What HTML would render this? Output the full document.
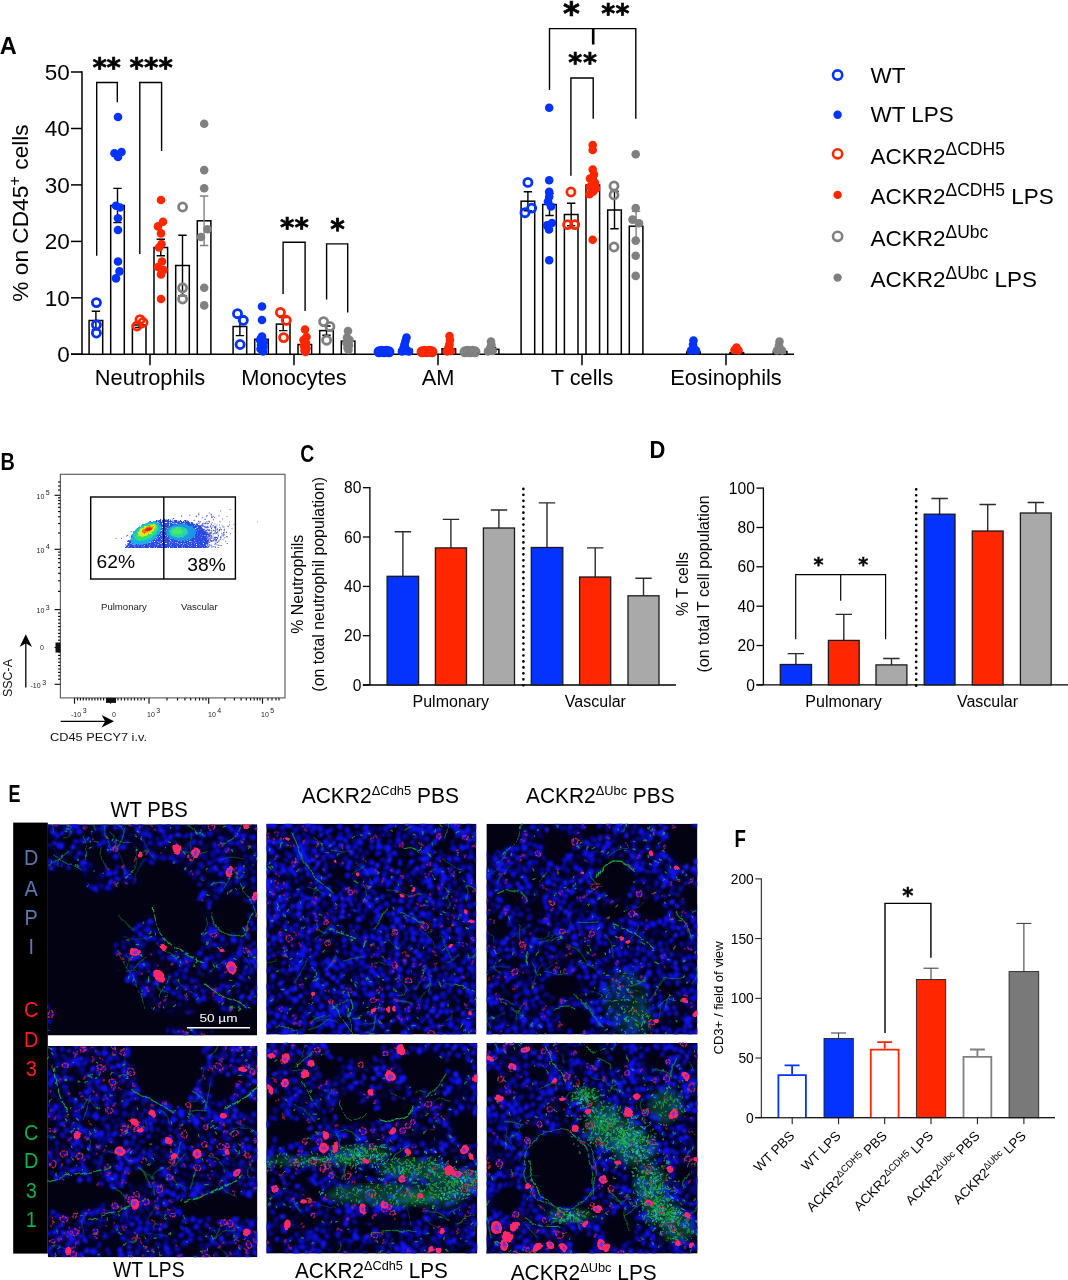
<!DOCTYPE html>
<html><head><meta charset="utf-8"><title>Figure</title>
<style>
html,body{margin:0;padding:0;background:#fff;}
svg{display:block;}
text{font-family:"Liberation Sans",Arial,Helvetica,sans-serif;}
.pl{font-weight:bold;}
.st{font-family:"DejaVu Sans Mono","Liberation Mono",monospace;font-weight:bold;}
</style></head><body>
<svg width="1068" height="1280" viewBox="0 0 1068 1280">
<rect width="1068" height="1280" fill="#fff"/>
<g id="panelA">
<text x="-0.3" y="54.3" class="pl" font-size="23.5">A</text>
<g stroke="#000" stroke-width="1.5" fill="none">
<path d="M82 71.2V354.2"/>
<path d="M71 354.2H794"/>
<path d="M71 354.2H82"/>
<path d="M71 297.8H82"/>
<path d="M71 241.4H82"/>
<path d="M71 184.9H82"/>
<path d="M71 128.5H82"/>
<path d="M71 72H82"/>
<path d="M150 354.2v11"/>
<path d="M294 354.2v11"/>
<path d="M438 354.2v11"/>
<path d="M582 354.2v11"/>
<path d="M726 354.2v11"/>
</g>
<text x="69.8" y="362.1" text-anchor="end" font-size="22.5">0</text>
<text x="69.8" y="305.7" text-anchor="end" font-size="22.5">10</text>
<text x="69.8" y="249.3" text-anchor="end" font-size="22.5">20</text>
<text x="69.8" y="192.8" text-anchor="end" font-size="22.5">30</text>
<text x="69.8" y="136.4" text-anchor="end" font-size="22.5">40</text>
<text x="69.8" y="79.9" text-anchor="end" font-size="22.5">50</text>
<text x="150" y="385.3" text-anchor="middle" font-size="21.8">Neutrophils</text>
<text x="294" y="385.3" text-anchor="middle" font-size="21.8">Monocytes</text>
<text x="438" y="385.3" text-anchor="middle" font-size="21.8">AM</text>
<text x="582" y="385.3" text-anchor="middle" font-size="21.8">T cells</text>
<text x="726" y="385.3" text-anchor="middle" font-size="21.8">Eosinophils</text>
<text transform="translate(27.8 213) rotate(-90)" text-anchor="middle" font-size="22.7">% on CD45<tspan dy="-8" font-size="16.5">+</tspan><tspan dy="8"> cells</tspan></text>
<rect x="89.1" y="320.5" width="13.6" height="33.8" fill="#fff" stroke="#000" stroke-width="1.5"/>
<path d="M95.9 311.2V329.8M91.7 311.2h8.4M91.7 329.8h8.4" stroke="#000" stroke-width="1.4" fill="none"/>
<rect x="110.7" y="205.5" width="13.6" height="148.8" fill="#fff" stroke="#000" stroke-width="1.5"/>
<path d="M117.5 188.4V222.6M113.3 188.4h8.4M113.3 222.6h8.4" stroke="#000" stroke-width="1.4" fill="none"/>
<rect x="132.4" y="325" width="13.6" height="29.2" fill="#fff" stroke="#000" stroke-width="1.5"/>
<path d="M139.2 322.5V327.5M135 322.5h8.4M135 327.5h8.4" stroke="#000" stroke-width="1.4" fill="none"/>
<rect x="154" y="247.5" width="13.6" height="106.8" fill="#fff" stroke="#000" stroke-width="1.5"/>
<path d="M160.8 239.3V255.7M156.6 239.3h8.4M156.6 255.7h8.4" stroke="#000" stroke-width="1.4" fill="none"/>
<rect x="175.7" y="265.5" width="13.6" height="88.8" fill="#fff" stroke="#000" stroke-width="1.5"/>
<path d="M182.5 235.3V295.7M178.3 235.3h8.4M178.3 295.7h8.4" stroke="#000" stroke-width="1.4" fill="none"/>
<rect x="197.3" y="220.8" width="13.6" height="133.5" fill="#fff" stroke="#000" stroke-width="1.5"/>
<path d="M204.1 196V245.5M199.9 196h8.4M199.9 245.5h8.4" stroke="#808080" stroke-width="1.4" fill="none"/>
<rect x="233.1" y="326.5" width="13.6" height="27.8" fill="#fff" stroke="#000" stroke-width="1.5"/>
<path d="M239.9 317.4V335.6M235.7 317.4h8.4M235.7 335.6h8.4" stroke="#000" stroke-width="1.4" fill="none"/>
<rect x="254.7" y="339.3" width="13.6" height="14.9" fill="#fff" stroke="#000" stroke-width="1.5"/>
<path d="M261.5 336.5V342.1M257.3 336.5h8.4M257.3 342.1h8.4" stroke="#000" stroke-width="1.4" fill="none"/>
<rect x="276.4" y="324.1" width="13.6" height="30.1" fill="#fff" stroke="#000" stroke-width="1.5"/>
<path d="M283.2 317.6V330.6M279 317.6h8.4M279 330.6h8.4" stroke="#000" stroke-width="1.4" fill="none"/>
<rect x="298" y="344.5" width="13.6" height="9.8" fill="#fff" stroke="#000" stroke-width="1.5"/>
<path d="M304.8 342.5V346.5M300.6 342.5h8.4M300.6 346.5h8.4" stroke="#000" stroke-width="1.4" fill="none"/>
<rect x="319.7" y="330.6" width="13.6" height="23.6" fill="#fff" stroke="#000" stroke-width="1.5"/>
<path d="M326.5 326V335.2M322.3 326h8.4M322.3 335.2h8.4" stroke="#000" stroke-width="1.4" fill="none"/>
<rect x="341.3" y="341.1" width="13.6" height="13.1" fill="#fff" stroke="#000" stroke-width="1.5"/>
<path d="M348.1 339V343.2M343.9 339h8.4M343.9 343.2h8.4" stroke="#000" stroke-width="1.4" fill="none"/>
<rect x="377.1" y="352.6" width="13.6" height="1.6" fill="#fff" stroke="#000" stroke-width="1.5"/>
<rect x="398.7" y="349.5" width="13.6" height="4.8" fill="#fff" stroke="#000" stroke-width="1.5"/>
<path d="M405.5 348V351M401.3 348h8.4M401.3 351h8.4" stroke="#000" stroke-width="1.4" fill="none"/>
<rect x="420.4" y="352.6" width="13.6" height="1.6" fill="#fff" stroke="#000" stroke-width="1.5"/>
<rect x="442" y="348.8" width="13.6" height="5.4" fill="#fff" stroke="#000" stroke-width="1.5"/>
<path d="M448.8 347V350.6M444.6 347h8.4M444.6 350.6h8.4" stroke="#000" stroke-width="1.4" fill="none"/>
<rect x="463.7" y="352.6" width="13.6" height="1.6" fill="#fff" stroke="#000" stroke-width="1.5"/>
<rect x="485.3" y="349.3" width="13.6" height="4.9" fill="#fff" stroke="#000" stroke-width="1.5"/>
<path d="M492.1 347.6V351M487.9 347.6h8.4M487.9 351h8.4" stroke="#000" stroke-width="1.4" fill="none"/>
<rect x="521.1" y="201.2" width="13.6" height="153" fill="#fff" stroke="#000" stroke-width="1.5"/>
<path d="M527.9 191.7V210.8M523.7 191.7h8.4M523.7 210.8h8.4" stroke="#000" stroke-width="1.4" fill="none"/>
<rect x="542.7" y="204.5" width="13.6" height="149.8" fill="#fff" stroke="#000" stroke-width="1.5"/>
<path d="M549.5 193.5V215.5M545.3 193.5h8.4M545.3 215.5h8.4" stroke="#000" stroke-width="1.4" fill="none"/>
<rect x="564.4" y="214.5" width="13.6" height="139.8" fill="#fff" stroke="#000" stroke-width="1.5"/>
<path d="M571.2 203.2V225.8M567 203.2h8.4M567 225.8h8.4" stroke="#000" stroke-width="1.4" fill="none"/>
<rect x="586" y="185" width="13.6" height="169.2" fill="#fff" stroke="#000" stroke-width="1.5"/>
<path d="M592.8 179V191M588.6 179h8.4M588.6 191h8.4" stroke="#000" stroke-width="1.4" fill="none"/>
<rect x="607.7" y="210" width="13.6" height="144.2" fill="#fff" stroke="#000" stroke-width="1.5"/>
<path d="M614.5 191.3V228.7M610.3 191.3h8.4M610.3 228.7h8.4" stroke="#000" stroke-width="1.4" fill="none"/>
<rect x="629.3" y="226.2" width="13.6" height="128" fill="#fff" stroke="#000" stroke-width="1.5"/>
<path d="M636.1 211.4V241.1M631.9 211.4h8.4M631.9 241.1h8.4" stroke="#808080" stroke-width="1.4" fill="none"/>
<rect x="686.7" y="352" width="13.6" height="2.2" fill="#fff" stroke="#000" stroke-width="1.5"/>
<rect x="730" y="352.6" width="13.6" height="1.6" fill="#fff" stroke="#000" stroke-width="1.5"/>
<rect x="773.3" y="351.5" width="13.6" height="2.8" fill="#fff" stroke="#000" stroke-width="1.5"/>
<circle cx="96.4" cy="302.6" r="4.05" fill="none" stroke="#0433ff" stroke-width="2.8"/>
<circle cx="96.4" cy="324.8" r="4.05" fill="none" stroke="#0433ff" stroke-width="2.8"/>
<circle cx="96.4" cy="333" r="4.05" fill="none" stroke="#0433ff" stroke-width="2.8"/>
<circle cx="118" cy="117" r="4.3" fill="#0433ff"/>
<circle cx="114.5" cy="153.3" r="4.3" fill="#0433ff"/>
<circle cx="121.5" cy="152" r="4.3" fill="#0433ff"/>
<circle cx="118" cy="157" r="4.3" fill="#0433ff"/>
<circle cx="116" cy="205.8" r="4.3" fill="#0433ff"/>
<circle cx="120" cy="207.5" r="4.3" fill="#0433ff"/>
<circle cx="118" cy="218.2" r="4.3" fill="#0433ff"/>
<circle cx="118" cy="230" r="4.3" fill="#0433ff"/>
<circle cx="118" cy="261.5" r="4.3" fill="#0433ff"/>
<circle cx="119.5" cy="271.4" r="4.3" fill="#0433ff"/>
<circle cx="116" cy="278.4" r="4.3" fill="#0433ff"/>
<circle cx="137" cy="326" r="4.05" fill="none" stroke="#ff2600" stroke-width="2.8"/>
<circle cx="140" cy="319.7" r="4.05" fill="none" stroke="#ff2600" stroke-width="2.8"/>
<circle cx="143" cy="322.5" r="4.05" fill="none" stroke="#ff2600" stroke-width="2.8"/>
<circle cx="161" cy="200" r="4.3" fill="#ff2600"/>
<circle cx="163" cy="221.7" r="4.3" fill="#ff2600"/>
<circle cx="158" cy="226.4" r="4.3" fill="#ff2600"/>
<circle cx="161" cy="233.4" r="4.3" fill="#ff2600"/>
<circle cx="161.5" cy="244" r="4.3" fill="#ff2600"/>
<circle cx="159" cy="247.5" r="4.3" fill="#ff2600"/>
<circle cx="162" cy="261.5" r="4.3" fill="#ff2600"/>
<circle cx="158" cy="267" r="4.3" fill="#ff2600"/>
<circle cx="163.5" cy="270" r="4.3" fill="#ff2600"/>
<circle cx="161" cy="274.4" r="4.3" fill="#ff2600"/>
<circle cx="161" cy="299" r="4.3" fill="#ff2600"/>
<circle cx="182.6" cy="207" r="4.05" fill="none" stroke="#808080" stroke-width="2.8"/>
<circle cx="182.6" cy="287.8" r="4.05" fill="none" stroke="#808080" stroke-width="2.8"/>
<circle cx="182.6" cy="299" r="4.05" fill="none" stroke="#808080" stroke-width="2.8"/>
<circle cx="204.2" cy="123.7" r="4.3" fill="#808080"/>
<circle cx="204.2" cy="170.1" r="4.3" fill="#808080"/>
<circle cx="204.2" cy="188.2" r="4.3" fill="#808080"/>
<circle cx="207.5" cy="229.2" r="4.3" fill="#808080"/>
<circle cx="201" cy="237" r="4.3" fill="#808080"/>
<circle cx="204.2" cy="287.8" r="4.3" fill="#808080"/>
<circle cx="204.2" cy="305.4" r="4.3" fill="#808080"/>
<circle cx="237.5" cy="313.7" r="4.05" fill="none" stroke="#0433ff" stroke-width="2.8"/>
<circle cx="243.3" cy="320.3" r="4.05" fill="none" stroke="#0433ff" stroke-width="2.8"/>
<circle cx="240.1" cy="344.5" r="4.05" fill="none" stroke="#0433ff" stroke-width="2.8"/>
<circle cx="262" cy="306.5" r="4.3" fill="#0433ff"/>
<circle cx="262" cy="320" r="4.3" fill="#0433ff"/>
<circle cx="262" cy="336.5" r="4.3" fill="#0433ff"/>
<circle cx="260" cy="340" r="4.3" fill="#0433ff"/>
<circle cx="264" cy="342" r="4.3" fill="#0433ff"/>
<circle cx="261" cy="345" r="4.3" fill="#0433ff"/>
<circle cx="263.5" cy="347" r="4.3" fill="#0433ff"/>
<circle cx="260.5" cy="349" r="4.3" fill="#0433ff"/>
<circle cx="263" cy="351.5" r="4.3" fill="#0433ff"/>
<circle cx="262" cy="338.5" r="4.3" fill="#0433ff"/>
<circle cx="280.4" cy="312.4" r="4.05" fill="none" stroke="#ff2600" stroke-width="2.8"/>
<circle cx="286.3" cy="320.3" r="4.05" fill="none" stroke="#ff2600" stroke-width="2.8"/>
<circle cx="283.6" cy="337.6" r="4.05" fill="none" stroke="#ff2600" stroke-width="2.8"/>
<circle cx="305" cy="329.5" r="4.3" fill="#ff2600"/>
<circle cx="306.5" cy="337" r="4.3" fill="#ff2600"/>
<circle cx="303.5" cy="340" r="4.3" fill="#ff2600"/>
<circle cx="306" cy="343" r="4.3" fill="#ff2600"/>
<circle cx="304" cy="346" r="4.3" fill="#ff2600"/>
<circle cx="306.5" cy="348.5" r="4.3" fill="#ff2600"/>
<circle cx="304.5" cy="350.5" r="4.3" fill="#ff2600"/>
<circle cx="305.5" cy="352" r="4.3" fill="#ff2600"/>
<circle cx="323.6" cy="321.6" r="4.05" fill="none" stroke="#808080" stroke-width="2.8"/>
<circle cx="329.9" cy="326.5" r="4.05" fill="none" stroke="#808080" stroke-width="2.8"/>
<circle cx="326.6" cy="340.2" r="4.05" fill="none" stroke="#808080" stroke-width="2.8"/>
<circle cx="348" cy="331" r="4.3" fill="#808080"/>
<circle cx="347" cy="337.5" r="4.3" fill="#808080"/>
<circle cx="349.5" cy="340" r="4.3" fill="#808080"/>
<circle cx="346.5" cy="343" r="4.3" fill="#808080"/>
<circle cx="349" cy="345.5" r="4.3" fill="#808080"/>
<circle cx="347.5" cy="348" r="4.3" fill="#808080"/>
<circle cx="348.5" cy="350" r="4.3" fill="#808080"/>
<circle cx="379" cy="351.8" r="4.05" fill="none" stroke="#0433ff" stroke-width="2.8"/>
<circle cx="381.5" cy="351.3" r="4.05" fill="none" stroke="#0433ff" stroke-width="2.8"/>
<circle cx="384" cy="351.8" r="4.05" fill="none" stroke="#0433ff" stroke-width="2.8"/>
<circle cx="386.5" cy="351.2" r="4.05" fill="none" stroke="#0433ff" stroke-width="2.8"/>
<circle cx="389" cy="351.8" r="4.05" fill="none" stroke="#0433ff" stroke-width="2.8"/>
<circle cx="406.5" cy="337.5" r="4.3" fill="#0433ff"/>
<circle cx="405.5" cy="341" r="4.3" fill="#0433ff"/>
<circle cx="404.5" cy="344.5" r="4.3" fill="#0433ff"/>
<circle cx="403.5" cy="348" r="4.3" fill="#0433ff"/>
<circle cx="402" cy="351.5" r="4.3" fill="#0433ff"/>
<circle cx="406" cy="351" r="4.3" fill="#0433ff"/>
<circle cx="409" cy="351.5" r="4.3" fill="#0433ff"/>
<circle cx="405" cy="347" r="4.3" fill="#0433ff"/>
<circle cx="422" cy="351.8" r="4.05" fill="none" stroke="#ff2600" stroke-width="2.8"/>
<circle cx="424.5" cy="351.3" r="4.05" fill="none" stroke="#ff2600" stroke-width="2.8"/>
<circle cx="427" cy="351.8" r="4.05" fill="none" stroke="#ff2600" stroke-width="2.8"/>
<circle cx="429.5" cy="351.2" r="4.05" fill="none" stroke="#ff2600" stroke-width="2.8"/>
<circle cx="432" cy="351.8" r="4.05" fill="none" stroke="#ff2600" stroke-width="2.8"/>
<circle cx="449.5" cy="336" r="4.3" fill="#ff2600"/>
<circle cx="450" cy="340" r="4.3" fill="#ff2600"/>
<circle cx="449.5" cy="344" r="4.3" fill="#ff2600"/>
<circle cx="448.5" cy="348" r="4.3" fill="#ff2600"/>
<circle cx="447" cy="351.5" r="4.3" fill="#ff2600"/>
<circle cx="451" cy="351" r="4.3" fill="#ff2600"/>
<circle cx="449" cy="346" r="4.3" fill="#ff2600"/>
<circle cx="465" cy="351.8" r="4.05" fill="none" stroke="#808080" stroke-width="2.8"/>
<circle cx="467.5" cy="351.3" r="4.05" fill="none" stroke="#808080" stroke-width="2.8"/>
<circle cx="470" cy="351.8" r="4.05" fill="none" stroke="#808080" stroke-width="2.8"/>
<circle cx="472.5" cy="351.2" r="4.05" fill="none" stroke="#808080" stroke-width="2.8"/>
<circle cx="475" cy="351.8" r="4.05" fill="none" stroke="#808080" stroke-width="2.8"/>
<circle cx="491" cy="341.5" r="4.3" fill="#808080"/>
<circle cx="491.5" cy="345" r="4.3" fill="#808080"/>
<circle cx="490" cy="348.5" r="4.3" fill="#808080"/>
<circle cx="488" cy="351.5" r="4.3" fill="#808080"/>
<circle cx="492.5" cy="351" r="4.3" fill="#808080"/>
<circle cx="491" cy="347" r="4.3" fill="#808080"/>
<circle cx="527.9" cy="182.4" r="4.05" fill="none" stroke="#0433ff" stroke-width="2.8"/>
<circle cx="531.7" cy="208.1" r="4.05" fill="none" stroke="#0433ff" stroke-width="2.8"/>
<circle cx="525" cy="212.7" r="4.05" fill="none" stroke="#0433ff" stroke-width="2.8"/>
<circle cx="549.2" cy="107.7" r="4.3" fill="#0433ff"/>
<circle cx="549.2" cy="180.3" r="4.3" fill="#0433ff"/>
<circle cx="549.2" cy="191.7" r="4.3" fill="#0433ff"/>
<circle cx="549.2" cy="196.7" r="4.3" fill="#0433ff"/>
<circle cx="548" cy="201.6" r="4.3" fill="#0433ff"/>
<circle cx="551" cy="206.5" r="4.3" fill="#0433ff"/>
<circle cx="547" cy="225.4" r="4.3" fill="#0433ff"/>
<circle cx="552" cy="223" r="4.3" fill="#0433ff"/>
<circle cx="549" cy="229.5" r="4.3" fill="#0433ff"/>
<circle cx="549.2" cy="260.2" r="4.3" fill="#0433ff"/>
<circle cx="570.9" cy="192" r="4.05" fill="none" stroke="#ff2600" stroke-width="2.8"/>
<circle cx="567.6" cy="224.6" r="4.05" fill="none" stroke="#ff2600" stroke-width="2.8"/>
<circle cx="574.7" cy="224.6" r="4.05" fill="none" stroke="#ff2600" stroke-width="2.8"/>
<circle cx="592.7" cy="145" r="4.3" fill="#ff2600"/>
<circle cx="592.7" cy="150" r="4.3" fill="#ff2600"/>
<circle cx="592.7" cy="169.6" r="4.3" fill="#ff2600"/>
<circle cx="594" cy="174.5" r="4.3" fill="#ff2600"/>
<circle cx="590" cy="178.6" r="4.3" fill="#ff2600"/>
<circle cx="595" cy="182.7" r="4.3" fill="#ff2600"/>
<circle cx="590" cy="186.8" r="4.3" fill="#ff2600"/>
<circle cx="596" cy="188.5" r="4.3" fill="#ff2600"/>
<circle cx="589.5" cy="194.2" r="4.3" fill="#ff2600"/>
<circle cx="593" cy="191.7" r="4.3" fill="#ff2600"/>
<circle cx="592.7" cy="239.7" r="4.3" fill="#ff2600"/>
<circle cx="614" cy="186" r="4.05" fill="none" stroke="#808080" stroke-width="2.8"/>
<circle cx="614" cy="195" r="4.05" fill="none" stroke="#808080" stroke-width="2.8"/>
<circle cx="614" cy="247" r="4.05" fill="none" stroke="#808080" stroke-width="2.8"/>
<circle cx="635.7" cy="154.3" r="4.3" fill="#808080"/>
<circle cx="635.7" cy="208.1" r="4.3" fill="#808080"/>
<circle cx="632.5" cy="219.6" r="4.3" fill="#808080"/>
<circle cx="639" cy="223.2" r="4.3" fill="#808080"/>
<circle cx="635.7" cy="240.6" r="4.3" fill="#808080"/>
<circle cx="635.7" cy="255.7" r="4.3" fill="#808080"/>
<circle cx="635.7" cy="275.9" r="4.3" fill="#808080"/>
<circle cx="693.5" cy="340.5" r="4.3" fill="#0433ff"/>
<circle cx="693" cy="344.5" r="4.3" fill="#0433ff"/>
<circle cx="691" cy="350.5" r="4.3" fill="#0433ff"/>
<circle cx="696" cy="350.5" r="4.3" fill="#0433ff"/>
<circle cx="693.5" cy="347.5" r="4.3" fill="#0433ff"/>
<circle cx="734.5" cy="350" r="4.3" fill="#ff2600"/>
<circle cx="738.5" cy="350.5" r="4.3" fill="#ff2600"/>
<circle cx="736.5" cy="347.5" r="4.3" fill="#ff2600"/>
<circle cx="779.5" cy="341.5" r="4.3" fill="#808080"/>
<circle cx="779" cy="345.5" r="4.3" fill="#808080"/>
<circle cx="777" cy="350.5" r="4.3" fill="#808080"/>
<circle cx="782" cy="350.5" r="4.3" fill="#808080"/>
<circle cx="779.5" cy="348" r="4.3" fill="#808080"/>
<g stroke="#000" stroke-width="1.4" fill="none">
<path d="M96.7 255.7V82.5H117.3V102.2"/>
<path d="M139.8 254V82.5H161.6V151"/>
<path d="M283.1 294V242.3H305.1V311"/>
<path d="M326.6 299.5V243.9H347.7V312.5"/>
<path d="M549.5 90V28.6H635.8V118.75"/>
<path d="M570.9 175.75V78H593.2V118.75"/>
<path d="M593.2 28.6V44.5" stroke-width="2.6"/>
</g>
<text x="91.5" y="76.9" class="st" font-size="27.2" stroke="#000" stroke-width="0.7">*</text>
<text x="105.6" y="76.9" class="st" font-size="27.2" stroke="#000" stroke-width="0.7">*</text>
<text x="128.5" y="76.9" class="st" font-size="27.2" stroke="#000" stroke-width="0.7">*</text>
<text x="143" y="76.9" class="st" font-size="27.2" stroke="#000" stroke-width="0.7">*</text>
<text x="157.5" y="76.9" class="st" font-size="27.2" stroke="#000" stroke-width="0.7">*</text>
<text x="279" y="236.7" class="st" font-size="27.2" stroke="#000" stroke-width="0.7">*</text>
<text x="293.4" y="236.7" class="st" font-size="27.2" stroke="#000" stroke-width="0.7">*</text>
<text x="329.3" y="238.8" class="st" font-size="27.6" stroke="#000" stroke-width="0.7">*</text>
<text x="561.7" y="24.3" class="st" font-size="32.2" stroke="#000" stroke-width="0.7">*</text>
<text x="600.2" y="22.8" class="st" font-size="26.5" stroke="#000" stroke-width="0.7">*</text>
<text x="614.6" y="22.8" class="st" font-size="26.5" stroke="#000" stroke-width="0.7">*</text>
<text x="567.2" y="72" class="st" font-size="26.5" stroke="#000" stroke-width="0.7">*</text>
<text x="581.9" y="72" class="st" font-size="26.5" stroke="#000" stroke-width="0.7">*</text>
</g>
<g id="legend" font-size="22.5">
<circle cx="837.6" cy="75" r="4.6" fill="none" stroke="#0433ff" stroke-width="2.6"/>
<text x="870.5" y="83.1">WT</text>
<circle cx="837.6" cy="114.7" r="4.2" fill="#0433ff"/>
<text x="870.5" y="122.2">WT LPS</text>
<circle cx="837.6" cy="153.8" r="4.6" fill="none" stroke="#ff2600" stroke-width="2.6"/>
<text x="870.5" y="163.6">ACKR2<tspan dy="-8.3" font-size="17.5">ΔCDH5</tspan></text>
<circle cx="837.6" cy="194.9" r="4.2" fill="#ff2600"/>
<text x="870.5" y="204.3">ACKR2<tspan dy="-8.3" font-size="17.5">ΔCDH5</tspan><tspan dy="8.3"> LPS</tspan></text>
<circle cx="837.6" cy="236.3" r="4.6" fill="none" stroke="#808080" stroke-width="2.6"/>
<text x="870.5" y="246">ACKR2<tspan dy="-8.3" font-size="17.5">ΔUbc</tspan></text>
<circle cx="837.6" cy="277.6" r="4.2" fill="#808080"/>
<text x="870.5" y="287.4">ACKR2<tspan dy="-8.3" font-size="17.5">ΔUbc</tspan><tspan dy="8.3"> LPS</tspan></text>
</g>
<g id="panelB">
<text transform="translate(0.5 470) scale(0.83 1)" class="pl" font-size="23.9">B</text>
<rect x="60.4" y="474.3" width="224.6" height="223.6" fill="#fff" stroke="#555" stroke-width="1.1"/>
<g>
<clipPath id="cpB"><rect x="100" y="500" width="140" height="48"/></clipPath>
<g clip-path="url(#cpB)">
<path d="M197.4 538.8h1.1M197.7 532.6h1.1M190.7 533.4h1.1M211.1 538.2h1.1M210.4 536.9h1.1M203.9 536.4h1.1M183.3 541.4h1.1M205.1 538.7h1.1M183.1 521.9h1.1M191.1 531.5h1.1M203.1 534.7h1.1M205.2 530.2h1.1M203.1 538h1.1M193.4 547.9h1.1M205.6 544h1.1M193.8 529.5h1.1M196.6 534.2h1.1M206.3 536.9h1.1M195.5 527.8h1.1M194.8 544.2h1.1M191.9 536.8h1.1M204.3 523.8h1.1M200.5 544.8h1.1M179.9 532.6h1.1M198.9 528.9h1.1M205 534.5h1.1M185.4 541.2h1.1M206.7 542.1h1.1M214.4 537.7h1.1M201.2 525.3h1.1M206.2 530.4h1.1M195.5 525.5h1.1M190.3 531h1.1M212.9 519.8h1.1M185.4 536.8h1.1M214.4 539.3h1.1M181 516.1h1.1M203.6 529.5h1.1M188.8 542.3h1.1M211 536.2h1.1M202.5 538.3h1.1M215.9 539.6h1.1M205.2 539.1h1.1M184.3 544.6h1.1M209.6 539h1.1M180.3 530.2h1.1M208.4 521.4h1.1M198.2 542.6h1.1M186.9 547.1h1.1M205.5 533.9h1.1M203.2 539.9h1.1M201.2 543.6h1.1M193.4 531.9h1.1M210.4 535.2h1.1M191.2 542.1h1.1M214.7 531.7h1.1M186.2 534h1.1M198.5 532.8h1.1M214 527.3h1.1M212.6 525.5h1.1M192.1 539.7h1.1M211.3 541.4h1.1M203.5 536.1h1.1M201.5 539.3h1.1M198.2 537.1h1.1M205.7 535h1.1M207.6 539.2h1.1M220.1 537.4h1.1M195.7 532.2h1.1M199.9 541.9h1.1M196.6 537.9h1.1M218.4 515.8h1.1M188.8 536.8h1.1M204 536.8h1.1M195.7 539.9h1.1M202.8 531.1h1.1M224.3 537.7h1.1M194.5 534.3h1.1M197.7 534.5h1.1M172.7 531.3h1.1M210.1 526.2h1.1M199.3 542.2h1.1M208.6 546.2h1.1M183 532.3h1.1M196.6 539.7h1.1M210.9 514.9h1.1M210.9 524.1h1.1M206.8 523.8h1.1M201.8 544h1.1M198.5 536.4h1.1M208 536.1h1.1M199.1 546.5h1.1M210.5 532.8h1.1M227.5 526.4h1.1M209.1 533h1.1M201.3 540.3h1.1M202.2 539.8h1.1M184.7 523.7h1.1M206.1 527.8h1.1M189.7 524h1.1M212.7 540.6h1.1M214.7 528h1.1M200 526.4h1.1M207.7 546.9h1.1M191.1 546.7h1.1M209.9 533.7h1.1M180.3 545.5h1.1M199 530.5h1.1M204 538.1h1.1M215 527.3h1.1M211.4 546.2h1.1M214.5 533.6h1.1M192.6 542.6h1.1M201.2 535.9h1.1M214.2 533h1.1M177 532.1h1.1M181.5 541.1h1.1M203.2 530.4h1.1M199.9 541.2h1.1M200.8 544.9h1.1M199.4 542.8h1.1M214.9 547.1h1.1M193.3 541.6h1.1M181.2 526.9h1.1M180.4 543h1.1M187.7 534.9h1.1M198.1 534.8h1.1M194.1 536.8h1.1M217.9 535.3h1.1M205.3 542.5h1.1M198 525.6h1.1M194.4 543.1h1.1M183.5 530.5h1.1M210.1 540.9h1.1M200.1 541h1.1M201.7 526.2h1.1M184.4 530.2h1.1M209.2 530.8h1.1M191 529.2h1.1M184.7 534.1h1.1M188.2 537.7h1.1M176.4 537.5h1.1M193.6 520.4h1.1M207.2 532.9h1.1M177.7 528.4h1.1M202.9 531.6h1.1M207.8 540.6h1.1M206.7 537.4h1.1M213.3 539.9h1.1M204.5 519.4h1.1M209 544.8h1.1M197 531.5h1.1M219.4 521.8h1.1M204.7 547.4h1.1M206.9 548.4h1.1M205.6 541.8h1.1M190.9 534.3h1.1M202.9 541.2h1.1M199.7 533.5h1.1M189.8 532.3h1.1M208.9 535.8h1.1M191.5 528.7h1.1M226.7 543.5h1.1M206.4 515.6h1.1M206.2 538.6h1.1M216.8 538.2h1.1M199.3 538.9h1.1M180.6 542.7h1.1M203.2 529.7h1.1M213.3 546.8h1.1M193.3 537.2h1.1M201.8 532h1.1M190.3 547.3h1.1M188.1 524.9h1.1M217 542.4h1.1M218.2 541.1h1.1M191.3 537h1.1M178.4 529.4h1.1M199.4 538.9h1.1M192.7 534.1h1.1M204.6 537.8h1.1M206.4 536.6h1.1M196.8 540.9h1.1M200.5 528.8h1.1M193.7 535h1.1M198.9 536.2h1.1M200 536.3h1.1M198.7 525.6h1.1M204.2 542.9h1.1M204.3 533.6h1.1M204.5 527.8h1.1M181 535.4h1.1M190.7 540.5h1.1M189.2 515.3h1.1M189.6 546.8h1.1M196.2 524.7h1.1M192.4 538.9h1.1M205 536.3h1.1M214.8 540.3h1.1M199.8 539.5h1.1M216.5 542.3h1.1M210.2 526.9h1.1M198.5 540.5h1.1M197 543h1.1M206 541.8h1.1M197.9 547h1.1M197.8 535.7h1.1M226 532.4h1.1M208.7 542.4h1.1M200.1 526.2h1.1M201.9 537.7h1.1M211.3 540.9h1.1M200.2 541.4h1.1M205.4 536.5h1.1M200.6 533.2h1.1M206.9 527.1h1.1M193.7 535h1.1M185.4 531.7h1.1M179.9 529.9h1.1M205.7 539.2h1.1M199.5 533.3h1.1M185.8 547.9h1.1M210.9 528.4h1.1M198.1 521.4h1.1M207.8 542h1.1M181 534.6h1.1M206.3 521.8h1.1M181.7 527h1.1M193.7 524.5h1.1M200.3 536.9h1.1M206.3 540.3h1.1M215 543.7h1.1M186.9 531.2h1.1M189.4 526.9h1.1M199.2 535h1.1M204.9 523.1h1.1M187.6 534.8h1.1M198 532.7h1.1M199.4 529.3h1.1M207 537.7h1.1M199.1 530h1.1M198.3 514.6h1.1M190.2 535.3h1.1M185 536.5h1.1M201.5 524.7h1.1M197.5 532.6h1.1M204.6 539.6h1.1M199.6 528.6h1.1M198.6 534.5h1.1M207.3 537.2h1.1M192.8 524.8h1.1M196.3 529.4h1.1M188.9 534.1h1.1M195.1 535.8h1.1M205.2 531.9h1.1M223.2 532.6h1.1M211 535.9h1.1M211.2 517.2h1.1M192.5 536.9h1.1M206 548.1h1.1M212.8 540.7h1.1M209.5 538.8h1.1M198.4 538.8h1.1M189.2 543.9h1.1M189.8 536.9h1.1M221.2 533.3h1.1M200.2 543.7h1.1M200.3 528.9h1.1M202.6 539.4h1.1M207.1 529.2h1.1M217.5 547.5h1.1M200.2 537h1.1M195.7 545.6h1.1M193 540.1h1.1M195.2 529.8h1.1M207.2 545h1.1M199.9 529.9h1.1M208.1 534.6h1.1M203.1 546.4h1.1M211.3 531.1h1.1M222.8 535h1.1M207.9 530.1h1.1M199.6 521.9h1.1M217.9 545.2h1.1M187.8 523.7h1.1M183.8 543.8h1.1M195.4 534.5h1.1M196.9 534.1h1.1M189.1 535.2h1.1M185.6 534.5h1.1M203.1 538.5h1.1M197.7 528.2h1.1M201.6 531.4h1.1M215.7 540.8h1.1M198.8 531.5h1.1M193 528h1.1M196.5 537.2h1.1M205.2 539.3h1.1M221 529.7h1.1M200.1 546.3h1.1M194.8 536.3h1.1M201.5 538.1h1.1M197.6 537.7h1.1M200.5 540.8h1.1M181.1 528.4h1.1M200 527.3h1.1M189.6 539.7h1.1M193.5 539.8h1.1M207.5 537.3h1.1M205.1 534.2h1.1M185.9 534.8h1.1M204.5 531h1.1M199 540.6h1.1M191.2 539.8h1.1M218.6 530.8h1.1M201.5 533.9h1.1M215.4 537.4h1.1M209 529.8h1.1M199.8 534.9h1.1M182.2 545.8h1.1M209 521.9h1.1M207.4 534h1.1M204.5 537.7h1.1M185 533.4h1.1M214.9 530.7h1.1M189.8 524.8h1.1M187.8 537.5h1.1M216.9 538.2h1.1M202.5 547.9h1.1M193.3 539h1.1M205.5 527.4h1.1M188.3 537.2h1.1M202.5 525.2h1.1M198 530.9h1.1M204.6 534.1h1.1M199.1 532.3h1.1M210.5 545.4h1.1M196.3 541.3h1.1M192.4 535.5h1.1M207.5 546.4h1.1M196.2 534.4h1.1M202 523.8h1.1M200.2 529.9h1.1M203.7 526.5h1.1M180.2 535.3h1.1M202.6 530.9h1.1M208.9 533h1.1M193.9 538.6h1.1M184.3 529.9h1.1M199.8 541.4h1.1M198.4 537.3h1.1M193.4 537.3h1.1M216.6 529.9h1.1M223.7 530.2h1.1M200.2 536.3h1.1M210.2 525.7h1.1M179 539.5h1.1M208 539.7h1.1M226.3 536.5h1.1M202.5 542h1.1M203.7 547.5h1.1M187.6 532.2h1.1M165.6 541.1h1.1M196.3 541.9h1.1M221.5 535h1.1M197.5 531.3h1.1M191.6 530.3h1.1M206.4 535.3h1.1M200.7 533.7h1.1M209.1 538.7h1.1M198.6 540h1.1M198.5 526.4h1.1M214.6 538.5h1.1M190.4 543.1h1.1M203.4 523.3h1.1M216.1 537.5h1.1M208.9 536.5h1.1M198.5 523.4h1.1M209.7 535.2h1.1M197.1 537.6h1.1M200.8 540.1h1.1M196.3 534.7h1.1M178.6 531.8h1.1M206.8 545h1.1M196.4 534.1h1.1M215.8 532.6h1.1M207.3 547.6h1.1M200.4 544.2h1.1M192.9 536.6h1.1M199.2 535.9h1.1M211.3 547.7h1.1M194.2 538.7h1.1M189.4 538.7h1.1M205.7 532.9h1.1M205.3 523.4h1.1M207.6 523.4h1.1M193 530.8h1.1M196 541.4h1.1M200.8 532h1.1M205.4 546.9h1.1M200.1 537.7h1.1M212.4 537h1.1M187.2 545.8h1.1M180.2 534.7h1.1M204.2 542.2h1.1M206.7 533h1.1M189.5 535.8h1.1M210.3 526.8h1.1M189.7 534.8h1.1M180.6 533h1.1M195.6 538.4h1.1M193 528.4h1.1M196.1 534.6h1.1M193.4 535.1h1.1M207.5 543.9h1.1M217 529.1h1.1M195.8 516.4h1.1M219 529.6h1.1M199.7 538.9h1.1M186.4 538.5h1.1" stroke="#2838d8" stroke-width="1.1" opacity="0.85" fill="none"/>
<path d="M212.8 516.6h1.0M215.3 543.8h1.0M198.1 540.3h1.0M214.7 537.3h1.0M216.5 544.7h1.0M211.2 540.9h1.0M209.7 539.6h1.0M206.5 532h1.0M226.8 537h1.0M211.7 522.7h1.0M206.7 534.7h1.0M220.5 536.8h1.0M217.2 532.6h1.0M223.8 529.5h1.0M208.6 541h1.0M213.5 530.5h1.0M208.4 530.7h1.0M218 536.2h1.0M203.3 536.8h1.0M214.4 524h1.0M219.2 530.5h1.0M210.3 540.2h1.0M223.6 526.8h1.0M216.5 525.1h1.0M231.5 528.6h1.0M222.6 527.2h1.0M219.5 545.5h1.0M209.5 537.5h1.0M212.3 527h1.0M230.2 533.7h1.0M199.8 540.7h1.0M199.2 543.4h1.0M208.4 534.3h1.0M223.1 534.1h1.0M201.9 517.7h1.0M222.5 539.7h1.0M206.5 540.7h1.0M217 538.8h1.0M194.9 530.3h1.0M220.2 539.6h1.0M220.1 510.9h1.0M214.4 537.4h1.0M233.4 524.4h1.0M210.4 533.3h1.0M220.1 529h1.0M222.2 525.9h1.0M215.1 528.3h1.0M214.3 526.8h1.0M200.2 542.8h1.0M215.4 528h1.0M214.6 541.9h1.0M205.2 532h1.0M217.3 537.7h1.0M210.3 514h1.0M222.9 536h1.0M213.1 530.5h1.0M215.1 529.2h1.0M204.8 526.3h1.0M208.2 527.5h1.0M203.7 538.7h1.0M202.5 538.9h1.0M204.9 536.2h1.0M224 534.8h1.0M207.2 533.4h1.0M214.2 517.4h1.0M208.1 534.5h1.0M209.2 533.7h1.0M218.9 539.9h1.0M220.2 538.3h1.0M210.7 532.8h1.0M210.8 530.2h1.0M211.6 517.5h1.0M210.3 532.8h1.0M205.2 532.8h1.0M217.1 531.5h1.0M229.6 509.5h1.0M211.3 516.6h1.0M220.8 545.5h1.0M214 537.7h1.0M210.6 538h1.0M195.1 540.7h1.0M216 533.2h1.0M208.3 538.7h1.0M209.1 535h1.0M208.9 512.8h1.0M212.7 534.8h1.0M219 525.1h1.0M212.7 538.6h1.0M214.2 544.2h1.0M228.9 524.8h1.0M197.6 540.7h1.0M225.2 541.3h1.0M219.5 527.4h1.0M207.3 541h1.0M205.7 516.7h1.0M205 546.2h1.0M207.5 526.4h1.0M214.9 526.3h1.0M223.5 532.3h1.0M204.3 544.8h1.0M208.3 535h1.0M212.9 530.2h1.0M215.6 526.8h1.0M198.2 513.1h1.0M202.9 526.2h1.0M212.8 533.5h1.0M217.4 534.1h1.0M206.7 526.6h1.0M196 531.5h1.0M216.9 537.8h1.0" stroke="#3040d8" stroke-width="1.0" opacity="0.75" fill="none"/>
<path d="M138.5 537.6h1.0M147.4 534h1.0M147.5 537.9h1.0M145.4 544h1.0M134.4 538.6h1.0M131.3 537.3h1.0M157.4 540.5h1.0M141.8 540.9h1.0M151.6 537.2h1.0M145.9 526.1h1.0M136.3 543.1h1.0M151.6 532.4h1.0M132.2 539.8h1.0M132.3 536.3h1.0M150.1 528.2h1.0M146.4 547.1h1.0M140.9 533.3h1.0M147.9 544.8h1.0M148.5 542h1.0M142.3 540.3h1.0M139.6 541.1h1.0M146.2 524.9h1.0M140.2 539.5h1.0M134.6 538.8h1.0M152 545.1h1.0M145.9 537h1.0M133.3 548.4h1.0M136.5 532.3h1.0M136.4 532.5h1.0M141.9 540.1h1.0M141.1 539.3h1.0M137.4 547.7h1.0M125.1 544.9h1.0M131.1 536h1.0M138 541.1h1.0M130.3 542.4h1.0M153.2 535.4h1.0M139.2 539.3h1.0M138.9 538.3h1.0M145.5 534.4h1.0M120.9 548.3h1.0M134.8 545.3h1.0M135.6 541.4h1.0M154.2 523.1h1.0M127.1 535.4h1.0M115.7 538.4h1.0M141 533.1h1.0M121 538.3h1.0M142.6 531.3h1.0M138.1 541.3h1.0M156.3 542.4h1.0M148.6 534.3h1.0M146.6 546.7h1.0M150.4 530.2h1.0M144.4 537.5h1.0M139 535.1h1.0M128 540.9h1.0M131.3 547.9h1.0M134.5 547.4h1.0M130.2 547.5h1.0M152.8 522.6h1.0M145.4 537.9h1.0M142.1 538h1.0M144 525.6h1.0M126.2 536h1.0M133.9 537.2h1.0M143.7 537.8h1.0M138.3 534.3h1.0M139.2 544.9h1.0M146.3 535.2h1.0M141.9 547.6h1.0M137.2 544h1.0M148.3 531.6h1.0M143.3 528.6h1.0M148.6 534.7h1.0M129.4 548.4h1.0M136.6 547.7h1.0M139.5 540.2h1.0M138.1 540.8h1.0M137.6 543.9h1.0M140.7 539.1h1.0M121.6 548.5h1.0M126.2 546.2h1.0M146.8 541.6h1.0M135.9 548.3h1.0M158.5 526.9h1.0M144.3 533.1h1.0M134.3 547.4h1.0M154.6 535.9h1.0M130.7 531.7h1.0M132.9 537.3h1.0M135.2 544.6h1.0M141.8 535.2h1.0M140.9 536.5h1.0M143.8 541h1.0M145.6 530.2h1.0M132.2 548.4h1.0M144 524.6h1.0M137.5 539.6h1.0M127.1 541.5h1.0M148.8 540.6h1.0M150.1 526.6h1.0M130.4 546.8h1.0M148 535h1.0M132 547.7h1.0M147.9 537.5h1.0M137 541.7h1.0M144.6 531.6h1.0M126.4 547.7h1.0M143.8 536h1.0M145.3 531.1h1.0M138.5 536.7h1.0M149.1 543.9h1.0M143.9 546.7h1.0M147.9 537.7h1.0M153.5 529.4h1.0M136.1 532.9h1.0M147.6 543h1.0M145.4 537.9h1.0M138.9 539.8h1.0" stroke="#2838d8" stroke-width="1.0" opacity="0.8" fill="none"/>
<defs><filter id="fb" x="-20%" y="-20%" width="140%" height="140%" color-interpolation-filters="sRGB"><feTurbulence type="fractalNoise" baseFrequency="0.45" numOctaves="2" seed="4" result="t"/><feDisplacementMap in="SourceGraphic" in2="t" scale="3.2" xChannelSelector="R" yChannelSelector="G" result="d"/><feGaussianBlur in="d" stdDeviation="0.55"/></filter></defs>
<defs><filter id="fbs" x="-20%" y="-20%" width="140%" height="140%" color-interpolation-filters="sRGB"><feTurbulence type="fractalNoise" baseFrequency="0.3" numOctaves="2" seed="9" result="t"/><feDisplacementMap in="SourceGraphic" in2="t" scale="6" xChannelSelector="R" yChannelSelector="G" result="d"/><feTurbulence type="fractalNoise" baseFrequency="0.85" numOctaves="1" seed="2" result="t2"/><feColorMatrix in="t2" type="matrix" values="0 0 0 0 0  0 0 0 0 0  0 0 0 0 0  5 0 0 0 -1.3" result="a"/><feComposite in="d" in2="a" operator="in"/></filter></defs>
<path d="M124 549 L129 541 Q138 527 152 521.5 Q166 518 180 521 Q194 521 202 526 Q209 532 207 549Z" fill="#2848e6" filter="url(#fbs)"/>
<g filter="url(#fb)">
<ellipse cx="146" cy="533.5" rx="17" ry="9.5" transform="rotate(-30 146 533.5)" fill="#18b0e8"/>
<ellipse cx="146.5" cy="532" rx="13" ry="7" transform="rotate(-30 146.5 532)" fill="#30e070"/>
<ellipse cx="147" cy="530.5" rx="9.5" ry="4.6" transform="rotate(-28 147 530.5)" fill="#d8f020"/>
<ellipse cx="147.5" cy="529.7" rx="6" ry="2.6" transform="rotate(-25 147.5 529.7)" fill="#ff7010"/>
<ellipse cx="148" cy="529.3" rx="3.2" ry="1.4" transform="rotate(-25 148 529.3)" fill="#f02010"/>
<ellipse cx="181" cy="532.5" rx="15" ry="8.5" fill="#189ce8" opacity="0.95"/>
<ellipse cx="178.5" cy="532" rx="9.5" ry="5.5" fill="#28d8a0"/>
<ellipse cx="177.5" cy="531.5" rx="5.5" ry="3" fill="#48ec60"/>
</g></g>
<path d="M222 519h1M226.5 516.5h1M229 522h0.8M257 522h0.8M224 529h0.8" stroke="#4858c8" stroke-width="0.9" opacity="0.8"/>
</g>
<g stroke="#000" stroke-width="1.4" fill="none"><rect x="90.7" y="497" width="144.7" height="82"/><path d="M163.8 497V579"/></g>
<text x="96.5" y="568" font-size="18.3" textLength="38.5" lengthAdjust="spacingAndGlyphs">62%</text>
<text x="187.3" y="570.8" font-size="18.3" textLength="38.5" lengthAdjust="spacingAndGlyphs">38%</text>
<text x="101" y="610" font-size="9.6" fill="#222">Pulmonary</text>
<text x="181" y="610" font-size="9.6" fill="#222">Vascular</text>
<g stroke="#111" stroke-width="1.15" fill="none">
<path d="M54.6 495.3h5.8"/>
<path d="M54.6 549.3h5.8"/>
<path d="M54.6 609.6h5.8"/>
<path d="M54.6 647.5h5.8"/>
<path d="M54.6 684.3h5.8"/>
<path d="M58 533h2.4"/>
<path d="M58 523.5h2.4"/>
<path d="M58 516.8h2.4"/>
<path d="M58 511.6h2.4"/>
<path d="M58 507.3h2.4"/>
<path d="M58 503.7h2.4"/>
<path d="M58 500.5h2.4"/>
<path d="M58 497.8h2.4"/>
<path d="M58 591.4h2.4"/>
<path d="M58 580.8h2.4"/>
<path d="M58 573.3h2.4"/>
<path d="M58 567.5h2.4"/>
<path d="M58 562.7h2.4"/>
<path d="M58 558.6h2.4"/>
<path d="M58 555.1h2.4"/>
<path d="M58 552.1h2.4"/>
<path d="M58 482h2.4"/>
<path d="M58 486h2.4"/>
<path d="M58 490h2.4"/>
<path d="M58 613h2.4"/>
<path d="M58 616.4h2.4"/>
<path d="M58 619.8h2.4"/>
<path d="M58 623.2h2.4"/>
<path d="M58 626.6h2.4"/>
<path d="M58 630h2.4"/>
<path d="M58 633.4h2.4"/>
<path d="M58 636.8h2.4"/>
<path d="M58 640.2h2.4"/>
<path d="M58 652h2.4"/>
<path d="M58 655.4h2.4"/>
<path d="M58 658.8h2.4"/>
<path d="M58 662.2h2.4"/>
<path d="M58 665.6h2.4"/>
<path d="M58 669h2.4"/>
<path d="M58 672.4h2.4"/>
<path d="M58 675.8h2.4"/>
<path d="M58 679.2h2.4"/>
<path d="M55.5 642.5h5v10h-5z" fill="#111" stroke="none"/>
<path d="M74.5 697.9v5.8"/>
<path d="M110.5 697.9v5.8"/>
<path d="M149 697.9v5.8"/>
<path d="M208.7 697.9v5.8"/>
<path d="M262.5 697.9v5.8"/>
<path d="M167 697.9v2.6"/>
<path d="M177.5 697.9v2.6"/>
<path d="M184.9 697.9v2.6"/>
<path d="M190.7 697.9v2.6"/>
<path d="M195.5 697.9v2.6"/>
<path d="M199.5 697.9v2.6"/>
<path d="M202.9 697.9v2.6"/>
<path d="M206 697.9v2.6"/>
<path d="M224.9 697.9v2.6"/>
<path d="M234.4 697.9v2.6"/>
<path d="M241.1 697.9v2.6"/>
<path d="M246.3 697.9v2.6"/>
<path d="M250.6 697.9v2.6"/>
<path d="M254.2 697.9v2.6"/>
<path d="M257.3 697.9v2.6"/>
<path d="M260 697.9v2.6"/>
<path d="M268 697.9v2.6"/>
<path d="M272 697.9v2.6"/>
<path d="M276 697.9v2.6"/>
<path d="M279 697.9v2.6"/>
<path d="M77.5 697.9v2.6"/>
<path d="M80.4 697.9v2.6"/>
<path d="M83.3 697.9v2.6"/>
<path d="M86.2 697.9v2.6"/>
<path d="M89.1 697.9v2.6"/>
<path d="M92 697.9v2.6"/>
<path d="M94.9 697.9v2.6"/>
<path d="M97.8 697.9v2.6"/>
<path d="M100.7 697.9v2.6"/>
<path d="M103.6 697.9v2.6"/>
<path d="M118 697.9v2.6"/>
<path d="M121.3 697.9v2.6"/>
<path d="M124.6 697.9v2.6"/>
<path d="M127.9 697.9v2.6"/>
<path d="M131.2 697.9v2.6"/>
<path d="M134.5 697.9v2.6"/>
<path d="M137.8 697.9v2.6"/>
<path d="M141.1 697.9v2.6"/>
<path d="M144.4 697.9v2.6"/>
<path d="M106 697.9h10v5h-10z" fill="#111" stroke="none"/>
</g>
<g font-size="7" fill="#222">
<text x="36.5" y="498.8">10<tspan dy="-3.5" dx="1.5">5</tspan></text>
<text x="36.5" y="552.8">10<tspan dy="-3.5" dx="1.5">4</tspan></text>
<text x="36.5" y="613.1">10<tspan dy="-3.5" dx="1.5">3</tspan></text>
<text x="40" y="649.5">0</text>
<text x="30.5" y="688">-10<tspan dy="-3.5" dx="1.5">3</tspan></text>
<text x="71" y="716.5">-10<tspan dy="-3.5" dx="1.5">3</tspan></text>
<text x="112" y="716.5">0</text>
<text x="147" y="716.5">10<tspan dy="-3.5" dx="1.5">3</tspan></text>
<text x="208" y="716.5">10<tspan dy="-3.5" dx="1.5">4</tspan></text>
<text x="261" y="716.5">10<tspan dy="-3.5" dx="1.5">5</tspan></text>
</g>
<g stroke="#000" stroke-width="1.3" fill="#000"><path d="M25.8 687.6V642" fill="none"/><path d="M25.8 634.3l-6.2 12.6l6.2 -3.6l6.2 3.6z" stroke="none"/>
<path d="M60.7 721.3H106" fill="none"/><path d="M114 721.3l-12.4 -6.2l3.6 6.2l-3.6 6.2z" stroke="none"/></g>
<text transform="translate(12.2 678) rotate(-90)" text-anchor="middle" font-size="12.4" fill="#111">SSC-A</text>
<text x="50" y="740.6" font-size="11.8" fill="#111" textLength="97" lengthAdjust="spacingAndGlyphs">CD45 PECY7 i.v.</text>
</g>
<g id="panelC">
<text transform="translate(300.2 462.2) scale(0.81 1)" class="pl" font-size="23.9">C</text>
<g stroke="#000" stroke-width="1.3" fill="none">
<path d="M369.9 487.1V685M362.9 685H676"/>
<path d="M362.9 685H369.9"/>
<path d="M362.9 635.7H369.9"/>
<path d="M362.9 586.4H369.9"/>
<path d="M362.9 537H369.9"/>
<path d="M362.9 487.7H369.9"/>
</g>
<text x="361.4" y="690.6" text-anchor="end" font-size="15.6">0</text>
<text x="361.4" y="641.3" text-anchor="end" font-size="15.6">20</text>
<text x="361.4" y="592" text-anchor="end" font-size="15.6">40</text>
<text x="361.4" y="542.6" text-anchor="end" font-size="15.6">60</text>
<text x="361.4" y="493.3" text-anchor="end" font-size="15.6">80</text>
<path d="M402.9 576.3V531.8M394.7 531.8h16.4" stroke="#2a2a2a" stroke-width="1.4" fill="none"/>
<rect x="387.1" y="576.3" width="31.5" height="108.7" fill="#0433ff" stroke="#1a1a1a" stroke-width="1.3"/>
<path d="M450.9 547.9V519.4M442.8 519.4h16.4" stroke="#2a2a2a" stroke-width="1.4" fill="none"/>
<rect x="435.4" y="547.9" width="31.1" height="137.1" fill="#ff2600" stroke="#1a1a1a" stroke-width="1.3"/>
<path d="M498.9 528V510M490.8 510h16.4" stroke="#2a2a2a" stroke-width="1.4" fill="none"/>
<rect x="483.4" y="528" width="31.1" height="157" fill="#a9a9a9" stroke="#1a1a1a" stroke-width="1.3"/>
<path d="M547 547.5V502.9M538.8 502.9h16.4" stroke="#2a2a2a" stroke-width="1.4" fill="none"/>
<rect x="531.3" y="547.5" width="31.5" height="137.5" fill="#0433ff" stroke="#1a1a1a" stroke-width="1.3"/>
<path d="M595.2 577V547.9M587 547.9h16.4" stroke="#2a2a2a" stroke-width="1.4" fill="none"/>
<rect x="579.6" y="577" width="31.1" height="108" fill="#ff2600" stroke="#1a1a1a" stroke-width="1.3"/>
<path d="M643.5 595.8V578.2M635.3 578.2h16.4" stroke="#2a2a2a" stroke-width="1.4" fill="none"/>
<rect x="628" y="595.8" width="31" height="89.2" fill="#a9a9a9" stroke="#1a1a1a" stroke-width="1.3"/>
<path d="M523.4 488.9V688" stroke="#000" stroke-width="2.7" stroke-linecap="round" stroke-dasharray="0 5.95" fill="none"/>
<text x="450.8" y="707" text-anchor="middle" font-size="16">Pulmonary</text>
<text x="595.4" y="707" text-anchor="middle" font-size="16">Vascular</text>
<text transform="translate(303.3 584.3) rotate(-90)" text-anchor="middle" font-size="15.9">% Neutrophils</text>
<text transform="translate(324.3 584.3) rotate(-90)" text-anchor="middle" font-size="15.9">(on total neutrophil population)</text>
</g>
<g id="panelD">
<text transform="translate(649.4 457.7) scale(0.92 1)" class="pl" font-size="23.9">D</text>
<g stroke="#000" stroke-width="1.3" fill="none">
<path d="M763.4 487.4V684.9M756.4 684.9H1068"/>
<path d="M756.4 684.9H763.4"/>
<path d="M756.4 645.5H763.4"/>
<path d="M756.4 606.2H763.4"/>
<path d="M756.4 566.8H763.4"/>
<path d="M756.4 527.5H763.4"/>
<path d="M756.4 488.1H763.4"/>
</g>
<text x="754.9" y="690.5" text-anchor="end" font-size="15.6">0</text>
<text x="754.9" y="651.1" text-anchor="end" font-size="15.6">20</text>
<text x="754.9" y="611.8" text-anchor="end" font-size="15.6">40</text>
<text x="754.9" y="572.4" text-anchor="end" font-size="15.6">60</text>
<text x="754.9" y="533.1" text-anchor="end" font-size="15.6">80</text>
<text x="754.9" y="493.7" text-anchor="end" font-size="15.6">100</text>
<path d="M795.9 664.5V653.6M787.7 653.6h16.4" stroke="#2a2a2a" stroke-width="1.4" fill="none"/>
<rect x="780.3" y="664.5" width="31.2" height="20.4" fill="#0433ff" stroke="#1a1a1a" stroke-width="1.3"/>
<path d="M843.8 640.4V614.4M835.6 614.4h16.4" stroke="#2a2a2a" stroke-width="1.4" fill="none"/>
<rect x="828.4" y="640.4" width="30.8" height="44.5" fill="#ff2600" stroke="#1a1a1a" stroke-width="1.3"/>
<path d="M891.5 664.9V658.5M883.2 658.5h16.4" stroke="#2a2a2a" stroke-width="1.4" fill="none"/>
<rect x="876" y="664.9" width="30.9" height="20" fill="#a9a9a9" stroke="#1a1a1a" stroke-width="1.3"/>
<path d="M939.6 514.2V498.5M931.4 498.5h16.4" stroke="#2a2a2a" stroke-width="1.4" fill="none"/>
<rect x="924.2" y="514.2" width="30.8" height="170.7" fill="#0433ff" stroke="#1a1a1a" stroke-width="1.3"/>
<path d="M987.7 531V504.5M979.5 504.5h16.4" stroke="#2a2a2a" stroke-width="1.4" fill="none"/>
<rect x="972.3" y="531" width="30.8" height="153.9" fill="#ff2600" stroke="#1a1a1a" stroke-width="1.3"/>
<path d="M1035.8 513V502.5M1027.6 502.5h16.4" stroke="#2a2a2a" stroke-width="1.4" fill="none"/>
<rect x="1020.4" y="513" width="30.8" height="171.9" fill="#a9a9a9" stroke="#1a1a1a" stroke-width="1.3"/>
<path d="M916.2 489.3V687.9" stroke="#000" stroke-width="2.7" stroke-linecap="round" stroke-dasharray="0 5.95" fill="none"/>
<text x="843.6" y="706.9" text-anchor="middle" font-size="16">Pulmonary</text>
<text x="987.5" y="706.9" text-anchor="middle" font-size="16">Vascular</text>
<text transform="translate(687.5 584) rotate(-90)" text-anchor="middle" font-size="15.9">% T cells</text>
<text transform="translate(708.5 584) rotate(-90)" text-anchor="middle" font-size="15.9">(on total T cell population</text>
</g>
<path d="M795.7 639.2V574.6H885.6V639.2M840.7 574.6V600.7" stroke="#000" stroke-width="1.2" fill="none"/>
<text x="812.8" y="571" class="st" font-size="19.2" stroke="#000" stroke-width="0.4">*</text><text x="857.5" y="571" class="st" font-size="19.2" stroke="#000" stroke-width="0.4">*</text>
<g id="panelE">
<defs><filter id="blE" x="-5%" y="-5%" width="110%" height="110%"><feGaussianBlur stdDeviation="0.75"/></filter><filter id="blE2" x="-5%" y="-5%" width="110%" height="110%"><feGaussianBlur stdDeviation="3"/></filter><filter id="blG" x="-5%" y="-5%" width="110%" height="110%"><feGaussianBlur stdDeviation="0.45"/></filter><filter id="blR" x="-5%" y="-5%" width="110%" height="110%"><feGaussianBlur stdDeviation="0.7"/></filter></defs>
<text transform="translate(8.6 801.9) scale(0.75 1)" class="pl" font-size="23.9">E</text>
<rect x="13.2" y="822.6" width="34.6" height="431" fill="#000"/>
<text x="31.2" y="864.7" text-anchor="middle" font-size="22.1" fill="#5b78b4" transform="translate(31.2 0) scale(0.9 1) translate(-31.2 0)">D</text>
<text x="31.2" y="895.7" text-anchor="middle" font-size="22.1" fill="#5b78b4" transform="translate(31.2 0) scale(0.9 1) translate(-31.2 0)">A</text>
<text x="31.2" y="924.7" text-anchor="middle" font-size="22.1" fill="#5b78b4" transform="translate(31.2 0) scale(0.9 1) translate(-31.2 0)">P</text>
<text x="31.2" y="953.7" text-anchor="middle" font-size="22.1" fill="#5b78b4" transform="translate(31.2 0) scale(0.9 1) translate(-31.2 0)">I</text>
<text x="31.2" y="1016.7" text-anchor="middle" font-size="22.1" fill="#ff1a1a" transform="translate(31.2 0) scale(0.9 1) translate(-31.2 0)">C</text>
<text x="31.2" y="1046.7" text-anchor="middle" font-size="22.1" fill="#ff1a1a" transform="translate(31.2 0) scale(0.9 1) translate(-31.2 0)">D</text>
<text x="31.2" y="1075.7" text-anchor="middle" font-size="22.1" fill="#ff1a1a" transform="translate(31.2 0) scale(0.9 1) translate(-31.2 0)">3</text>
<text x="31.2" y="1139.7" text-anchor="middle" font-size="22.1" fill="#0cb050" transform="translate(31.2 0) scale(0.9 1) translate(-31.2 0)">C</text>
<text x="31.2" y="1167.7" text-anchor="middle" font-size="22.1" fill="#0cb050" transform="translate(31.2 0) scale(0.9 1) translate(-31.2 0)">D</text>
<text x="31.2" y="1197.7" text-anchor="middle" font-size="22.1" fill="#0cb050" transform="translate(31.2 0) scale(0.9 1) translate(-31.2 0)">3</text>
<text x="31.2" y="1226.7" text-anchor="middle" font-size="22.1" fill="#0cb050" transform="translate(31.2 0) scale(0.9 1) translate(-31.2 0)">1</text>
<clipPath id="ce1"><rect x="47.2" y="824.3" width="210" height="211.2"/></clipPath>
<filter id="fc1" filterUnits="userSpaceOnUse" x="39.2" y="816.3" width="226" height="227.2" color-interpolation-filters="sRGB"><feTurbulence type="fractalNoise" baseFrequency="0.13" numOctaves="2" seed="10" result="t"/><feDisplacementMap in="SourceGraphic" in2="t" scale="5" xChannelSelector="R" yChannelSelector="G" result="d"/><feTurbulence type="fractalNoise" baseFrequency="0.07" numOctaves="2" seed="6" result="t2"/><feColorMatrix in="t2" type="matrix" values="0 0 0 0 0  0 0 0 0 0  0 0 0 0 0  4.2 0 0 0 -1.3" result="a"/><feComposite in="d" in2="a" operator="in" result="c"/><feGaussianBlur in="c" stdDeviation="0.8"/></filter>
<filter id="fo1" filterUnits="userSpaceOnUse" x="39.2" y="816.3" width="226" height="227.2" color-interpolation-filters="sRGB"><feTurbulence type="fractalNoise" baseFrequency="0.07" numOctaves="2" seed="5" result="t"/><feDisplacementMap in="SourceGraphic" in2="t" scale="6" xChannelSelector="G" yChannelSelector="B" result="d"/><feGaussianBlur in="d" stdDeviation="0.75"/></filter>
<g clip-path="url(#ce1)">
<rect x="47.2" y="824.3" width="210" height="211.2" fill="#020212"/>
<g filter="url(#blE2)"><path d="M92.2 871.1h0M186.8 1010.7h0M79.4 831.6h0M231.1 1001.4h0M213.6 980.2h0M97.3 882h0M141.2 964.8h0M255.7 980.6h0M227.3 837.3h0M134.8 880.3h0M109.6 874h0M206.3 984h0M56.3 836.3h0M60.6 845.7h0M200.8 842.7h0M213.7 860.5h0M176.4 954.1h0M231.8 892h0M169.3 1011.1h0M256.8 829.3h0M222.4 976.8h0M219.6 953.8h0M187.6 1004.3h0M239.7 977.4h0M197.6 961.6h0M132.6 949.9h0M150.2 922.4h0M252.6 889.1h0M190.7 856.7h0M147.7 970.3h0M151.6 952.9h0M223.9 963.3h0M250.3 953.7h0M205.4 846.6h0M180.2 996.6h0M180.9 963h0M152.8 938.8h0M214.3 990.3h0M243.2 840.5h0M221 838.2h0M230.7 882.8h0M189.1 845.3h0M253 879.5h0M180.7 861.6h0M138.3 836.5h0M155.6 965.1h0M207.4 916.8h0M80.3 847h0M153 854.7h0M209.7 884.6h0M217.9 830h0M239.1 1001.4h0M180.7 969.6h0M191.3 872.5h0M195 876.4h0M215.2 963.3h0M147.9 989.6h0M252.8 900.3h0M102.8 829.9h0M242.2 996.9h0M96.6 828.8h0M167 841.8h0M152.2 1007h0M115.4 857.3h0M169.1 830.2h0M159.5 824.4h0M155.2 931.3h0M230.6 854.5h0M170.7 857.6h0M211.6 956.7h0M110.3 842h0M218.3 850.2h0M117.4 953.6h0M194.3 852.1h0M236.8 984.2h0M84.3 868.7h0M214.9 883.2h0M192.3 980h0M84.9 852.8h0M164 836.3h0M234.8 850.9h0M101.2 885.7h0M226.5 946.6h0M256.1 862.7h0M131.4 974.7h0M221.1 889.2h0M175.4 1029.7h0M203.6 894h0M190.4 863.4h0M215.9 896.5h0M177.7 827.8h0M249.7 997.9h0M79.6 852.4h0M179.4 986.1h0M184.6 976.6h0M215.8 868.5h0M238.6 828.7h0M124.5 830.4h0M95 888.2h0M175.3 1009.4h0M185.5 849.9h0M54.5 825.1h0M158 838.3h0M232.4 979.2h0M125 935.6h0M237.8 892.5h0M139.6 925.9h0M133.1 847.8h0M220.5 859.8h0M161.5 940.1h0M246.2 967.3h0M51.4 867.7h0M237.6 968.3h0M211.2 925.5h0M219.4 945.8h0M136.7 843.7h0M171 836.5h0M231.3 829.5h0M106.5 869.3h0M147.8 980.8h0M223.4 1008.1h0M115.4 827.4h0M144.1 994h0M70.9 826.3h0M222.5 854.6h0M235.9 958.7h0M90.7 884.8h0M194.8 867.1h0M256.2 916.9h0M158.3 856.1h0M225.4 971.9h0M226.5 867.8h0M109.6 849.3h0M56.3 862.4h0M210.9 994.5h0M218.6 968h0M251.9 971.4h0M255.2 966.4h0M178.8 991.4h0M132.8 865.4h0M152.8 974.1h0M222.9 883.2h0M242.8 835h0M257.1 995.8h0M108.6 887.5h0M246.3 950.1h0M143.9 833.5h0M104.5 835.5h0M59.8 825h0" stroke="#0a0a80" stroke-width="12" stroke-linecap="round" opacity="0.2" fill="none"/></g>
<g filter="url(#fc1)" fill="none" stroke-linecap="round">
<path d="M62 865.1h0M195.2 826.3h0M61 856.1h0M231.1 1001.4h0M162.7 851.2h0M246.9 987.6h0M176.7 854.6h0M240.1 932.3h0M128.8 942.2h0M243.7 894.5h0M171.7 964.2h0M239.7 863.7h0M158.6 974.9h0M202.9 947.7h0M164.7 998.9h0M213.7 860.5h0M231.8 892h0M154 989.4h0M250 979.2h0M210.4 893.8h0M246.3 862.4h0M190.7 856.7h0M147.7 970.3h0M140.9 982.2h0M154.1 828.3h0M204.2 827.3h0M189 991.9h0M145.8 859.2h0M180.7 861.6h0M156.8 943.2h0M141.3 864.7h0M201.2 908.9h0M208.5 989.2h0M253.6 872h0M180.7 969.6h0M195 876.4h0M215.2 963.3h0M199.5 849.4h0M131.7 834.6h0M125.9 882.4h0M211.8 826.9h0M169.1 830.2h0M167.3 1030.5h0M155.2 931.3h0M110.3 842h0M143.4 839.7h0M254.7 907.9h0M234.8 850.9h0M101.2 885.7h0M247.5 832.3h0M250.7 867h0M47.4 1007h0M246.5 856.2h0M234.1 946.2h0M246.2 825.9h0M179.4 986.1h0M184.6 976.6h0M78.6 865.9h0M205.3 858.1h0M158 838.3h0M210.1 972h0M244.3 980.5h0M123.8 946.7h0M145 924.1h0M237.6 968.3h0M219.4 945.8h0M155.2 999.7h0M136.7 843.7h0M106.5 869.3h0M185.3 868.1h0M222.5 854.6h0M206 852.8h0M256.2 916.9h0M65.7 860.8h0M123.5 877.4h0M226.9 887h0M225.4 971.9h0M210.9 994.5h0M51.5 1014h0M215.4 890h0M126.5 971.3h0M178.8 991.4h0M132.8 865.4h0M252.2 825.4h0M257.1 995.8h0M148.3 1003.2h0" stroke="#0808a8" stroke-width="4.6"/>
<path d="M92.2 871.1h0M195.4 987.9h0M213.6 853.9h0M120.8 836.4h0M143.6 944.6h0M244 885.2h0M93.5 838.3h0M227.3 837.3h0M200.5 855.3h0M148.2 851.5h0M81.8 840.5h0M76.7 857.8h0M49.6 861.4h0M176.4 954.1h0M219.9 989.6h0M139.3 972.4h0M169.3 1011.1h0M176.6 974.5h0M90.1 865.3h0M133.1 937.5h0M244.8 972.8h0M173.3 993h0M232.1 954.8h0M72 833.6h0M125.9 954.7h0M151.6 952.9h0M49.4 1021.3h0M215.4 997.9h0M180.2 996.6h0M164.7 967.6h0M152.8 938.8h0M237.4 843h0M189.1 845.3h0M162.1 959h0M198.2 832.5h0M245.2 960.4h0M155.6 965.1h0M80.3 847h0M161.7 990.1h0M209.7 884.6h0M217.9 830h0M209.7 833.9h0M87.2 875.8h0M166.3 1005.2h0M126.7 842.4h0M160.4 952.6h0M68.6 852.7h0M115.7 884.7h0M96.6 828.8h0M104.9 842.6h0M98.7 836h0M132.7 824.5h0M211.6 956.7h0M186.6 963.8h0M111.4 864.4h0M203 991h0M218.3 850.2h0M254.2 1002.1h0M142.6 988.9h0M52.4 849.9h0M84.3 868.7h0M168.4 824.8h0M214.9 883.2h0M179.2 1005.1h0M203.8 941.5h0M164 836.3h0M238.7 855.6h0M175.4 981.5h0M150.9 995.5h0M215.9 896.5h0M177.7 827.8h0M91.5 833.3h0M191.4 967.1h0M247.7 846.3h0M222.7 938.7h0M238.6 828.7h0M124.5 830.4h0M166.6 952h0M251.3 923.1h0M175.3 1009.4h0M54.2 855.2h0M68.2 867.4h0M240.6 941.1h0M125 935.6h0M172.6 1004.7h0M229.2 876.1h0M138.6 950.4h0M48.4 825.5h0M246.2 967.3h0M222.4 984.9h0M246.3 1005.6h0M234.9 887.1h0M181.2 846.1h0M257 987.7h0M221.2 844.4h0M223.4 1008.1h0M102 874.7h0M141.5 825.4h0M255.3 853.9h0M185 953h0M235.9 958.7h0M129.7 876.6h0M185.6 836.6h0M158.3 856.1h0M238.6 1008h0M116.2 944.8h0M75.9 841.6h0M233.8 933.9h0M56.3 862.4h0M253.5 846.8h0M215.4 936h0M218.6 968h0M135 979.2h0M152.8 974.1h0M204 935.3h0M95.7 875.9h0M151.4 862.7h0M117.3 866.6h0M108.6 887.5h0M246.3 950.1h0M201 984.9h0M158.9 1004.8h0" stroke="#0a0ccc" stroke-width="5.4"/>
<path d="M187.7 825.7h0M79.4 831.6h0M147 929.6h0M213.6 980.2h0M97.3 882h0M141.2 964.8h0M134.8 880.3h0M109.6 874h0M206.3 984h0M210.5 871.6h0M56.3 836.3h0M220.5 874h0M222.4 976.8h0M219.6 953.8h0M228.3 985.9h0M187.6 1004.3h0M175.7 959.6h0M197.6 961.6h0M169 976h0M252.6 889.1h0M167.4 988.6h0M223.9 963.3h0M148.3 827.9h0M205.4 846.6h0M209.1 863.2h0M49.2 844.2h0M243.2 840.5h0M140.6 934.1h0M199.9 865.5h0M230.7 882.8h0M163.4 857.8h0M253 879.5h0M115.8 872.2h0M138.3 836.5h0M243.4 875.6h0M153 854.7h0M191.3 872.5h0M147.9 989.6h0M254.8 929.4h0M212.4 877.5h0M174.8 861.4h0M126.3 872.3h0M99 844.3h0M167 841.8h0M199.6 953.3h0M252.8 837.1h0M115.4 857.3h0M214.2 944.5h0M214.1 845.1h0M138.3 956.2h0M159.5 824.4h0M237 880.5h0M170.7 857.6h0M131.6 966.5h0M250.6 916.6h0M230.5 841.7h0M117.4 953.6h0M204.2 998h0M116.7 879.2h0M210.1 1032.1h0M234.1 869.3h0M192.3 980h0M84.9 852.8h0M147.9 957.8h0M136.3 860.9h0M226.5 946.6h0M187 998h0M131.4 974.7h0M121.5 969.3h0M221.1 889.2h0M209.2 940.5h0M245.6 900.3h0M190.4 863.4h0M146.6 963.8h0M150.8 843.5h0M150.1 835.6h0M256.2 896h0M253.5 942.1h0M95 888.2h0M54.5 825.1h0M155.7 846.2h0M252.5 858.8h0M139.6 925.9h0M220.5 859.8h0M157.1 1009.9h0M240.6 947.7h0M76.6 825.3h0M203.2 835.1h0M184.7 987.7h0M144.4 846.5h0M255.6 952.1h0M171 836.5h0M231.3 829.5h0M186.3 958.2h0M160.9 844.1h0M116.3 848.1h0M70.9 826.3h0M221.1 1000.1h0M194.8 867.1h0M191.5 834.6h0M92.8 825h0M134.7 929.6h0M182.4 854.5h0M249.7 894.5h0M198.6 1008.2h0M251.9 971.4h0M194.3 841.7h0M194.9 1033.6h0M230.6 960.7h0M47.5 1028.6h0M242.8 835h0M245.3 870.4h0M195.5 995.6h0M143.5 952.8h0M122.4 847.3h0" stroke="#0e10ea" stroke-width="6.0"/>
<path d="M186.8 1010.7h0M109.5 832.9h0M255.7 980.6h0M252.3 992.9h0M200.8 842.7h0M91.2 846.4h0M206.5 958.5h0M110.2 882.3h0M166.8 982h0M256.8 829.3h0M73 846.6h0M239.7 977.4h0M132.6 949.9h0M84.7 826.2h0M191.7 1028.9h0M178.1 834.1h0M175.4 848.7h0M247.3 936.6h0M249.7 945.9h0M250.3 953.7h0M198.1 980.2h0M229.7 966.8h0M214.3 990.3h0M186.5 970.5h0M209 946.1h0M221 838.2h0M121 824.9h0M199.8 884.3h0M207.4 916.8h0M61.8 833.2h0M237 874.3h0M123.5 940.9h0M239.1 1001.4h0M228.6 992.4h0M245.7 929.1h0M242.2 996.9h0M152.2 1007h0M48.3 838.2h0M134.3 984.7h0M230.6 854.5h0M194.3 852.1h0M236.8 984.2h0M138.9 852h0M180.6 1030.9h0M123.8 866.9h0M175.7 842.6h0M249.7 997.9h0M79.6 852.4h0M215.9 930h0M215.8 868.5h0M209.3 908.2h0M137.9 830.3h0M230.1 1009h0M233.7 972.9h0M185.5 849.9h0M198.1 871.9h0M202.8 975.7h0M237.8 892.5h0M87.7 839.3h0M202.4 878.5h0M133.1 847.8h0M161.5 940.1h0M51.4 867.7h0M147.8 980.8h0M115.9 842.1h0M115.4 827.4h0M144.1 994h0M256.5 958.5h0M185.9 1034.1h0M255.2 966.4h0M55.5 842.2h0M149.5 943.9h0M222.9 883.2h0M104.5 835.5h0M59.8 825h0" stroke="#181aff" stroke-width="5.0"/>
<path d="M208.9 901.7h0M60.6 845.7h0M150.2 922.4h0M241.7 849h0M180.9 963h0M200.8 899.4h0M124.8 960.3h0M137.6 942.5h0M227.4 861h0M198.5 1000.9h0M132.9 958.4h0M170 957.2h0M233 940.3h0M252.8 900.3h0M102.8 829.9h0M134.9 871.3h0M156.1 983.3h0M236.3 834.4h0M251.8 961.5h0M128.2 979.4h0M105.1 824.5h0M256.1 862.7h0M168 847.9h0M226.9 850.5h0M175.4 1029.7h0M203.6 894h0M146.4 938.2h0M203.1 1034h0M192.4 1009.9h0M232.4 979.2h0M192.5 959.5h0M196.9 971.8h0M211.2 925.5h0M66 829.7h0M236.7 989.7h0M226.9 825.6h0M239.6 953.6h0M90.7 884.8h0M52.3 831.9h0M162.3 830.3h0M210.4 932.1h0M226.5 867.8h0M109.6 849.3h0M204.9 965h0M83.8 862.3h0M240 869.5h0M143.9 833.5h0" stroke="#1014f0" stroke-width="7.0"/>
</g>
<g fill="none" stroke-linecap="round" filter="url(#fo1)">
<path d="M52.7 855.1Q68.2 862.3 81.4 869.7" stroke="#18c048" stroke-width="1" opacity="0.6" stroke-dasharray="6 1 3 1.5"/>
<path d="M211 913Q215.2 934.1 229.9 936.2T246.7 929.9 253 913" stroke="#18c048" stroke-width="1.4" opacity="0.6" stroke-dasharray="4 1 2 1.5"/>
<path d="M152.2 908.8C156.4 940.5 183.7 957.4 204.7 961.6" stroke="#18c048" stroke-width="1.2" opacity="0.8" stroke-dasharray="4 3 4 1.5"/>
<path d="M116.5 951C129.1 970 143.8 993.3 143.8 1008" stroke="#18c048" stroke-width="1" opacity="0.5" stroke-dasharray="9 3 3 1.5"/>
<path d="M240.4 824.3Q240.4 839.1 221.5 843.3" stroke="#18c048" stroke-width="1.1" opacity="0.6" stroke-dasharray="5 1 5 1.5"/>
<path d="M240.4 883.4Q248.8 900.3 257.2 915.1" stroke="#18c048" stroke-width="1.1" opacity="0.5" stroke-dasharray="6 1 2 1.5"/>
<path d="M204.7 982.7Q225.7 999.6 250.9 1008" stroke="#18c048" stroke-width="1.2" opacity="0.8" stroke-dasharray="6 1 4 1.5"/>
<path d="M82.9 834.9Q89.2 845.4 85 862.3" stroke="#18c048" stroke-width="1" opacity="0.5" stroke-dasharray="9 3 3 1.5"/>
<path d="M126.5 971.3Q137.3 967.8 144.1 958.7" stroke="#1cb450" stroke-width="1.3" opacity="0.4"/>
<path d="M126.3 872.3Q121.4 862.4 119.6 851.4" stroke="#1cb450" stroke-width="1.3" opacity="0.2"/>
<path d="M251.9 971.4Q249.8 962.5 243.3 956.3" stroke="#1cb450" stroke-width="1" opacity="0.3"/>
<path d="M70.9 826.3Q71.9 835.6 63.3 839.3" stroke="#1cb450" stroke-width="1.1" opacity="0.4"/>
<path d="M191.5 834.6Q187.9 843.4 188.5 852.9" stroke="#1cb450" stroke-width="1" opacity="0.3"/>
<path d="M175.4 848.7Q185.2 852.8 195.7 854.4" stroke="#1cb450" stroke-width="1.4" opacity="0.3"/>
<path d="M257.1 995.8Q266.7 994.5 275.4 990.4" stroke="#1cb450" stroke-width="1.1" opacity="0.5"/>
<path d="M206 852.8Q200.5 852.7 196.4 856.3" stroke="#1cb450" stroke-width="1" opacity="0.4"/>
<path d="M143.4 839.7Q146.8 852.2 156.8 860.5" stroke="#1cb450" stroke-width="1.4" opacity="0.2"/>
<path d="M195.5 995.6Q185.5 987.5 174.9 980.2" stroke="#1cb450" stroke-width="0.9" opacity="0.3"/>
<path d="M124.5 830.4Q121.6 824.5 115.5 822.2" stroke="#1cb450" stroke-width="1" opacity="0.5"/>
<path d="M61 856.1Q55.5 861.4 59.5 867.8" stroke="#1cb450" stroke-width="1" opacity="0.4"/>
<path d="M148.2 851.5Q143.5 852.7 139.6 855.5" stroke="#1cb450" stroke-width="1.3" opacity="0.4"/>
<path d="M159.5 824.4Q169.1 816.3 180 809.9" stroke="#1cb450" stroke-width="1.5" opacity="0.4"/>
<path d="M234.1 869.3Q228.2 880.3 222.8 891.5" stroke="#1cb450" stroke-width="1" opacity="0.4"/>
<path d="M125.9 954.7Q131.8 964.2 138.3 973.4" stroke="#1cb450" stroke-width="1" opacity="0.3"/>
<path d="M214.9 883.2Q220.9 881.1 226.2 884.5" stroke="#1cb450" stroke-width="1.1" opacity="0.5"/>
<path d="M52.3 831.9Q53.9 821.8 45.1 816.8" stroke="#1cb450" stroke-width="1" opacity="0.4"/>
<path d="M243.4 875.6Q240 881.8 234.6 877.3" stroke="#1cb450" stroke-width="1.5" opacity="0.3"/>
<path d="M146.4 938.2Q135.9 939.4 125.7 936.5" stroke="#1cb450" stroke-width="1.4" opacity="0.2"/>
<path d="M246.3 950.1Q254.1 954.3 257.1 962.6" stroke="#1cb450" stroke-width="1.2" opacity="0.2"/>
<path d="M134.7 929.6Q123.4 925.7 117.6 915.2" stroke="#1cb450" stroke-width="1.4" opacity="0.3"/>
<path d="M68.6 852.7Q59.4 859.9 48.7 864.5" stroke="#1cb450" stroke-width="1.5" opacity="0.4"/>
<path d="M247.7 846.3Q255.6 847.9 255.6 856" stroke="#1cb450" stroke-width="0.9" opacity="0.3"/>
<path d="M204 935.3Q206.8 926.3 206.6 916.9" stroke="#1cb450" stroke-width="0.9" opacity="0.5"/>
<path d="M133.1 847.8Q136.7 859.7 132.6 871.4" stroke="#1cb450" stroke-width="1.1" opacity="0.3"/>
<path d="M237 880.5Q235 874.1 240.5 870.4" stroke="#1cb450" stroke-width="0.9" opacity="0.4"/>
<path d="M109.5 832.9Q118.7 841.7 131.4 843" stroke="#1cb450" stroke-width="1" opacity="0.5"/>
<path d="M132.7 824.5Q124.3 820.1 116.2 815.1" stroke="#1cb450" stroke-width="1.4" opacity="0.3"/>
<path d="M223.9 963.3Q216.3 964.5 211.5 970.5" stroke="#1cb450" stroke-width="1.3" opacity="0.3"/>
<path d="M105.1 824.5Q102.9 836.1 109.1 846.2" stroke="#1cb450" stroke-width="1.2" opacity="0.4"/>
<path d="M134.8 880.3Q135.2 867.5 144.6 858.7" stroke="#1cb450" stroke-width="1.5" opacity="0.2"/>
<path d="M106.5 869.3Q98.8 859.7 102 847.8" stroke="#1cb450" stroke-width="1.2" opacity="0.4"/>
<path d="M156.1 983.3Q159.1 991.9 168.1 993.3" stroke="#1cb450" stroke-width="1.2" opacity="0.3"/>
<path d="M169 976Q164 986 159.8 996.5" stroke="#1cb450" stroke-width="1" opacity="0.5"/>
<path d="M132.6 949.9Q129.2 959 126 968.3" stroke="#1cb450" stroke-width="1.3" opacity="0.3"/>
<path d="M96.6 828.8Q91.5 821 82.6 823.7" stroke="#1cb450" stroke-width="1.3" opacity="0.4"/>
<path d="M187.7 825.7Q194.3 834.1 205 834.6" stroke="#1cb450" stroke-width="1.4" opacity="0.4"/>
<path d="M220.5 859.8Q232.3 854.4 244 860" stroke="#1cb450" stroke-width="1.3" opacity="0.3"/>
<path d="M116.3 848.1Q125 839.3 125.6 827" stroke="#1cb450" stroke-width="1.3" opacity="0.5"/>
<path d="M156.8 943.2Q165 953 176.7 958.2" stroke="#1cb450" stroke-width="1" opacity="0.5"/>
<path d="M146.8 987.4l0.2 -0.2M207.1 944.5l1.1 -1.7M177.2 989.2l1.4 -1.8M116 883.7l2.1 -1.9M145.2 966.5l-0.9 -2.2M174.9 952.3l0.4 0.3M45.9 822.9l-2.3 -0.5M63.1 867l-0.6 0.2M185.7 868.7l-0.1 -1.8M145.2 956.9l1.3 -0.1M90.5 841.2l-0.4 1.1M164.3 987.4l-1.6 -0.5M165 949.9l0.7 0.8M147.7 978.9l-0.2 2.4M116.7 842.9l0.1 0.3M229.7 990.2l1.7 -1M224.2 828.1l1.7 -1M66.5 831.3l-1.5 -0.3M97.8 842.2l-2.4 -0.3M242.2 865.2l-0.5 1.3M116.2 885.1l0.3 0M61.2 822.4l-2 -1M196.8 999.8l0.4 -1.9M216.8 946.3l2 2.3M93.2 830.6l-1.6 -0.3M248.4 898.5l1.5 1.2M244.3 872.6l-1 -0.6M92.3 823.7l-1.2 -1.9M184.4 868.5l0.7 1.3M154.5 934.1l0.3 2M165.4 849.7l1.1 -0.1M103.9 825.7l-1.5 -0.3M180.4 962.6l-0.5 2.3M190.8 856.1l2 -1M108.2 840.6l-1.9 -2.1M232 980.7l-1.6 -0.4M252.5 914.3l-0.3 1.9M59.9 858.4l0.5 -1.1M174.1 860.4l-0.8 1.6M149.9 973.1l-1 0.4M174.6 952.2l-0.7 0.2M170.4 827.4l0.5 0.6M224.5 966.1l0.6 -1.3M154.5 1007.5l-1.1 2M76.2 865.3l2 -1.7M51.1 862l-0.1 -1.7M144.8 963.9l0.5 -0.1M113.9 847.2l0.8 0.1M202 878.8l2 0.7M115.1 841.9l2.4 -2.4M141.4 954.3l-1.6 0.7M168.4 841.7l2 0.8M135.6 836.6l-1.3 -0.6M138.8 833.2l-1.6 -0.9M246.1 968l-1.1 -0M166.4 996.7l0.7 -0.6M178.4 846.2l-1.8 -2.3M239.7 1008.6l-2.3 2.1M193.3 854.1l1.9 1.1M196.9 834.1l-1.1 -2M241 841.2l1 0.3M127.8 939.8l2.2 0.3M214.2 882.5l-2 1.4M133.2 956.7l0.3 0.7M149.1 932.4l-0.8 2.2M196.1 961.6l0.9 -1.1M209.3 971l1.4 -0.2M177.9 980.2l-0.7 2.2M247.6 826.4l-1.1 -2.1M237.7 875.1l-1.5 -2M214.4 965.5l-1.2 -1.7M148.7 938.4l2.1 -1M127.5 979.3l0.5 -2.2M84 841.9l-0.4 0.8M88 838.4l-0.6 -0.5M176.5 957.1l2.2 -0.9M45.5 1008.1l1.6 -0.1M256.7 828.8l2.4 -0.8M234.3 985.4l-1.9 1.3M136.6 850.8l-2.2 0.5M257.3 860.2l-0.7 -2.1M183.2 851.9l2.1 2.1M132 958.2l-0.5 -0.6M221.1 946.1l-1.2 -0M135.4 850.2l0.4 0.1M256.8 916.4l1.5 0.7M202.7 833l-2.2 -0.8M79.6 866.5l-2.2 -2.1M187.7 1035.4l0.5 1M181.8 961.1l-0.5 -2.1M231.9 890l-2 1.8M244.7 929.6l-1.9 -2M163.9 1005.1l1 1.9M78.5 859.3l-1 -1.8M228.9 893.1l-0.5 2.1M255.8 996.6l-0.6 -0.1M250.7 980.1l-1.4 -1.3M242.2 866.6l-0.6 0.3M69.9 825.8l-1.9 0.1M108.9 850.4l-0.5 -1.4M187.3 994.1l0.1 -0.6M132.4 979.9l-0.1 2.3M244.4 886.8l-1.8 1.9M140.4 836.9l1.3 2M201 830l0.3 -0.8M142.8 990l0.8 -0.2M218.1 967.4l-1 -2.2M195 963.7l0.9 1.9M248.4 848.4l2.2 -2.1M63.1 856.1l-1 -0.9M221.7 1005.1l1.6 -2.4M92 833l-0.3 -1.1M112.2 840.4l1.1 -1.6M191 1029.6l-1.4 -0.4M208 932.1l-2.1 1.9M229.4 877.1l-0.6 0.8M230.7 1009.8l-0.9 -1.4M50.6 822.8l1.4 1.9M248.3 955.3l0.4 -0.2M138.5 943.4l-2.3 0.2M203.2 933.1l-0.6 1.4M187.4 997.9l0.7 2.3M233.7 958.7l1.5 1.7M140.5 954.5l1.5 2.2M128.7 875.2l-1.8 2.1M249.5 826l2 -0.2M255.4 957.4l-2.1 -0.9M141.7 992.5l1.8 0.6M208.2 869.5l-1 1.2M193.9 853.7l-1.8 -0.1M253.1 855.4l1.7 0.2M49.1 1030.2l-0.9 -0.2M89.2 884.6l-1.8 2.2M233.7 850.8l-1.1 -1.9M233.1 1008.3l-2.1 0.4M173.5 1005.7l2.2 -1.8M92.2 847.3l-1.9 1M187.5 1031.9l-1.3 -0.9M143 923.4l0.8 -1.4M237.6 1007.4l2.1 1.9M67.6 828.8l1.9 0.2M112.1 849.4l-0.7 0.4M209.9 895.3l-2.1 -1.8M132.2 871.4l-2.3 2M103.1 874.4l0.2 -1.2M85.8 855.2l-0.1 1.2M235 887.4l1.8 2.2M154.6 971.1l-0.6 -0.3M253.7 863.9l-0.7 -0.3M140.7 854.7l-0.2 -0.6M243.7 930.8l-0.5 0.8M94.1 870.7l-0.1 1.5M180.2 852.6l-1.2 -1.7" stroke="#2ad048" stroke-width="1.2" opacity="0.66"/>
</g>
<path d="M202.3 1034.3l-0.9 1.2M201.4 1033.7l1.2 1M204.7 1034.5l-0.6 -0.3M245.8 926.7l0.9 0.4M247.1 930.3l-0.4 -0.8M247.4 929.8l1 -1.1M249.3 846.3l-0.8 -0.5M248.3 845.9l1.2 -0.1M253.4 823.5l-0.5 0.6M254 824.1l-1.3 0.2M186 996.3l-0.5 -0.7M186.2 996.4l0.9 -0.8M185.4 995.9l-0.7 -1M236.9 872.7l-1.3 0.1M237.1 876.4l0.5 1.1M255.9 916.1l0.1 0.6M256.8 915.6l0.4 0.3M256.3 914.6l0.9 -0.3M131 825.7l-1.2 -1.1M130.4 824.8l-1.2 0.9M203 900.7l-1.2 -0.8M192.7 873.8l0.1 1M191.8 870.7l-1.3 0.9M135.3 858.7l-0.6 0.9M134.9 860.2l-0.7 0.9M211.5 934.2l-1.1 0.1M139.7 826.6l0.2 1M151.2 954.9l-0.5 -1M130.6 960.1l0.1 -1.3M146.8 853.6l-1.2 1M146.7 852.2l0.6 0M93.2 838.9l-0.5 0.4M164.7 1000.3l1.1 -1.3M163.6 1001.2l0.4 -0.1M164.8 1000.2l0.9 -0.5M243.4 842.5l-0.8 -0.6M241.7 842.8l0.4 0.7M243.5 838.9l0.2 0.2M108.6 869.7l0.3 -0.6M255.9 829.5l-0.8 -1M222.3 998.1l0.4 -0.4M219.3 1002.5l-0.4 -0.7M124.1 865.4l-1.1 1M122.3 867.7l-0.6 -1M215.5 991.1l-0 0.3M214.9 989.4l1.1 -1.1M212.6 990.2l0.4 -0.4M116.9 955.2l-0.3 -0.4M117.9 954.4l0.9 -0.8M119.9 953.1l1 1.2M155.7 830.2l-1.1 -0.7M152.4 826.3l-1.3 -0.7M56.8 825.2l-0.9 0.7M54 825.1l1 -0.1M213 995.7l0.3 -0.1M213.1 993.8l1.2 -1.2M126.5 883.1l-0.9 -0.1M127 883.2l0.1 0.7M196.3 987l-0.4 -0.7M219 844.3l-0.9 1.1M222.3 846.2l1 -1.2M220.6 842.2l0.3 0.5M151.8 1008l0.2 -0.1M136.6 858.5l-1.2 -0.4M122.8 958.1l1.2 1.1M123.4 958.6l-1.2 1.2M123.7 961.6l0.9 -0M230.7 1010.4l1 -0.3M231.7 1009.3l0 -0.4M232.2 1008.8l0.1 -0.5M160.8 853.1l-0 -0.4M149 991.1l-0.6 0.6M147.6 991.1l0.7 -0.9M146.3 987.5l1.2 1.1M186.4 989.6l-1.1 0.1M186.2 1031.7l1.1 0.8M187 1033.7l1 1.1M187.1 961.4l-1.1 -0.8M187.7 961.9l-1.2 0.4M141.2 974.5l1.1 -1.1M235.7 867.5l0.7 0.6M234 870.9l0.8 -1.2M225.4 972.4l-0.8 0.1M226.6 971.7l0.5 -0.2M117.3 886.4l-0.9 -0.1M113.9 882.7l0.9 -0.9M116 884.8l-0.3 -0.9M172.5 963.9l-0.2 -0.6M173.1 964.2l-1.2 0.6M171.2 965.1l0.2 -0.7M182.8 1031.8l0.9 -0.2M182.9 1030.9l1.3 1M178.9 1031.7l-0.7 -0.3M84.3 828.6l0.9 0.5M86.9 827.5l-0.4 -0.5M83.9 827.2l-0.7 1.1M226.2 851.9l0.7 -0.8M227 851.4l-0.2 0.5M228.8 850.2l-0.4 -1.3M157.5 965.4l0.6 0.1M160.2 1003.4l0.3 -1.1M159.1 1003.8l0.2 -0.1M158.5 1005.9l1.1 1.3" stroke="#d82048" stroke-width="1.5" stroke-linecap="round" opacity="0.62" fill="none" filter="url(#blR)"/>
<g fill="none" stroke="#f02850" stroke-width="1.4" opacity="0.8" stroke-dasharray="3.5 1 2.5 0.8" filter="url(#fo1)"><circle cx="246.3" cy="950.1" r="2.8"/><circle cx="211.8" cy="826.9" r="2.9"/><circle cx="190.7" cy="856.7" r="3"/><circle cx="116.3" cy="848.1" r="2.4"/><circle cx="215.4" cy="936" r="2.3"/><circle cx="51.5" cy="1014" r="2.6"/></g>
<g filter="url(#fo1)">
<ellipse cx="177.4" cy="849" rx="4.9" ry="3.9" transform="rotate(65 177.4 849)" fill="#ff2868"/>
<ellipse cx="194.2" cy="852.8" rx="5.3" ry="4.2" transform="rotate(6 194.2 852.8)" fill="#ff2868"/>
<circle cx="194.1" cy="852.6" r="2.1" fill="#8030d0"/>
<ellipse cx="229.5" cy="871.6" rx="4.7" ry="3.9" transform="rotate(106 229.5 871.6)" fill="#ff2868"/>
<circle cx="229.7" cy="871.4" r="2.1" fill="#8030d0"/>
<ellipse cx="254.5" cy="896.1" rx="4.7" ry="3.6" transform="rotate(113 254.5 896.1)" fill="#ff2868"/>
<circle cx="254.6" cy="896.6" r="1.7" fill="#8030d0"/>
<ellipse cx="135" cy="952.1" rx="5.1" ry="3.8" transform="rotate(12 135 952.1)" fill="#ff2868"/>
<circle cx="135.4" cy="952.3" r="1.9" fill="#8030d0"/>
<ellipse cx="163.3" cy="946.4" rx="3.6" ry="3.3" transform="rotate(124 163.3 946.4)" fill="#ff2868"/>
<ellipse cx="158.3" cy="975.7" rx="6.7" ry="5" transform="rotate(75 158.3 975.7)" fill="#ff2868"/>
<ellipse cx="230.7" cy="967.5" rx="5.6" ry="4.5" transform="rotate(56 230.7 967.5)" fill="#ff2868"/>
<circle cx="231" cy="968.2" r="2.3" fill="#8030d0"/>
<ellipse cx="139.6" cy="855.1" rx="3" ry="2.5" transform="rotate(9 139.6 855.1)" fill="#ff2868"/>
<ellipse cx="221.5" cy="950" rx="3.1" ry="2.3" transform="rotate(177 221.5 950)" fill="#ff2868"/>
<ellipse cx="246.7" cy="826.4" rx="3.4" ry="3.4" transform="rotate(149 246.7 826.4)" fill="#ff2868"/>
</g>
</g>
<clipPath id="ce2"><rect x="266.3" y="823.8" width="210" height="210.6"/></clipPath>
<filter id="fc2" filterUnits="userSpaceOnUse" x="258.3" y="815.8" width="226" height="226.6" color-interpolation-filters="sRGB"><feTurbulence type="fractalNoise" baseFrequency="0.13" numOctaves="2" seed="17" result="t"/><feDisplacementMap in="SourceGraphic" in2="t" scale="5" xChannelSelector="R" yChannelSelector="G" result="d"/><feTurbulence type="fractalNoise" baseFrequency="0.07" numOctaves="2" seed="11" result="t2"/><feColorMatrix in="t2" type="matrix" values="0 0 0 0 0  0 0 0 0 0  0 0 0 0 0  4.2 0 0 0 -0.95" result="a"/><feComposite in="d" in2="a" operator="in" result="c"/><feGaussianBlur in="c" stdDeviation="0.8"/></filter>
<filter id="fo2" filterUnits="userSpaceOnUse" x="258.3" y="815.8" width="226" height="226.6" color-interpolation-filters="sRGB"><feTurbulence type="fractalNoise" baseFrequency="0.07" numOctaves="2" seed="8" result="t"/><feDisplacementMap in="SourceGraphic" in2="t" scale="6" xChannelSelector="G" yChannelSelector="B" result="d"/><feGaussianBlur in="d" stdDeviation="0.75"/></filter>
<g clip-path="url(#ce2)">
<rect x="266.3" y="823.8" width="210" height="210.6" fill="#020212"/>
<g filter="url(#blE2)"><path d="M297.4 953.5h0M377.6 954.3h0M371.5 870.6h0M423.3 914.6h0M453 997.6h0M348.4 980.3h0M463.2 1022.6h0M296.3 924.8h0M333 977.2h0M435.7 998.5h0M348.1 1000.2h0M413.7 1017.9h0M419.1 1006.4h0M450.9 1025h0M280.3 983.4h0M323.6 1013.9h0M424 960.4h0M294.5 895.1h0M411.8 842.5h0M278.1 923.2h0M314.8 891.7h0M325.9 841.7h0M271.2 860.4h0M317.8 947.1h0M283 989.2h0M399.7 976.2h0M371.8 883.4h0M327.2 960.4h0M401.8 896.2h0M351 893h0M317 984.4h0M453.8 949.2h0M424 894.4h0M470.2 906h0M309.7 884.7h0M348 846.2h0M390.4 1002.5h0M323.4 849.5h0M437 1016.2h0M269.2 991.9h0M415.1 974.8h0M443.6 876.4h0M463.3 962.2h0M413.7 959.8h0M342.8 986.9h0M414.8 933.8h0M308.6 943.4h0M318.9 876.7h0M334.8 920.6h0M393.1 926.8h0M429.2 898.4h0M443.4 994.9h0M435.1 953.5h0M268.2 902.7h0M425.8 875.5h0M269.4 951.1h0M396.1 980.8h0M391.7 951.3h0M326.1 1024.4h0M415.2 836.5h0M360 873.1h0M388.2 940.6h0M464.9 984.9h0M302.7 850.9h0M426.3 1000.4h0M325 904.2h0M273.5 870.1h0M377.3 1032.7h0M345.8 953h0M280.7 841.3h0M325.9 996.9h0M317.8 972.8h0M302.1 930h0M452.7 958.6h0M353.6 1019.7h0M473.2 984.9h0M473.2 939.8h0M448.9 930.1h0M372 943.1h0M304.1 828.7h0M373 937.1h0M422.5 882h0M325.9 915.8h0M420.5 904.2h0M438.9 837.1h0M443.5 941.7h0M400 984.4h0M298.2 975.3h0M469.9 857.3h0M461.7 847.3h0M319.7 834.7h0M342.3 965.6h0M455.1 893h0M360.2 939.9h0M314.6 827.3h0M461.8 831.7h0M386.7 978.8h0M271.7 925.4h0M445.7 897h0M368.4 888.2h0M279.2 995.8h0M369.2 832.7h0M334.9 898.5h0M321 828.3h0M277.5 1015.1h0M358.6 919.4h0M313.8 963.8h0M473.4 921.8h0M321.4 1006h0M467.1 897.2h0M286.3 974.2h0M321.1 887.3h0M443.3 1004.2h0M473.7 833.8h0M300.8 1009h0M290.1 889.1h0M454.3 899.9h0M342.2 974.8h0M301.7 935.5h0M473.7 1030.2h0M406.8 824h0M292.6 845h0M425.6 986.5h0M283 870.9h0M361.4 962.6h0M383.7 879.6h0M471.9 1015.3h0M341.4 1001.2h0M306.1 992.7h0M439.7 1034.1h0M414.2 873.7h0M417.1 1011.4h0M350 1013.4h0M474.3 893h0M407.1 989.7h0M281.2 940.6h0M381.1 968.8h0M301.5 986.3h0M271.7 996.7h0M315.4 938.8h0M334.2 990.5h0M329.1 875.2h0M341.8 862.4h0M267.7 1025.4h0M448.8 904.8h0M355.9 979.8h0M469.1 946.5h0M445.6 974.6h0M396.9 959.8h0M367.1 910.8h0M343.2 910.9h0M439.8 975.9h0M355 878.6h0M408.3 948.1h0M381.9 995.4h0M368.2 977.2h0M283.4 914.1h0M362.8 975.5h0M282.5 1024.9h0M313.6 876.4h0M433.9 1005.7h0M375.9 974.4h0M284.1 1017.4h0M276.9 833.8h0M327 864.4h0M393.1 877.9h0M324.3 879.2h0M454.9 906.8h0M407.7 920.3h0M472.6 962.2h0M301.2 944.7h0M304.8 842.8h0M464.9 837.1h0M268.2 841.1h0M374.6 893.1h0M354.9 1003.2h0M357.6 987.6h0M287.4 922.6h0M307.4 919.3h0M299.1 825.5h0M313.5 902.9h0M307.4 959.9h0M362.7 1005.8h0M371.6 955.3h0M425 967.1h0M419.9 891.2h0M364.2 956.6h0M376 879.1h0M466 920.9h0M266.7 871.5h0M340.3 960.5h0M396.9 890.1h0M267.6 915.6h0M386.7 867.5h0M395.1 853.4h0M280.4 883.2h0M351.5 852h0M410.7 913.4h0M384.7 874.1h0M465.3 885.8h0M471 852h0M433.3 901.9h0M269.1 881.5h0M357.7 927.8h0M289.6 998h0M378.2 982.2h0M333.1 940.1h0M386.9 848.1h0M322.9 1019.6h0M462.1 933.6h0M308.8 1005.1h0M463.1 863.2h0M436.7 871.6h0M295.8 849.4h0M326.2 921.2h0M468.6 1024.3h0M300.4 869.8h0M435.6 865.8h0M317.3 999.3h0M372.7 1029.9h0M402.4 1000h0M405.4 932.9h0M309.4 950.8h0M389.8 963.3h0M429.5 977.9h0M276.1 915.9h0M352.7 909.7h0M335.1 850h0M267.3 935h0M316.6 954.3h0M359.9 842.3h0M450.9 1019.5h0M329.8 1015.5h0M416.8 868.4h0M400.2 901.8h0M279.9 888.5h0M413.5 939.4h0M337.2 981.1h0M341.6 1010.3h0M376.3 899.7h0M468.6 824.6h0M427.2 1016.4h0M292.2 1007.5h0M426.1 905h0M342.5 885h0M439.7 899.5h0M416.8 847.1h0M429.7 857.3h0M340 992.8h0M458 868.5h0M437.6 945.7h0M354 973.7h0M307.3 861.2h0M453.7 923.6h0M420.2 1000.9h0M381.6 944.5h0M456.7 852h0M267.6 848.2h0M352.7 984.3h0M356.1 964.8h0M266.6 895.2h0M423.6 824.4h0M306.6 868.3h0M358.5 1023.2h0M286.5 894.5h0M460.4 916.6h0M287.3 992.6h0M441.3 950.4h0M300.5 962.9h0M331.2 916.7h0M451.2 984.9h0M473.3 928.1h0M308 925.3h0M447.1 936.6h0M312.5 989.8h0M273.8 841.9h0M430.6 872h0M474.7 977.4h0M285.4 1032.3h0M440.8 925.4h0M440 904.9h0M307.8 824.6h0M277.6 1028.5h0M462.7 893.9h0M376.6 948h0M411.3 900.9h0M371.9 970.7h0M298.3 913.4h0M335.6 1012.9h0M356.8 868.9h0M276.9 903.1h0M400 1011.9h0M298 890h0M431.2 1033.7h0M309.9 854.4h0M396.6 937.7h0M330.5 1021.4h0M354.8 993.7h0M428.4 880.5h0M376.8 1007.5h0M321.6 987.2h0" stroke="#0a0a80" stroke-width="12" stroke-linecap="round" opacity="0.2" fill="none"/></g>
<g filter="url(#fc2)" fill="none" stroke-linecap="round">
<path d="M390 956.8h0M458.4 955h0M405.5 870.3h0M285.8 859.6h0M471.7 871.8h0M410.7 1033.1h0M278.1 923.2h0M348.3 916.6h0M422.5 995.3h0M458.4 1001.7h0M409.1 996.8h0M358.6 1017.9h0M334.4 997.5h0M444.5 856.4h0M288.6 980.9h0M309.7 884.7h0M390.4 1002.5h0M269.2 991.9h0M415.1 974.8h0M356.7 862.8h0M418.9 945.2h0M354.4 1009.1h0M308.6 943.4h0M373.3 929h0M336.8 944.3h0M435.1 953.5h0M421.3 843h0M372.8 1000.9h0M269.4 951.1h0M328.4 942.8h0M403 950.9h0M364.9 879.5h0M419.1 858.6h0M360 873.1h0M383.5 834.8h0M350 926.3h0M289.8 881.6h0M345.8 953h0M421.6 972.7h0M311.9 999.6h0M381.8 988.4h0M360.5 970.2h0M271.1 981.2h0M452.7 958.6h0M473.6 845.4h0M433.9 931.8h0M359.6 996.3h0M469.8 1009.8h0M372 943.1h0M342.8 851.6h0M304.1 828.7h0M454.7 882.4h0M420.5 904.2h0M468.3 974.1h0M409.2 865.5h0M441.5 912.6h0M360.2 939.9h0M340.1 832.9h0M368.7 1004.8h0M302.7 887.5h0M390 840.8h0M275.2 969.9h0M418.1 982h0M302.2 878.4h0M404.1 888.7h0M434.3 877.5h0M302.1 979.5h0M434.7 907.8h0M428 956.7h0M289.1 1020.6h0M290.1 889.1h0M364.6 923.5h0M292.6 845h0M434.9 937.2h0M306.1 992.7h0M417.1 1011.4h0M474.3 893h0M364.5 932.1h0M381.6 890.9h0M466.7 1005.1h0M374.3 963.9h0M356.9 855.9h0M304.4 968.2h0M402.1 829.1h0M266.4 929.4h0M373.3 987.7h0M367.1 910.8h0M337.9 855h0M439.8 975.9h0M355 878.6h0M419.5 964.2h0M464.1 950.3h0M452.9 863.3h0M326.4 824.9h0M279 952.1h0M313.6 876.4h0M387 888.9h0M433.9 1005.7h0M410.3 881.5h0M276.9 833.8h0M319.9 923.8h0M461.9 878.8h0M454.9 906.8h0M307.7 848.5h0M431.5 893.1h0M366.9 852.7h0M346.1 858.6h0M317.4 1031.9h0M322.9 979.4h0M357.6 987.6h0M434.6 964.2h0M354.1 841.1h0M307.4 959.9h0M353.1 943.6h0M371.6 955.3h0M330.5 1002.5h0M317.4 1019.9h0M292.8 901.1h0M363.5 1013.2h0M458.3 1019.4h0M308.7 976.6h0M444.2 1024.4h0M308.9 913.5h0M340.3 960.5h0M379.4 829.8h0M318.1 932.4h0M273.1 987.4h0M327.9 950.9h0M266.9 835.7h0M447.5 920.9h0M471 852h0M336 887.7h0M424.2 952h0M289.6 998h0M378.2 982.2h0M286.3 852.8h0M452.7 938.1h0M474.6 867.2h0M321.8 950.5h0M352.7 909.7h0M275 944.8h0M304.6 834.5h0M371.4 1023.6h0M373.6 828.6h0M468.6 824.6h0M394.4 907.6h0M292.2 1007.5h0M466.3 996h0M342.5 885h0M439.7 899.5h0M364.8 1000.2h0M458 868.5h0M354 973.7h0M355 898.9h0M456.7 852h0M352.7 984.3h0M356.1 964.8h0M293.2 945.3h0M273.2 897.1h0M449.1 886h0M327 990h0M440.8 851.9h0M394.9 845.1h0M296.8 931.8h0M331.2 916.7h0M389.5 834.5h0M267.4 1033.7h0M326.8 1034h0M308 925.3h0M459 888.7h0M312.5 989.8h0M430.6 872h0M388.6 1024.7h0M428 919.1h0M391.3 919.8h0M376.9 991.7h0M462.7 893.9h0M376.6 948h0M355.8 885.6h0M445.8 839h0M425.2 945.4h0M359.6 904.7h0M421.6 837.5h0M290.1 958.3h0M467.3 1018.2h0M375.1 835.2h0M421.5 872.3h0M417.7 916.3h0M280.6 978.1h0" stroke="#0808a8" stroke-width="4.6"/>
<path d="M451 978.7h0M336.2 968.6h0M453 997.6h0M365 1023.4h0M397.7 1006.7h0M470.8 934.9h0M463.7 868.7h0M296.3 924.8h0M443.3 959.1h0M459.4 922.6h0M324.3 869.9h0M413.7 1017.9h0M419.1 1006.4h0M283 970h0M424 960.4h0M298.3 838h0M411.8 842.5h0M361.3 1033.3h0M314.8 891.7h0M421.4 1019.8h0M271.2 860.4h0M283 989.2h0M399.7 976.2h0M428 832h0M344.8 1014.6h0M440.4 892.4h0M438.7 859.3h0M470.2 906h0M335.8 932.3h0M430.9 1022h0M464.1 944.2h0M360.6 850.1h0M389.7 1011.2h0M404.6 852.6h0M355.4 948.5h0M267.5 1007.4h0M447.6 1034h0M347.4 1032.9h0M317.2 907.6h0M284 962.4h0M334.8 920.6h0M447.3 915.6h0M425.8 875.5h0M295.2 829.5h0M296.1 881h0M391.7 951.3h0M379 931.7h0M447.1 832.1h0M449.9 990.3h0M388.2 940.6h0M279.6 846.8h0M337.6 881.2h0M325 904.2h0M474.1 1021h0M377.3 1032.7h0M430.5 983.8h0M452.9 847.9h0M317.8 972.8h0M302.1 930h0M353.6 1019.7h0M473.2 984.9h0M322.7 963.7h0M464.4 856.9h0M422.5 882h0M291.9 953.2h0M325.9 915.8h0M336.1 1006.9h0M411.6 928.9h0M364.2 989.1h0M396.4 825.7h0M298.2 975.3h0M296.6 959.3h0M389.6 854.4h0M322.2 992.9h0M337.1 950.3h0M401.9 844.6h0M420.8 922.9h0M357.6 825.6h0M457.4 1008.3h0M291.4 929.8h0M271.7 925.4h0M309.5 1030.1h0M301.9 895.1h0M279.2 995.8h0M430.1 950.1h0M386.8 928.6h0M335.9 1020h0M363 915.8h0M286.3 974.2h0M270.2 1012.6h0M324.9 932.5h0M344.9 945.7h0M408.3 981.1h0M283.5 834h0M300.8 1009h0M311.5 832.1h0M323.5 858.5h0M454.3 899.9h0M393.9 900h0M283.2 865.6h0M467.8 929.1h0M422.2 934.1h0M347 889.3h0M425.3 926.2h0M376.7 920.4h0M361.4 962.6h0M341.4 1001.2h0M456.2 1028.7h0M398 834.2h0M386.6 904.8h0M368.2 948.9h0M341.1 894.1h0M340.8 926.6h0M320.3 941.2h0M381.1 968.8h0M458.8 944.7h0M301.5 986.3h0M408.6 971.8h0M276.7 960.9h0M334.2 990.5h0M379.6 885.7h0M335.1 905.5h0M448.8 904.8h0M355.9 979.8h0M469.1 946.5h0M349 835.8h0M396.9 959.8h0M268.1 909.5h0M285.5 934.2h0M408.6 905.7h0M368.2 977.2h0M310.8 984.2h0M386.8 1031.6h0M349.1 990.3h0M332 856.2h0M273.4 1032.6h0M361.9 884.6h0M393.1 877.9h0M377.8 853.6h0M429.5 913.7h0M472.6 962.2h0M301.2 944.7h0M308.3 906.3h0M454.6 916.6h0M375 1016.3h0M354.9 1003.2h0M299 860.7h0M387.9 914.1h0M299.1 825.5h0M277.3 856.4h0M321.3 1027.5h0M435 925.5h0M426.7 839.1h0M320.2 913.3h0M403.6 943.3h0M380.7 907.4h0M382.5 974.7h0M433.7 852.4h0M384.7 874.1h0M465.3 885.8h0M406 836h0M452.6 842h0M357.7 927.8h0M333.1 940.1h0M354.9 847h0M322.9 1019.6h0M364.1 944.3h0M363.4 894.7h0M460.9 905.7h0M463.1 863.2h0M356.4 891.7h0M332.5 1033.5h0M475.3 886.9h0M307.9 937.8h0M333.2 866.3h0M389.9 894.6h0M295 937.7h0M317.3 999.3h0M317.5 855.5h0M405.4 932.9h0M433.2 1027h0M309.4 950.8h0M303.5 1018.1h0M371.9 846.7h0M312.2 957.2h0M460 1034.1h0M450.9 1019.5h0M335.6 911.1h0M329.8 1015.5h0M342.7 933.3h0M460.5 898.8h0M292.5 963.1h0M385.6 829h0M351.7 954.9h0M454.6 964.7h0M395.1 932.2h0M366.7 1033.2h0M401.7 877.1h0M346.8 830.1h0M426.1 905h0M308.8 839h0M416.8 847.1h0M329 846.3h0M415.5 996.8h0M340 992.8h0M276.6 1002.6h0M327.3 853.6h0M448.9 878.8h0M283 827.7h0M475.3 914.1h0M437.5 981.7h0M475.3 957.3h0M288.8 911.5h0M280.4 1034.4h0M266.6 895.2h0M267.8 957.6h0M441.3 950.4h0M453.6 1034.2h0M419.1 1027.1h0M357.2 935h0M451.2 984.9h0M312 969.4h0M473.3 928.1h0M419.8 929.3h0M267.5 971.2h0M312.1 1009.3h0M366.6 994.1h0M474.7 977.4h0M266.8 865.4h0M476.3 826.6h0M440 904.9h0M277.6 1028.5h0M411.3 900.9h0M356.8 868.9h0M400 1011.9h0M309.9 854.4h0M423.3 978.1h0M381.4 926.9h0M266.5 986.4h0M376.8 1007.5h0" stroke="#0a0ccc" stroke-width="5.4"/>
<path d="M297.4 953.5h0M377.6 954.3h0M313.9 850.8h0M407.1 875.7h0M463.2 1022.6h0M283.2 905.8h0M291.3 855.5h0M422.4 866.2h0M467.8 958.2h0M442 881.5h0M305.9 1023.8h0M361.1 950.5h0M450.9 1025h0M294.5 1016.4h0M388.7 883h0M383.1 949.8h0M323.6 1013.9h0M413.6 1025.8h0M294.5 895.1h0M341.6 1026.9h0M411.3 895.2h0M346 995h0M325.9 841.7h0M446.5 1011.6h0M317.8 947.1h0M279.9 934h0M347.1 1024.8h0M371.8 883.4h0M327.2 960.4h0M317.1 898.7h0M343 905.6h0M401.8 896.2h0M301.8 901.8h0M351 893h0M383.5 861.7h0M453.8 949.2h0M424 894.4h0M315.1 927.2h0M411.5 1005.8h0M459.4 970h0M401.9 926.5h0M463.3 962.2h0M414.8 933.8h0M358.9 910h0M429.5 826.2h0M268.2 902.7h0M376.4 910.7h0M396.1 980.8h0M345.7 1006.2h0M326.1 1024.4h0M444.6 979.9h0M271.6 852.1h0M464.9 984.9h0M407.1 1018.3h0M426.3 1000.4h0M281.7 1008.6h0M342.8 899.1h0M325.9 996.9h0M473.5 950.5h0M308 873.4h0M339.7 826h0M473.2 939.8h0M447.4 955.4h0M304.2 949.1h0M373 937.1h0M323.7 894.3h0M311.8 897.8h0M438.9 837.1h0M443.5 941.7h0M448.5 947.9h0M400 984.4h0M470.1 967.6h0M469.9 857.3h0M411.3 831.3h0M429.4 971.8h0M342.3 965.6h0M307.6 1013h0M314.6 827.3h0M386.7 978.8h0M400.1 862.1h0M445.7 897h0M368.4 888.2h0M334.9 898.5h0M321 828.3h0M313.9 840.7h0M277.5 1015.1h0M399 1017.3h0M313.8 963.8h0M473.4 921.8h0M321.4 1006h0M366.6 966.4h0M321.1 887.3h0M315 868.9h0M301.7 935.5h0M473.7 1030.2h0M326 969.3h0M452.8 825.2h0M380.5 1002.1h0M383.7 879.6h0M411.8 826h0M293.2 915.2h0M339.7 838.6h0M439.7 1034.1h0M414.2 873.7h0M294.3 873.6h0M350 1013.4h0M365.4 828.4h0M379.3 939.3h0M407.1 989.7h0M333.1 1026h0M398.3 994h0M433.8 831.4h0M392.1 971.4h0M315.4 938.8h0M363 865.9h0M351.7 932.6h0M267.7 1025.4h0M390.5 826.2h0M419.8 898.5h0M345.3 840.7h0M399.5 882.5h0M428.4 940.9h0M371.1 862.2h0M274.5 880.4h0M408.3 948.1h0M381.9 995.4h0M283.4 914.1h0M282.5 1024.9h0M351.2 968.8h0M375.9 974.4h0M335.4 860.9h0M284.1 1017.4h0M327.6 888h0M363.2 982.7h0M284.5 927.2h0M406.2 1027.2h0M379.2 841.4h0M274.1 1022.5h0M304.8 842.8h0M374.6 893.1h0M404.2 916.1h0M302.7 954.8h0M382.6 896.5h0M449 859.2h0M313.5 902.9h0M414.4 888.6h0M347 875.4h0M362.7 1005.8h0M286 885.4h0M457.2 980.7h0M364.2 956.6h0M376 879.1h0M413.9 988.1h0M396.9 890.1h0M267.6 915.6h0M386.7 867.5h0M333.2 843h0M395.1 853.4h0M280.4 883.2h0M332.1 829.4h0M410.7 913.4h0M449.1 963.3h0M276.1 865.5h0M330.2 910h0M459.7 939.2h0M457.1 834.9h0M459.4 991.7h0M434.4 919.8h0M339 1033.1h0M357.8 834.1h0M442.7 932.8h0M462.1 933.6h0M308.8 1005.1h0M287.2 875.7h0M436.7 871.6h0M295.8 849.4h0M412.2 860.9h0M468.6 1024.3h0M435.6 865.8h0M435.5 986.9h0M466.3 915.1h0M372.7 1029.9h0M389.8 963.3h0M398.1 840.1h0M429.5 977.9h0M440 886.7h0M348.7 868.3h0M327 832.3h0M316.6 954.3h0M312.4 1023.1h0M392.5 995h0M444 864.4h0M419.4 956.1h0M426.4 1006.3h0M279.9 888.5h0M337.2 981.1h0M365.5 938.1h0M341.6 1010.3h0M376.3 899.7h0M343.4 939.3h0M407.7 1010.2h0M289.8 939h0M393.7 986.7h0M416.4 829.1h0M476.2 1004.4h0M274.3 826.1h0M271.9 919.9h0M437.6 945.7h0M450.2 868.2h0M467.5 846.4h0M413 965.9h0M456.4 829.1h0M422.2 940.6h0M395.7 1001.2h0M423.6 824.4h0M346.9 972.1h0M287 1010.8h0M358.5 1023.2h0M316.6 881.6h0M286.5 894.5h0M449.6 1003.2h0M460.4 916.6h0M300.5 962.9h0M440 1011.7h0M447.1 936.6h0M474.5 839.1h0M370.3 922.4h0M441.5 918.8h0M440.8 925.4h0M428.4 934.9h0M371.9 970.7h0M315.9 918.6h0M306.2 898.3h0M304.9 856.3h0M398.7 947.7h0M402.8 1022.1h0M431.2 1033.7h0M329.9 894.2h0M299.8 844.9h0M317.6 1014.4h0M330.5 1021.4h0M435.3 841.8h0M321.6 987.2h0" stroke="#0e10ea" stroke-width="6.0"/>
<path d="M415.9 951.8h0M396 943.1h0M348.4 980.3h0M333 977.2h0M317.4 863.4h0M348.1 1000.2h0M280.3 983.4h0M379 915.6h0M317.3 978.4h0M388.2 987.8h0M382 1008.6h0M348 846.2h0M463.3 1014.3h0M323.4 849.5h0M461.8 911.3h0M428.4 863.8h0M437 1016.2h0M273.4 976.4h0M387.8 934.5h0M413.7 959.8h0M314.5 913h0M342.8 986.9h0M350.5 938.3h0M392.1 870h0M318.9 876.7h0M475.9 903.2h0M357.5 957.7h0M393.1 926.8h0M292.3 907.4h0M429.2 898.4h0M392.9 1020.9h0M445.3 824.8h0M371.8 840h0M415.2 836.5h0M430.5 845.5h0M301.2 918h0M273.5 870.1h0M368.5 896.6h0M280.7 841.3h0M389.4 859.8h0M393.8 914.1h0M448.9 930.1h0M351.4 904h0M416.2 909.2h0M319.7 834.7h0M376.5 865.3h0M455.1 893h0M453.5 973.8h0M461.8 831.7h0M404.6 961.7h0M369.2 832.7h0M341.9 916.4h0M439.2 1026.4h0M358.6 919.4h0M384.5 960.3h0M340.5 846.1h0M453.2 874.5h0M443.3 1004.2h0M473.7 833.8h0M406.8 824h0M357.1 1028.9h0M425.6 986.5h0M313.5 859.3h0M281.2 940.6h0M271.7 996.7h0M411.2 853h0M443.6 966h0M329.1 875.2h0M341.8 862.4h0M268.9 943.7h0M443.9 985.9h0M420.9 851.9h0M445.6 974.6h0M343.2 910.9h0M362.8 975.5h0M284.8 947.7h0M395.1 965.6h0M324.3 879.2h0M407.7 920.3h0M398 871.3h0M293.1 834.4h0M268.2 841.1h0M294.6 981.3h0M287.4 922.6h0M307.4 919.3h0M291.6 1031.6h0M425 967.1h0M419.9 891.2h0M326.3 984.1h0M266.7 871.5h0M417.8 878.4h0M382.3 1026h0M351.5 852h0M433.3 901.9h0M467.7 990.4h0M276.2 1007.9h0M432.3 1010.8h0M451.8 1010.3h0M327.6 974.8h0M326.2 921.2h0M300.4 869.8h0M376.6 872.1h0M402.4 1000h0M406.2 938.5h0M429.4 992h0M304.1 1002h0M462.6 976.8h0M335.1 850h0M267.3 935h0M284.9 954h0M416.8 868.4h0M400.2 901.8h0M383 1017.3h0M413.5 939.4h0M427.2 1016.4h0M429.7 857.3h0M299.5 1022.9h0M453.7 923.6h0M475.9 860.7h0M381.6 944.5h0M439.1 828.9h0M300.6 995.9h0M436.5 969.7h0M306.6 868.3h0M406 955.6h0M287.3 992.6h0M318.5 844h0M286.3 843.8h0M329.9 837.4h0M274.5 886h0M458.5 823.9h0M398.2 953.9h0M370.3 1013.5h0M273.5 956h0M449.2 968.8h0M298.3 913.4h0M304.3 1029h0M276.9 903.1h0M293.8 1023.1h0M469.3 840.7h0M298 890h0M290.6 969.4h0M287.1 899.9h0M396.6 937.7h0M354.8 993.7h0" stroke="#181aff" stroke-width="5.0"/>
<path d="M371.5 870.6h0M423.3 914.6h0M456.9 859h0M435.7 998.5h0M467.7 830.3h0M365.1 901h0M317 984.4h0M473.2 999.4h0M413.8 920h0M431.2 886.4h0M443.6 876.4h0M300.3 1032.9h0M443.4 994.9h0M293.2 988.4h0M266.7 886.6h0M302.7 850.9h0M332 928.6h0M269.3 965.3h0M296.9 967.7h0M475 970.8h0M461.7 847.3h0M399.8 910.8h0M334.7 959h0M467.1 897.2h0M330.7 1008.9h0M288.5 824.6h0M364.8 835.7h0M273.9 938.8h0M342.2 974.8h0M472.3 993.2h0M280.3 898.1h0M421.6 831.4h0M427 1029.6h0M283 870.9h0M271.8 891.9h0M363.8 858.5h0M350.2 863.2h0M467.6 1030.4h0M471.9 1015.3h0M372.1 994.2h0M442 870.2h0M299.1 906.4h0M458.7 929.1h0M448.9 892.1h0M370.8 982.3h0M327 864.4h0M294.9 999.2h0M310.1 931.3h0M464.9 837.1h0M426.5 850.5h0M277.5 908.6h0M466 920.9h0M379.7 846.8h0M269.1 881.5h0M397.5 920.3h0M386.9 848.1h0M349.2 898.4h0M293.9 863.6h0M331.4 964.7h0M276.1 915.9h0M299 854.9h0M399.6 969.6h0M268.8 825.6h0M290.4 840h0M359.9 842.3h0M404.7 1032.5h0M424.4 859.3h0M470.3 881.9h0M307.3 861.2h0M420.2 1000.9h0M469.1 876.7h0M267.6 848.2h0M349.1 961.9h0M270.1 1002.3h0M377.7 1022.1h0M273.8 841.9h0M370.2 904.7h0M285.4 1032.3h0M290.4 869.8h0M307.8 824.6h0M277.4 875.1h0M335.6 1012.9h0M366.3 871.8h0M469.1 866h0M428.4 880.5h0" stroke="#1014f0" stroke-width="7.0"/>
</g>
<g fill="none" stroke-linecap="round" filter="url(#fo2)">
<path d="M291.5 832.2C297.8 855.4 312.5 878.6 333.5 893.3" stroke="#18c048" stroke-width="1.4" opacity="0.6" stroke-dasharray="9 1 4 1.5"/>
<path d="M329.3 929.1Q341.9 933.3 354.5 939.6" stroke="#18c048" stroke-width="1.3" opacity="0.8" stroke-dasharray="6 3 2 1.5"/>
<path d="M400.7 912.3Q413.3 916.5 421.7 922.8" stroke="#18c048" stroke-width="1.1" opacity="0.6" stroke-dasharray="9 3 3 1.5"/>
<path d="M346.1 992.3Q354.5 1004.9 350.3 1017.6" stroke="#18c048" stroke-width="1.3" opacity="0.7" stroke-dasharray="5 3 5 1.5"/>
<path d="M335.6 1009.1Q346.1 1023.9 352.4 1034.4" stroke="#18c048" stroke-width="1" opacity="0.7" stroke-dasharray="9 2 3 1.5"/>
<path d="M402.8 849.1Q413.3 844.9 419.6 853.3" stroke="#18c048" stroke-width="1.1" opacity="0.8" stroke-dasharray="8 2 4 1.5"/>
<path d="M444.8 887Q451.1 893.3 446.9 899.6" stroke="#18c048" stroke-width="1.1" opacity="0.6" stroke-dasharray="4 1 2 1.5"/>
<path d="M276.8 1028.1Q287.3 1026 297.8 1030.2" stroke="#18c048" stroke-width="1.1" opacity="0.5" stroke-dasharray="8 1 2 1.5"/>
<path d="M455.3 983.9Q465.8 988.1 474.2 992.3" stroke="#18c048" stroke-width="1" opacity="0.7" stroke-dasharray="8 3 2 1.5"/>
<path d="M317.4 1019.9Q328.6 1019 339 1023.6" stroke="#1cb450" stroke-width="1.1" opacity="0.3"/>
<path d="M430.6 872Q434 869.8 437.3 867.5" stroke="#1cb450" stroke-width="1" opacity="0.4"/>
<path d="M324.9 932.5Q316.5 930.8 315.8 922.3" stroke="#1cb450" stroke-width="1.5" opacity="0.4"/>
<path d="M411.8 826Q408.7 828.5 405.1 830.4" stroke="#1cb450" stroke-width="1.3" opacity="0.5"/>
<path d="M419.8 929.3Q430.5 936.1 435.8 947.6" stroke="#1cb450" stroke-width="1" opacity="0.3"/>
<path d="M309.5 1030.1Q319.4 1026.4 328.1 1020.5" stroke="#1cb450" stroke-width="1.5" opacity="0.4"/>
<path d="M453.2 874.5Q447.4 874.6 446.9 868.8" stroke="#1cb450" stroke-width="0.9" opacity="0.2"/>
<path d="M465.3 885.8Q471.7 884.9 475.1 890.5" stroke="#1cb450" stroke-width="1.4" opacity="0.5"/>
<path d="M374.3 963.9Q383.3 960.9 389.7 967.9" stroke="#1cb450" stroke-width="0.9" opacity="0.4"/>
<path d="M410.7 913.4Q415.9 914.5 416.3 919.9" stroke="#1cb450" stroke-width="1" opacity="0.3"/>
<path d="M315.4 938.8Q323.9 932.4 331.2 924.7" stroke="#1cb450" stroke-width="1.1" opacity="0.3"/>
<path d="M463.7 868.7Q450.7 868.8 442.7 858.5" stroke="#1cb450" stroke-width="1.1" opacity="0.4"/>
<path d="M311.8 897.8Q313.6 892.1 319.5 892.4" stroke="#1cb450" stroke-width="1.2" opacity="0.3"/>
<path d="M407.1 989.7Q403.8 996.3 396.7 994.3" stroke="#1cb450" stroke-width="0.9" opacity="0.5"/>
<path d="M366.7 1033.2Q376.8 1032.3 383.3 1040" stroke="#1cb450" stroke-width="1.2" opacity="0.5"/>
<path d="M377.7 1022.1Q369.1 1025 360 1025.4" stroke="#1cb450" stroke-width="0.9" opacity="0.3"/>
<path d="M473.6 845.4Q483.3 836.9 496.2 835.6" stroke="#1cb450" stroke-width="1.1" opacity="0.3"/>
<path d="M294.6 981.3Q304.5 972.5 307.4 959.6" stroke="#1cb450" stroke-width="1.4" opacity="0.3"/>
<path d="M452.7 958.6Q448.4 946.6 440.1 937" stroke="#1cb450" stroke-width="1.5" opacity="0.3"/>
<path d="M398.7 947.7Q393.1 943.8 389.2 938.2" stroke="#1cb450" stroke-width="1" opacity="0.3"/>
<path d="M411.3 895.2Q399.8 890.8 387.5 891.2" stroke="#1cb450" stroke-width="1.2" opacity="0.3"/>
<path d="M353.6 1019.7Q359.1 1019.4 360.5 1014.2" stroke="#1cb450" stroke-width="1.2" opacity="0.5"/>
<path d="M399.7 976.2Q401.6 983.2 406.6 988.4" stroke="#1cb450" stroke-width="1.1" opacity="0.4"/>
<path d="M312.4 1023.1Q316.3 1015.6 324.7 1014.6" stroke="#1cb450" stroke-width="1.5" opacity="0.4"/>
<path d="M467.7 990.4Q457.8 983.1 445.5 983.8" stroke="#1cb450" stroke-width="0.9" opacity="0.4"/>
<path d="M445.8 839Q448.8 828.4 446.4 817.7" stroke="#1cb450" stroke-width="1.1" opacity="0.5"/>
<path d="M371.8 883.4Q368.1 870 356.3 862.6" stroke="#1cb450" stroke-width="0.9" opacity="0.3"/>
<path d="M445.7 897Q453.2 901 449.5 908.7" stroke="#1cb450" stroke-width="1.1" opacity="0.3"/>
<path d="M425 967.1Q422.3 979.4 414.6 989.5" stroke="#1cb450" stroke-width="1.4" opacity="0.3"/>
<path d="M351.5 852Q341.8 853.4 332.6 849.9" stroke="#1cb450" stroke-width="1" opacity="0.4"/>
<path d="M330.7 1008.9Q340.3 1007.2 346.5 999.7" stroke="#1cb450" stroke-width="1.1" opacity="0.5"/>
<path d="M465.3 885.8Q468.4 893.3 466.7 901.2" stroke="#1cb450" stroke-width="1.2" opacity="0.4"/>
<path d="M395.7 1001.2Q404.8 1000.1 413.2 1003.8" stroke="#1cb450" stroke-width="1.4" opacity="0.4"/>
<path d="M429.4 992Q432.2 983.5 428.4 975.5" stroke="#1cb450" stroke-width="1.3" opacity="0.4"/>
<path d="M326 969.3Q331.9 963.9 334.7 956.3" stroke="#1cb450" stroke-width="1.5" opacity="0.3"/>
<path d="M345.7 1006.2Q352.1 1017.8 350.3 1030.9" stroke="#1cb450" stroke-width="1" opacity="0.5"/>
<path d="M458.4 955Q453.3 960 446.5 962.4" stroke="#1cb450" stroke-width="1" opacity="0.4"/>
<path d="M323.7 894.3Q315.6 889.9 306.7 888.1" stroke="#1cb450" stroke-width="0.9" opacity="0.4"/>
<path d="M451.8 1010.3Q451.3 1016.9 445.7 1020.4" stroke="#1cb450" stroke-width="1.2" opacity="0.3"/>
<path d="M276.7 960.9Q271 962.4 265.2 963.1" stroke="#1cb450" stroke-width="1.2" opacity="0.3"/>
<path d="M469.8 1009.8Q475.1 1006.2 478.7 1011.5" stroke="#1cb450" stroke-width="1" opacity="0.4"/>
<path d="M365.1 901Q368.9 891.9 362 884.7" stroke="#1cb450" stroke-width="1.1" opacity="0.4"/>
<path d="M373.3 929Q382.5 920.6 385.4 908.5" stroke="#1cb450" stroke-width="1.5" opacity="0.5"/>
<path d="M411.3 895.2Q416.1 892.2 421.2 894.5" stroke="#1cb450" stroke-width="1.3" opacity="0.4"/>
<path d="M294.6 981.3Q296.2 985.4 296.2 989.9" stroke="#1cb450" stroke-width="1" opacity="0.2"/>
<path d="M329.8 1015.5Q321.6 1019.3 313.3 1016" stroke="#1cb450" stroke-width="1.1" opacity="0.3"/>
<path d="M467.8 958.2Q475.3 957.2 477.2 949.9" stroke="#1cb450" stroke-width="1" opacity="0.5"/>
<path d="M420.2 1000.9Q422.1 995.2 426.5 991.1" stroke="#1cb450" stroke-width="1.4" opacity="0.3"/>
<path d="M364.2 956.6Q353.4 957.9 343 961.1" stroke="#1cb450" stroke-width="1.3" opacity="0.4"/>
<path d="M323.4 849.5Q322.2 841.2 314.7 837.6" stroke="#1cb450" stroke-width="1" opacity="0.4"/>
<path d="M372.7 1029.9Q377.7 1023.8 377.2 1016" stroke="#1cb450" stroke-width="1.3" opacity="0.5"/>
<path d="M363 865.9Q356.6 870.8 349.5 874.7" stroke="#1cb450" stroke-width="1.2" opacity="0.3"/>
<path d="M438.8 983.2l2 2.3M355.8 981.9l2.4 1.4M364.7 1006.6l1.3 -0.4M270.8 869.5l-1.1 -1.9M367.6 833.3l1.6 0.7M477.7 859.8l-0.2 1.1M303.7 928.5l1.1 -0.3M409.1 1029.7l-2.1 -2.2M355 911.4l-1.3 -1.2M468.1 956.8l0.7 -1.7M296.1 862.9l1 -1.9M335.7 905l-1.4 -1.8M412.3 885.7l-1.8 -0.7M441.7 914.3l-1.8 0M285.1 929.3l1.4 2.3M409.7 948.1l2.4 -0.9M362.3 882l0.4 -0.5M321.5 878.9l-1 -1.4M270.7 862.8l-0.9 2.2M353.5 930.5l0.2 2.2M456.4 852.3l1.7 0.7M379.8 1020.8l1.8 1.8M474 836.3l-1.8 0.6M449.6 937l-0 1.6M314.9 890l1.4 -1.9M287.3 956.9l-2.1 -1.3M288.4 911.7l1 -2.3M354.4 983.9l1.6 1.6M329.2 942.1l-2.3 -2M380.1 931l2.3 1.1M282.5 842.8l-1.8 0.4M424 970.9l-0.9 1.7M369.5 906.4l-1.2 -1.2M359.9 1017l-1.9 1.6M275.6 970.6l1.9 -0.9M405.3 1032.6l-0.5 0.8M365.5 1021.1l-0.1 -1.1M323.7 986.4l-1.4 -0.5M351.1 838.2l1.5 -1.8M393.8 930.1l2.1 0.2M377.3 993.3l1.7 -1.7M442.3 871.5l0.8 0.5M463.2 921.6l2.2 -0.6M371.8 982.7l-2.3 -0.2M386.8 1030.7l2 -0.4M465.1 988.4l-1.9 0.7M315.5 975.8l-2.1 -0.1M331.4 845.1l-2.2 0.1M368.3 888.5l0.5 -1.1M357.9 882.9l-1.8 -0.4M376 898.4l2 -1.2M427.6 986.1l1.7 -1.4M347.7 888.7l1.9 -2.3M306.6 978.9l-2 1.1M278.7 909.4l2.1 1.9M396.7 826.4l-1.1 -1M401 993l0.7 0M362.2 835.1l-1.7 -0M298.9 869.8l-2.3 0.5M351.2 979l0.6 2.3M339.2 853.7l-1 1.3M272.8 999.7l-2.2 1.4M278.4 908.3l1 -1.9M432.2 842.6l0 1.3M343.6 976l1.6 0.2M453.4 973.5l0.9 2.3M337.4 952.1l-0.5 -1.3M424.8 946.2l-0.3 2.1M434.4 879.4l1.5 -0.8M317.2 890.5l-2 -1.5M457.2 918.2l0.7 -1.2M423.3 923.5l-0.2 -1.1M406.1 821l-1.1 0.1M271.5 867.4l1.2 -0M434.1 876.1l-0.7 -1.5M362.5 1000.5l-0.2 2M303.4 919l-1.3 -1.9M397.6 978.7l-1.7 0.6M407.4 946.6l-0.2 -0.2M283.4 915.9l1.1 0.9M442.4 826.1l-1.5 -1.3M364.7 945.1l-1.5 2.2M296.5 858.2l0.6 2M366.5 942.1l-2.4 2.1M452.7 924.4l1 1.9M299.7 919.9l0 -0.6M461.7 870.7l-1.6 1M316.4 972.5l0.2 1.6M428.9 932.7l2.3 0M311.6 1004l1.3 -1.9M377.7 873.8l1.6 -1.2M424.4 906.2l2.4 -0.4M363.6 900.1l1.2 -1.3M441.2 1024.8l2 0.2M467.1 1007.7l-0.2 0.3M460.1 914.8l-1.2 0.2M277.7 903.6l1.5 1.9M282.2 991.6l1.7 -1.2M367.8 1011.9l-1.7 -0.1M301.8 927.7l-0 1M411 972.7l-0.3 -1.7M466.9 927.4l1.7 0.2M404 915.9l1.9 1.2M269.8 922.1l2.1 -0.8M319.3 913.4l1.8 0.7M296 889.4l2.1 -0.4M395.6 989.3l-2.2 -0.4M335 989.4l-1.1 -2.3M287.9 845l1.7 0.3M342 932.3l-0.8 -1.1M462.6 1024.9l-0.5 1.9M468.7 1019.4l-2.3 -1.3M469.9 1033.4l-0.1 -1.2M326.9 851.9l1.4 -0.4M292.1 958.2l-1.9 1.4M396.2 967.3l1 -1M321.9 877.8l-0.5 -2.3M435.8 832.1l0.5 -1.7M390.5 1020.3l-1 1.5M382.1 957.5l1.8 1.1M283.3 838.8l0.9 -1.3M416.1 1017.2l2.4 1.7M286.7 950.6l-2.4 1.9M283.8 914.9l0.4 0.9M338.2 926.4l1.3 0.1M419.5 850.4l1.9 -2.1M444 911.7l2.4 1.2M311.6 957.7l-0.8 -0.5M448 1003.3l0.1 1.1M309.2 1002.6l-0.1 -0.1M369.1 886.2l1.8 0.7M459.2 830.2l-2.3 1.8M288.8 898.3l0.2 -0M454.2 876.9l1.5 0.9M383.9 942.8l1.9 -0.9M475 999.8l2.2 -2.1M465.9 1030.9l0.5 -1.6M348 1012.8l0.6 -2.3M298.5 1034.9l-2.3 -1.8M429.8 855.7l-1.6 -2.4M298.7 962.1l2.3 -1.7M398.4 885.4l-0.2 -1.5M379.8 1006.4l-0.9 0.1M314.8 970.8l0.3 -1M313.7 968.9l-0.7 -0.4M301.8 904.2l-0.7 -2M342.5 991.1l-1.1 1M444.2 949.3l1.4 -1.6M331.9 1006.7l1.6 1.3M289.6 965.9l-0.3 -0.2M297.1 953.8l0.4 -1.4M379.6 1008.3l-1.7 1.1M443.7 981.3l-0.5 0.6M315.1 978.4l-2.1 1.5M288.3 1012.6l0.2 -0.8M428 902.4l-2.2 -2M423.7 969.1l-1.9 -0.1M464.7 880.5l-1.2 -0.6M416.1 834.1l-1.9 0.7M368.3 980.4l-1.2 -2.1M321.4 843.5l1.2 0.6M393.6 952.5l2.1 0M412.1 1025.7l2.2 -0M308.8 1014.2l2.3 -1.4M392 907.5l1.1 1.8M355.9 986.8l-0.4 -1.7M391.2 876.6l1.8 0.5M291.9 1006.3l-1.5 1.2M458.5 943.6l-1.7 -0.6M356.1 881.3l-2.1 -0.4M317.9 844.7l0.7 -1.3M281 895.5l-0.2 1.6M395.9 945.9l1.1 1.9M448 891l1.9 1.1M351.8 940.2l-1.9 0.7M316.6 979.8l2.4 -2.3M332.8 851.3l-1 -1.2M348.4 891.1l1 -1.8M373.6 943.7l-2.3 1.4M329.6 895.6l-0.2 1.5M384.1 978.9l-1.1 1.4M269.1 849.7l-0.8 2.1M280.4 846.2l0.5 -2M368.4 980.6l-1.3 -1.9M270.3 882.6l-0.1 -2M442.5 898.5l2.2 0.9M325.7 950.3l-1.7 1.4M421.4 831.6l0.8 1.6M287.5 921.3l1.1 1.7M393 929.2l1.2 2M390 832.2l1.8 1M434.9 919.4l-0.2 0.5M378.8 975.8l1.4 1.5M266.8 869.1l1 2M272 892.5l-1.5 -1" stroke="#2ad048" stroke-width="1.2" opacity="0.66"/>
</g>
<path d="M432.3 1007.7l0.9 -0.5M404.5 959.6l-0.7 1.1M405.3 961.3l0.5 -1.2M404.1 961.3l1.1 -0.6M418.9 842.5l0.6 1M421 844.7l1 0.5M282.2 888.9l0.1 -0.5M277.4 886.8l-0.7 0.6M278 833.1l0 -1M275.6 831.8l-1.1 0.8M277.3 835.9l0.2 -0.2M451.9 897.4l-0.1 -1.1M456.6 900.1l-0.4 0.9M426.4 864.2l1.1 1.1M430.4 864.7l0.1 0.9M430.7 863.1l-0.3 -0.6M413.8 895.9l1 -1.3M412.1 895.7l-1.2 0.4M409.2 896.8l-0.8 0M268.9 833.5l-1 0.3M268 836.4l0.6 1.2M402.1 842.6l0.9 1M402.3 842.7l-0.2 1.1M275.7 873.2l0.8 0.9M278.6 876.1l0.7 -0M287 898.8l0.8 0.2M380 1021.5l-1.3 0M283.9 883.2l-0.3 -1.2M284.1 884.1l-0.1 -1.2M303.2 840.6l1.2 -0.5M304 842.2l-0.7 0.3M304.1 841.6l-0.1 -0.8M267.2 903.1l1.1 0.1M280.4 935.2l0.4 0.6M279.8 932.1l-0.4 1.2M280.3 931.6l0.3 0.7M447.2 918.6l1.2 0.3M397.7 978.4l0.3 -0.5M399.2 975.4l0.1 0.3M384.2 1010.1l-0.2 -1.3M381.2 1009l0.5 -1.1M408.2 1008.2l0.8 -0.6M408.7 1011.4l1.1 -0.9M330.5 1003.3l-0.7 0.3M330.6 1001.2l-0.5 1.1M328.6 1001.6l0.5 -0.2M404.3 925.4l0.1 1.2M311.6 883.1l-1 -0.7M317.4 843.6l0.8 -0.6M317.1 841.6l0.1 1.1M317.5 845.5l-1 1.3M327 921.1l-0.1 0.7M347.6 888.9l1.2 -1.1M346.1 889.2l-0.3 -0.3M345.9 888.3l0.6 0.6M336.5 908l-1 0.6M471.6 883.8l-0.2 -1.2M471.8 880.2l0.2 -0.5M371.9 956.6l-0.1 0.9M373.6 954.9l0.5 -0.6M333 960.8l0.2 0.5M388.8 959l0.6 -0.7M376 836.5l0.8 1.2M375.4 835.3l0.7 0.5M472.1 937.4l0.9 0.2M473.4 939.3l-0.8 1.2M471.5 939l-0.3 -1.1M472 846.7l0.8 -0.6M475.3 846.9l-1.2 -1M432.8 951.7l0.4 -1.2M433.9 951.5l1.2 0.8M435.2 954.8l1.1 0.9M329.1 992l-0.1 -1.3M325.7 991.1l-0.9 -0.6M438.4 887.2l0.2 0.7M439.3 888.3l-1 1.1M441.8 884.9l0.3 -1M440.2 860.4l-0.1 1.2M396.2 891.7l-0.5 -0.6M397.9 890.8l-0.5 1.2M272 894.1l0.6 -0.4M274.2 894.3l-1.2 0.5M365.3 937.9l0.3 -0.4M365.4 940.3l-0.9 0.5M287.3 950.2l-0.3 -0.3M283.4 947.6l0.9 0.7M422.7 845.1l0.4 0.2M421.5 844.6l-0.2 -1.2M295.5 1022.6l0.6 1.2M293.3 1023.7l0.9 0.6M295.8 1022.8l-1.1 0.2M279.8 1008.5l-0.8 1.3M281.7 1010.8l-1 1M281.9 1007.1l0.4 0.4M314.8 903.8l0.9 -0.1M313.8 902.3l1 -0.1M312.6 901.6l-0.5 0.1M275.8 880.9l-1 0.1M284.2 956.2l-0.7 -0.5M286 956.3l0.8 -0.2M471.6 963.7l0.7 0.3M472.4 962l0.8 -1.1M368.3 887.9l0.7 0.5M369.5 887.8l-0.9 -0.2M367.5 886.6l-1.2 -1.2M423.5 966.7l1.1 -0.9M403.3 877.2l-0.9 0.9M402.4 876.4l0.5 0.8M420.8 905.2l-0.7 0.9M418.1 904.4l-1.3 -0.6M421.9 905.7l0.6 0.8M394.3 932.7l1 0.4M394.9 929.9l0.6 0.1M382.3 989.2l-0.2 1M379.4 986.8l0.7 0.9M378.5 948.5l-0.6 -0.4M378 999.7l-0.4 -0.3M382.7 1001.6l0.6 0.2M378 1000.1l0.6 -1M335.4 961.4l-0.8 -1.1M292.8 862.3l-0.9 0.4M294.6 861.8l0.2 0.9M296.3 861.7l1.2 0M273.8 915.2l1 1.1M402.4 952.6l0.3 0.8M404 951.9l0.5 0M363.7 858.3l-0.8 1.2M365.4 860.7l0.4 1M475.8 949.8l-0.1 -0.5M418.6 1004.5l0.7 0.6M419.8 1008.5l-0.3 -1.2M417.3 1007.7l-0.2 1M310.2 949.7l0.6 -0.7M471.6 1030.2l-0.7 1.3M475.6 1031.2l0.3 0.5M316.6 928.8l0.2 1.3M397.9 1015.9l-0.1 0.5M399.4 1018.4l-0.5 -0.6M398.8 1018.3l0.9 0.5M456.1 850.5l0.7 -0.4M458.1 849.9l-0.4 0.8M457.5 854.4l0.3 0.8M434.5 964.2l0.5 0.3M435.7 966.6l-0.2 0.3M436.9 962.9l-0.7 0.8M304.7 829.6l0.6 -0.6M302.1 826.3l1.2 0.2M306.1 831l1 -0.7M413.1 964l1.2 -0.5M319.8 939.1l1 0.7M407.5 1018l0 1.2M375.1 870.8l0.1 -0.3M375.6 870l0.2 -1M402.2 843.6l0.6 -1.2M402.7 846.7l-0.5 0.7M399.6 846.3l0.8 -0.4M464.3 977.5l-1 -0.5M430.5 894.9l-1 -1.1M315.5 914.4l-1.1 -0.9M294.2 846.4l-0.4 -1.3M290.7 845.6l0.1 1M310.5 1022l0.4 1.2M395.8 999.8l-0.9 -0.7M396.8 1000.4l1.3 -0.6M393.6 999.9l0.7 -0.2M377.7 872.3l-0.4 -1.2M349.4 914.9l-0.1 -0.3M298.8 933.9l-0 -0.3M295.9 934.2l0.3 1M294.8 932.4l-1.1 -0.2M342.1 844.9l0.6 0.8M342.7 848.5l-0.6 -0.8M420.5 964.3l0.7 -0.6M420.2 964.3l-0.7 0.8M464.3 1003.2l0.4 1.3M465.4 1005.1l0.1 0.4M465.8 1005.5l0.8 0M405.4 951.8l0.5 0.7M324.1 870.1l-0.8 -1.3M449.4 928.1l1 -0M337.3 930.7l-0.7 0.4M374 945.2l0 0.2M372.1 945.2l-0.8 0.8M371 945l-0.3 1.1M299.2 942.8l0 1M301.2 946.4l-0.5 -0.1M300.9 944.4l-0.5 1.3M278 883l0 1M278.4 882.7l-0.8 1.3M452.4 915.4l0 -0.3M454 918.4l0.2 -1.2M341.9 898.8l-0.1 -0.7M377 990.6l-0.2 0.3M378.1 989.8l-0.7 0.4M376.6 990.3l0.9 -0.7M371.2 838.3l-0.1 -0.2M373.5 838.1l0 -1.1M370.7 839l1 -1M431.7 975.9l-0.9 -0.1M399.9 846.2l-0.7 0.5M400.2 845.3l-0.5 -1.1M403.3 845.4l-1 -1.1M277.1 856.1l-1.3 0.3M275.4 858.3l-0.5 1.1M383.2 878.9l-0.1 -0.7M382.3 880.3l0.8 1.1M382.3 881.2l-0.5 1.3M280.3 838.9l0.8 -1.1M281.3 839.3l-1.2 -0.2M273.3 842.2l0.5 0.3M274.2 839.5l-0.8 -1.3M412.9 966.1l0.7 0.5M439.1 1025.9l0.9 0.4M425.4 873.4l-0.5 0.1M426.4 877.5l-0.6 -1M266.8 992.6l-0.6 -0.2M432.1 929.9l-1.2 -0.1M397.6 981.3l0.7 0.4M466.5 943.6l1 1.1M463.1 942.5l-0.4 0.5M463.3 946.1l-0.7 -0.2M454.1 872.2l0.2 -1M454.1 875.8l-0.7 -0.3M454.3 872.6l0 0.3M402.7 875.8l0.8 0.8M401.5 875.8l-1.1 -0.1M392.5 971.4l-0 -0.4M393.8 972.1l-1 -1M393.5 970.8l-0.4 -0.4M328.1 914l-1.2 -1M324.4 917.1l0.3 0.9M452.7 925.1l-1 0.1M452.5 925.8l0.3 -1M452.8 925.6l-1.2 0.3M375 966.3l1.1 1.1M372.3 963.6l-0.4 1.1M371.9 966.3l-1 0.8M454.8 905l0.3 0.6M453.7 907.8l0 1.1M316.3 916.2l-0.5 0.6M317.3 920.8l0.4 0.3M315.9 920.6l-0.5 -0.1M367.2 900.6l-1 0.9M356.7 892.1l0.1 -0.5M354.3 890.1l0.7 1.1M408.6 1008.2l-0.3 -1.3M405.2 1008.2l0.1 1.3M390.7 870.1l0.7 0.7M392 870.8l-1.1 -0.5M284.2 894.9l-0.9 0.7M456.1 824l-0.9 0.6M460.1 822.6l-0.6 -1.2M458.5 825.6l0.4 0.9M448 868.8l0.3 -0.5M301.1 984.8l-1.3 0.2M299.3 984.5l0.7 0.8M302.4 983.9l0.5 0.5M433 908.9l0.6 0.1M315.8 897.5l-1 -0.5M316.4 898.7l-0.1 0.3M316.5 898.2l-0.3 -1.1M300.9 1021.2l-1.3 0.3M300.1 1025.1l-0.5 0.7M316.7 855.9l-1 -0.2M317.7 856.4l-1.2 0.8M312.2 997.2l0.1 0.6M309.8 931.4l-1 0.2M350.9 990l-0.2 -0.9M350.9 992.5l1.2 -0.6M347.1 988.2l-1.2 0.6M292.1 946.3l-0.2 -1.1M442.2 925.8l-1.2 1.1M442.7 925.9l-0.6 -0.7M430.1 871.7l1.3 -0.2M428.8 874l-0 1.1M421 926.8l-0.3 -0.4M421.5 927.2l-0.6 0.8M474.1 890.6l-1.1 0.7M473.2 891.6l-0.5 -0.3M475.7 890.7l-0.5 -1M292.7 1015.3l1.2 -0M295.2 1018.9l1 -0.8M293 1016.2l0.1 -0.1M401.6 1019.8l0.9 -1M401.1 1019.9l0.5 1M464.7 857.4l0 -1.3M465.6 855.2l-0.6 1.1M435.2 852.4l0.3 -0.1M421.2 977l0.9 -1.3M423.4 979.7l0.8 0M425.1 977.1l-0.2 0.7M296.4 861.1l0.8 1.2M292.9 865.7l0.7 0.3M294.2 866l-0.4 1.1M408 954.9l-1.2 1.2M405.5 954.2l0.8 1.2M408.3 956.2l0.9 -0.4M342.9 863.5l-0.4 -0.9M406.2 825l0.8 -0.2" stroke="#d82048" stroke-width="1.5" stroke-linecap="round" opacity="0.62" fill="none" filter="url(#blR)"/>
<g fill="none" stroke="#f02850" stroke-width="1.4" opacity="0.8" stroke-dasharray="3.5 1 2.5 0.8" filter="url(#fo2)"><circle cx="289.8" cy="939" r="2.8"/><circle cx="425.3" cy="926.2" r="3.2"/><circle cx="326.2" cy="921.2" r="2.2"/><circle cx="330.5" cy="1002.5" r="2.4"/><circle cx="464.9" cy="837.1" r="2.4"/><circle cx="328.4" cy="942.8" r="2.8"/><circle cx="395.1" cy="932.2" r="2.6"/><circle cx="351" cy="893" r="2.9"/><circle cx="408.3" cy="981.1" r="2.5"/><circle cx="431.2" cy="1033.7" r="3.1"/><circle cx="395.1" cy="965.6" r="2.7"/><circle cx="372.8" cy="1000.9" r="2.7"/><circle cx="438.9" cy="837.1" r="2.2"/></g>
<g filter="url(#fo2)">
<ellipse cx="287.3" cy="838.5" rx="2.8" ry="1.8" transform="rotate(31 287.3 838.5)" fill="#ff2868"/>
<ellipse cx="335.6" cy="861.7" rx="2" ry="1.8" transform="rotate(40 335.6 861.7)" fill="#ff2868"/>
<ellipse cx="402.8" cy="895.4" rx="2.9" ry="2" transform="rotate(0 402.8 895.4)" fill="#ff2868"/>
<ellipse cx="413.3" cy="889.1" rx="2.3" ry="1.6" transform="rotate(136 413.3 889.1)" fill="#ff2868"/>
<ellipse cx="465.8" cy="912.3" rx="2.1" ry="1.7" transform="rotate(35 465.8 912.3)" fill="#ff2868"/>
<ellipse cx="472.1" cy="920.7" rx="2.6" ry="2.1" transform="rotate(22 472.1 920.7)" fill="#ff2868"/>
<ellipse cx="312.5" cy="994.4" rx="2.8" ry="2.1" transform="rotate(50 312.5 994.4)" fill="#ff2868"/>
<ellipse cx="373.4" cy="1011.2" rx="3" ry="2.2" transform="rotate(144 373.4 1011.2)" fill="#ff2868"/>
<ellipse cx="388.1" cy="1009.1" rx="2.8" ry="2.1" transform="rotate(81 388.1 1009.1)" fill="#ff2868"/>
<ellipse cx="394.4" cy="1007" rx="2.5" ry="2.2" transform="rotate(118 394.4 1007)" fill="#ff2868"/>
<ellipse cx="470" cy="1013.3" rx="2.2" ry="1.9" transform="rotate(85 470 1013.3)" fill="#ff2868"/>
<ellipse cx="356.6" cy="874.3" rx="2.1" ry="1.7" transform="rotate(62 356.6 874.3)" fill="#ff2868"/>
<ellipse cx="451.1" cy="945.9" rx="2.1" ry="1.8" transform="rotate(66 451.1 945.9)" fill="#ff2868"/>
</g>
</g>
<clipPath id="ce3"><rect x="486.4" y="823.8" width="211" height="210.6"/></clipPath>
<filter id="fc3" filterUnits="userSpaceOnUse" x="478.4" y="815.8" width="227" height="226.6" color-interpolation-filters="sRGB"><feTurbulence type="fractalNoise" baseFrequency="0.13" numOctaves="2" seed="24" result="t"/><feDisplacementMap in="SourceGraphic" in2="t" scale="5" xChannelSelector="R" yChannelSelector="G" result="d"/><feTurbulence type="fractalNoise" baseFrequency="0.07" numOctaves="2" seed="16" result="t2"/><feColorMatrix in="t2" type="matrix" values="0 0 0 0 0  0 0 0 0 0  0 0 0 0 0  4.2 0 0 0 -1.1" result="a"/><feComposite in="d" in2="a" operator="in" result="c"/><feGaussianBlur in="c" stdDeviation="0.8"/></filter>
<filter id="fo3" filterUnits="userSpaceOnUse" x="478.4" y="815.8" width="227" height="226.6" color-interpolation-filters="sRGB"><feTurbulence type="fractalNoise" baseFrequency="0.07" numOctaves="2" seed="11" result="t"/><feDisplacementMap in="SourceGraphic" in2="t" scale="6" xChannelSelector="G" yChannelSelector="B" result="d"/><feGaussianBlur in="d" stdDeviation="0.75"/></filter>
<g clip-path="url(#ce3)">
<rect x="486.4" y="823.8" width="211" height="210.6" fill="#020212"/>
<g filter="url(#blE2)"><path d="M693 919.9h0M674.1 1007.5h0M513.3 934h0M586.6 876.7h0M549 925.2h0M696.5 1031.6h0M622.9 1007.6h0M603.4 966.2h0M493.3 953.2h0M492.3 1009.5h0M643.3 890.9h0M630.1 938.9h0M541.4 826.3h0M646.2 945.9h0M615.7 969.1h0M653.3 933.7h0M554.7 892.1h0M659.4 971.4h0M625.2 1021.3h0M562.6 828h0M550.1 1025.2h0M580.5 990.1h0M636.4 873h0M537.7 853.9h0M667.4 865.9h0M564.3 956.6h0M689.2 948.5h0M573.7 903h0M592.4 861.3h0M683.4 914.3h0M621.2 987.8h0M597.8 844.5h0M650.8 953.9h0M667.9 930.1h0M663.4 1027.3h0M510.2 918.2h0M599.1 1009.6h0M593.8 1014.6h0M694.1 1010.9h0M529.9 863.1h0M624.9 845.4h0M505.8 881.2h0M679.2 954.2h0M501.1 1026.8h0M672.5 920.1h0M581.3 868.5h0M532.8 983.8h0M614.3 990.6h0M685.7 883.6h0M593.8 838.3h0M625.7 951.9h0M601.2 925.4h0M642.2 1019.6h0M647.4 878.3h0M639.5 975.4h0M649.3 856.2h0M689.6 957.6h0M612.6 985.5h0M654.5 887.2h0M636.2 961.2h0M589.5 891.8h0M624.1 960.1h0M520.8 993.4h0M579.8 962.5h0M518.2 865.4h0M551.9 940.9h0M659.7 1004.8h0M548.2 915.7h0M660.2 996.9h0M613.4 1004.8h0M559.6 878.6h0M495.7 889.4h0M545.4 896.9h0M613.3 933.5h0M679.3 928.1h0M536.1 870.2h0M618.5 996.3h0M609.9 963.7h0M662.4 1013.2h0M681.2 888.6h0M591.9 1030.2h0M578.2 922.2h0M499.8 900h0M691.9 937.6h0M688.1 876.2h0M648.1 1013.1h0M659.4 933.7h0M534.6 1012.6h0M503.1 942.3h0M492.2 904.1h0M604.9 943.5h0M676.2 1034.2h0M495.7 1028.6h0M622.4 977.9h0M523.3 931.7h0M500.7 1033.2h0M678.3 982.9h0M544.2 858h0M578.3 856.7h0M633.1 889.3h0M669.2 912.8h0M665.5 905.2h0M662.7 840.1h0M598.4 961.7h0M580.7 880.4h0M487.9 876h0M557.5 965h0M669.2 1013.5h0M661.8 854h0M499.4 863.7h0M605.2 1002h0M486.6 933.3h0M528.8 886.2h0M655.9 1015.8h0M563 962.6h0M565.4 937.9h0M612.4 924.1h0M654.8 864.2h0M597.4 918.1h0M666.6 949.7h0M542.7 1002.8h0M530.7 950h0M536 1020.5h0M495.1 941.6h0M554 875.7h0M580.9 915.9h0M507.7 949.1h0M625.4 998.8h0M532.1 836.9h0M523.4 876.6h0M689.5 942.4h0M572.3 926.9h0M630 973.4h0M689.1 980.5h0M637.3 953.5h0M542.7 1034.3h0M548 975.4h0M523.2 944.7h0M634.2 932.3h0M525.5 983.3h0M625.5 968.5h0M635.4 924.2h0M526.3 1007.2h0M574.9 886.9h0M565.6 882.6h0M597.7 1001h0M599.5 1024.6h0M693.7 998.3h0M617.4 1012.2h0M546.9 907.6h0M696.8 934.5h0M683.6 959.4h0M516.7 848.5h0M684.7 1031.4h0M559.2 1016h0M520.3 925.3h0M551 1031.9h0M576.8 832.8h0M525.8 939.5h0M666.3 856.8h0M684.5 1002.6h0M697 873.7h0M538 976.9h0M637 1028.4h0M647.8 992.2h0M607.9 844h0M530.7 869.1h0M558.1 902.8h0M649.4 865.8h0M517.1 908.7h0M676.6 864.7h0M616.6 949.4h0M686.8 1007.7h0M568.7 966.8h0M617.3 938h0M569.9 914.4h0M524.8 868.6h0M663.1 975.9h0M615.5 834.8h0M659.9 871h0M508.6 957.1h0M653.7 948.1h0M632.7 856h0M527.1 881h0M549.1 891.8h0M642 1008.5h0M646.7 833h0M586.2 971.2h0M525.4 834.5h0M564.6 919.4h0M510.2 870.2h0M646.2 938.2h0M691.9 975.5h0M578.6 846.3h0M638.2 839.1h0M634 848.2h0M501.2 887.2h0M596.2 851.8h0M606.9 959.4h0M512.3 942.6h0M534.3 1006.9h0M490.6 1003.6h0M522.6 951h0M586.5 991.1h0M525.3 1032.9h0M657.5 1030.8h0M696.9 972.8h0M696.6 926.6h0M632.7 831.2h0M612.1 855h0M553.7 918.8h0M574.4 1004.2h0M612.6 956.9h0M668.7 959.8h0M630.4 921.9h0M629.8 1026h0M691.1 880.8h0M628.1 1016.5h0M683.2 949.9h0M535 991h0M670.3 860.9h0M648.3 986.8h0M571.5 881.5h0M524.5 829.1h0M539.6 848.1h0M591.4 1009.8h0M636.3 969.4h0M515.1 971.6h0M511.6 880.6h0M672.4 902.7h0M691.3 990.1h0M616.6 962.4h0M621.3 830.4h0M617.4 928.6h0M520.9 957h0M496 983.6h0M544.7 940.4h0M659.6 861h0M508.8 885.7h0M621.3 946h0M511 848.7h0M580.7 942.1h0M561.8 886.8h0M613.9 840h0M501.9 999.2h0M531.3 933.8h0M543.2 1018.3h0M664.7 880.9h0M651.4 828.2h0M666.9 918.8h0M622.2 1016.8h0M491.9 997.1h0M564.9 859.9h0M666.3 944.4h0M647.3 922h0M603.8 894.7h0M561.8 930.5h0M599 942.4h0M545.1 902.3h0M629.9 867h0M603.4 1020.7h0M492.2 934.4h0" stroke="#0a0a80" stroke-width="12" stroke-linecap="round" opacity="0.2" fill="none"/></g>
<g filter="url(#fc3)" fill="none" stroke-linecap="round">
<path d="M575 877h0M634 842.8h0M566.6 924.3h0M492.3 1009.5h0M541.4 826.3h0M565.5 865.5h0M636 881.5h0M660.1 980.7h0M543.3 964.4h0M631.4 948.2h0M643.4 1030.5h0M636.4 873h0M586.4 938.3h0M536.6 1034.2h0M667.4 865.9h0M573.7 903h0M640.8 1001.4h0M683.4 914.3h0M588.9 949.3h0M690.9 930.9h0M667.9 930.1h0M683.3 976.2h0M540.1 921.4h0M602.1 853.8h0M599.8 861.8h0M539.2 949.4h0M686 1013.6h0M635.2 825.9h0M624.9 845.4h0M585.6 955.1h0M556.5 913.5h0M500.2 972.6h0M532.8 983.8h0M657.6 990.9h0M560.2 1024.1h0M620.8 855.2h0M654.5 887.2h0M622.7 927.4h0M624.1 960.1h0M552.3 902.7h0M509.3 1024.1h0M492.5 947.3h0M613.4 1004.8h0M542.6 931.2h0M540.9 836.1h0M536.1 870.2h0M591.9 1030.2h0M625 901.6h0M586.1 1002h0M520.2 1007.5h0M534.6 1012.6h0M558.4 941.8h0M536.5 929.4h0M574.9 841.4h0M500.7 1033.2h0M578.3 856.7h0M654.5 979.8h0M657.9 966.1h0M529.7 925h0M631.6 991.6h0M626.7 987.9h0M506.4 1002.5h0M668.3 875.7h0M607 856.4h0M695.2 949.7h0M567.8 1004.3h0M565.4 937.9h0M581 889.3h0M532.2 878.4h0M589 865.9h0M595 886.2h0M495.1 941.6h0M669.5 1022.7h0M487.7 951h0M532.1 836.9h0M607.6 829.7h0M573.5 848.9h0M689.1 980.5h0M559.4 952h0M637.3 953.5h0M542.7 1034.3h0M538.5 912.3h0M636.4 1012.3h0M511.8 1008.6h0M525.5 983.3h0M533.3 960.2h0M647.2 841.4h0M521.5 971.3h0M605.9 900.1h0M547.1 946.1h0M572.6 951.8h0M662.4 962.2h0M604.7 911.1h0M626.6 917.2h0M683.5 909h0M668.2 982.7h0M538 976.9h0M601.7 977.8h0M637 1028.4h0M570.7 833.9h0M638 901.4h0M649.4 865.8h0M581 838.4h0M676.6 864.7h0M504.1 1013.7h0M543.7 887.2h0M663.9 1033.2h0M617.3 938h0M535.5 954.3h0M659.9 871h0M503 956.5h0M549.1 891.8h0M571.4 999h0M692.7 912.1h0M535.9 971.6h0M546.4 953.1h0M510.2 870.2h0M494 911.1h0M488.7 861.4h0M638.2 839.1h0M546.2 970h0M501.2 887.2h0M596.2 851.8h0M587.1 858.6h0M512.3 942.6h0M582 910.6h0M541.9 869.3h0M696.9 972.8h0M616 975.2h0M652.2 1030.4h0M632.7 831.2h0M614.8 942.7h0M553.7 918.8h0M497.4 959.5h0M665 846.3h0M515.6 921h0M583.4 995.4h0M697.2 1020.9h0M628.1 1016.5h0M678.7 1003.9h0M486.8 1011.3h0M591.8 877.7h0M495.9 1015.1h0M657.9 1021.1h0M511.6 880.6h0M681.8 1018.2h0M659.4 891.1h0M681.9 901.2h0M656.1 985.2h0M568.5 876.9h0M677.7 916.6h0M580.7 942.1h0M563.5 970.6h0M508.1 967.2h0M531.3 933.8h0M547.3 877.2h0M653.5 995.6h0M576.3 826.1h0M671.2 966.7h0M666.3 944.4h0M647.3 922h0M694.1 984.4h0M581.5 874.1h0M555.2 1020.4h0" stroke="#0808a8" stroke-width="4.6"/>
<path d="M613.6 849.5h0M513.3 934h0M531.9 1031.5h0M603.4 966.2h0M524.8 900.3h0M556.5 956.7h0M520.8 914.1h0M669.8 884.1h0M596.4 908h0M497.5 1020.5h0M646.2 945.9h0M527.4 964.2h0M682.8 920.9h0M653.3 933.7h0M554.7 892.1h0M492.3 920.8h0M562.6 828h0M548.1 869.6h0M580.5 990.1h0M643.1 950.8h0M689.2 948.5h0M695.1 943h0M500.2 949.8h0M597.8 844.5h0M663.4 1027.3h0M607.6 977h0M593.8 1014.6h0M593.4 992.8h0M505.8 881.2h0M679.2 954.2h0M567.4 871h0M505.9 850.4h0M502.8 965.3h0M642.1 923.4h0M614.3 990.6h0M532.5 1000.8h0M517.6 941.1h0M593.8 838.3h0M625.7 951.9h0M536 966h0M639.5 975.4h0M649.3 856.2h0M689.6 957.6h0M626.1 932.7h0M507.7 859.1h0M574.8 910.3h0M609.1 996.4h0M534.9 845.5h0M520.8 993.4h0M560 1029.7h0M610 971h0M595.1 966.2h0M518.2 865.4h0M491.2 1018.2h0M550.2 957.8h0M548.2 915.7h0M497.4 995.8h0M610.2 929h0M650.2 1000h0M559.6 878.6h0M526.8 893.4h0M659.9 943.6h0M683.7 989.1h0M543.8 979h0M583.6 905.3h0M662.4 1013.2h0M536.5 899.8h0M674.1 825.8h0M543.7 1008.2h0M657 856.3h0M578.2 922.2h0M511.5 976.9h0M631.9 913.9h0M657.5 846.4h0M664.6 923.9h0M678.5 992.7h0M522.5 1027.2h0M591 933.7h0M495.2 964.9h0M604.9 943.5h0M622.4 977.9h0M559.7 1006h0M587.4 910.1h0M544.2 858h0M616.1 1029.6h0M633.1 889.3h0M565.6 896h0M665.5 905.2h0M662.7 840.1h0M497.6 906.6h0M497.7 977.8h0M557.5 965h0M669.2 1013.5h0M691 1032.5h0M486.7 869h0M515.8 1003.2h0M686.4 993.9h0M679 881.8h0M528.9 909.5h0M489 991.2h0M612.4 924.1h0M548.6 1019.6h0M595.1 947.5h0M597.4 918.1h0M671.6 940.4h0M542.7 1002.8h0M642.6 863h0M515.9 1021h0M673 999.1h0M580.9 915.9h0M664.4 895.9h0M503.5 986.6h0M625.4 998.8h0M641.2 850.4h0M597.9 870.6h0M593.1 954.8h0M642.6 881.6h0M511.9 1015.6h0M607.3 1016h0M682.6 932.6h0M585.2 921.2h0M625.9 826.4h0M529.5 843.9h0M632 1008.1h0M680.7 1009.2h0M619.5 954.8h0M546.9 907.6h0M696.8 934.5h0M692.6 1018.3h0M516.7 848.5h0M570.3 907.3h0M684.7 1031.4h0M621.2 921.3h0M559.2 1016h0M520.3 925.3h0M576.8 832.8h0M538 830.6h0M525.8 939.5h0M627.3 861.2h0M690.5 964.7h0M697 873.7h0M523.5 978.3h0M580 983h0M647.8 992.2h0M605.8 935.5h0M530.7 869.1h0M568.7 1031.6h0M643.4 837.6h0M517.1 908.7h0M561.6 869.1h0M648.6 887.5h0M599.3 826.3h0M512.5 854.8h0M552.9 1008.1h0M527.4 971.3h0M516.2 1032.8h0M524.8 868.6h0M681.4 944.5h0M637.4 989.2h0M579.3 977.5h0M508.6 957.1h0M649.9 964.6h0M508.3 1030.3h0M653.7 948.1h0M609 824.6h0M611.1 902.1h0M591.4 844.5h0M642 1008.5h0M523.8 905.7h0M646.7 833h0M586.2 971.2h0M668.2 1001.7h0M673.7 926.7h0M506.1 865.3h0M564.6 919.4h0M688.5 915.9h0M596.4 892.6h0M613 980h0M548.7 932.9h0M581.5 933.5h0M579.2 899.2h0M634 848.2h0M610.5 951.3h0M657.1 897.9h0M552.2 948.5h0M530.3 1018.1h0M531.4 944.6h0M534.3 1006.9h0M580 1003.1h0M522.6 951h0M502 1008.4h0M563.8 902.1h0M525.3 1032.9h0M570.4 919.8h0M630.6 966.6h0M587.3 901.3h0M514 913.5h0M612.1 855h0M592.2 1002.3h0M574.4 1004.2h0M491.9 882.1h0M592.8 982.8h0M612.6 956.9h0M668.7 959.8h0M554.9 898.1h0M691.1 880.8h0M683.2 949.9h0M670.3 860.9h0M630.7 997h0M674.2 887.6h0M682.5 872.8h0M644.3 958.9h0M524.5 829.1h0M539.6 848.1h0M585.9 1007.5h0M515.1 971.6h0M691.3 990.1h0M623.4 993.1h0M531.6 903.3h0M621.3 830.4h0M654.3 958h0M577.1 997.6h0M617.4 928.6h0M520.9 957h0M695.6 956.7h0M510.1 923.5h0M496 983.6h0M582.5 861.4h0M659.6 861h0M599.3 993.9h0M629.9 928.9h0M561.8 886.8h0M486.9 945.6h0M613.9 840h0M501.9 999.2h0M535.5 862.3h0M644.5 996.5h0M540.6 959.1h0M631.1 955.2h0M564.9 859.9h0M692.6 1005.3h0M517.1 976.8h0M696.6 883.5h0M561.8 930.5h0M514.5 928.3h0M599 942.4h0M545.1 902.3h0M492.2 934.4h0" stroke="#0a0ccc" stroke-width="5.4"/>
<path d="M693 919.9h0M641.5 869.1h0M674.1 1007.5h0M503.8 870.7h0M491.6 871.2h0M660.9 876.2h0M586.6 876.7h0M696.5 1031.6h0M567.9 945.6h0M630.9 1002.6h0M515.1 986.9h0M630.1 938.9h0M615.7 969.1h0M659.4 971.4h0M493.2 853.7h0M671.4 976.6h0M550.1 1025.2h0M537.7 853.9h0M696.1 979.1h0M585.7 852.9h0M655.6 881.7h0M487.4 854.6h0M550.8 998.7h0M636.9 862.2h0M592.4 861.3h0M634.3 907.4h0M621.2 987.8h0M587 976.8h0M496.2 1002.2h0M572.7 891.8h0M694.1 1010.9h0M529.9 863.1h0M542.8 987.8h0M639 941.4h0M501.1 1026.8h0M629 981.3h0M664.6 828.3h0M653.2 924h0M668.9 1030.9h0M646.8 824.3h0M486.7 999.2h0M569.9 827.3h0M642.2 1019.6h0M673.5 947.3h0M490.9 961.2h0M527.3 992.9h0M619.5 824.3h0M696.3 967.1h0M513.1 874.7h0M634.3 1019.6h0M530.6 853.3h0M579.8 962.5h0M593.1 1020.8h0M695 824.3h0M660.2 996.9h0M591.3 854.9h0M654.4 871h0M495.7 889.4h0M545.4 896.9h0M529.7 917.2h0M642.3 965.6h0M613.3 933.5h0M616.4 1017.5h0M532.1 826.5h0M575.8 867.6h0M609.9 963.7h0M499.9 875.5h0M588.8 943.6h0M499.8 900h0M621.3 1030.8h0M671 892.7h0M560.9 892.4h0M640.9 831.7h0M676.2 1034.2h0M652.6 1008.5h0M495.7 1028.6h0M600 988.3h0M505.9 974.6h0M556.4 930.7h0M582.2 826.8h0M619.7 1022h0M647.7 927.9h0M550.1 863.9h0M535 892.2h0M488.9 887.3h0M598.4 961.7h0M638.2 894.3h0M661.8 854h0M605.2 1002h0M488 910.9h0M676.8 871.6h0M655.9 1015.8h0M488.5 1033.2h0M563 962.6h0M637.6 996.5h0M530.7 950h0M536 1020.5h0M506.4 992h0M622.9 939.8h0M523.4 876.6h0M689.5 942.4h0M537.7 878.6h0M537.4 907h0M630 973.4h0M676.4 968.3h0M627.2 1032.5h0M560.1 935.7h0M548 975.4h0M523.2 944.7h0M634.2 932.3h0M518.5 858.3h0M625.5 968.5h0M486.7 901.6h0M635.4 924.2h0M565.6 882.6h0M597.7 1001h0M693.7 998.3h0M523.8 856.6h0M643.2 983.5h0M659.4 921.2h0M590.4 919.1h0M507.1 980.2h0M551 1031.9h0M618.1 981.6h0M684.5 1002.6h0M666.8 835.2h0M676.2 1023.3h0M607.9 844h0M558.1 902.8h0M486.6 923h0M616.6 949.4h0M581.1 927.2h0M686.8 1007.7h0M502.8 856.3h0M643 933.2h0M615.5 834.8h0M558.9 924.9h0M527.1 881h0M511.5 863.1h0M525.4 1001.6h0M646.2 938.2h0M598.1 1033.3h0M691.9 975.5h0M517.3 871h0M606.9 959.4h0M520.8 888.4h0M490.6 1003.6h0M574.5 936.9h0M696.6 926.6h0M516.1 996.6h0M494.9 859h0M520.2 1017.2h0M630.4 921.9h0M629.8 1026h0M491.9 977.6h0M541.2 1013.3h0M615.5 828.7h0M637.1 915.6h0M535 991h0M555.2 971.4h0M647.7 847.8h0M556.4 824.4h0M591.4 1009.8h0M650.3 836.9h0M664.3 936.1h0M547 994.9h0M635.6 867.5h0M544.7 940.4h0M499.8 851.3h0M508.8 885.7h0M685.5 925.8h0M618.7 900.9h0M511 848.7h0M504.4 913.6h0M569.1 856.4h0M676.5 974.9h0M666.9 918.8h0M614.1 1024h0M622.2 1016.8h0M586.1 1032.9h0M491.9 997.1h0M593.4 914.2h0M503.3 1021.4h0M588 927.4h0M549.4 1012.8h0M523.9 1013.4h0M529.2 978.3h0M493 865.7h0M603.4 1020.7h0" stroke="#0e10ea" stroke-width="6.0"/>
<path d="M675.2 935.1h0M549 925.2h0M500 917.5h0M685.6 967.5h0M643.3 890.9h0M583.8 966.4h0M651.4 939.7h0M595 976.9h0M588.3 963.2h0M625.2 1021.3h0M675.1 962.4h0M580.9 948.8h0M607 837.1h0M564.3 956.6h0M571.5 962.3h0M629.8 895.3h0M647.4 872.4h0M510.2 918.2h0M625.9 834.9h0M606 919.1h0M581.3 868.5h0M685.7 883.6h0M677.4 906.4h0M600.2 837.9h0M684.5 1026h0M612.6 985.5h0M636.2 961.2h0M589.5 891.8h0M551.9 940.9h0M655.3 832h0M679.3 928.1h0M650.9 1023.8h0M618.5 996.3h0M487.2 973.4h0M681.2 888.6h0M691.9 937.6h0M688.1 876.2h0M648.1 1013.1h0M585.1 896.2h0M492.2 904.1h0M539.3 943h0M599.1 897.3h0M523.3 931.7h0M678.3 982.9h0M690.3 1026.2h0M513.6 948.4h0M669.2 912.8h0M580.7 880.4h0M628 851.6h0M486.6 933.3h0M507.3 938.3h0M659 824.1h0M666.6 949.7h0M666.4 1007.9h0M619.3 847.2h0M559.9 908.5h0M507.7 949.1h0M539.6 1026.4h0M541.9 874.6h0M522.1 965.3h0M526.3 1007.2h0M610.3 1010h0M574.9 886.9h0M526.8 956.3h0M599.5 1024.6h0M537.1 997.3h0M617.4 1012.2h0M575.1 944.4h0M683.6 959.4h0M523.5 841.1h0M498.6 869h0M565.2 911.8h0M666.3 856.8h0M490.6 1023.7h0M490.8 985.2h0M556.5 867.6h0M686.3 866.7h0M515.4 953.5h0M663.8 886.2h0M569.9 914.4h0M567.4 890h0M573.9 969.9h0M554.6 885.2h0M578.6 846.3h0M603.8 905.7h0M567.9 931.2h0M676.2 1013.6h0M676.9 894.2h0M517.9 883.8h0M657.5 1030.8h0M547.4 829.3h0M627.7 907.7h0M518.9 935.3h0M648.3 986.8h0M639.2 856.3h0M571.5 881.5h0M551.1 963.8h0M664.9 967.9h0M672.4 902.7h0M616.6 962.4h0M696.2 861h0M660.5 949.9h0M621.3 946h0M633.6 1032.6h0M589.1 882.8h0M645.1 977.5h0M637.7 948.2h0M672.3 953.3h0M604.7 1032.6h0M603.8 894.7h0M629.9 867h0M634.4 978.2h0M552 909.8h0" stroke="#181aff" stroke-width="5.0"/>
<path d="M608.9 1023h0M649.3 973h0M622.9 1007.6h0M493.3 953.2h0M490.4 894h0M497.4 882.6h0M507.2 908h0M593.1 901.6h0M697.2 992.8h0M597.5 931.4h0M650.8 953.9h0M599.1 1009.6h0M524.1 847.8h0M672.5 920.1h0M492.1 970h0M601.2 925.4h0M562.7 1001.2h0M647.4 878.3h0M600.2 971.8h0M598.2 1018.9h0M659.7 1004.8h0M637.1 983.8h0M488 939h0M605 990.2h0M659.4 933.7h0M652.4 893.1h0M503.1 942.3h0M533.9 939.7h0M671.6 870.2h0M694.1 868.9h0M646.6 895.6h0M487.9 876h0M687.5 1020.6h0M499.4 863.7h0M539 884.1h0M528.8 886.2h0M654.8 864.2h0M548.3 882.7h0M593.8 926.7h0M554 875.7h0M523.8 1021.3h0M572.3 926.9h0M653 849.4h0M590.6 872.2h0M572.3 861.8h0M597.3 936.9h0M663.3 956.3h0M679.5 1028.4h0M603.4 984h0M568.7 966.8h0M663.1 975.9h0M514.5 1027h0M604 848.7h0M632.7 856h0M532.6 1024.7h0M525.4 834.5h0M606.5 924.8h0M586.5 991.1h0M661.2 833.1h0M523.8 988.6h0M636.3 969.4h0M585.6 843.1h0M674 876.5h0M520.2 984.4h0M543.2 1018.3h0M568.6 972.4h0M664.7 880.9h0M651.4 828.2h0M611.8 1032.7h0M545.7 920.9h0" stroke="#1014f0" stroke-width="7.0"/>
</g>
<g fill="none" stroke-linecap="round" filter="url(#fo3)">
<path d="M522.3 823.8Q520.2 844.9 503.3 853.3" stroke="#18c048" stroke-width="1" opacity="0.7" stroke-dasharray="6 3 3 1.5"/>
<path d="M598.2 876.4C604.6 859.6 619.3 857.5 634.1 870.1" stroke="#18c048" stroke-width="1.4" opacity="0.8" stroke-dasharray="6 1 4 1.5"/>
<path d="M496.9 893.3C507.5 884.9 524.4 891.2 528.6 903.8" stroke="#18c048" stroke-width="1.5" opacity="0.6" stroke-dasharray="6 3 5 1.5"/>
<path d="M575 992.3Q587.7 1009.1 602.5 1028.1" stroke="#18c048" stroke-width="1.5" opacity="0.5" stroke-dasharray="8 1 5 1.5"/>
<path d="M613 924.9C629.9 929.1 644.6 939.6 655.2 950.2" stroke="#18c048" stroke-width="1.1" opacity="0.8" stroke-dasharray="7 3 2 1.5"/>
<path d="M553.9 1009.1Q566.6 1004.9 575 1009.1" stroke="#18c048" stroke-width="0.9" opacity="0.8" stroke-dasharray="8 1 5 1.5"/>
<path d="M676.3 912.3Q686.8 924.9 693.2 939.6" stroke="#18c048" stroke-width="1.1" opacity="0.7" stroke-dasharray="5 2 2 1.5"/>
<path d="M630.1 938.9Q637.2 933.6 637.6 924.8" stroke="#1cb450" stroke-width="1" opacity="0.4"/>
<path d="M565.6 882.6Q565.6 889.3 571.2 892.9" stroke="#1cb450" stroke-width="1.1" opacity="0.2"/>
<path d="M692.7 912.1Q699.6 911.8 697.8 905.1" stroke="#1cb450" stroke-width="1.3" opacity="0.5"/>
<path d="M501.9 999.2Q508.9 1001 514.1 1006" stroke="#1cb450" stroke-width="1.3" opacity="0.4"/>
<path d="M593.8 1014.6Q590.8 1008.8 585.7 1004.6" stroke="#1cb450" stroke-width="1.3" opacity="0.4"/>
<path d="M650.2 1000Q656.5 988.9 663.2 978" stroke="#1cb450" stroke-width="1.3" opacity="0.4"/>
<path d="M628.1 1016.5Q634.7 1019.8 641.3 1023.1" stroke="#1cb450" stroke-width="1.2" opacity="0.3"/>
<path d="M605.2 1002Q611.4 1002.1 617.4 1000.4" stroke="#1cb450" stroke-width="1.2" opacity="0.4"/>
<path d="M511.8 1008.6Q517.8 1015.5 526.5 1018.3" stroke="#1cb450" stroke-width="1.3" opacity="0.4"/>
<path d="M487.7 951Q480 961.9 481.6 975.1" stroke="#1cb450" stroke-width="1.3" opacity="0.3"/>
<path d="M567.9 945.6Q580.4 948.5 585.4 960.4" stroke="#1cb450" stroke-width="1.4" opacity="0.3"/>
<path d="M589.5 891.8Q595.3 888.8 601.2 886.2" stroke="#1cb450" stroke-width="1" opacity="0.4"/>
<path d="M532.8 983.8Q534.4 971.9 542.4 963.1" stroke="#1cb450" stroke-width="1" opacity="0.3"/>
<path d="M536.6 1034.2Q544.6 1041.6 542 1052.2" stroke="#1cb450" stroke-width="1.5" opacity="0.4"/>
<path d="M578.2 922.2Q588.6 923 599.1 921.9" stroke="#1cb450" stroke-width="1.1" opacity="0.5"/>
<path d="M659.7 1004.8Q666.6 997 676.7 999.6" stroke="#1cb450" stroke-width="1" opacity="0.5"/>
<path d="M560.1 935.7Q549.6 938.6 539.6 943" stroke="#1cb450" stroke-width="1.1" opacity="0.4"/>
<path d="M579.8 962.5Q591.4 962.5 597.1 972.5" stroke="#1cb450" stroke-width="1.3" opacity="0.3"/>
<path d="M533.3 960.2Q535.7 967.8 537 975.7" stroke="#1cb450" stroke-width="1" opacity="0.4"/>
<path d="M495.1 941.6Q495.6 934.1 488.5 931.6" stroke="#1cb450" stroke-width="0.9" opacity="0.4"/>
<path d="M590.6 872.2Q593.4 879.8 599.9 884.6" stroke="#1cb450" stroke-width="1.1" opacity="0.5"/>
<path d="M607 856.4Q616.6 847.6 629.5 848.4" stroke="#1cb450" stroke-width="0.9" opacity="0.4"/>
<path d="M539 884.1Q540.5 877 546.1 872.3" stroke="#1cb450" stroke-width="1.1" opacity="0.4"/>
<path d="M568.6 972.4Q556.6 975.4 544.6 972.3" stroke="#1cb450" stroke-width="1.1" opacity="0.4"/>
<path d="M520.3 925.3Q517.9 935.8 522.8 945.4" stroke="#1cb450" stroke-width="1" opacity="0.4"/>
<path d="M696.3 967.1Q699.2 976.6 692.7 984" stroke="#1cb450" stroke-width="1.1" opacity="0.4"/>
<path d="M486.8 1011.3Q489.8 1023.6 489.8 1036.2" stroke="#1cb450" stroke-width="1.3" opacity="0.3"/>
<path d="M605.8 935.5Q614.2 944.7 613 957.1" stroke="#1cb450" stroke-width="1" opacity="0.4"/>
<path d="M567.9 931.2Q555.2 931.7 545.2 939.5" stroke="#1cb450" stroke-width="1.2" opacity="0.3"/>
<path d="M527.4 964.2Q526.5 958.7 525.8 953.3" stroke="#1cb450" stroke-width="1.4" opacity="0.5"/>
<path d="M666.4 1007.9Q663.6 1001.7 669 997.6" stroke="#1cb450" stroke-width="1.3" opacity="0.4"/>
<path d="M634.3 907.4Q641.5 908.4 644.6 901.9" stroke="#1cb450" stroke-width="1" opacity="0.3"/>
<path d="M612.6 985.5Q602.9 988.9 594.7 995.3" stroke="#1cb450" stroke-width="1" opacity="0.2"/>
<path d="M497.4 882.6Q500.8 873 508.3 866.2" stroke="#1cb450" stroke-width="0.9" opacity="0.5"/>
<path d="M498.6 869Q493.2 872.7 487.2 875.2" stroke="#1cb450" stroke-width="0.9" opacity="0.3"/>
<path d="M548.7 932.9Q543.1 940.9 533.4 939.7" stroke="#1cb450" stroke-width="0.9" opacity="0.4"/>
<path d="M500.2 972.6Q492.8 969.9 495.8 962.6" stroke="#1cb450" stroke-width="1.3" opacity="0.4"/>
<path d="M683.3 976.2Q672.9 980.7 662.1 977.3" stroke="#1cb450" stroke-width="1.2" opacity="0.5"/>
<path d="M621.3 830.4Q626.6 820.9 637.4 822" stroke="#1cb450" stroke-width="1.4" opacity="0.4"/>
<path d="M546.2 970Q552.1 965.6 558.2 961.5" stroke="#1cb450" stroke-width="1.3" opacity="0.2"/>
<path d="M659.7 1004.8Q662.8 1015.7 654.6 1023.6" stroke="#1cb450" stroke-width="1.2" opacity="0.3"/>
<path d="M645.1 977.5Q638.5 985.3 628.3 985.3" stroke="#1cb450" stroke-width="1.2" opacity="0.5"/>
<path d="M505.9 850.4Q506.4 859.9 497.4 862.8" stroke="#1cb450" stroke-width="1.4" opacity="0.4"/>
<path d="M525.4 1001.6Q517.3 1008.9 515.4 1019.6" stroke="#1cb450" stroke-width="1" opacity="0.4"/>
<path d="M508.1 967.2Q499.4 966.2 490.7 967.3" stroke="#1cb450" stroke-width="1.3" opacity="0.2"/>
<path d="M504.1 1013.7Q497 1015.6 490 1017.7" stroke="#1cb450" stroke-width="1.4" opacity="0.2"/>
<path d="M605.2 1002Q600.9 992.5 590.6 990.4" stroke="#1cb450" stroke-width="1" opacity="0.4"/>
<path d="M529.7 925Q519.7 930.3 511.4 938" stroke="#1cb450" stroke-width="1.2" opacity="0.2"/>
<ellipse cx="625.7" cy="1000.7" rx="22.8" ry="31.3" fill="#18b040" opacity="0.16" filter="url(#blE2)"/>
<ellipse cx="640.4" cy="1019.7" rx="14.2" ry="19.9" fill="#18b040" opacity="0.16" filter="url(#blE2)"/>
<path d="M613 979.2l-0.9 1.4M631 1006.6l0.8 1M638 979.5l1.4 0.8M617.9 1034.4l1.4 -0.6M638.1 990.9l-1.5 -1.3M617.2 1003.3l0.2 0.6M624.8 972.7l1.1 -0.6M626.3 1006.4l0.4 0.4M637.2 1010.3l-1.5 0.4M621 999.9l1.2 0.3M616.4 979.9l-0.4 1.6M641.5 1016.5l0 -0.6M631.6 981.9l1.4 -1M626.3 1030.7l0.7 1.5M647.5 994.6l-1.3 -1.6M623.1 1028.3l-0.7 1M624.5 1009.6l0.1 -0.8M618.3 983.5l1.1 -0.3M637.4 1014.2l0.6 0.1M617.3 971.6l0.5 0.2M628.7 1000.4l-0.4 -1M631.8 1008l-0.9 0.8M625.2 996.7l-1.3 0.8M632.9 973.5l-0.2 1.2M632.3 1014.4l0.6 -1.4M629.3 1011.6l-0.6 -0.6M627.6 999.7l1.4 0.2M655 995.4l-0.5 -1.5M605.9 1011.3l0.4 0.1M600 990.7l-1.2 0M636.8 1001.8l-1.1 -0.2M643.9 981.2l-0.3 -0.9M615.9 1016.6l-0.3 0.5M608.9 991l0.2 -0.2M593.8 986.2l1.2 1M609.4 952.4l1 -1.2M621.2 1034.7l-0.4 -1M633.8 1011.4l0.6 -0.1M637.9 1023.4l0.3 0.2M630.5 990.9l-0.6 1.1M619.9 1038.3l-0.6 -0.6M620.4 993.9l-1.6 1.1M623.5 1043.3l1.3 0.3M619.3 1015.1l-1.3 -1M621.2 990.9l-1 -1.6M618.2 1023.4l-0.5 0.8M603.5 973.6l1 -0.9M625.7 1000.6l-0.4 -1.2M626.8 989.6l1.5 -0.6M606.8 1013.4l-1.1 -0.6M624 975.8l-1.4 0.2M606.1 1024.4l0.8 0.5M606.1 988.8l-1.6 -0.5M615.3 1000.3l-1.2 0.3M618 993.6l-0.4 -0.4M647.5 1016.8l1.1 0.3M646.1 1016.6l1.6 -1.5M643.7 1021.8l-1.3 0.7M624.4 1012.5l1.3 -1.6M646 1022.1l-1.5 0.4M654 1003.9l0.3 0.1M635.3 1019.8l1.4 1.2M641.2 1029.9l1.3 -1.4M631.6 1019.2l0.4 -1.6M650.6 1020.2l0.7 0.3M642.6 1010.8l0.2 1.2M649.7 1015.7l-0.8 0.5M649.3 1018.6l-0.9 0.8M634.2 1024l1.2 0.2M643.1 1030.5l-0.1 0.1M635.4 1024.1l1.4 0.6M630.7 1009.8l-1.4 1.3M626 1019.7l1 1.6M641.9 1018.7l1 -1.5M641.6 1037.3l-0 -0.2M639.4 1015.9l-0.9 0.4M635.2 1037.6l1.6 0.2M638.3 1030.6l-0.1 -1.2M648.8 1027.6l0.1 0.6M649.3 1030.4l-0.6 0.5M641.9 1030.5l-0.1 -1.3M651.1 1036.8l-0.2 1M620.7 1014.2l-0 1.5M646.3 1013.1l-0.8 1.1M641.2 1026.5l0.7 -1M635.2 1000.1l-0.9 0.6M645.2 1023.7l-0.6 -0.9M643.3 1019.2l-1.4 0.2M620.6 1023l0.1 0.2M654.6 892.9l0 1.3M556.2 894.4l-0.8 1.3M618.2 1019.3l-0 -1.8M642.7 996.1l-0.3 2.2M589 846.1l-1.3 2.1M523.1 878.1l-2 -0M624.9 910.7l-0.9 -0.7M686.9 981.5l2 -1M653.8 950.3l-1.4 0.1M680 919.8l-1.3 -0.5M599.7 897.9l-1.6 1.3M561.6 935.1l0.2 2.3M674.8 947.1l-1.4 2.1M587.9 945.7l1.2 -1.2M682.2 1002l-0.5 -2M645.9 999.1l1.2 2.2M649.6 826.7l-1.6 0.8M619.6 989.8l0.8 -2.3M631.3 1028.6l-1.5 -1M657.6 863.6l-1.1 -0.7M622.6 1006.4l0.2 0.1M657.8 963.7l-2 -1.7M526.7 958.1l0.2 -1.8M601.9 996.2l-2 1.8M656.4 986.5l1.7 0.7M537.6 830.4l0.4 -1M519.9 1017.9l1.2 -0.7M649.3 834.9l0.9 -0.7M537 955.4l2.3 -2.3M662.5 851.3l1.7 1.3M535.1 877.5l-2.4 1.1M620.9 847.9l-0.3 -1.3M617.1 935.8l-1.6 -1.4M663.5 902.3l1 1M601.7 851l-1.1 0.7M634.1 848.9l2 0.7M628.6 948.1l-0.8 -1.1M687.3 981.9l-1.8 -0.1M667.4 932.3l-1.8 0.9M606.9 918.2l1.6 -2.3M532.4 893.4l1.5 1.8M580.4 844.1l2.4 -1.8M588.9 904.1l0.7 1.7M683.1 961.7l1 -1.2M574.8 884.3l-1.8 1.9M552.6 905.4l-1.3 -0.9M527.1 832l-1.8 0.2M565.5 1002.1l2.1 -1.1M696.8 951.6l-1.8 2.1M560.5 935.1l-0.1 2.3M645.5 841.4l-1.9 -1.2M607 1030.1l-1.9 0.8M602.2 851.2l-2.1 0.6M630.8 995.7l1.4 1.8M496.1 953.3l-0.6 -2.1M579.2 848l-1.7 -2.2M676.9 879.4l-0.1 -1.5M485.4 950.2l0.1 -1.2M484.3 946l-0.4 1.5M606.2 895.4l-1.6 0.7M648.1 854.3l0.3 2.1M674.5 998.6l-0.5 0.8M500.8 999.9l-1.8 -2.2M486.5 974.9l-2.2 -0.7M666.5 1032.5l0.8 -1.3M509.8 917.7l0.6 2.2M499.1 961.4l1.8 -2.1M540.1 1026l1.3 1.4M528.1 954.1l-1.6 -2.2M652.4 828.5l-0.6 1.3M494.2 949l0.8 1.2M647.5 827l1.2 0.9M484.2 998l1.5 -1.4M527.8 962.2l-2 -2.2M532.3 988.3l0 -2M615 945.5l-2.3 0.6M609.1 995.6l1.2 -1.6M597.3 963.3l-1.3 -1.5M650.5 864.7l-1.9 -1.2M533.8 867.5l1.1 2.3M565.8 888.3l-1.7 0.4M641 963.2l-0.3 0.2M575 888.8l1 -0.4M661.3 956.6l0.5 1.2M669.7 868.1l-0.4 -1.9M595.1 846.9l-2.1 1.7M608.1 975.1l-1.8 0.3M617 830.1l0.2 -1.3M610.2 950.2l-0 1.6M589.5 948.1l0.2 1.6M573.1 878.9l0.8 -1.6M661.9 834.8l1.5 -1M597.4 929.2l2.2 -1.6M544.3 1032.4l-1.3 2M556.5 873.6l1.2 -2.1M632.2 965.6l-0.8 0.8M592.1 1002l-2.3 0.2M634.2 912.7l2.2 2M585.4 1004.3l1 -0.4M635 870l-0.7 1.4M557.8 827.2l-0 -0.6M668.1 895.1l1.6 0.5M533.3 1027.4l-1.5 -1.6M502.9 855.3l2 -2.1M570 922.3l0.7 1.3M690.6 879.1l1.5 1.7M683.1 871.1l-0.4 1.6M618 1017.1l-1.4 2.2M663.7 833.6l-1.6 -0.6M655.2 861.8l-1.2 -0.8M533.6 835.6l1 0.7M584.7 992.5l0.7 1.7M494 1017.9l1 -1.4M495.1 1017.8l-2.3 -2.1M698.4 882.4l0.9 2.1M586.4 862.9l0.7 -1.1M606.4 853.5l2.3 -2.4M641.9 942.2l1.8 2.1M599.2 1017.4l1.5 -1.3M588 953.7l-1.1 -1.9M685.6 876.1l1.1 -1.8M635.7 841.5l-2.1 -1.3M494.6 889.7l1.1 -0.4M532.6 1025.9l0.9 -2.1M634.5 881.4l1.8 -0.8M619.1 903.7l-2.3 2.2M659.3 844.8l1.8 -2.3M620 822.1l0.2 2.1M531.9 946.8l-2.2 -1.1M625 824.5l0.5 0.9M694.2 934.9l-1.3 -0.6M690.8 915.9l1.3 1.6M673.1 918.1l-2 0.6M670 859.6l-0.9 -0.3M585.5 940.9l-1.1 0.8M627.3 1016.8l-2.3 1.9M488.9 998.2l-2.1 0.4M512.5 854.4l-1.6 2M625.5 1019.6l0 -1.7M621.3 947.8l0.6 1.4M638.3 1026.1l-0.6 -1.8M560.3 967.7l-1.5 0.6M614.2 1031.9l-2.3 1.7M525.6 1035.1l-0.9 -0.1M521.5 1015.3l0.9 0.9M665.5 880.3l1.2 -1.9M561.6 970l-1.1 1.9M625.8 851.2l1.4 0.5M608.8 1007.7l1.6 -1.6M646.2 848.6l1.7 0.2M670.8 996.5l-2.1 0.1M670.3 960.9l-1.8 -0.7M659.5 858.9l0.7 2.3M565.1 1001.1l-0.2 0.8M562.6 938.3l-1.3 -1.7M578.2 961.8l2 -1.8M669.7 916.3l-0.5 -2M614.1 927.1l0.7 1.3M677.1 882.1l2.3 -1.4M541.8 876.3l1.6 -0.2M667.6 873.1l-1.6 -1.3M503.5 1003.4l1.8 2M487.6 870.6l-0.4 -1.7M538.8 974.1l1.3 1.3M692.7 949.4l-0.6 0.1M683.4 976.4l1.9 -2.2M680.5 917.2l-0.2 0.2M593.6 965.3l-2.1 -1.3M495.9 952.6l2.1 0.4M629 979.2l-1.7 -1.9M534.4 969.4l1.3 2.4M676.8 1021.5l1.2 0.3M592.6 917l-0.3 -0.9M619.6 988l-1.1 1.3M512.5 954.7l0.9 -1.5M653.6 832.9l0.4 1.4M559 938.2l-1 0.7M632.2 978.2l-0.4 0.3" stroke="#2ad048" stroke-width="1.2" opacity="0.66"/>
<path d="M607.8 997.9l-0.7 0.2M621.1 1007.4l1 1.4M628.8 989.3l-1.5 1.3M633.2 982.7l-0.6 -1.3M653.8 1020.3l0.2 0.1M631.3 1007.8l0.5 -0.6M620.4 970.9l1.1 -0.4M605.1 953.1l0.3 1.3M632.5 1002.3l1 0.9M617.6 969.4l-1 -0.3M626.6 1019.2l-0 -0.1M628.4 1021.6l0.3 -1.4M628.3 991.9l1.2 -0.2M642.5 1014.9l1.1 0.2M645.2 1035.2l-0.6 1M642.1 1023.6l-0.5 0.8" stroke="#30b8d8" stroke-width="1.3" opacity="0.85"/>
</g>
<path d="M609.5 827l0 0.7M607.4 824.7l0.6 -0.4M663 957.9l-1.2 -0M664.8 955.1l-0.6 0.2M661.6 955.8l-0.5 0.5M689 930.5l-0.1 -1.2M577.8 833l1.2 -0.2M650.4 1028.4l-0.2 -1.1M651.4 1032.8l-0.3 0.2M662.1 896.2l0.1 -0.9M620 986.3l-1.3 -1.2M619 987.2l0.4 -0.1M622.4 985.5l1.2 1.1M505.1 913.4l1 -0.8M506.1 913.4l-1 -1M505.9 914.9l-0.7 0.1M558.3 1026.4l0.9 -1M559.9 1025.1l-0.9 -0.4M559.8 1026.4l-0.6 0.3M631.8 992.9l1.3 -0.8M631.3 992.2l-1.2 0.6M497.9 977.4l1.2 -0.2M535.1 984.1l0.5 -0.2M533.5 986l-0.4 -1.3M534.5 983.7l-0.3 -0.1M670.6 882.3l0.9 -0.5M670.9 884.6l0.8 0.5M584.8 1030.8l-1.1 0.6M585.2 1033.6l-1.3 -0.4M584.5 1031.9l-0.7 1.1M582.7 825.1l0.3 -1.3M584.2 827.4l0.8 0.2M616.7 964.7l-0.5 -0.1M616.4 964.5l-0.7 -1.3M617.8 962l-0.5 -1.2M584.5 896.1l0.1 0.3M586.6 894.7l0.4 0.3M582.8 897.2l0.9 0.3M689.7 882.3l0.8 -0.2M689.3 882.8l-0.4 0.7M664.9 848l-0.9 0.9M663.5 846.7l0.4 -0.9M665.5 846.1l-1.2 -1.1M565.9 955.9l1.1 -1.1M584.8 860.1l1 0.7M664.6 966.9l-0.1 -0.3M579.6 934.9l-0.6 -0.1M543.3 888l0.9 0M546 889l0.8 0.4M543 885.5l-0.8 -0.1M552.2 956.7l0.7 -0.3M552.7 956.4l-1 -0M675.4 827.3l-0.9 0.1M673.8 826.4l-0.9 -1.1M672.1 828.1l1.1 -0.3M526.9 900.4l-0.3 -0.8M526 901.9l-0.6 0.3M522.6 897.9l0.1 -0.8M633.6 1008.5l-1.1 -0.1M557.4 869.3l1.2 0.6M506.3 881.3l0.2 -0.4M505.8 883.3l-0.8 -0.2M507.2 879.3l-1.2 0.4M691.6 1002.8l-1.1 -0.1M692.1 1006.6l-1.3 0.9M514.6 988.2l0.2 1.1M516.6 986.7l0.9 -0.4M512.8 988.7l0 0.7M524.5 949.4l0.9 -1M522.8 952.3l-1.3 -0.3M684.8 948.8l-0.5 0.2M524.7 833.6l0.7 1.1M527.1 834.6l-1.1 1.2M507.2 1025.3l0.8 0.3M685 913.1l1 -0M681.6 915l0.1 1.1M682.1 912.3l1 -1.1M592.4 955.7l0.2 -0M595.5 953.7l-1.2 1.3M494.8 947.5l-0.9 -0.8M643.6 883.3l0.3 -0.9M493.8 922.1l0.4 1M489.9 919.4l1.1 -0.1M493.8 920.8l0.4 -0.6M524.5 841.4l-0.6 -0.8M522 839.4l-1.1 0.1M486 901.9l0.7 -0.5M486.5 899.9l1.2 0M643.6 932.4l0.3 -0.2M499.2 874.5l1 -0.5M642 976.6l-0.9 -0.9M640.7 977.1l0.7 0.9M641.1 976.7l0.5 -0.3M569.9 946.5l-0.6 -0.1M570 948l-1.2 1.2M568 947.2l-1.2 -0.4M655.1 995.5l-0.2 -0.5M584.9 938.5l0 -1M587.9 940.4l1 -0M616.6 980.5l1.2 0.7M646.2 929.2l0.1 0.1M675.7 946.1l-1.1 0.9M685.4 925.6l-0.5 0.5M686.9 923.4l-0.8 0M610.7 902.6l1.2 -0.7M612.8 900.7l-0.1 1.2M671.1 918.1l-1 0.8M672.4 919.1l0.3 0M687.5 996.4l-0.1 -0.4M685.2 995.6l-1 -0.4M685 995l1.2 0.5M500.8 1001.4l0.6 1.1M501.5 999.8l1.1 -1.1M493 976.5l0.4 -0.8M489.5 979.7l-1.3 -0.2M489.5 977.2l-0.5 0.7M505.6 872.9l-1 1.2M488.7 910.1l0.8 -0.5M489.9 910.2l-0.8 -0.4M671.4 883l0.2 -0.8M609.3 838.9l-0.5 -0.9M607.6 837.9l0.7 0.4M571 953.9l-0.5 0.2M570.2 953.2l-0.9 0.1M636.8 892l1 0.9M653.5 894.2l0.6 -1.1M652.6 893.6l-0.9 -0.1M577 898.1l0.3 -1.2M580.6 901.2l0.3 -0.2M579.9 898.3l1 -1.1M561.3 1001.7l-1.2 -0.4M561.8 1000.9l0.9 -0.6M561 999.9l-0.7 -0.4M682.9 898.8l0.3 -0.2M607.2 918.5l1.2 -0.6M607.8 918.2l0 -1.2M559.3 1021.8l0.9 1M561.4 1025l-1 -0.6M562.4 1024.7l-1.1 -0.1M612.3 978.5l1.1 1M612.9 979.8l-0.2 -1.1M611.9 979l0 -0.2M557.5 967.1l-1.2 0.6M555.5 966.7l1.2 1.1M555.9 962.9l1.2 0.7M547.5 923.1l1.1 1M544 919l0.5 -1M546.1 918.8l1 0.1M504.7 976.7l1.2 0.9M523.1 945.3l-0.7 0.9M524.2 945.7l-0.7 -0.8M646.6 920.7l-0.1 -1.3M562.1 1000.5l-0.4 -0.5M562 1003.3l-0.9 -0.5M560.7 1001.4l-0.5 0.2M520.9 860.7l-1 0.2M520.6 859.2l0.9 0.7M520.1 856.3l1.1 0.1M691.3 949.3l-0.4 0.8M687.4 947.2l0.7 0.9M688.8 949.1l0.5 -0.4M679.8 881.3l-1.2 -0.1M487.3 948l-0.5 1M488.2 945.9l1.1 0.2M504.7 909l-0.5 0.6M506 909.9l1.2 0.2M556.2 971.7l-0.8 -0.1M553.6 970l0.9 -1.1M554.7 969.5l0.7 1M522.8 854.2l-0.9 0.5M523.2 854.5l-0.1 0.8M523.8 856.1l1 -1.1M546.1 1006.4l0 -0.7M544.3 1009l-0.2 -1M543.4 1009.9l-1.3 -0.5M629.4 866.8l-0.3 -0.6M629.9 865.5l-0.9 0.3M629.8 866.8l-0.2 -0.1M572.4 843.5l0.9 1.1M577.3 839.9l0.7 0.7M573.5 839.5l-1 0.2M698 1030.2l0.2 1.3M697.1 1032.3l-0.6 0.2M606.6 823.8l0.1 0.7M552.1 910.3l-1.2 0M553 908.7l-0.6 -0.9M653.6 829.8l1.1 0.4M653.9 833.5l-0.8 -1.3M526.4 1003.7l-0.3 1.2M523.5 1004.1l1.2 -1M541.9 1016.7l-0.7 -0.1M545.1 1015.9l-0.5 0.7M642.3 966.7l-1 0.6M634.9 1010.5l-1.2 -1M636.3 1011.1l-0.2 0.7M636.9 1012.3l-0.9 0.3M659.9 990.7l0.3 -0.5M560.3 892.9l-1.2 -0.1M562.1 890.8l0.5 0.7M559.4 893.3l0.9 1.3M625.4 843l0.7 0M627.4 844.9l0.6 1M496.3 998.3l1.1 1.3M496.3 993.3l-0.7 1.2M639.1 855.7l0.7 -0.7M636.9 858.2l1.2 0.1M681.8 921l0.3 -1.1M591.8 929l0.9 0M530.2 933.7l0.3 -0.2M691.3 882l1.2 -0.5M692.9 879.3l-0.1 -1M563.6 972.4l0.6 1M506 857.7l-1.2 0.3M509 860.6l-1 1.1M523.3 972.9l0 -0.7M499.7 1034.4l-1 0.1M500.9 1031.2l0.7 -0.2M563.6 970.5l0.7 -0.6M565.7 970.2l-1.3 -1.3M572.2 971.5l0.1 -0.4M573.2 970.3l-0 -0.8" stroke="#d82048" stroke-width="1.5" stroke-linecap="round" opacity="0.62" fill="none" filter="url(#blR)"/>
<g fill="none" stroke="#f02850" stroke-width="1.4" opacity="0.8" stroke-dasharray="3.5 1 2.5 0.8" filter="url(#fo3)"><circle cx="561.8" cy="930.5" r="2.4"/><circle cx="591" cy="933.7" r="2.5"/><circle cx="515.1" cy="971.6" r="2.7"/><circle cx="595" cy="886.2" r="3.3"/><circle cx="537.7" cy="853.9" r="2.9"/><circle cx="631.9" cy="913.9" r="3"/><circle cx="552.3" cy="902.7" r="2.5"/><circle cx="523.2" cy="944.7" r="2.7"/><circle cx="638.2" cy="894.3" r="2.6"/><circle cx="574.9" cy="841.4" r="2.9"/><circle cx="650.9" cy="1023.8" r="2.7"/></g>
<g filter="url(#fo3)">
<ellipse cx="621.4" cy="937.5" rx="2.6" ry="2.4" transform="rotate(152 621.4 937.5)" fill="#ff2868"/>
<ellipse cx="627.8" cy="941.7" rx="2.7" ry="2.1" transform="rotate(172 627.8 941.7)" fill="#ff2868"/>
<ellipse cx="651" cy="853.3" rx="3.1" ry="2.1" transform="rotate(73 651 853.3)" fill="#ff2868"/>
<ellipse cx="676.3" cy="868" rx="2.7" ry="2.1" transform="rotate(33 676.3 868)" fill="#ff2868"/>
<ellipse cx="684.7" cy="1000.7" rx="3.2" ry="2.1" transform="rotate(71 684.7 1000.7)" fill="#ff2868"/>
<ellipse cx="695.3" cy="1013.3" rx="3" ry="2.4" transform="rotate(140 695.3 1013.3)" fill="#ff2868"/>
<ellipse cx="655.2" cy="1021.8" rx="2.6" ry="2.2" transform="rotate(19 655.2 1021.8)" fill="#ff2868"/>
<ellipse cx="581.4" cy="874.3" rx="2" ry="1.8" transform="rotate(10 581.4 874.3)" fill="#ff2868"/>
</g>
</g>
<clipPath id="ce4"><rect x="47.8" y="1046" width="209.6" height="211.3"/></clipPath>
<filter id="fc4" filterUnits="userSpaceOnUse" x="39.8" y="1038" width="225.6" height="227.3" color-interpolation-filters="sRGB"><feTurbulence type="fractalNoise" baseFrequency="0.13" numOctaves="2" seed="31" result="t"/><feDisplacementMap in="SourceGraphic" in2="t" scale="5" xChannelSelector="R" yChannelSelector="G" result="d"/><feTurbulence type="fractalNoise" baseFrequency="0.07" numOctaves="2" seed="21" result="t2"/><feColorMatrix in="t2" type="matrix" values="0 0 0 0 0  0 0 0 0 0  0 0 0 0 0  4.2 0 0 0 -1.2" result="a"/><feComposite in="d" in2="a" operator="in" result="c"/><feGaussianBlur in="c" stdDeviation="0.8"/></filter>
<filter id="fo4" filterUnits="userSpaceOnUse" x="39.8" y="1038" width="225.6" height="227.3" color-interpolation-filters="sRGB"><feTurbulence type="fractalNoise" baseFrequency="0.07" numOctaves="2" seed="14" result="t"/><feDisplacementMap in="SourceGraphic" in2="t" scale="6" xChannelSelector="G" yChannelSelector="B" result="d"/><feGaussianBlur in="d" stdDeviation="0.75"/></filter>
<g clip-path="url(#ce4)">
<rect x="47.8" y="1046" width="209.6" height="211.3" fill="#020212"/>
<g filter="url(#blE2)"><path d="M249 1230.2h0M235.5 1071h0M178.1 1178.8h0M173.1 1215.4h0M224 1054.7h0M78.2 1079.9h0M162.5 1159h0M156.6 1156.4h0M218.2 1175.4h0M92.1 1080.4h0M65.2 1088.3h0M130.7 1162.2h0M105.6 1235.9h0M191.3 1188.7h0M115.5 1112.1h0M77.7 1242.7h0M204 1167.5h0M203.2 1185h0M242.4 1145.4h0M129.3 1247.6h0M168.4 1212.5h0M123.2 1052.1h0M56.1 1106h0M86.7 1249.9h0M146.8 1207.1h0M89.4 1108.1h0M112.6 1095.5h0M251.7 1129.6h0M72 1063.9h0M62.7 1124.3h0M229.9 1253.6h0M163 1122.2h0M138.7 1240.1h0M145.7 1191.2h0M124.3 1064.1h0M119.2 1119.6h0M209.8 1046.4h0M181.3 1113.5h0M114.8 1166.1h0M174.5 1241.6h0M243 1091.1h0M57.7 1059.9h0M160.4 1111.3h0M146.2 1201.6h0M203.6 1077.7h0M48.6 1104.6h0M78.8 1155.1h0M123.2 1237.6h0M203.8 1087.1h0M103.9 1145h0M254.3 1099.5h0M122.1 1207.3h0M52.8 1224.1h0M169.5 1178.1h0M124.8 1114.6h0M52.8 1049.9h0M69.4 1234.4h0M113 1212.1h0M67.7 1244.6h0M124.2 1214.7h0M155.4 1120.3h0M67.4 1174.6h0M115.4 1176.7h0M252.4 1072.5h0M123.6 1175.1h0M198.6 1133.9h0M92.7 1068.8h0M97.9 1072.7h0M209.7 1147.6h0M134.4 1151.8h0M232.1 1059.4h0M212.3 1155h0M161.4 1195.3h0M220.4 1146.7h0M191.6 1166.2h0M93.5 1251h0M103.3 1177.2h0M184.9 1188.4h0M130.7 1071.4h0M198.5 1145.5h0M156.4 1103h0M48 1232.2h0M114.5 1052.8h0M80 1170h0M204.1 1069.9h0M212.1 1104.3h0M65.3 1065.2h0M166.9 1242.9h0M73.2 1248.1h0M158.2 1245.4h0M190.4 1240.7h0M205.3 1050.6h0M245.7 1237.5h0M242.4 1056.2h0M208.1 1191.5h0M108.4 1116.5h0M139.4 1228.4h0M87.2 1091.7h0M92.4 1213.3h0M222.4 1122.7h0M205.7 1257.3h0M130.8 1200.1h0M161.7 1168.3h0M219.8 1104.9h0M52.7 1241.1h0M145.8 1249.2h0M185 1174.1h0M133.5 1231h0M87.8 1224.5h0M238.6 1121.8h0M51.1 1137.7h0M75.3 1231.9h0M235.1 1180h0M119.6 1090h0M137.7 1090.3h0M233 1128.7h0M59.1 1245.7h0M134.7 1210.4h0M81.8 1236.1h0M190.3 1111h0M183 1121.2h0M79.3 1117.1h0M235.3 1110.4h0M197.6 1089.8h0M210.2 1084h0M219.1 1183h0M117.3 1127.1h0M153.4 1228.3h0M243.9 1068.2h0M224.5 1138.4h0M243.1 1126.2h0M179.5 1211.9h0M196.2 1227.2h0M172.5 1193.2h0M127.5 1221h0M190.6 1177.2h0M245.9 1062.7h0M220.3 1071h0M207.8 1100.8h0M255 1140.9h0M196.6 1122.5h0M87 1058.6h0M104.9 1053.6h0M71.3 1109.6h0M117.6 1058.1h0M53 1117h0M120.3 1162.2h0M247.1 1250.4h0M49.5 1148h0M124 1106.9h0M160.6 1175.2h0M62.6 1224.4h0M112.2 1186.6h0M59.8 1238.8h0M222 1116.9h0M94.1 1162h0M126.2 1143.2h0M183.3 1147.6h0M200.4 1221.2h0M140.6 1222.5h0M234.6 1115.9h0M183.8 1195.7h0M230.1 1223.2h0M120.3 1249.3h0M166.5 1254.5h0M246.6 1117.8h0M89.3 1051.6h0M229.9 1137.8h0M192.8 1116.7h0M151.5 1202.9h0M252.1 1160.2h0M77.9 1111.5h0M225.5 1132.5h0M90.5 1235.7h0M55.5 1088.2h0M136.8 1218.5h0M210.1 1123.4h0M112.6 1231.2h0M75.5 1106h0M202.1 1138.7h0M208.1 1176.6h0M219.6 1230.5h0M179.6 1256.7h0M234.6 1171.9h0M70.2 1228.9h0M56 1065.5h0M224.6 1101.6h0M186.3 1138.4h0M249.1 1067.2h0M92.6 1222h0M81 1254.9h0M103.3 1118.4h0M140.2 1188.6h0M127.6 1233.4h0M49.1 1073.8h0M201.5 1193.5h0M115.8 1073.1h0M166.8 1191.5h0M172.3 1252.5h0M62.6 1134.6h0M67.9 1059.2h0M99.9 1108.7h0M222.3 1162.9h0M131.9 1093.1h0M85.4 1240.2h0M140.4 1157.4h0M96.1 1104.3h0M256.8 1053.8h0M118.3 1065.5h0M168.6 1155.9h0M91.5 1088.3h0M50 1159h0M241.8 1164.2h0M87 1137.2h0M129 1240.6h0M83.6 1048.4h0M102.1 1206.7h0M104.2 1138.4h0M140.4 1115.5h0M58.6 1252.1h0M230 1175h0M136.2 1161.1h0M82.5 1221.8h0M48 1058.9h0M99.9 1162.8h0M240.1 1181.9h0M129.7 1133.3h0M61.5 1105.8h0M95.5 1135.8h0M109.4 1101.6h0M197.1 1188.7h0M160.3 1228.8h0M95.4 1093.4h0M150.1 1234.7h0M212.4 1238.9h0M227.4 1191.4h0M251.5 1120.4h0M233.6 1193h0M87.2 1211.4h0M129.4 1065.9h0M235.3 1251.5h0M257.3 1184.3h0M57.6 1227h0M166.1 1173.5h0M235.4 1225.8h0M61 1093.4h0M48.3 1092.2h0" stroke="#0a0a80" stroke-width="12" stroke-linecap="round" opacity="0.2" fill="none"/></g>
<g filter="url(#fc4)" fill="none" stroke-linecap="round">
<path d="M116.9 1182.4h0M178.1 1178.8h0M78.2 1079.9h0M112.8 1224h0M227.7 1234.2h0M156.6 1156.4h0M92.1 1080.4h0M232.7 1053.9h0M191.3 1188.7h0M235.3 1092.5h0M247 1155.6h0M59.1 1153.7h0M134.3 1078.4h0M155.5 1237.1h0M146.8 1207.1h0M95.1 1153.7h0M89.4 1108.1h0M231.9 1066.5h0M251.7 1129.6h0M159.4 1253.2h0M163 1122.2h0M212.8 1173.4h0M138.7 1240.1h0M145.7 1191.2h0M119.2 1119.6h0M61 1099.5h0M52.2 1173.8h0M57.7 1059.9h0M205.4 1126.3h0M257 1122.4h0M64.9 1072.4h0M203.6 1077.7h0M78.8 1155.1h0M174.2 1209.2h0M203.8 1087.1h0M103 1079h0M254.3 1099.5h0M108.6 1254.6h0M115.7 1143.2h0M67.4 1174.6h0M91.1 1244.8h0M156.2 1136.8h0M134.4 1151.8h0M63.4 1146.1h0M212.3 1155h0M199.6 1257h0M220.4 1146.7h0M80.9 1095h0M103.3 1177.2h0M142.1 1210.9h0M122 1220.1h0M130.7 1071.4h0M64.1 1116.3h0M131.8 1191.5h0M156.4 1103h0M126 1197.1h0M50.3 1067.7h0M213 1127.9h0M142.2 1141.5h0M150.7 1213.8h0M67.9 1120.5h0M166.9 1242.9h0M112.8 1046.7h0M101.3 1226.9h0M242.4 1056.2h0M200.4 1231.4h0M98.8 1139.9h0M88 1257h0M52.7 1241.1h0M185 1174.1h0M169.1 1168.1h0M87.8 1224.5h0M119.6 1090h0M59.1 1245.7h0M134.7 1210.4h0M175.7 1165.4h0M205.7 1143.5h0M86 1229.8h0M175.8 1131h0M152.3 1107.4h0M219.1 1183h0M151.3 1144.3h0M117.3 1127.1h0M53.9 1163.5h0M243.1 1126.2h0M127.5 1221h0M190.6 1177.2h0M173.1 1232.6h0M207.8 1100.8h0M248.5 1057.4h0M87 1058.6h0M198.1 1109.3h0M124 1106.9h0M112.5 1120.7h0M160.6 1175.2h0M84.9 1098.8h0M194.6 1255.4h0M191.1 1131.5h0M234.7 1164.4h0M209.7 1135.2h0M89.3 1051.6h0M147.3 1240.5h0M241.9 1222.8h0M72.5 1131.6h0M151.5 1202.9h0M128.2 1087h0M201.1 1175.5h0M119.7 1076.8h0M55.5 1088.2h0M210.1 1123.4h0M112.6 1231.2h0M202.1 1138.7h0M208.1 1176.6h0M129.5 1185h0M219.6 1230.5h0M70.2 1228.9h0M245.9 1046.2h0M224.6 1101.6h0M92.6 1222h0M48.5 1130.3h0M101.2 1060.4h0M240.9 1080.8h0M115.8 1073.1h0M159.6 1223.2h0M102.3 1124.5h0M172.3 1252.5h0M216.1 1191.1h0M175.6 1145.1h0M98.5 1066.4h0M238.8 1096.9h0M143.6 1165h0M257.2 1219h0M117.9 1232.7h0M166.3 1237.3h0M246.2 1171.5h0M157.6 1199.6h0M57.2 1148.7h0M150.9 1102.1h0M104.2 1138.4h0M57.2 1123.3h0M62.3 1178.3h0M108.4 1092.3h0M131 1216.8h0M59.5 1111.7h0M251 1236.4h0M61.5 1105.8h0M184.6 1153.8h0M80.3 1227.8h0M68.5 1151.1h0M146.2 1217.6h0M150.1 1234.7h0M135.1 1187.2h0M76.3 1150.3h0M197.3 1168h0M218.5 1065.9h0M129.6 1081.8h0M121 1102.1h0M129.8 1127.5h0" stroke="#0808a8" stroke-width="4.6"/>
<path d="M169.7 1128.6h0M145.5 1159.3h0M173.1 1215.4h0M216.6 1161.7h0M239.3 1256.5h0M162.5 1159h0M67.4 1168.2h0M218.2 1175.4h0M224.7 1048.4h0M151.4 1129.3h0M127.5 1209.5h0M115.5 1112.1h0M137.4 1251.5h0M99.4 1220h0M204 1167.5h0M75.4 1053.5h0M168.4 1212.5h0M123.2 1052.1h0M66.7 1130h0M254.1 1113.9h0M225.5 1067.2h0M65.6 1110.8h0M61.3 1172.8h0M60.2 1166.3h0M181.5 1235h0M128 1120.7h0M172.3 1160.8h0M69.1 1099.8h0M208.3 1094.9h0M162.3 1184.9h0M174.5 1241.6h0M95.5 1129.8h0M123.1 1134.6h0M48.6 1104.6h0M136.5 1194.8h0M144.3 1110.3h0M149.8 1118.5h0M74.5 1223.3h0M108.5 1133.7h0M144.2 1256.1h0M52.8 1224.1h0M203.9 1119.2h0M191.3 1234.5h0M124.8 1114.6h0M190.6 1148.2h0M164.8 1114.6h0M58.5 1216h0M113 1212.1h0M94.6 1048.1h0M155.4 1120.3h0M242.2 1074.2h0M123.6 1175.1h0M49.9 1153.4h0M177.7 1248.1h0M228.4 1164.2h0M162.6 1133.8h0M137 1098.1h0M50.6 1218h0M111.2 1058.1h0M207.5 1245.4h0M233.3 1150.6h0M191.6 1166.2h0M226.1 1158h0M184.9 1188.4h0M198.5 1145.5h0M120.5 1148.5h0M48 1232.2h0M80 1170h0M212.1 1104.3h0M254.3 1189.1h0M199.6 1238.9h0M73.2 1248.1h0M158.2 1245.4h0M245.7 1237.5h0M219 1246.3h0M173.8 1112.2h0M122.9 1081h0M244.8 1186.1h0M209.2 1062.3h0M151.6 1113.2h0M205.7 1257.3h0M208.2 1160h0M104 1212h0M219.8 1104.9h0M138.6 1167.8h0M232.3 1159.1h0M54.8 1055.1h0M202.3 1101.3h0M238.6 1121.8h0M131.5 1098.7h0M114 1104.6h0M179.7 1125.9h0M235.1 1180h0M182.5 1183.3h0M113.2 1088.3h0M248.2 1245.1h0M233 1128.7h0M63.5 1055.4h0M221.4 1188.7h0M140.8 1133.5h0M139.1 1245.8h0M183 1121.2h0M79.3 1117.1h0M211.1 1164.5h0M210.2 1084h0M74.1 1115.5h0M224.5 1138.4h0M235.1 1134.1h0M207.9 1236h0M189.4 1121.6h0M245.9 1062.7h0M255 1090.7h0M156.6 1148h0M95.4 1232h0M255 1140.9h0M109 1110.6h0M88.2 1114.3h0M208.7 1218.7h0M71.3 1109.6h0M125.9 1093h0M240.4 1170.8h0M117.6 1058.1h0M90.7 1098.8h0M247.1 1250.4h0M132.4 1142.9h0M202.4 1154.9h0M98.7 1245h0M188.7 1105.2h0M133.9 1121.4h0M94.1 1162h0M80.9 1145.4h0M253.4 1170.5h0M64.4 1155h0M140.6 1222.5h0M223.6 1252.6h0M171.1 1184.6h0M183.8 1195.7h0M195.6 1174.1h0M48 1164.2h0M111.6 1152.4h0M77.9 1111.5h0M124.5 1227.5h0M124.9 1129.3h0M90.5 1235.7h0M98.1 1146.5h0M221 1110.6h0M69.6 1139.4h0M148.6 1136.5h0M161 1236.1h0M234.6 1171.9h0M95.1 1238.6h0M56.6 1143.3h0M169.2 1122.9h0M61.7 1048.1h0M137.9 1234.3h0M77.4 1072.3h0M76.1 1166.4h0M103.3 1118.4h0M145.9 1098.5h0M127.6 1233.4h0M49.1 1073.8h0M90.4 1131.3h0M201.5 1193.5h0M240.9 1132.4h0M216.1 1056.8h0M219.7 1153.3h0M93.4 1059.3h0M239 1060.7h0M62.6 1134.6h0M67.9 1059.2h0M141.6 1197.4h0M222.3 1162.9h0M138.1 1146.3h0M140.4 1157.4h0M256.8 1053.8h0M105.5 1221.2h0M87 1137.2h0M148.8 1184.8h0M140.4 1115.5h0M179.3 1107.4h0M58.6 1252.1h0M91.9 1171.4h0M198.1 1115.9h0M99.9 1162.8h0M82.9 1074.5h0M107.4 1073h0M208.8 1116.5h0M200.7 1246.8h0M66 1249.8h0M109.4 1101.6h0M196.9 1128.2h0M95.4 1093.4h0M170.6 1150.2h0M82.1 1069.1h0M107.4 1061.8h0M94.1 1176.7h0M106.7 1249.6h0M87.2 1211.4h0M129.4 1065.9h0M257.3 1184.3h0M57.6 1227h0M168 1220.5h0M243.8 1150.6h0M227 1228.1h0M134.8 1204.1h0M61 1093.4h0M48.3 1092.2h0" stroke="#0a0ccc" stroke-width="5.4"/>
<path d="M249 1230.2h0M235.5 1071h0M100.7 1133.6h0M89.5 1148.4h0M85.1 1064.1h0M96.1 1098.7h0M65.2 1088.3h0M97.6 1087.5h0M62.8 1232.9h0M105.6 1235.9h0M249.3 1176.6h0M72.4 1155.4h0M242.4 1145.4h0M142.4 1103.1h0M241.6 1115.8h0M56.1 1106h0M112.6 1095.5h0M72 1063.9h0M230.4 1243.4h0M229.9 1253.6h0M124.3 1064.1h0M51.9 1080.5h0M255.8 1149.3h0M114.8 1166.1h0M148.3 1223.6h0M110.2 1139.8h0M243 1091.1h0M160.4 1111.3h0M146.2 1201.6h0M81.6 1105.4h0M112.6 1067.1h0M123.2 1237.6h0M114.8 1205.9h0M103.9 1145h0M229.5 1107.3h0M136.1 1108.3h0M78.4 1064.4h0M169.5 1178.1h0M71.8 1078.5h0M130.5 1254.6h0M124.2 1214.7h0M153 1193.2h0M98 1169h0M219.8 1170.1h0M163.3 1216.1h0M164.9 1152h0M115.4 1176.7h0M192.8 1219.1h0M104.9 1097.7h0M198.6 1133.9h0M177.7 1150.4h0M97.9 1072.7h0M232.1 1059.4h0M256.8 1157.3h0M161.4 1195.3h0M247.9 1084.7h0M109.5 1160.1h0M226.3 1145.6h0M180.4 1142.5h0M198.4 1160.7h0M114.5 1052.8h0M180 1136h0M55.4 1130h0M174.3 1118.9h0M226.2 1112.3h0M77.1 1140.7h0M190.4 1240.7h0M150.1 1163.3h0M108.4 1116.5h0M139.4 1228.4h0M92.4 1213.3h0M73.4 1145.1h0M249.4 1077h0M222.4 1122.7h0M73.7 1254.8h0M126.5 1157.4h0M130.8 1200.1h0M161.7 1168.3h0M225.6 1172.1h0M194.6 1153.6h0M107.4 1227.6h0M104.3 1068.3h0M145.8 1249.2h0M89.3 1179h0M75.3 1231.9h0M178.2 1186.5h0M52.2 1212.1h0M190.3 1098.1h0M148.2 1170.3h0M55.2 1232.2h0M81.8 1236.1h0M64.7 1217.7h0M154.8 1184.6h0M211.4 1229.2h0M204.3 1250.9h0M153.4 1228.3h0M184.3 1243.5h0M243.9 1068.2h0M59 1080.6h0M237.9 1085.4h0M169 1107.2h0M179.5 1211.9h0M196.2 1227.2h0M114.6 1217.8h0M172.5 1193.2h0M224 1178.8h0M232.7 1230.8h0M212.8 1073.7h0M150.3 1156.6h0M82.4 1160.2h0M251.5 1223.4h0M120.3 1162.2h0M87.5 1158.4h0M228.8 1120.9h0M146.3 1230.1h0M112.2 1186.6h0M89.3 1074.9h0M187.5 1229.4h0M84.5 1130.8h0M127.5 1049h0M215.5 1112.2h0M183.3 1147.6h0M200.4 1221.2h0M47.9 1115.7h0M255.2 1177.6h0M55.1 1076.1h0M47.9 1252.7h0M246.6 1117.8h0M79.3 1124.7h0M199.2 1081.9h0M120 1167.8h0M136.1 1129.5h0M252.1 1160.2h0M225.5 1132.5h0M241.6 1192.1h0M136.8 1218.5h0M249.1 1148.3h0M126.3 1075.9h0M252.1 1046.3h0M134.4 1085.4h0M75.5 1106h0M219.5 1128.8h0M237.3 1236h0M100.3 1183.1h0M151.3 1256.6h0M179.6 1256.7h0M180.5 1159.5h0M209.6 1078.6h0M56 1065.5h0M170.4 1137.5h0M135 1114.4h0M73.3 1126.3h0M249.1 1067.2h0M97.6 1081.4h0M81 1254.9h0M140.2 1188.6h0M212.8 1140.7h0M113 1082.2h0M58.9 1117.8h0M166.8 1191.5h0M53.7 1094.7h0M226.9 1184.2h0M99.9 1108.7h0M210.1 1111h0M144.6 1121.2h0M124.4 1180.8h0M251.2 1183.6h0M158.3 1189.5h0M184.8 1132.9h0M168.6 1155.9h0M84.6 1172.7h0M114.8 1134h0M50 1159h0M129 1240.6h0M102.1 1206.7h0M235.5 1241.2h0M136.2 1161.1h0M82.5 1221.8h0M75.3 1059.7h0M95.5 1135.8h0M56.7 1177.4h0M171.7 1200.9h0M251.5 1120.4h0M174.5 1155.2h0M153.4 1222.1h0M124.3 1070.5h0M57.6 1159.6h0" stroke="#0e10ea" stroke-width="6.0"/>
<path d="M216.9 1049.5h0M65.5 1078.5h0M178 1197.6h0M150.4 1123.9h0M220.2 1060.4h0M77.7 1242.7h0M97.8 1052.9h0M234.7 1145.4h0M129.3 1247.6h0M122.3 1096.9h0M86.7 1249.9h0M151.4 1150.7h0M221 1238.4h0M62.7 1124.3h0M121.4 1185.6h0M187.6 1158.5h0M164.8 1225.5h0M193.3 1247.4h0M88.1 1084.1h0M209.3 1183.6h0M185.5 1250.6h0M254.3 1081.8h0M52.8 1049.9h0M67.7 1244.6h0M176.2 1170.7h0M151.8 1249.8h0M252.4 1072.5h0M206.8 1226h0M68.5 1050.4h0M92.7 1068.8h0M107 1166.8h0M209.7 1147.6h0M68.4 1160.9h0M224.3 1243.2h0M133.9 1137h0M100.1 1255h0M102.9 1158.2h0M204.1 1069.9h0M76.1 1046.1h0M255.5 1252.8h0M74.2 1216.6h0M131.6 1224.8h0M223.9 1222.4h0M106.3 1105.9h0M208.1 1191.5h0M75.5 1100.2h0M164.3 1142.1h0M118.9 1156h0M89 1122.6h0M51.1 1137.7h0M137.7 1090.3h0M153 1178.4h0M235.3 1110.4h0M52.6 1256h0M197.3 1182.8h0M247.2 1139.7h0M238.9 1247h0M209.3 1056.8h0M216 1254.3h0M80.9 1058.3h0M220.3 1071h0M183.5 1165.6h0M156.8 1206.5h0M79.6 1179.5h0M238.3 1154.2h0M49.5 1148h0M247.4 1257.2h0M242.7 1176.9h0M62.6 1224.4h0M144.1 1151.9h0M126.2 1143.2h0M234.6 1115.9h0M230.1 1223.2h0M120.3 1249.3h0M51.8 1110.4h0M48.3 1122.4h0M229.9 1137.8h0M218.6 1222.2h0M65.6 1255.9h0M50.5 1247.6h0M186.3 1138.4h0M216.7 1134.2h0M254.2 1246.5h0M105.2 1046.4h0M192.3 1139.1h0M247.8 1219.6h0M131.9 1093.1h0M85.4 1240.2h0M227.9 1074.2h0M96.1 1104.3h0M118.3 1065.5h0M91.5 1088.3h0M157.7 1213.3h0M170.2 1143.8h0M256.3 1068.5h0M218.4 1140.7h0M123.7 1123.9h0M48 1058.9h0M240.1 1181.9h0M129.7 1133.3h0M117.5 1227h0M158.6 1128.7h0M160.3 1228.8h0M212.4 1238.9h0M181.8 1228h0M227.4 1191.4h0M234.1 1104.4h0M235.4 1225.8h0M256.1 1133.7h0M256.9 1234.2h0" stroke="#181aff" stroke-width="5.0"/>
<path d="M95.5 1115.9h0M85.5 1166.1h0M121.1 1255.5h0M224 1054.7h0M166.2 1248.7h0M130.7 1162.2h0M82.8 1214.6h0M107.5 1173.5h0M203.2 1185h0M200 1095.4h0M248.8 1194.2h0M104.7 1151.1h0M184.8 1220.2h0M248.1 1165.7h0M239.2 1048.4h0M234.5 1187.6h0M66.7 1093.4h0M78.4 1130.1h0M209.8 1046.4h0M181.3 1113.5h0M239.8 1140.3h0M122.1 1207.3h0M196.3 1101.3h0M69.4 1234.4h0M48.8 1085.1h0M93.5 1251h0M233.4 1098h0M65.3 1065.2h0M254.4 1063.5h0M205.3 1050.6h0M87.2 1091.7h0M210 1068.3h0M72.8 1171h0M133.5 1231h0M248.8 1051.2h0M240.3 1228.4h0M164.5 1203.8h0M103.5 1089.1h0M193.1 1194.7h0M190.3 1111h0M126.5 1102.2h0M197.6 1089.8h0M215.4 1118.4h0M212.9 1244.3h0M140 1124.1h0M107.1 1127.2h0M196.6 1122.5h0M104.9 1053.6h0M53 1117h0M129.1 1150.7h0M59.8 1238.8h0M222 1116.9h0M140.1 1204.7h0M166.5 1254.5h0M206.5 1107.2h0M192.8 1116.7h0M132.9 1236.9h0M233.6 1048.7h0M128.9 1054.8h0M127.2 1171.1h0M256.2 1240.8h0M144.1 1128.4h0M241.8 1164.2h0M163.8 1103.9h0M83.6 1048.4h0M72.1 1239.9h0M230 1175h0M225.6 1152.2h0M235.1 1219.2h0M97.7 1211h0M197.1 1188.7h0M251.2 1095h0M233.6 1193h0M110 1179h0M235.3 1251.5h0M85.9 1079h0M166.1 1173.5h0" stroke="#1014f0" stroke-width="7.0"/>
</g>
<g fill="none" stroke-linecap="round" filter="url(#fo4)">
<path d="M47.8 1181.2C73 1172.8 100.2 1172.8 110.7 1166.4" stroke="#18c048" stroke-width="1.3" opacity="0.7" stroke-dasharray="9 2 3 1.5"/>
<path d="M54.1 1067.1Q58.3 1098.8 68.8 1115.7" stroke="#18c048" stroke-width="1.3" opacity="0.8" stroke-dasharray="5 3 4 1.5"/>
<path d="M89.7 1219.3Q121.2 1210.8 148.4 1198.1" stroke="#18c048" stroke-width="1.2" opacity="0.7" stroke-dasharray="9 3 3 1.5"/>
<path d="M184 1202.4Q215.5 1193.9 240.6 1177" stroke="#18c048" stroke-width="1.5" opacity="0.8" stroke-dasharray="8 3 4 1.5"/>
<path d="M131.6 1088.3Q152.6 1103.1 173.6 1111.5" stroke="#18c048" stroke-width="1.4" opacity="0.7" stroke-dasharray="6 1 2 1.5"/>
<path d="M226 1109.4Q242.7 1098.8 257.4 1088.3" stroke="#18c048" stroke-width="1.6" opacity="0.8" stroke-dasharray="5 3 2 1.5"/>
<path d="M90.7 1098.8Q83.7 1108.4 85.7 1120.1" stroke="#1cb450" stroke-width="1.3" opacity="0.4"/>
<path d="M77.9 1111.5Q85.1 1103.2 91.5 1094.3" stroke="#1cb450" stroke-width="1" opacity="0.5"/>
<path d="M130.7 1071.4Q124.8 1074.5 118.4 1075.9" stroke="#1cb450" stroke-width="1.1" opacity="0.5"/>
<path d="M206.5 1107.2Q203.7 1095.9 193.1 1091.2" stroke="#1cb450" stroke-width="1.3" opacity="0.5"/>
<path d="M184.9 1188.4Q177.2 1182.5 169.4 1176.9" stroke="#1cb450" stroke-width="1.3" opacity="0.3"/>
<path d="M199.2 1081.9Q202.8 1075.8 203.2 1068.7" stroke="#1cb450" stroke-width="1.3" opacity="0.2"/>
<path d="M126 1197.1Q121.4 1188.6 111.8 1187.6" stroke="#1cb450" stroke-width="1.4" opacity="0.4"/>
<path d="M210.2 1084Q207.6 1096.2 205.3 1108.4" stroke="#1cb450" stroke-width="1.1" opacity="0.4"/>
<path d="M66 1249.8Q56.5 1248.3 51.1 1240.5" stroke="#1cb450" stroke-width="1" opacity="0.3"/>
<path d="M126 1197.1Q126.2 1207.2 126.3 1217.3" stroke="#1cb450" stroke-width="1.2" opacity="0.2"/>
<path d="M212.4 1238.9Q222.1 1230.2 235.1 1230.4" stroke="#1cb450" stroke-width="1" opacity="0.4"/>
<path d="M166.3 1237.3Q154.4 1231.2 142 1236.4" stroke="#1cb450" stroke-width="1.1" opacity="0.2"/>
<path d="M212.4 1238.9Q219.1 1233 222 1224.6" stroke="#1cb450" stroke-width="1.1" opacity="0.4"/>
<path d="M84.9 1098.8Q93.9 1101.7 97.8 1110.4" stroke="#1cb450" stroke-width="1.4" opacity="0.2"/>
<path d="M87.2 1211.4Q82.3 1222.3 82.2 1234.1" stroke="#1cb450" stroke-width="1.4" opacity="0.3"/>
<path d="M130.8 1200.1Q132.7 1207.4 125.4 1209.3" stroke="#1cb450" stroke-width="0.9" opacity="0.3"/>
<path d="M104 1212Q110.2 1210.4 115.2 1214.5" stroke="#1cb450" stroke-width="1.2" opacity="0.2"/>
<path d="M180.4 1142.5Q177.5 1155.2 170.2 1165.9" stroke="#1cb450" stroke-width="1.4" opacity="0.4"/>
<path d="M219 1246.3Q226 1251.2 228.9 1259.2" stroke="#1cb450" stroke-width="0.9" opacity="0.3"/>
<path d="M95.5 1129.8Q89.3 1132.7 87.3 1139.2" stroke="#1cb450" stroke-width="1.1" opacity="0.3"/>
<path d="M138.6 1167.8Q148.9 1173.7 150.2 1185.4" stroke="#1cb450" stroke-width="1.3" opacity="0.4"/>
<path d="M159.6 1223.2Q154.5 1222 152.4 1226.8" stroke="#1cb450" stroke-width="1.1" opacity="0.4"/>
<path d="M130.7 1162.2Q120.6 1154.3 108.2 1151.2" stroke="#1cb450" stroke-width="1.1" opacity="0.3"/>
<path d="M233 1128.7Q240.1 1127.2 247.2 1128.7" stroke="#1cb450" stroke-width="1.2" opacity="0.3"/>
<path d="M157.6 1199.6Q154 1211.8 146.4 1222" stroke="#1cb450" stroke-width="1.4" opacity="0.2"/>
<path d="M256.1 1133.7Q247.2 1124.8 234.8 1122.1" stroke="#1cb450" stroke-width="1.1" opacity="0.2"/>
<path d="M124.3 1070.5Q124.2 1062 123.8 1053.6" stroke="#1cb450" stroke-width="1.1" opacity="0.2"/>
<path d="M51.1 1137.7Q42.7 1136.3 36.4 1130.4" stroke="#1cb450" stroke-width="1.1" opacity="0.3"/>
<path d="M153 1178.4Q155.2 1170.3 162.8 1166.7" stroke="#1cb450" stroke-width="1.4" opacity="0.3"/>
<path d="M253.4 1170.5Q250.9 1165.3 247.3 1160.7" stroke="#1cb450" stroke-width="1.2" opacity="0.3"/>
<path d="M191.3 1188.7Q194.3 1178.9 196.1 1168.8" stroke="#1cb450" stroke-width="1.4" opacity="0.4"/>
<path d="M200 1095.4Q198.3 1103.3 190.4 1101.5" stroke="#1cb450" stroke-width="1" opacity="0.3"/>
<path d="M252.1 1160.2Q247.1 1167.9 249 1176.9" stroke="#1cb450" stroke-width="1.5" opacity="0.3"/>
<path d="M137.9 1234.3Q137.1 1241.5 129.9 1241.8" stroke="#1cb450" stroke-width="1.5" opacity="0.5"/>
<path d="M144.6 1121.2Q146.2 1126.9 148.4 1132.4" stroke="#1cb450" stroke-width="1" opacity="0.3"/>
<path d="M138.6 1167.8Q146.5 1174 154.9 1179.4" stroke="#1cb450" stroke-width="1.4" opacity="0.3"/>
<path d="M209.3 1056.8Q218.4 1048.3 222.1 1036.4" stroke="#1cb450" stroke-width="1.3" opacity="0.4"/>
<path d="M184.6 1153.8Q181.5 1160.4 175.3 1164.4" stroke="#1cb450" stroke-width="1.1" opacity="0.4"/>
<path d="M178.2 1186.5Q189.3 1193.4 197.3 1203.5" stroke="#1cb450" stroke-width="1" opacity="0.2"/>
<path d="M192.8 1116.7Q187.1 1111.1 191.8 1104.7" stroke="#1cb450" stroke-width="1.1" opacity="0.4"/>
<path d="M89.5 1148.4Q90.2 1144.3 90.6 1140.2" stroke="#1cb450" stroke-width="1.1" opacity="0.4"/>
<path d="M225.6 1172.1Q221.7 1159.9 209.9 1154.8" stroke="#1cb450" stroke-width="1.4" opacity="0.4"/>
<path d="M169.2 1122.9Q167.7 1114.6 160 1111.3" stroke="#1cb450" stroke-width="1.1" opacity="0.3"/>
<path d="M154.8 1184.6Q149.9 1188.9 153.8 1194.2" stroke="#1cb450" stroke-width="1" opacity="0.4"/>
<path d="M219.1 1183Q224.8 1194 237 1196.5" stroke="#1cb450" stroke-width="0.9" opacity="0.4"/>
<path d="M190.3 1111Q198.4 1106.8 206 1111.8" stroke="#1cb450" stroke-width="1.3" opacity="0.5"/>
<path d="M237.7 1247.6l1.4 1.6M214.1 1231.9l0.7 -0.4M57 1229.5l0.4 1.6M250.9 1131.9l1.7 -1.8M252.8 1044.7l-1.8 2.1M109.9 1096l2.2 -0.5M188.9 1113.2l-0.2 1.9M126.7 1050.1l1 0M106.3 1146.2l-0.2 -0.5M95.3 1079.4l1.8 -0.8M108.3 1218.6l0.1 1.6M75.2 1098.4l1.6 1.9M99 1254.4l-0.6 0.3M241 1145.2l-1.4 -0.4M237.2 1227l1.3 0.6M255.2 1188.2l2.4 -0.2M126.4 1076.4l0.4 0.8M232.4 1131.7l-1.6 1.3M214.6 1128.4l1.5 0.6M52.7 1053.7l1.2 1.8M92 1078.6l-2.4 -1.7M78.9 1081.8l1.9 0.8M206 1238l-0.8 -1M87.4 1082.5l0.4 0.2M114.9 1047.4l1.1 1.2M156.3 1237.8l-2.2 0.6M148.5 1251.4l-2.3 -0.2M178.9 1199.8l2 -1.4M232.5 1131.8l1.8 -1.5M53 1247l1.3 -0.2M154.6 1154.9l-1.9 -0.7M207.6 1145.2l1.3 -0.6M146.1 1251.1l0.7 0.6M202 1101.8l1.6 -0.5M94.4 1128.4l0.1 -1M241.2 1047.3l-1.1 -0.2M194.3 1175.4l-1.1 2.4M249.8 1084.4l0.4 0.6M112.8 1073.4l-1.1 2.1M235 1149.6l1.9 1.9M69.4 1108.4l0.1 -0.9M242.9 1054.7l-2 0.9M55.9 1065.9l1.3 0.1M54.1 1222.5l1.2 0.9M198.2 1135.4l0.5 2M68.2 1175.3l-1.7 -1.7M56.9 1131.2l-1.3 1.1M60.8 1216.6l1.4 1.3M45.8 1060l2.2 -2.3M165 1204.6l-0.7 -1.1M161.5 1254.6l-0.7 0.4M127.6 1131.6l-1.5 2.4M137.7 1109.7l-0.4 -1.9M82.4 1170.9l-0.8 -1.9M245.1 1238.2l-0.8 1.3M187.4 1228.2l-0.3 -0.3M55.1 1174.8l-0.2 -2.1M89.1 1138.8l-1.4 0.2M86.1 1082.6l-1.3 0.7M71.6 1132.7l-1.7 -1M71.7 1157.3l1.8 1.7M47.4 1165l-1.1 1.6M186.9 1222.9l1.8 -0.5M202.5 1251.1l-2.2 0.2M128.4 1254.7l0 1.3M166.2 1103.6l-1 0.6M214.4 1132.2l1.3 1.6M244.9 1151l1 1.8M146 1237.6l0.7 1.3M115.9 1206.3l2 0.2M111.7 1178.7l1.4 0.3M254.4 1068.9l-2.3 0M117.5 1230.1l1.1 -1.2M176 1158.1l1.4 1.3M91.4 1074.1l-0.7 0.8M211.4 1122.5l2 -1.6M207.9 1123.6l-1 2.3M148.8 1144.2l2 -0.1M161 1166.8l2 0.3M181.9 1124.2l-1 1.2M124.8 1062.1l-2.2 1.1M76.5 1214.9l0.1 -0.9M250.7 1095.1l0.2 0.7M157 1247.7l1.3 1.8M184.4 1217.8l-0.7 -2.3M240.6 1151.8l-2.2 1.9M128.1 1127.8l-0 -1.9M114.6 1054.5l-2.2 0.5M77 1152.6l2.1 0.1M167.8 1181l-1.9 -1M77.1 1129.1l0.3 1.2M173.9 1144.4l1.7 0.8M71.9 1147.4l-0.5 -1.1M101.1 1174.7l-0.6 -0.4M66.2 1120.1l1 -1.7M75.5 1164.7l0.4 0M88.7 1130.7l1.6 1.3M126.3 1243.2l-2 2M241.7 1190.7l0.8 0.9M167.7 1235.3l2.2 -1.9M160.6 1185.9l-1.5 1.3M52.8 1049.5l-2.4 -2.3M96.8 1147.4l2.3 -1.2M251.4 1050.7l-1.3 0.2M49.4 1102.9l0.9 -2.4M151.9 1158.8l1.1 1.9M202.5 1102.4l-0.6 -1.1M125 1078.3l1.9 0.1M202 1252.6l0.3 0.5M186.4 1241.8l0.8 1.1M46.5 1087.6l1.1 -1.6M237.1 1236.7l-1.5 1.8M175.4 1109.7l-1.3 0.1M80.9 1216.5l2 -1.1M161 1254.3l-1.4 -1.6M235 1235.5l-0.3 -1.5M221.9 1180.1l1.8 0.8M88 1150.4l-1.4 -1.2M73.9 1123.5l-0.5 -0.3M241.1 1075.3l-2.4 -0M144.6 1159.1l1.8 2.3M174.6 1172.5l-0.2 0.5M53.7 1137.5l1.5 0.7M95.4 1061.3l1.2 0.7M73.4 1129.4l-2.1 1.7M177.1 1184.4l1.1 0.6M166 1214.7l0.6 1.7M171.2 1121.5l0.5 1.5M253.9 1047.5l0.9 -0.2M145.6 1247.3l-1.3 -1.7M99 1075.5l0.6 -1.2M254.9 1240.5l2.1 0.1M136.9 1235.3l0.2 0.9M186.5 1131.5l1.3 1.9M200.2 1157l-0.2 -1.4M187.8 1118.6l-0.2 -1.9M168.2 1219.4l-1.5 -1M56.5 1254.4l-1.2 2.4M125 1209.2l2.1 -0.8M117.1 1216.2l0.8 -2.2M89.5 1075.2l-0.7 1.5M206.7 1248.1l-0.2 2.1M127 1130.2l-0.6 1.3M148.2 1165.6l1.2 0.6M79.5 1122.2l-2 -1.7M189 1122.6l-0.2 -0.8M94.3 1234.4l2.3 -0.5M213.1 1126.8l0.7 -1.4M202.1 1157.7l0.9 1.7M58.9 1248l-1.2 1.1M74.6 1061.4l-0.6 0.1M248.2 1059l-1.7 1M206 1183.7l-2.3 0M79.9 1109.3l1.2 -1.6M120.8 1101.5l0.9 -1M120.2 1231.8l2.3 2.4M212.1 1126.1l-0.6 0.8M99.4 1109.5l-1.9 -2.1M202 1067.5l-0.8 1.3M66.6 1080.3l-1.6 0.4M250 1065.1l-1 2.2M69.5 1174.5l-1.4 0.9M224.3 1156.2l-1.4 -0.1M196.7 1255.7l-1.3 0.6M152.9 1252.3l1.1 1.7M211.8 1238.7l-1.7 -2.3M131.4 1151l-1.9 1.5M170.3 1151.7l0.6 0.8M160 1113.2l-0.5 0.5M236.2 1155.5l0.6 0.4" stroke="#2ad048" stroke-width="1.2" opacity="0.66"/>
</g>
<path d="M224 1125l0.6 0.9M244.7 1119l-0.9 0.9M191.5 1146.2l0.6 0.9M192.5 1146.2l0 1.1M202.7 1076.3l0.9 -0.8M204.9 1077.8l0 1.1M127.3 1194.9l-0 0.7M125.8 1196.2l0.4 -1.3M126.1 1197.7l-0.2 0.6M218.5 1247.3l-0.5 0.4M220.2 1245.9l0 0.2M219.4 1246.5l1 0.6M61.5 1165.6l0.1 0.3M62.4 1163.9l-0.7 0.7M151.7 1219.9l1 0.6M154.4 1221.7l-0.1 -0.4M155.6 1223.7l-0.7 -0.4M60.5 1238.3l-0.3 0.5M57.6 1239.8l1 -1M59.6 1239.1l0.7 -0.9M233.9 1229l0.8 -0.5M234.4 1228.4l-0.4 -0.1M96.4 1095.5l0.2 -1.1M93.7 1091.6l-0.6 -1M93.4 1092.1l0.7 -0.5M237.4 1095.7l-0.2 -1.1M71.7 1247.8l0.7 0.5M73.7 1247l-1.2 1.1M72.7 1248.1l-1.3 0M135.5 1099l-0.3 -0.8M161.1 1223.8l-0.4 1.1M221.4 1061.4l0.3 0.4M220.5 1059.7l-1.1 0M221.6 1058.3l1.3 0.8M155.3 1201.7l-0.7 -0.7M157.4 1198.9l0.4 -1M132.3 1239.3l-0.4 -0.7M135.1 1237.9l0.3 1.2M133.2 1238.2l1 -0.4M243.4 1066.6l-1.3 -1.3M245.4 1067l0.4 -1.1M77.2 1051.3l0.4 0.2M75.7 1055.8l-1.2 1M76.1 1053.6l1.2 0.1M128.2 1150.9l-1.2 1M128.6 1150.1l1.3 -1.3M180.3 1128.2l-1.2 0.5M83.2 1256.2l-0.8 1.1M84 1047.8l-0.8 0.4M84.5 1049.2l0.5 0.5M169.2 1169.2l0.5 -0M166.9 1169l1.2 -1.2M210.2 1178.7l-0.7 -0.1M208.2 1174.8l-0.3 0.2M203 1195.8l-0.4 1M202.4 1194.3l0.2 -0M69 1139.7l-0.5 0.6M71 1137.4l-0.3 1.2M252 1161.3l0.9 -0.8M177.7 1106.7l0.2 0.2M134.3 1127.5l-0.4 0.9M131.9 1121.5l-1.3 -1M133.6 1119.5l1.1 0.3M135.3 1119.8l1.1 -0.6M54.9 1117.9l0.9 -1.3M55.4 1118.4l-0.7 0.9M143.3 1157.2l0.4 1.2M143.3 1159.2l-0.6 0.1M146.5 1160.9l0.2 -0.8M136.6 1237.9l-0.8 0.5M140 1238.5l-1.2 -0.7M141 1242.3l0.9 1.1M215.2 1140l-0.3 -0.9M104.9 1166.9l-0.3 0.9M108.4 1165.3l-1 -1.3M105.9 1168.2l0.9 1.1M75.4 1054.7l-0.3 1.2M73.9 1053.5l-0.5 -1.3M75.7 1054.5l0.2 -0.5M129.4 1160.6l0.1 0.2M130.6 1160l1.2 0.8M220.2 1182.5l0.4 -0.6M134.1 1204.6l-0.4 1.1M135.5 1206l0.1 1.2M133.6 1205.3l1.2 0.9M225.4 1147.6l0.1 0.6M226.1 1147.9l-0.1 -1.2M114.4 1222.9l0 -0.4M125.4 1173.1l-1.1 -0.1M152.6 1249.4l-0.9 1M235.2 1242.6l0.8 0.6M237.1 1240.2l-0.8 -0.6M237.9 1240.5l1.1 0.8M212.2 1171.2l-1 -0.2M66.2 1116.2l0.8 -0.2M113.8 1055l1.1 0.7M115.2 1055.1l0.1 -0.8M112.4 1053.7l-0 -1.1M104.2 1212.9l0.7 0.9M101.6 1214.1l0.4 -0.9M104.4 1210l-0.6 -0.3M115.2 1087.4l-0.1 -0.9M113.4 1090.3l0.1 -0.2M113.6 1088.5l0.2 -0.4M236.8 1084l-0.8 -0.2M122.9 1182.7l-1 0.2M122.6 1180.4l0.2 0.5M125.6 1182.5l0.6 0.4M133.7 1237.6l1.1 -0.5M121.2 1135.4l-1 0.3M122.1 1132.4l0.7 1.1M242 1147.7l1 -0.9M242.5 1143l0.4 0.5M95.8 1130.8l-0.1 0.4M95.6 1131.9l1 -0.8M234.6 1172.3l0.8 -0.7M236.1 1172.4l-0.7 0.1M235 1172.8l-0.9 0.3M168.9 1210.1l1.2 -0.2M168.5 1210.2l-1.1 -1.1M84.7 1077.3l1.2 -0.7M87 1137.8l0.4 0.6M85.6 1136.9l-1 1.1M86.8 1139.2l-0.4 0.8M257.2 1067.7l-0.1 0.8M254.2 1070l-0.4 0.4M256 1066.2l0.7 0.4M143.4 1126.2l-1.1 1M142.1 1126.8l-1 0.3M143.4 1127.4l0.7 0.2M234.1 1195.1l0.5 -1.1M232.9 1191.5l-0.2 -0.8M234.7 1191.9l-0.9 -0.6M231.1 1064.9l-0.9 1.2M238.9 1245.7l-0.1 1.3M248.5 1155.3l-0.1 0.5M245.7 1156.5l0 -0.1M244.5 1155.3l-1.2 0.2M48.1 1151.6l0.3 0.7M49.4 1153.5l0 0M240.2 1048.5l-0.3 -0.6M237 1049.6l1.2 1.3M241.6 1050.8l0.7 -1.3M184.5 1164.4l-0.8 -0.4M184.4 1166l0.7 0.6M242.1 1175.1l-0.7 0.1M122.7 1228.2l-0.2 -0.2M123.7 1229.8l0.8 0.6M132.7 1256.6l-0.2 0.3M130.9 1255.7l0.3 -0.1M96.7 1153.1l0.3 1M222.6 1243.2l1.1 -0.9M75.4 1244.5l0.1 -1M76.1 1242.9l0.7 -0.7M98 1147.2l0.5 0.7M96.6 1145.9l-0.3 -0.3M100 1145.5l-0.3 0.8M57.4 1080.3l1.3 -0.1M99.8 1148.2l-0 -0.4M207.4 1161.3l-0.8 -0.7M119.4 1077.1l1.1 -0.9M256 1188.6l-0.3 0.2M254.3 1187.7l-0.1 1M170.4 1149l0.8 1.3M91.3 1124.7l0.3 0.7M89.1 1121.2l-0.4 -0.1M89.4 1123.6l1.2 0.3M92.1 1047.2l-1.2 0.8M95.7 1050.4l0.2 1.2M171.6 1202.3l-0.5 -0.4M169.9 1200l-0.9 1.3M239.6 1170.1l0.1 -0.8M238.9 1172.6l-0.2 1.2M239.1 1171.5l-0.6 0.5M45.8 1116.7l-0.7 0.6M48.5 1116.9l0.9 -0.5M102.5 1059.3l0.1 0.5M99.4 1057.9l1.1 0.4M210.7 1068.1l-0.8 -0.9M207.9 1069.5l0.9 0.8M212.3 1068.4l0 1.3M105.9 1226l0.6 -0M50.8 1109.9l-0.3 1M210.5 1165.2l-1.2 -0.7M68 1236.4l-1.1 -0.1M71.2 1234.5l-0.9 -0.7M68.6 1232.4l-1.1 -0.8M157.9 1207.9l0.6 0.8M146.7 1247.1l-0.7 -0.7M145.4 1248.8l0.4 -0.8M146 1247.7l1.1 -0.3M60.9 1079.5l-0.7 -0.8M173.9 1166.1l-0.9 -0.4M250.3 1047.7l0.8 -1.3M250.7 1047.2l0.6 -0.9M122.1 1226.6l1.1 0.1M256.9 1140.6l0.5 1.3M255.6 1142.3l-0.9 0.7M255.9 1141l-0.3 0.5M195.3 1089l-0.3 0.3M199.9 1091.4l1 1M198 1089.1l-0.4 0.5M111.7 1086.4l-0.1 1M113.6 1088.1l1.1 0.7M126.5 1227.3l-0.8 0M234.9 1094.1l0.2 0.2M235.1 1093.7l-1.2 1.1M103.7 1079.5l-0.6 1.1M103.6 1081l0.9 -0.7M237.5 1084.6l1.3 -0.4M237.1 1086l-0.6 0.2M64.3 1155.2l-0.1 -0.4M168.2 1139.3l-0.7 -0.1M170.7 1138.7l-1.2 1M170.1 1135.7l0.7 -0.4M246.8 1251.5l-0.7 -0.4M248.9 1248.4l-0.7 -0.9M220.9 1122.5l-1 0.5M222.8 1124.9l0.7 0M223.3 1124.3l0.8 -1M215.3 1161.4l-0.9 -0.1M138.9 1125.3l-1.1 0.4M139 1125.7l-0.7 0.7M255.9 1242.4l0.4 0.3M254 1239.5l-1 -0.8M253.8 1240.7l0.4 1.1M86.3 1099.8l0 -0.5M212.7 1155.3l-0.1 -1.1M210 1155.5l-0.8 -0M211.6 1153.5l-1.1 0.1M110.6 1141.9l1.1 0.6M142.7 1255.4l0.3 0.6M106.8 1098l1.1 1.1M105.4 1095.3l0.1 0.3M102.9 1099.9l1 -0.4M79.3 1227.5l0.6 0.2M176.7 1245.7l-0.8 -0.5M255.7 1138.5l-0.8 -0M254.1 1140.6l1.2 0.3M206.2 1250.2l-0.4 0M204.4 1250.7l0.2 1.3M170.2 1141.6l0.9 -0M170.8 1143.5l-0.1 0.5M170.4 1145.3l1.1 -0.2M150.9 1105.6l0.7 -1.1M153.4 1106l-0.7 -1M61.2 1239.2l-0.1 -0.6M58.7 1241l0.7 -0.8M255 1232.4l-1.1 -1.2M239.7 1124l0.7 0.6M121.1 1089.5l-0 -0.6M119 1088.3l-0.1 -0.9M68.8 1094l0.5 0.3M68.6 1092.8l-0.3 0.3M69.2 1093.4l0.4 0.9M92.9 1060.1l1.3 -1.1M92.5 1057.5l0 -1.1M92.8 1061.3l-0.8 0.6M209.8 1227.5l0 1M245.9 1249.6l1 0.8M244.7 1249.2l-0.8 -1.2M89.5 1133.4l0.4 1.3M153.4 1111.8l-1 -0.7M54.9 1131.8l0.7 -0.7M53.4 1131.6l-0.6 -0.8M54.3 1129.6l0.8 -0.5M135.6 1233.3l-1 -0.8M137.2 1236.4l0.3 -1.1M156.8 1208.8l1.2 -0.3M156.4 1207.6l-0.9 -0.7M52.5 1218.2l0.2 -0.7M52.9 1220.3l-0.5 0.8M201.9 1118.1l-0.8 -0.6M203.1 1118.6l0.3 0.1M237.8 1122.8l0.2 -0.6M241 1120.9l-1 0.4M241 1122.8l-0.6 -1.3M130.3 1126.7l0.3 1.1M128.5 1126.1l-0.6 1.2M131.9 1125.3l-0.3 0.1M63 1215.9l0.3 -0.2M66.1 1217.9l1 -0.2M112.8 1105.5l1 0.5M115.4 1103.2l-1.1 1.2M241.2 1082.3l0.7 0.1M240.1 1081.5l-1.2 -0.5M161.7 1255.2l0.1 -0.4M142.3 1162.7l-1.2 -1.2M180.3 1125.7l0.8 -0.8M97.9 1185.1l-1.3 -0M98.1 1183.3l0 0.7M159.3 1228.5l0.7 0.7M83.8 1160.4l1.2 -0.9M84.7 1160l-0.7 -1M100.3 1071.8l-0.1 1.1M97 1070.4l0.8 -0M86 1213.6l-1.1 -0.6M89.3 1209.4l-0.9 0.9M162.4 1103.4l0.3 -0.3M164.5 1102.8l1.2 1.1M165.5 1102.8l0.7 -0.9M127.8 1172.5l0.1 -0.2M125.5 1171.5l-0.6 -0.2M128.9 1173.6l-0.7 0.6M246.9 1066.8l0.3 0.4M249.6 1065.2l-1.1 -0.5M250.1 1069.4l-0.2 -1.2M97.2 1238.1l-0.9 0.2M97.6 1238.2l-1.2 0.2M95.6 1236.7l-0.7 -0M63.9 1126.2l0.4 -0.1M64.5 1125.9l0.1 0.2M230.6 1253.3l-0.9 -1.1M227.9 1255.9l-1 0.6M230.2 1254.4l0.8 -0.1M83.8 1078.3l0.9 -1.2M83.5 1079.2l1.1 -0.6M142.9 1258.4l-0.8 -0.5M250.5 1164.3l0 1M132.9 1086.3l-0.1 -1.2M132.6 1083.6l0.6 -0.1M134.7 1085.8l-0.4 0.8M50.7 1225.5l0.5 1.2M52.6 1222.9l0.1 1M227.5 1158.7l-0.9 -0.1M165.3 1103.5l-0.3 1M109.4 1173.9l-0.8 -1.2M109.6 1173.1l1.1 -0.3M107.1 1175.3l1.3 -0.1M121.1 1208.6l-0.4 -0.6M121.4 1205.9l-0.2 1M253.7 1177.2l-0.1 0.3M52.1 1065.8l-0.6 1.3M224 1131.3l-0.4 1.3M225.4 1131.3l-1.3 -0.8M227 1131.1l0.2 0.9M80.6 1096.6l0.6 0.1M80 1092.7l-0.3 0.6M82.9 1096.3l-1.1 -0.3M153.1 1184l-0.9 -1.2M153.6 1182.7l0.6 -0.6M136.4 1240.5l-0.8 -0.5M140.4 1240.9l-0 0.1M231.7 1050.3l1 -0.5M70.6 1230.9l0.7 0.8M69.1 1227.4l0.4 0.3M213.9 1255.9l-0.3 -0.9M180.5 1255.3l1.1 -0.8M178.9 1256.3l-0.6 -0.9M178.9 1257.9l0.8 -1.1M117.1 1166.4l-0.3 -0.8M64 1232.9l1 0.5M103.9 1151.1l1 -1.2M226.5 1047.8l-0.9 1.1M227 1046.2l0.1 -0.4M225.5 1046.4l-0.2 -1.2M50.5 1090.8l0.2 1.3M47.6 1090l0.1 1M46.6 1091.4l0.2 0.5M75.4 1111.2l1 -0.2M63.7 1179.9l-1.3 -1.1M245.6 1252.6l1.2 0.9M247 1252.9l1.1 0.6M75.4 1246.4l-0.1 0.7M70.9 1249.9l0.2 0.6M70.9 1249.1l0.1 0.4M255.4 1097.5l-0.3 0.7M255 1099.1l-1.3 -1M195.4 1257.7l1 0.4" stroke="#d82048" stroke-width="1.5" stroke-linecap="round" opacity="0.62" fill="none" filter="url(#blR)"/>
<g fill="none" stroke="#f02850" stroke-width="1.4" opacity="0.8" stroke-dasharray="3.5 1 2.5 0.8" filter="url(#fo4)"><circle cx="220.4" cy="1146.7" r="3.3"/><circle cx="173.1" cy="1215.4" r="2.3"/><circle cx="112.8" cy="1046.7" r="2.6"/><circle cx="53.9" cy="1163.5" r="3.2"/><circle cx="104.3" cy="1068.3" r="2.2"/><circle cx="130.8" cy="1200.1" r="2.6"/><circle cx="95.4" cy="1232" r="2.5"/><circle cx="230.1" cy="1223.2" r="3"/><circle cx="52.7" cy="1241.1" r="2.2"/><circle cx="136.5" cy="1194.8" r="2.8"/><circle cx="73.7" cy="1254.8" r="2.8"/><circle cx="218.5" cy="1065.9" r="3.4"/><circle cx="74.2" cy="1216.6" r="2.2"/><circle cx="64.4" cy="1155" r="3.1"/><circle cx="113" cy="1082.2" r="3"/><circle cx="247" cy="1155.6" r="2.6"/><circle cx="188.7" cy="1105.2" r="3"/><circle cx="169.5" cy="1178.1" r="2.4"/><circle cx="235.1" cy="1134.1" r="3.1"/><circle cx="136.1" cy="1129.5" r="2.7"/><circle cx="64.7" cy="1217.7" r="3.2"/><circle cx="205.7" cy="1257.3" r="2.9"/><circle cx="124.9" cy="1129.3" r="2.3"/><circle cx="146.2" cy="1201.6" r="3.1"/><circle cx="83.6" cy="1048.4" r="2.3"/><circle cx="158.3" cy="1189.5" r="3.2"/><circle cx="205.7" cy="1143.5" r="2.9"/><circle cx="65.3" cy="1065.2" r="3.1"/><circle cx="123.2" cy="1052.1" r="2.3"/><circle cx="197.3" cy="1168" r="3.4"/><circle cx="98.5" cy="1066.4" r="2.7"/><circle cx="205.4" cy="1126.3" r="2.7"/><circle cx="75.3" cy="1231.9" r="2.8"/><circle cx="130.7" cy="1071.4" r="3.3"/><circle cx="184.8" cy="1132.9" r="3"/><circle cx="78.8" cy="1155.1" r="3.1"/><circle cx="226.3" cy="1145.6" r="2.2"/><circle cx="252.4" cy="1072.5" r="2.3"/><circle cx="109" cy="1110.6" r="3.2"/><circle cx="48.5" cy="1130.3" r="2.7"/><circle cx="223.9" cy="1222.4" r="2.7"/><circle cx="248.2" cy="1245.1" r="3.1"/><circle cx="172.3" cy="1160.8" r="2.3"/><circle cx="114.8" cy="1205.9" r="2.8"/></g>
<g filter="url(#fo4)">
<ellipse cx="119.1" cy="1151.7" rx="5.4" ry="4.7" transform="rotate(90 119.1 1151.7)" fill="#ff2868"/>
<circle cx="118.5" cy="1151.6" r="2.2" fill="#8030d0"/>
<ellipse cx="196.6" cy="1153.8" rx="5.2" ry="4.9" transform="rotate(150 196.6 1153.8)" fill="#ff2868"/>
<circle cx="196.6" cy="1154.1" r="2.2" fill="#8030d0"/>
<ellipse cx="134.8" cy="1204.5" rx="4.9" ry="4" transform="rotate(64 134.8 1204.5)" fill="#ff2868"/>
<circle cx="134" cy="1203.9" r="2" fill="#8030d0"/>
<ellipse cx="133.7" cy="1122.1" rx="4.3" ry="3.4" transform="rotate(31 133.7 1122.1)" fill="#ff2868"/>
<ellipse cx="140" cy="1130.5" rx="3.7" ry="2.9" transform="rotate(5 140 1130.5)" fill="#ff2868"/>
<ellipse cx="242.7" cy="1068.6" rx="4.7" ry="3.3" transform="rotate(26 242.7 1068.6)" fill="#ff2868"/>
<ellipse cx="236.4" cy="1172.8" rx="4.2" ry="3.4" transform="rotate(141 236.4 1172.8)" fill="#ff2868"/>
<circle cx="237" cy="1173" r="1.7" fill="#8030d0"/>
<ellipse cx="77.1" cy="1134.7" rx="3.5" ry="2.8" transform="rotate(177 77.1 1134.7)" fill="#ff2868"/>
<ellipse cx="169.4" cy="1141.1" rx="3.4" ry="3.1" transform="rotate(14 169.4 1141.1)" fill="#ff2868"/>
<ellipse cx="152.6" cy="1113.6" rx="3.5" ry="2.6" transform="rotate(41 152.6 1113.6)" fill="#ff2868"/>
<ellipse cx="173.6" cy="1155.9" rx="3.1" ry="2.7" transform="rotate(15 173.6 1155.9)" fill="#ff2868"/>
<ellipse cx="246.9" cy="1231.9" rx="3.8" ry="3.1" transform="rotate(24 246.9 1231.9)" fill="#ff2868"/>
<ellipse cx="68.8" cy="1251" rx="3.9" ry="2.7" transform="rotate(149 68.8 1251)" fill="#ff2868"/>
<ellipse cx="223.9" cy="1115.7" rx="3.1" ry="2.7" transform="rotate(25 223.9 1115.7)" fill="#ff2868"/>
<ellipse cx="226" cy="1151.7" rx="3" ry="2.5" transform="rotate(81 226 1151.7)" fill="#ff2868"/>
</g>
</g>
<clipPath id="ce5"><rect x="266.3" y="1042.9" width="211" height="210.7"/></clipPath>
<filter id="fc5" filterUnits="userSpaceOnUse" x="258.3" y="1034.9" width="227" height="226.7" color-interpolation-filters="sRGB"><feTurbulence type="fractalNoise" baseFrequency="0.13" numOctaves="2" seed="38" result="t"/><feDisplacementMap in="SourceGraphic" in2="t" scale="5" xChannelSelector="R" yChannelSelector="G" result="d"/><feTurbulence type="fractalNoise" baseFrequency="0.07" numOctaves="2" seed="26" result="t2"/><feColorMatrix in="t2" type="matrix" values="0 0 0 0 0  0 0 0 0 0  0 0 0 0 0  4.2 0 0 0 -1.3" result="a"/><feComposite in="d" in2="a" operator="in" result="c"/><feGaussianBlur in="c" stdDeviation="0.8"/></filter>
<filter id="fo5" filterUnits="userSpaceOnUse" x="258.3" y="1034.9" width="227" height="226.7" color-interpolation-filters="sRGB"><feTurbulence type="fractalNoise" baseFrequency="0.07" numOctaves="2" seed="17" result="t"/><feDisplacementMap in="SourceGraphic" in2="t" scale="6" xChannelSelector="G" yChannelSelector="B" result="d"/><feGaussianBlur in="d" stdDeviation="0.75"/></filter>
<g clip-path="url(#ce5)">
<rect x="266.3" y="1042.9" width="211" height="210.7" fill="#020212"/>
<g filter="url(#blE2)"><path d="M336.9 1077.4h0M433.4 1239.1h0M389.5 1222.3h0M301.6 1225.4h0M379.2 1142.1h0M440.4 1236.1h0M441.6 1136.1h0M303.5 1162.6h0M466.4 1230.5h0M286.7 1197.2h0M321.7 1086.8h0M363.1 1131.1h0M320.4 1134.3h0M335.5 1082.8h0M457.7 1054.2h0M453.3 1139.5h0M458.2 1188h0M396.1 1248.5h0M425.6 1158.8h0M267.6 1156.9h0M460.9 1151.2h0M476.8 1107.5h0M428.5 1173h0M320.8 1182.7h0M416.7 1125.3h0M327.4 1091.2h0M345.6 1223.4h0M422.3 1105.2h0M352.7 1190.1h0M355.8 1082.8h0M371.9 1146.4h0M291.5 1160.2h0M409.1 1239.9h0M358.4 1210.3h0M301.3 1147.7h0M319.4 1240h0M384.9 1095.5h0M269.2 1056.9h0M445.9 1124.1h0M280.5 1070.6h0M317.2 1228.7h0M442.4 1166h0M468.3 1077.6h0M327.1 1235.7h0M313.1 1149.5h0M301.9 1073.4h0M351.9 1126.3h0M350.3 1067.5h0M382.8 1128.7h0M383.8 1180.3h0M432.3 1142.3h0M448.8 1241.9h0M374.2 1216.9h0M273.1 1147.4h0M347 1075.8h0M385.5 1052.9h0M336.7 1152.4h0M380.6 1158.4h0M271.8 1168.1h0M469 1172.8h0M384.5 1078h0M318.3 1049.3h0M373.4 1094.8h0M398.3 1190.3h0M328.4 1248.8h0M326.5 1209.2h0M431.8 1247.5h0M330.9 1202.4h0M437.9 1188.9h0M296.4 1234.2h0M443.8 1085.2h0M357.1 1131.9h0M442.7 1055.2h0M276.4 1219.9h0M290.7 1146.6h0M473.5 1220.3h0M435.1 1049.7h0M475.1 1112.6h0M393.2 1148.4h0M384.7 1185.8h0M382 1248.8h0M357.3 1124.4h0M304.2 1235.2h0M456.4 1218.7h0M463.7 1169h0M407.8 1087.1h0M339.2 1222.5h0M418.6 1134.6h0M307.9 1208.2h0M342.4 1195.4h0M365.9 1068.1h0M458.2 1145.1h0M441.7 1212h0M333.6 1102h0M372.7 1155.2h0M343.6 1081.6h0M270.7 1117.5h0M329.7 1184.9h0M390.1 1080.7h0M313.5 1078.8h0M347.1 1175.3h0M308.7 1053.8h0M414 1175.7h0M417.7 1191.3h0M327.8 1127.4h0M308.8 1239.2h0M305.7 1142h0M407.2 1142.5h0M334.3 1092.6h0M440.1 1181.6h0M270.9 1233.2h0M350.3 1086.9h0M295.6 1195.3h0M414.1 1145.1h0M402.6 1130.7h0M403.7 1153.9h0M286.7 1087.4h0M345.9 1186.7h0M472.9 1177.9h0M267.3 1242h0M329.3 1148.6h0M283.5 1061.1h0M384.7 1208.8h0M361.2 1093.2h0M353.1 1207.6h0M476.1 1093.7h0M444.6 1093.5h0M387 1213.9h0M321.4 1224.8h0M305 1059.5h0M393.1 1159.6h0M339.8 1242.9h0M363.9 1162.3h0M281.4 1149.4h0M467.1 1083.9h0M417.2 1185.3h0M324 1188h0M283.7 1116.4h0M449.3 1089.4h0M470.7 1226h0M434 1150.9h0M403 1207.3h0M457.1 1102.5h0M398.7 1201.3h0M424.1 1203.5h0M314.5 1117h0M314 1168.5h0M373.4 1130.4h0M468 1213.3h0M373.1 1205.1h0M288.1 1111.9h0M332.5 1123.3h0M268.4 1248.8h0M437.8 1226.1h0M462.9 1195.5h0M318.1 1107.9h0M420 1050.1h0M313.4 1086.3h0M422.8 1179.3h0M468.3 1199h0M309.5 1232.8h0M460.3 1088.1h0M346.1 1144.4h0M392.2 1238.9h0M339.9 1136.1h0M322.4 1169.2h0M397 1124.1h0M457 1193.4h0M283.4 1205.8h0M383.4 1200.7h0M273.4 1045.3h0M356.4 1230.9h0M330.1 1231h0M469.1 1106.6h0M455 1095.5h0M418.3 1223h0M346.7 1218.1h0M324 1244.9h0M377.5 1199.7h0M363.4 1100.8h0M289.2 1060.7h0M462.1 1237.8h0M411.6 1224.3h0M443.5 1248.2h0M343.1 1154.6h0M292.6 1199.8h0M464.9 1098.4h0M458.6 1080.7h0M267.2 1079.5h0M403.3 1165.5h0M411.5 1235.1h0M385.8 1242h0M367.1 1096.7h0M391.8 1050.7h0M473.6 1250.3h0M378.7 1253h0M289 1104.4h0M266.9 1150.7h0M360.6 1064.4h0M296.4 1252.8h0M465.9 1242.6h0M289 1081.4h0M304.9 1108.7h0M437.5 1208.6h0M303.7 1097.4h0M341.8 1178.7h0M449.8 1187.6h0M433.8 1167.7h0M433.6 1108.1h0M338.3 1158.8h0M450.1 1129.6h0M354.9 1156.7h0M280.5 1078.9h0M412.4 1121.2h0M377.6 1164h0M474.6 1075h0M293.4 1046.3h0M419.2 1100.8h0M398.9 1071.3h0M296.7 1164h0M347.2 1205.9h0M458.7 1230.9h0M324.7 1198.5h0M392.9 1132.1h0M308.6 1090.8h0M362.4 1247.1h0M460.3 1213.4h0M348.2 1196h0M420.1 1241.1h0M456.9 1199h0M296.3 1095.5h0M440.2 1142.3h0M394.5 1066.5h0M456 1074.8h0M311.2 1048.5h0M341.4 1073.1h0M394.4 1077h0" stroke="#0a0a80" stroke-width="12" stroke-linecap="round" opacity="0.2" fill="none"/></g>
<g filter="url(#fc5)" fill="none" stroke-linecap="round">
<path d="M336.9 1077.4h0M306.4 1178.5h0M410.9 1161.4h0M441.6 1136.1h0M286.7 1197.2h0M334 1219.2h0M460.9 1151.2h0M321.4 1116.9h0M459.9 1207.4h0M328.2 1224.4h0M352.7 1190.1h0M339.7 1059.1h0M409.1 1239.9h0M370.1 1242.1h0M384.9 1095.5h0M282.4 1247.1h0M400.4 1065.9h0M287.4 1163.6h0M314.8 1095.9h0M289 1092.7h0M447.3 1235.6h0M331 1131.8h0M432.3 1142.3h0M399.5 1088.8h0M360 1192h0M413.8 1099.1h0M338.1 1141.4h0M380.6 1158.4h0M318.3 1049.3h0M465.5 1092.1h0M443.8 1102.8h0M326.5 1209.2h0M274.2 1080h0M296.4 1101h0M443.8 1085.2h0M276.4 1219.9h0M410.1 1209h0M403.6 1223.6h0M456.4 1218.7h0M339.2 1222.5h0M382.9 1193.8h0M350.2 1231.2h0M310.9 1072.3h0M273.6 1180.5h0M433.5 1126.6h0M467.7 1253.5h0M270.7 1117.5h0M313 1162.6h0M347.1 1175.3h0M376.6 1247.2h0M353.4 1197.5h0M323.1 1058.2h0M426.6 1227h0M270.9 1233.2h0M372.3 1123.9h0M359.9 1185.9h0M295.6 1195.3h0M434.6 1196.1h0M296.7 1156.9h0M403.7 1153.9h0M278.3 1198.9h0M467 1053.8h0M267.3 1242h0M284.8 1066.7h0M275.1 1059.1h0M361.2 1093.2h0M432.9 1102.3h0M304.7 1116.5h0M305 1059.5h0M393.1 1159.6h0M427.8 1104.8h0M359.6 1175.6h0M431.4 1186.8h0M401.7 1238.7h0M380.8 1216.7h0M476.4 1184.9h0M457.1 1102.5h0M424.1 1203.5h0M468 1213.3h0M334 1240.5h0M432.1 1180.8h0M305.3 1068.8h0M313.4 1086.3h0M274.6 1162.8h0M331 1110.5h0M468.3 1199h0M419.5 1168.6h0M346.1 1144.4h0M392.2 1238.9h0M304.7 1203.1h0M452.7 1232.6h0M370.1 1247.4h0M349.2 1246.5h0M321.2 1094.2h0M330.1 1231h0M469.1 1106.6h0M338.4 1098.8h0M372.5 1193.5h0M315.1 1124.9h0M391.7 1244.9h0M344.7 1239.7h0M439.6 1171.8h0M296.3 1217.2h0M351.4 1184.8h0M462.1 1237.8h0M411.6 1224.3h0M443.5 1248.2h0M266.4 1171.2h0M295.9 1247.5h0M464.9 1098.4h0M476.3 1082h0M403.3 1165.5h0M302.5 1084.5h0M360.6 1064.4h0M466.3 1067.1h0M465.9 1242.6h0M289 1081.4h0M393.3 1213.5h0M357.5 1088.9h0M341.8 1178.7h0M269.4 1095.5h0M449.8 1187.6h0M446.5 1178.9h0M351.2 1061.5h0M465.6 1204.7h0M338.3 1158.8h0M438.2 1243h0M354.9 1156.7h0M280.5 1078.9h0M437.5 1219.2h0M343.4 1067.3h0M330.4 1154.8h0M281.4 1159.2h0M398.9 1071.3h0M296.7 1164h0M458.7 1230.9h0M290.7 1192.6h0M289.2 1184.8h0M306.6 1223.2h0M348.2 1196h0M371.6 1066.2h0M456.9 1199h0M437.4 1131.2h0M415.8 1164h0M356.2 1068.9h0M329.6 1191.6h0M392.7 1043.2h0M341.4 1073.1h0M275.4 1172.3h0" stroke="#0808a8" stroke-width="4.6"/>
<path d="M470.5 1165.5h0M464.7 1186.6h0M366.9 1143h0M439.3 1106.6h0M340.7 1169.7h0M355.9 1250.8h0M365.9 1253.4h0M355.9 1144.1h0M365.9 1122.2h0M311 1111.9h0M458.2 1188h0M476.7 1145.2h0M437.8 1248.4h0M468.3 1237.4h0M271.7 1186.3h0M428.5 1173h0M445.3 1194.5h0M320.8 1182.7h0M313.1 1204.5h0M416.7 1125.3h0M289.3 1247.9h0M292.9 1176.7h0M339.6 1230.1h0M388.2 1234.8h0M296.1 1088.3h0M319.4 1240h0M430.6 1120.8h0M404.1 1099h0M361 1168.4h0M291.1 1239.5h0M460.2 1244.6h0M301.9 1073.4h0M284.6 1154h0M407.8 1125.8h0M294.3 1079.9h0M422.9 1143.9h0M308.8 1082.6h0M452.4 1079.9h0M374.2 1216.9h0M273.1 1147.4h0M327.2 1160.7h0M324.1 1153h0M449.4 1117.4h0M385.5 1052.9h0M390.8 1091h0M281.3 1048.7h0M301 1211h0M378.9 1121.8h0M315.8 1175h0M436.7 1201.9h0M328.4 1248.8h0M438.7 1044.6h0M431.2 1095.8h0M431.8 1247.5h0M376.9 1101.4h0M277.7 1100.3h0M352.5 1148.9h0M296.4 1234.2h0M357.1 1131.9h0M442.7 1055.2h0M443.8 1118.2h0M295.7 1060.3h0M382 1248.8h0M462.9 1157h0M296.9 1107.3h0M366.9 1209.9h0M407.8 1087.1h0M360.9 1145.9h0M335.1 1181.8h0M342.4 1195.4h0M460.1 1045.1h0M336.4 1164.6h0M281.3 1085.4h0M308.2 1166.9h0M329.7 1184.9h0M335.1 1188.4h0M313.5 1078.8h0M294.1 1224.8h0M318.8 1251.2h0M420.1 1160.3h0M355.5 1221.9h0M473 1211.5h0M417.7 1191.3h0M412.8 1047.6h0M440.1 1181.6h0M406 1135.5h0M448.1 1072h0M359.4 1152.7h0M471.3 1146.3h0M414.1 1145.1h0M314.8 1043.7h0M286.7 1087.4h0M297.2 1171.5h0M345.9 1186.7h0M395.4 1229.1h0M387 1213.9h0M408.6 1188.8h0M339.8 1242.9h0M424.6 1091.2h0M363.9 1162.3h0M467.1 1083.9h0M418.7 1202.2h0M296.9 1144.5h0M301.6 1196.8h0M352.8 1074.9h0M415.6 1229h0M327.9 1104.5h0M390.1 1070.4h0M398.7 1201.3h0M363.5 1240.8h0M326 1178.5h0M314.5 1117h0M272.9 1211.7h0M393.6 1183h0M428.3 1252.8h0M268.3 1192.3h0M324.5 1110.6h0M427.4 1167.4h0M332.5 1123.3h0M362.6 1214.8h0M269.4 1084.8h0M462.9 1195.5h0M318.1 1107.9h0M305.2 1046.2h0M422.8 1179.3h0M406.6 1232.1h0M474.6 1066.7h0M440.2 1160.9h0M460.3 1088.1h0M302.5 1168.5h0M371.2 1166.1h0M397 1124.1h0M457 1193.4h0M450 1109.9h0M376.1 1137h0M356.4 1230.9h0M398.2 1162.1h0M448.4 1163.5h0M344.8 1127.2h0M418.3 1223h0M377.5 1199.7h0M305.8 1153.7h0M453.7 1210.6h0M285.9 1252.1h0M309 1199.5h0M437 1231.3h0M397.8 1167.8h0M366.2 1194.2h0M446.3 1229.5h0M473.9 1152.5h0M267.2 1079.5h0M453.1 1203h0M411.5 1235.1h0M307.5 1245.6h0M267.5 1221.6h0M391.8 1050.7h0M292.3 1069.6h0M296.6 1118.6h0M297.9 1065.4h0M274.7 1139.9h0M399.4 1146.3h0M401.2 1231.9h0M303.7 1097.4h0M421.7 1043.1h0M432.4 1136.7h0M433.8 1167.7h0M413.8 1137.3h0M320.1 1212.4h0M412.4 1121.2h0M325.7 1216.7h0M380.6 1235.1h0M419.2 1100.8h0M403 1193.6h0M414.7 1130.9h0M300.2 1111.6h0M350 1240.9h0M333.6 1252.5h0M430.6 1131.4h0M473.2 1061h0M308.6 1090.8h0M362.4 1247.1h0M339.9 1147.1h0M460.3 1213.4h0M350.9 1253.6h0M374.2 1235.8h0M420.1 1241.1h0M376.2 1224.4h0M394.5 1066.5h0M451 1173.2h0" stroke="#0a0ccc" stroke-width="5.4"/>
<path d="M477.1 1174.5h0M433.4 1239.1h0M282.1 1176.7h0M472.4 1099.3h0M414 1253h0M440.4 1236.1h0M303.5 1162.6h0M361.2 1059.1h0M466.4 1230.5h0M363.8 1222.6h0M402.9 1184.9h0M321.7 1086.8h0M337 1235.3h0M363.1 1131.1h0M320.4 1134.3h0M275 1251.3h0M335.5 1082.8h0M477 1246h0M299.3 1052.4h0M457.7 1054.2h0M386.7 1155.3h0M435.6 1115.1h0M375 1059.4h0M396.1 1248.5h0M425.6 1158.8h0M445.1 1154.7h0M423.4 1249h0M476.8 1107.5h0M312.5 1137.5h0M388.6 1177.8h0M392.6 1059.5h0M424.8 1129h0M285.3 1098.7h0M375.2 1230.5h0M371.9 1146.4h0M412.4 1169.1h0M291.5 1160.2h0M399 1176.4h0M462 1177.6h0M358.4 1210.3h0M452.8 1150.4h0M301.3 1147.7h0M290.7 1053.5h0M381.8 1060.6h0M296.3 1205.5h0M472.3 1205.4h0M471.4 1043.2h0M448.7 1213.7h0M280.5 1070.6h0M274.3 1225.5h0M442.4 1166h0M401.2 1139.9h0M327.1 1235.7h0M266.4 1214.3h0M313.1 1149.5h0M397.8 1046.5h0M351.9 1126.3h0M350.3 1067.5h0M347 1075.8h0M378.3 1185.5h0M356.4 1164.9h0M276.7 1205.5h0M373.4 1094.8h0M354.1 1179.3h0M473.4 1053.4h0M275.3 1109.9h0M456.6 1174.4h0M330.9 1202.4h0M317.4 1101h0M338.4 1211.5h0M282.2 1226.3h0M414.2 1114.7h0M403.7 1216.4h0M290.7 1146.6h0M428.8 1199.4h0M473.5 1220.3h0M435.1 1049.7h0M375.3 1180.6h0M277.4 1239.8h0M384.7 1185.8h0M304.2 1235.2h0M444 1220.8h0M336.5 1131.4h0M463.7 1169h0M343.2 1090.8h0M461.3 1107.6h0M307.9 1208.2h0M267.5 1068.4h0M267.8 1227.4h0M458.2 1145.1h0M441.7 1212h0M405.6 1148h0M454.3 1160h0M425.7 1210.7h0M415.9 1244.5h0M327.9 1083.5h0M313.1 1250h0M409.8 1181.5h0M327.8 1127.4h0M266.5 1124.5h0M378.2 1148.2h0M269.3 1204.4h0M379.3 1085.4h0M350.3 1086.9h0M309.2 1184.9h0M369.2 1199.7h0M285.3 1189h0M472.9 1177.9h0M319.3 1147.5h0M347.7 1180.8h0M283.5 1061.1h0M384.7 1208.8h0M345.2 1135.4h0M464.5 1048.6h0M302.1 1247h0M407.9 1092.9h0M321.4 1224.8h0M419.5 1233.8h0M368.9 1179.1h0M318.7 1204.5h0M431.6 1220.8h0M301.1 1240.7h0M417.2 1185.3h0M324 1188h0M314.5 1237.2h0M470.7 1226h0M447.2 1045.7h0M373.4 1130.4h0M372.5 1087.8h0M351.7 1171.2h0M373.1 1205.1h0M378.4 1171.8h0M268.4 1248.8h0M376.6 1211.5h0M433.5 1214.9h0M345.1 1164.8h0M328.1 1137.3h0M284.5 1231.1h0M309.5 1232.8h0M376.9 1109h0M325.4 1120.6h0M339.9 1136.1h0M456.8 1113.6h0M322.4 1169.2h0M476.3 1046h0M283.4 1205.8h0M425.8 1135.3h0M364.8 1150.9h0M346.7 1218.1h0M426.7 1232.3h0M289.2 1060.7h0M426.3 1150.4h0M343.1 1154.6h0M465.4 1221h0M457.5 1251.4h0M291.2 1098.8h0M367.1 1096.7h0M383.5 1067.4h0M281.9 1105.6h0M378.7 1253h0M289 1104.4h0M266.9 1150.7h0M319.2 1140.7h0M425.5 1048h0M276.6 1117.4h0M304.9 1108.7h0M416.7 1108.9h0M426.2 1219.2h0M473.5 1087h0M384 1164.7h0M354.5 1215.2h0M445.1 1145h0M330 1057.5h0M388.1 1126.1h0M323.3 1230.3h0M347.2 1205.9h0M471.2 1243.6h0M392.9 1132.1h0M338.5 1125h0M284.6 1241.4h0M393.4 1174.7h0M296.3 1095.5h0M284.4 1043.2h0M385.4 1147.1h0M467.7 1180.2h0M379.4 1074.1h0M311.2 1048.5h0M267.8 1163h0M300.4 1153h0" stroke="#0e10ea" stroke-width="6.0"/>
<path d="M333.8 1195.4h0M389.5 1222.3h0M301.6 1225.4h0M315.9 1068.2h0M437.1 1091.8h0M453.3 1139.5h0M306.2 1217.9h0M376.1 1068.9h0M386.7 1172h0M267.6 1156.9h0M300.8 1091.5h0M308.6 1120.5h0M327.4 1091.2h0M422.3 1105.2h0M313.1 1242.9h0M355.8 1082.8h0M269.2 1056.9h0M320.1 1126.7h0M317.2 1228.7h0M369.2 1189.1h0M468.3 1077.6h0M297.9 1185.6h0M360.6 1201.2h0M382.8 1128.7h0M383.8 1180.3h0M441.2 1149.6h0M336.7 1152.4h0M271.8 1168.1h0M394.3 1098.2h0M398.3 1190.3h0M339.9 1185.6h0M437.9 1188.9h0M306.6 1252.6h0M275.6 1091.8h0M454.5 1047.3h0M372.6 1078.6h0M407.1 1052.6h0M432.7 1159h0M475.1 1112.6h0M424.5 1096.6h0M393.2 1148.4h0M467.3 1151.7h0M364.9 1076.7h0M357.3 1124.4h0M454.2 1167h0M272.4 1196.6h0M418.6 1134.6h0M365.9 1068.1h0M291.2 1219.8h0M364.1 1137.5h0M343.6 1081.6h0M390.1 1080.7h0M335 1117.5h0M308.7 1053.8h0M305.7 1142h0M447.3 1204h0M447.1 1059.7h0M402.6 1130.7h0M369.9 1224h0M283.1 1216.5h0M329.3 1148.6h0M438.8 1120.6h0M353.1 1207.6h0M388.1 1253.6h0M317.7 1158.3h0M444.6 1093.5h0M382.8 1223.1h0M448.3 1135.5h0M317.9 1054.8h0M388.2 1141.5h0M283.7 1116.4h0M376.1 1241h0M434 1150.9h0M326.7 1051.2h0M403 1207.3h0M428.1 1043h0M339 1250.5h0M314 1168.5h0M421.9 1115.7h0M283.9 1182.2h0M315.7 1184.5h0M274.7 1073.3h0M285.6 1072.9h0M452 1178.8h0M456.2 1224.6h0M383.4 1200.7h0M363.4 1100.8h0M416.6 1152h0M394.5 1220.6h0M292.6 1199.8h0M345.1 1253.1h0M385.8 1242h0M449 1054.3h0M473.6 1250.3h0M421.9 1194.9h0M397.9 1082.6h0M437.5 1208.6h0M433.6 1108.1h0M268.4 1050.5h0M450.1 1129.6h0M377.6 1164h0M474.6 1075h0M293.4 1046.3h0M383.7 1047.4h0M290.3 1118h0M425.7 1111.3h0M309.4 1127.9h0M440.2 1142.3h0M476.9 1224.8h0M456 1074.8h0M394.4 1077h0" stroke="#181aff" stroke-width="5.0"/>
<path d="M349.1 1155h0M379.2 1142.1h0M410.3 1195h0M392.9 1138.3h0M345.6 1223.4h0M403.7 1246.3h0M331.2 1175.1h0M445.9 1124.1h0M409.3 1249.6h0M448.8 1241.9h0M287.1 1171.1h0M391.1 1196.8h0M467.8 1059.3h0M451.5 1194.5h0M469 1172.8h0M384.5 1078h0M397.2 1208.9h0M348.4 1211.3h0M366.4 1236.2h0M277.6 1153.4h0M276.4 1052.5h0M396.9 1055.4h0M333.6 1102h0M372.7 1155.2h0M305.4 1102.8h0M476 1193.7h0M414 1175.7h0M308.8 1239.2h0M313.5 1215.6h0M407.2 1142.5h0M334.3 1092.6h0M311.1 1104.7h0M471.2 1190.3h0M450.4 1222.2h0M476.6 1162.8h0M361.8 1083.5h0M476.1 1093.7h0M356.2 1237.5h0M310.1 1063h0M318.9 1075.7h0M281.4 1149.4h0M449.3 1089.4h0M402.3 1078.2h0M288.1 1111.9h0M437.8 1226.1h0M278.2 1193.2h0M420 1050.1h0M402.1 1251.4h0M454.2 1240.8h0M304.4 1189.8h0M338.5 1202.8h0M273.4 1045.3h0M455 1095.5h0M272.2 1153.2h0M324 1244.9h0M289.9 1209.5h0M358.5 1138.3h0M384.1 1137.7h0M458.6 1080.7h0M332.7 1159.8h0M389.9 1207.3h0M424.4 1184.6h0M472.6 1233.2h0M406.5 1199.1h0M296.4 1252.8h0M323.4 1045h0M404.6 1176.4h0M450.3 1249h0M328.2 1098.6h0M324.7 1198.5h0M328.4 1166.3h0M312.3 1180.2h0M379.3 1206.6h0" stroke="#1014f0" stroke-width="7.0"/>
</g>
<g fill="none" stroke-linecap="round" filter="url(#fo5)">
<path d="M340.1 1099.8C342.3 1120.9 357 1125.1 365.5 1112.4" stroke="#18c048" stroke-width="1" opacity="0.7" stroke-dasharray="9 3 2 1.5"/>
<path d="M380.2 1118.8C392.9 1125.1 409.8 1118.8 414 1106.1" stroke="#18c048" stroke-width="1.4" opacity="0.8" stroke-dasharray="9 1 3 1.5"/>
<path d="M426.7 1095.6Q439.3 1085 445.6 1072.4" stroke="#18c048" stroke-width="1.5" opacity="0.6" stroke-dasharray="6 2 2 1.5"/>
<path d="M302.2 1080.8Q308.5 1095.6 316.9 1106.1" stroke="#18c048" stroke-width="0.9" opacity="0.8" stroke-dasharray="8 3 2 1.5"/>
<path d="M371.8 1232.5Q392.9 1228.3 414 1232.5" stroke="#18c048" stroke-width="1.4" opacity="0.6" stroke-dasharray="7 2 2 1.5"/>
<path d="M476.6 1162.8Q472.3 1154.7 463.8 1151.4" stroke="#1cb450" stroke-width="1.5" opacity="0.4"/>
<path d="M301 1211Q294.6 1206 293.2 1198.1" stroke="#1cb450" stroke-width="1.2" opacity="0.4"/>
<path d="M341.8 1178.7Q344.7 1168.5 345.8 1158" stroke="#1cb450" stroke-width="1.5" opacity="0.5"/>
<path d="M339.9 1136.1Q327.1 1132.9 314.1 1135" stroke="#1cb450" stroke-width="1.3" opacity="0.2"/>
<path d="M335.1 1188.4Q348.2 1189.2 358.3 1197.3" stroke="#1cb450" stroke-width="1.2" opacity="0.3"/>
<path d="M297.9 1065.4Q306.8 1059.1 314.8 1051.5" stroke="#1cb450" stroke-width="1.5" opacity="0.5"/>
<path d="M284.4 1043.2Q290.5 1042.2 292.3 1036.3" stroke="#1cb450" stroke-width="1.3" opacity="0.5"/>
<path d="M339.8 1242.9Q340.3 1247.5 339.8 1252.1" stroke="#1cb450" stroke-width="1.4" opacity="0.4"/>
<path d="M426.2 1219.2Q432.3 1224.4 439.9 1227.2" stroke="#1cb450" stroke-width="1.1" opacity="0.3"/>
<path d="M459.9 1207.4Q455.1 1210.6 449.5 1212.1" stroke="#1cb450" stroke-width="1.5" opacity="0.3"/>
<path d="M456.2 1224.6Q464.1 1218.6 473.2 1214.8" stroke="#1cb450" stroke-width="1.4" opacity="0.5"/>
<path d="M432.9 1102.3Q440.4 1096.1 449.2 1100.1" stroke="#1cb450" stroke-width="1" opacity="0.5"/>
<path d="M318.7 1204.5Q326.5 1207.3 334.8 1207.2" stroke="#1cb450" stroke-width="1" opacity="0.3"/>
<path d="M452 1178.8Q459.4 1185.8 464 1194.9" stroke="#1cb450" stroke-width="1.1" opacity="0.4"/>
<path d="M392.2 1238.9Q386.2 1242.7 389.6 1248.9" stroke="#1cb450" stroke-width="1" opacity="0.2"/>
<path d="M425.7 1210.7Q439.5 1210.3 449.1 1220.2" stroke="#1cb450" stroke-width="1.3" opacity="0.4"/>
<path d="M336.5 1131.4Q341.3 1138.6 340.7 1147.3" stroke="#1cb450" stroke-width="0.9" opacity="0.5"/>
<path d="M341.8 1178.7Q333.3 1175 329.4 1166.7" stroke="#1cb450" stroke-width="1.2" opacity="0.3"/>
<path d="M472.6 1233.2Q475.4 1228.4 477.3 1223.3" stroke="#1cb450" stroke-width="1.2" opacity="0.3"/>
<path d="M393.1 1159.6Q398 1150 407.8 1145.5" stroke="#1cb450" stroke-width="1.2" opacity="0.5"/>
<path d="M339.9 1185.6Q343.5 1192.6 349.7 1197.6" stroke="#1cb450" stroke-width="1.5" opacity="0.3"/>
<path d="M305.2 1046.2Q303.8 1058.6 294.3 1066.8" stroke="#1cb450" stroke-width="0.9" opacity="0.4"/>
<path d="M304.9 1108.7Q308.6 1115.5 314.8 1120.3" stroke="#1cb450" stroke-width="1.5" opacity="0.3"/>
<path d="M404.1 1099Q397.6 1094.5 389.8 1094.2" stroke="#1cb450" stroke-width="1" opacity="0.4"/>
<path d="M271.8 1168.1Q265.7 1164.5 258.9 1162.5" stroke="#1cb450" stroke-width="1.2" opacity="0.5"/>
<path d="M304.9 1108.7Q299.7 1105.7 294.3 1103.1" stroke="#1cb450" stroke-width="1.3" opacity="0.3"/>
<path d="M346.1 1144.4Q352.2 1154.2 362.6 1159.3" stroke="#1cb450" stroke-width="1.4" opacity="0.4"/>
<path d="M424.6 1091.2Q419.6 1090.9 415.1 1093.2" stroke="#1cb450" stroke-width="0.9" opacity="0.4"/>
<path d="M292.3 1069.6Q301 1069.2 309.3 1071.7" stroke="#1cb450" stroke-width="1" opacity="0.5"/>
<path d="M411.6 1224.3Q409.2 1213.1 404.9 1202.4" stroke="#1cb450" stroke-width="1" opacity="0.3"/>
<path d="M358.5 1138.3Q351.4 1129.1 339.8 1130.6" stroke="#1cb450" stroke-width="1.4" opacity="0.4"/>
<path d="M314.8 1043.7Q304.5 1041.9 294.1 1040.4" stroke="#1cb450" stroke-width="1.1" opacity="0.3"/>
<path d="M328.2 1098.6Q328.6 1092.5 333.4 1088.8" stroke="#1cb450" stroke-width="1.5" opacity="0.3"/>
<ellipse cx="361.2" cy="1154.6" rx="28.5" ry="10" fill="#18b040" opacity="0.33" filter="url(#blE2)"/>
<ellipse cx="308.5" cy="1160.9" rx="45.6" ry="5.7" fill="#18b040" opacity="0.33" filter="url(#blE2)"/>
<ellipse cx="414" cy="1169.3" rx="34.2" ry="11.4" fill="#18b040" opacity="0.33" filter="url(#blE2)"/>
<ellipse cx="456.2" cy="1182" rx="28.5" ry="12.8" fill="#18b040" opacity="0.33" filter="url(#blE2)"/>
<ellipse cx="382.4" cy="1194.6" rx="57" ry="11.4" fill="#18b040" opacity="0.33" filter="url(#blE2)"/>
<ellipse cx="430.9" cy="1198.8" rx="34.2" ry="8.5" fill="#18b040" opacity="0.33" filter="url(#blE2)"/>
<path d="M387.1 1155.3l-1.3 -1.5M322.1 1160.5l-0.2 -1M345.9 1155.9l0.1 -0.8M384.5 1147.9l1.1 0.7M366.3 1154.8l-0.5 0.6M329.4 1154.3l0.3 1.4M332.1 1150.9l-0.8 1.2M362.7 1153.7l-1.4 -0.3M359.6 1159.6l0.7 0.5M386.7 1164.5l-1.5 -0.1M354 1150.4l-0.1 -1M383.8 1155.5l0.1 1.1M358.8 1153.4l0.7 -0.7M368.5 1148.3l-0.4 1.4M357.6 1154l-1.6 0.3M331.5 1146.1l-0.3 -0.7M359.6 1139.8l-0.4 -1M374.7 1155.7l-0.7 -1.5M372.3 1152.7l-0.4 -1.6M350.6 1150.4l-0.5 0.7M352.1 1154.6l-1.4 -0.7M408.5 1153.4l0.5 0.4M374.8 1149.3l-1.1 1.1M387.8 1162.4l-0.2 -1M320 1163.8l0.3 0.2M351.8 1156.5l0.9 1M342.3 1146.9l0.7 1.2M355.7 1144.8l-1 -0.1M337.2 1150.6l0.7 -0.8M353.8 1158.3l1.4 -0.4M313.4 1153.7l0 -1.2M356.2 1165l-0.2 -1.6M331.8 1153.5l0.4 1M341.7 1156.8l-1.3 -1.3M349.8 1164l0.6 -1.4M382.9 1154.4l1 -0.3M379.7 1155.2l0.8 -0.2M371.8 1156.2l0.7 0.5M353.5 1152.6l-0.1 -1.4M361.7 1147.4l1.3 -0.3M376.7 1151l-0.7 -0.9M360.6 1152.7l1.6 0.1M377.9 1161.4l0 -1.5M385.8 1164.7l-0.6 -1.6M360.6 1158.5l-1.2 0.5M365.3 1163l0.6 0.1M356.4 1148.8l-0.9 -0.5M367.8 1158.7l0.2 1.4M364.5 1160.8l0.7 -0.3M370.6 1162.4l-0.1 -1.1M376.4 1147.8l0 1.1M349.2 1159l-1.5 -0M372.8 1156.9l-0.6 -0.6M355.9 1148.5l-1.2 0.8M338.4 1157.2l0.2 -0.4M372.5 1151.7l0.9 -0M351.7 1149.8l0.4 -0.9M381.5 1157.7l0.3 -1.5M370.3 1156.1l0.1 -1.2M355.9 1163.5l-0.3 1.1M384.3 1153.9l0.5 -0.4M353.3 1157.6l-0.2 1.1M399.6 1147.9l0 -0.3M375.3 1157.2l0.6 -0.2M362.5 1144.2l-1.2 1M383.7 1160.7l-0.9 0.2M367.1 1154.9l0.5 -0.7M365.8 1152.6l-1.2 -0.7M363.9 1157.6l-0.3 0.7M350.2 1158.3l-0 0.6M367.8 1160.2l-1.2 1M331.1 1150.7l-1.2 -1.3M390.7 1153.4l0.9 0.9M380.8 1153.4l-1.3 0.1M354.8 1153.4l1 -0.6M363 1149.6l1 1.1M338.5 1144.4l0.1 0.2M343.6 1147.4l1.2 -0.8M377.9 1146.5l0.9 0.5M336.9 1150.3l0.2 -0.9M305.1 1159.2l-0.3 -1.4M376.9 1156l0.6 1.4M369.4 1146l-0.6 1.1M361.3 1159.9l-0.2 -0.8M346.5 1157.1l1 -0.5M350.6 1144.6l0.8 -0.3M342.5 1159l0.2 -1.1M345.1 1151.1l-0.4 0.4M311.6 1158l1.1 -0.9M365.5 1152.7l1 -0.7M353.3 1156.1l0.3 -1.4M381.5 1159.3l0.8 -1.1M373.5 1156.3l-0.8 0.3M375.2 1158.3l0.7 -0.2M350.5 1158.3l0.8 -0.5M368.1 1158.2l1.4 -0.4M353.7 1160.4l0.4 -1.3M366.4 1151l-1.3 0.6M355.5 1172.7l1.1 -1.1M361.2 1147.2l1.5 1.2M364.9 1151l0.3 0.3M358.1 1145.8l0 1.1M360.5 1148.3l-0.3 -0.5M335.3 1156.6l-0.6 0M343.5 1154.8l0.9 -1.2M344.5 1161.2l1.6 0.3M382.8 1154.5l-1.1 1M388.5 1149.7l1.3 -1.5M364.6 1148l-0.1 0.9M353.8 1157.1l0.5 -1.4M359 1151l-1.4 1.2M338 1156.4l-0.7 1.2M361.2 1148.7l1 1.1M349.8 1157.8l0.1 0M364.4 1154.2l0.6 0.4M384 1144.3l-1.1 1.5M369.8 1162l0.6 -0.4M336.2 1155.7l-0.4 -0.1M378 1153.2l-1.1 -1.3M357.2 1152.8l-1 -0.8M371.5 1149.1l-0.1 -0.7M375.5 1149.2l1.1 0.2M355.7 1166.3l-0.4 1.4M376.9 1156.4l0.8 0.4M389.1 1159.2l-0.7 0.5M347.4 1148.8l-0.8 0.8M329 1152.6l-0.2 0.6M346.1 1148l-1.2 -1M369.2 1158.1l-0.8 0.2M366.3 1150.4l-0.2 1.3M382.1 1152.4l-0.5 0.1M356 1147.2l-0.2 0.2M306.4 1161.5l1.1 -1M304.4 1162.2l-0.9 -0M315.2 1160.3l0.1 0.1M282 1162.4l-1.2 0.1M361 1160.1l1.4 -1.3M286.7 1158.6l0.5 0.6M312.5 1157.8l1.4 -0.5M340.3 1161.5l0.9 -0.3M330.4 1158.3l-0.6 0.2M302.3 1166.8l1.2 0M288.3 1156.5l0.1 0.2M346.7 1162.8l1.3 -0.1M299.2 1165.5l-1.2 1.1M280.5 1166.7l1.2 -1.3M298 1167.6l0.6 0.2M333.7 1160.2l-0.6 0.2M304 1163.2l-1.1 -0.7M327.5 1159.5l0.4 -0.3M309.1 1166.2l-0.6 -0M345 1161.8l1.5 1.6M263.7 1166.2l-0.1 0.9M308.8 1160l1.5 -1.3M302.3 1159.7l-0.7 -0.1M350.2 1159.9l-1.4 0.3M345.9 1156l1.4 1.1M268.5 1162.5l-0.9 0.6M240.1 1158.2l-0.9 1.3M260.8 1153.5l-0.5 0.2M285.1 1157.4l0.9 0.8M297.5 1162.1l-1 0.2M323.1 1160.5l0.5 0.9M352.5 1156.8l0.8 0.5M340.6 1158.2l-0.3 -1M296.2 1159.3l-0.4 1.3M348.5 1164.6l1 -0.6M331.2 1157.8l-1.2 0.8M324 1159.6l1.3 -0M308.6 1163.7l1.3 -1.2M295.9 1162.7l1.5 -0.2M250.3 1158.6l-0.6 1.5M316.1 1161l1.1 -0.5M324.6 1156.7l0.7 1.1M325.4 1166.1l1 0.4M320.3 1160.3l0.6 1.3M315.2 1159.7l0.8 1M360.8 1162.3l1.1 1.3M279.6 1154.4l0.8 -1.3M322.8 1160.1l-0.1 0.3M276.5 1161.6l-0.8 1.4M331.4 1167.1l0.3 0.5M276.2 1160.5l0.7 -1.3M297.7 1161.9l0.7 -0.9M330.7 1161.5l0.1 -0.9M329.8 1160l0.3 -1.3M269.4 1164l0.8 1.2M328.3 1159.9l-1.6 -1.4M370.2 1159.3l-0.6 1.4M265.9 1158.4l-0.9 -0.7M343.5 1159.7l-1.1 0.3M254.9 1156.2l-1.5 0.9M333.5 1160.2l-0.4 -0.3M264.5 1173.6l-0.5 0.4M330.3 1159.3l0 0.2M329 1166.3l0.9 -0.3M355.3 1159.2l0.7 -0.8M362.1 1162.9l-0.3 -0.9M315 1159.8l0.7 -0.3M340 1161.1l-0.2 -1.3M362.8 1156.8l-0.8 -1.2M328.4 1160.4l-1.2 0.8M277.8 1155.1l-1.3 1.6M310.2 1159.3l1.4 -1M344.8 1156.8l-0.5 1.5M292 1165l-1.1 0.3M314.7 1166.3l-0.5 -0.6M338.1 1156.5l-1.5 0.4M313.9 1157.5l-1.2 0.9M303.3 1162.3l0.6 1.3M317.2 1153.4l0.3 0.8M375.2 1162.3l0.7 1M381.9 1164.6l0 -1.1M420.2 1164.2l0.9 -0.6M412.7 1181l0.6 1.1M406 1172.6l-0.7 -1.3M394.2 1170.6l0.1 -1.4M426.9 1176.7l-0.6 -0.8M394.2 1170.7l-0.7 1M386.9 1186.9l-0.4 -0.7M384.2 1160.1l-0.6 -0M404.4 1173.5l-0.9 -1.5M426.1 1175.1l0.3 -0.4M402 1168.3l0.1 -0.1M397.3 1162.8l0 -1.5M388.2 1169.3l-1 1.5M413.6 1160.3l0.9 -1.3M421.2 1184.2l0.2 -1.2M429.4 1170l-1.4 0.3M382.6 1173.3l-0.1 0.2M406.4 1163.9l-0.4 0.2M393.5 1161.5l-0.4 0.1M414.5 1157.8l-1.5 0.5M425.5 1176.5l0.1 1.5M386.2 1167.6l0.7 0.4M398.2 1163.3l1.4 1.4M420.1 1166.3l-0.3 0.1M422.2 1166.2l0.6 0.4M422.6 1175.2l0.2 -0.2M421.4 1167.3l-0.9 0.6M392.2 1160.1l1.1 -0.6M409.3 1155.5l-0.9 0.1M408.3 1169.1l-1.6 1.1M380.5 1167.4l-0.5 0M373.4 1165.7l-0.5 1.3M394.2 1182.7l0.9 -0.2M397 1167.5l1.4 1.2M433.4 1171.7l1.5 -0.3M434.7 1164.9l-0.2 -1.5M414.7 1164.9l-1.3 -0.1M426.1 1162.8l0.5 -0.4M411.6 1176.6l0.3 -0.6M408.7 1166.7l1.3 0.4M417.9 1171.4l0.8 1.4M410.2 1163.9l1.2 -1.2M430.5 1159.8l-0.6 1.6M410.4 1166.8l-0.6 -0.5M419.5 1163l1.1 -0.1M431 1171.2l-1.1 -1.5M424.9 1173.2l0.2 0.4M414.7 1167.4l-0.5 -0.7M397.8 1169.5l0.5 0.3M419.2 1167.6l-1.4 -0M435.8 1160.5l-1.6 -0.1M433.7 1185.4l1.4 -1M447.5 1159.9l-1.6 1.3M423.7 1161.9l0 1.2M407.1 1164.6l-0.6 -1.4M429.1 1157.8l-0.9 1M385.9 1171.7l-1.1 0.8M419.6 1166.9l0.8 -0.9M433.2 1171l1 1.1M408.6 1170.1l-1 0.7M435.4 1158.7l-0.1 1.2M411.4 1169.1l-1.6 1.5M391.8 1167l-0.1 -0.7M403.7 1164l-0.7 1.2M390.5 1153.3l-0.2 1.5M384.8 1170.5l0.3 0.9M432.8 1168.1l1.1 0.8M413.5 1158.6l-0.1 -0.1M373.3 1168.5l1.4 -0.6M430.7 1164.1l0.4 -0.8M409.6 1179.3l1.2 0.2M391.5 1165.9l0.2 -0.8M423.7 1173.2l-0.1 -0.4M373.6 1167l-1.5 -1.2M437.3 1168.4l1.6 -0.5M433.9 1162l1.3 1.1M366.4 1175.4l-0.6 0.2M409.5 1179l0.9 -1.1M405.5 1162.1l-0.9 1.6M435 1175l0.7 0.6M390.3 1173.6l1.1 1.3M400.1 1171.8l-1 1.3M398.3 1160.9l1 -1.2M392.4 1170l-0.1 0.2M398.6 1164.2l1.1 0.2M408.9 1172.3l1.2 -0.5M398 1166.7l0.8 1.3M441.3 1165.7l-1.6 0.7M410.6 1172.2l1.5 1.4M414.7 1170.3l0.1 -1.6M446.3 1168.2l-0.3 -0.1M429.7 1169l1.1 0.9M432 1161.8l0.6 0.7M435.9 1171.3l-0.5 -0.2M429.5 1164.4l0.8 -0.8M412.2 1164.4l1.4 0.1M394.4 1163.7l-0.4 -0.5M405.7 1172l-1.4 -1.5M404.9 1167.9l-0 1.4M431.1 1166l-0.2 1.1M425 1166l0.6 1.5M417.4 1168.4l1.4 1.5M421.3 1170.8l0.4 -0.7M430.3 1158.2l0.9 -0.2M411.9 1174.8l0.1 0.4M404.2 1170.2l-1.2 1.5M396.6 1157.6l-0.9 1.6M423.1 1161.4l0.1 0.5M414.7 1169.5l1.4 0.1M401.2 1165l-1 0.4M397.1 1185.9l-1 0.7M437.5 1174.5l0.1 0.9M405.2 1156.9l1.4 0.1M393.6 1170.7l0.3 1.5M435.9 1166l0.4 -0.4M440.9 1175.7l1 1.1M389.1 1171.8l-1.2 1.2M431.3 1150.9l-0.8 -0.1M419.3 1170.7l1.2 0.9M390.6 1168.7l0.8 -0.9M404.7 1168.8l-1.4 -0.9M413.5 1164l-1.2 -0.6M432.5 1169.8l-1.3 0.9M441.5 1158l-1.1 1.2M415.2 1160.4l0.5 0.6M408.4 1161.3l-1.6 -0.9M415 1181.8l-1.2 1M419.5 1164.8l-0.3 0.8M413.9 1172.2l1.2 -0.2M430.7 1181.5l-0.2 -0M472.8 1170.7l-1.6 -0.1M426.9 1177.9l0.7 0.3M377.4 1164.4l1.1 0.4M381.9 1170.8l-0.6 -0.6M392.4 1169.5l-0.1 -0.6M403.4 1175.9l1.3 -1.4M383.8 1164.9l1.3 0.9M455 1181.5l-1.4 -0.7M449.2 1175.1l-1.2 1.3M452.1 1174.5l-1.4 0.3M458.3 1186.9l1.4 0.4M469.4 1174l-0.1 -0.3M453.7 1174.8l0.3 1.4M439.8 1194.1l-1 0.5M408.5 1187.9l-1.4 -1M475.7 1181.2l-0.7 -1.3M475.9 1179.6l1.6 -0.6M466.2 1186.8l-0.5 -0.2M466.1 1166.9l-0.7 -0.1M487.2 1184l1.1 0.4M447.4 1185.8l0.9 1.5M451.2 1178.7l0.4 0.4M442.9 1182.3l-1.2 -0M461.3 1190.1l-1.6 1M455.5 1184l-1.3 1.5M451.6 1183.4l-0.9 -0.1M469 1185.4l-1.2 -1.4M456.2 1181.6l-0.1 1.6M475.9 1163.7l1.4 -1.5M457.4 1184l0.9 -1.3M448.7 1181.6l0.3 1.4M428.1 1186.9l-0.9 0.1M447.9 1183.8l1 1.4M445.9 1184l1.3 1.4M483 1182.6l-1.1 -0.8M431.2 1167.4l1.4 1.3M467.2 1193.4l-1.6 -0.5M439.6 1190.6l0.2 -1M431 1187.4l0.8 -0.8M465.9 1174l0.9 -1.5M457.4 1177.5l-1.2 -1.5M453.3 1180.4l-0.6 -0.7M473.6 1181.9l-1.6 0.4M472.8 1191.5l0.8 -1.1M453.2 1186.6l-1 -1M472.9 1182.8l0 0M451 1188.2l-1.3 0.1M448.4 1195.6l-0.1 0.8M454.3 1188l-0.8 -1.4M439.9 1182.4l-0.3 0.8M436.9 1186.7l1.6 -0M448.5 1191.7l-0.6 0.3M448.6 1183.7l0.8 0.1M433.7 1187.8l-0.9 -0.1M471.3 1184.3l0.4 1.5M424.7 1188.5l-0.5 1.3M449.5 1189.2l1.4 -0.3M467.8 1178.9l0.6 0.9M446.2 1187.9l-0.1 -0.1M452.6 1184.9l0.7 -0.1M451.3 1176.7l1 0.4M429.9 1177.5l-0.2 1.5M445.4 1188.1l-1.5 -0.6M449.7 1197.4l0.4 0.1M433.1 1188.8l1.4 0.3M456.4 1167.4l-0.1 1.3M485.1 1172.6l1 -0.4M435.8 1168.7l1.1 -0.5M472 1181.1l0.7 1.4M436.3 1185.6l-0.1 -0.5M473.4 1183.8l-0.4 -0.3M464.8 1185.4l0.4 -0.2M462.7 1175.4l-1.2 -1.3M464.1 1192.7l-0 1M475.5 1185l-0.3 0.4M465.2 1180.7l0.4 1.2M430.8 1185.8l-1.2 -1.1M473.3 1182.5l-0.5 -0.3M468.8 1188.2l0.6 1M463.7 1177.2l0.8 0.7M448.4 1183.4l1.6 0.6M460.6 1174.9l0.2 -0.2M452.5 1189.9l1.4 0.3M471.8 1180.1l-0.5 -1.1M450.5 1178l-1.2 -0.3M435.6 1183.5l-1 1.4M430 1188.9l-0 -0M472.9 1171.8l1.2 -0.9M466.3 1189.3l1.2 -1.2M429.9 1181.8l1.2 0.4M466.7 1176.5l0.5 1.4M504.9 1184.7l-0.9 -0.9M461.9 1184.1l-1.3 1M477.4 1185.6l0.9 -1.6M442.7 1166.2l0.3 1.2M464.2 1177.3l-0.6 -0.2M467.3 1174.2l-0.3 0.5M435.9 1190.4l1.3 -0.8M454.5 1179.6l1 0.2M477.1 1176.5l1 1.2M469.4 1185l0.5 0.8M453.3 1175.6l-1.3 -1.1M468.7 1171.1l-0.3 0.8M479.1 1174.7l0.3 -1.5M494.5 1188.1l-0.3 0.3M445.7 1178l1.2 -1.5M424.3 1176.1l-0.5 0.5M457.9 1182.4l-0.3 1.1M440.9 1189.6l1.2 1.5M444.4 1180.4l-1.5 -0.3M459.3 1170l0.7 0.7M449.8 1191.7l-0.5 0.8M448.8 1185.1l0.4 1M474.6 1181.2l-0.4 1.6M475.5 1183.3l0.4 0.4M456.9 1180.2l0.4 -1.5M478.7 1188.7l-0.3 -0.6M460.4 1182.5l0.7 -0.5M472.2 1183.7l1.1 0.6M463.4 1181.5l0.8 0.1M458.2 1174.7l1.5 -1M419.7 1189.7l-0.2 0.1M454.4 1182.6l0.2 -0.5M475.8 1179.4l1.1 -1.2M458.7 1178.8l1 0.8M414 1181.6l-1 1.4M460.6 1184.1l-0.6 -0.3M444.7 1183.3l0.8 -1.5M461.7 1173.6l-1 0.6M460.2 1189.2l0.2 1.3M444.3 1194.8l-1.4 -1.5M452.9 1183.6l0.1 0.6M457 1192l1.3 1.2M441.7 1173.1l1.3 -0.1M476.5 1190l-1.5 0.3M476.1 1176l-0.5 -1.4M463.8 1178.8l1 -0.7M456 1192.9l-1.2 -1.4M452.7 1191.2l-0.1 -1M438.2 1172.9l-1 -0.7M450.9 1191.4l0.3 0.6M446.2 1189.2l-0.5 -0.7M460.1 1180l-0.8 -0.4M482.5 1179.9l-0.2 -1.5M454.9 1182.4l0.9 0.6M443.4 1169.1l0.1 -0.5M470.6 1185l0.6 0M452.4 1175l-0.6 0.3M322.2 1193l-0.9 -0.9M373.6 1198l1.2 0.1M358.1 1189.7l-1.1 -1M403.4 1185.3l-0 0.9M283.5 1189.9l0.8 -0.6M342.4 1204.2l0.3 0.8M360.1 1190.8l1.5 -1.3M386.9 1192.1l0.8 1.4M332.2 1200.6l1 0.1M371.2 1190.6l-1.3 -0.4M380.2 1195.6l0.5 0.8M393.1 1200.1l-0.4 0.5M352.4 1200.3l0.2 1.6M390.2 1202.1l1.2 0.8M386.1 1206.1l0.1 1.3M340.1 1197.8l1.3 -1.4M375.5 1187.3l-0 0.4M335.3 1194.6l0.5 -0.1M417.6 1187.7l0.4 -1M395.3 1187.6l0.4 1.3M394.9 1198.8l1.2 -1.4M336.7 1204.4l0.2 0.7M350.8 1192.7l-0.3 0.1M454.8 1195.2l0.4 -1.1M397.1 1193.7l-1.6 0.2M409.4 1195l1.1 -1.4M341 1191.2l1.1 1.2M377.6 1187.1l1.4 0.2M389.5 1189.1l1.4 0.6M381.5 1198.4l0.5 1M349 1182.1l0.7 -0.1M372.1 1194.5l0.3 1.5M375.4 1193.9l1.1 -0.6M397.4 1190.7l-0.7 1.1M341.3 1202.1l-0 1.2M431.5 1190.9l-0.4 1.2M414.8 1196l0.2 -0.8M450.9 1202.1l0.5 0.6M356.5 1192.3l0.8 1.3M394.6 1203.6l-0.8 1.4M365.3 1192.2l1 -0.8M319.2 1192.8l0.3 -1.4M371.6 1180.3l-0.1 1M371.3 1189.9l-0.1 -0.1M347.5 1194.2l1.3 -1.5M409.3 1192.4l-1 -0.2M321.9 1190.5l0.4 -1.1M399 1202.8l-0.8 -1.2M296.5 1203.4l0.8 -0.7M325.8 1193.9l-0.5 0.8M435.5 1194.4l1.3 0.9M374.6 1191l-1.5 0.5M384.5 1189.2l0.4 -0.4M339.1 1189.3l0.5 1.1M366 1186.5l-0.9 0.7M366.8 1190.5l1.3 0M372.5 1183.3l-1.6 0.1M396.9 1204l1.2 -1.6M395.9 1187.3l-0.3 -0.1M413.1 1206.7l1.1 -0.4M389.1 1182.8l-0 0.5M426.4 1184.5l-1.2 -0.3M420.5 1191.9l0.4 0.5M346.9 1197.7l1.3 0.7M391.3 1192.3l-0.8 1.1M369.2 1186.2l-1 1M389.5 1186.1l-1.4 -0.4M412 1201.5l1.2 -0.4M394.4 1198.2l-1.1 0.4M354.7 1194.8l0.1 0.1M371 1196.3l1 1.5M418.6 1199.9l-1.3 0.7M330.4 1182l-1.1 -1M433.3 1207.3l-0.4 -1.2M395.8 1193.9l-0.1 1.1M389 1205.4l-1.4 0.6M380.5 1189.5l1.2 -0.2M356.4 1199.4l0.3 1.5M450.7 1187.5l-0.2 1.4M289 1205.8l0.8 -0.2M368 1195.5l-1.1 -0.3M376.3 1200.7l-1.3 1.2M342.3 1195.2l1.2 0.5M464.7 1198.6l-1.5 0.4M438.9 1195.9l-1.4 1.6M441.5 1198.2l-0.6 0.8M446.3 1188.8l-1.5 0.8M443.4 1195.9l-0.3 0M419.9 1193.5l-1.4 -0.8M421.4 1203.1l-1.1 -0.7M447.9 1198.3l-1.4 -0.2M455.6 1196.8l-1.2 0.2M415.4 1202.5l1.5 -1M467.2 1196.5l-0.7 1.5M400.6 1194.9l0.7 -0.8M417.8 1203.7l-0.4 1M389.3 1199.7l1 -1.4M437.4 1198.8l-0.6 -1.5M435.7 1209.9l0.2 0.2M431.8 1201.3l0.2 -0.3M430.8 1191.4l0.5 1.5M443.5 1196.9l1.1 -0.4M411.3 1203.7l-0.2 1.1M433.7 1196.1l-1 1M430.4 1190.8l0.1 -1.1M421.2 1194.4l-0.5 -0.6M444.6 1189.6l1.2 -1.5M443.1 1194.5l1.1 0.3M416.4 1185.3l1.1 0.9M441.3 1197.1l-0.4 1.2M415 1195.8l-0.9 -0.2M424.2 1199.9l-0.8 0.5M433.9 1197.6l-0.8 -0.8M415.1 1207.2l0.4 -0.7M431.4 1206.8l0.6 1.6M421.6 1189.3l1.3 1.4M411.2 1197.6l-0.7 -1.5M458 1194.3l-1.1 -0.7M452.8 1200.7l-0.8 -0.1M432.9 1192.5l-0.1 -0.3M425.5 1204.9l-0.5 -0.7M425.2 1197.3l-0.1 0.8M412.2 1192.3l-0.8 1.4M388.6 1198.6l-0.3 0.6M435.3 1199l-1.4 0.5M456.7 1202.8l1.3 0.3M404 1195.8l0 -0.9M431 1197.5l1.6 -0.4M463.4 1194.1l0.5 0.6M467.3 1194.4l0.8 -0.2M441.7 1201.4l-0.2 -0.7M413.5 1195l1.4 0.9M275.8 1206.6l-0.8 -1.3M435.1 1227.5l-0.4 -0.7M338 1167.1l-0.1 -1.8M462 1150.3l-1.7 -0.7M309.3 1092.5l2.4 -1.4M313.2 1165l0.4 -0.6M444.9 1192.1l-2 0.5M382 1179.6l1.6 -1.9M466.7 1081.7l-2 2.2M417.3 1241.7l-2 -0M272.7 1188.5l0.8 1.6M392.8 1243l-2 0.3M270.3 1199.5l1.4 -2.2M416.6 1173.6l2.4 -0.7M456.5 1145l1.9 1.2M468.5 1191.5l-0.2 1.3M303.2 1114l1.7 -0.2M460.2 1237l-0.6 0.7M294.8 1108.5l-1.2 1.7M377.7 1241.5l-1.8 -0.7M434 1139.8l0.2 -1.8M375.1 1195.2l0.3 0.5M285.1 1204.2l-1.4 -1.2M453.5 1212.2l1.4 1.8M439.8 1056.2l1.7 1.6M360.4 1209.3l0.8 -1.6M439.4 1163.6l-1.5 2M449.3 1193.1l1.6 -0.1M407 1189.8l1 1M329.9 1222.7l0.8 -1.7M451.2 1108.9l-2 -0.8M353.5 1164.2l-1.5 2.1M466.2 1240l-1.2 -0M301.3 1236.7l2.1 0.4M324.6 1090.8l0.5 -1.4M380.4 1140.5l-2.2 0.2M317.7 1134.2l-2.2 -1.4M413 1131.4l-1.1 -1.2M430.8 1095.2l0.5 0.8M443.2 1238.3l-0.4 2.2M464.1 1053.3l0 0.3M371.7 1233.3l-1 1.1M423.1 1250.1l1 0.6M459.5 1210.3l1 -1.1M334.6 1221.1l1.8 -0.8M428.5 1184.3l-1.9 0.5M401.4 1187.4l-1.4 1.9M406.9 1176.4l-1.6 0.6M477.1 1172.4l-0.8 2.2M448.1 1251.4l-1.8 -2.1M418 1107.1l1.8 -0.2M440.6 1188l0.8 -1.1M443.4 1119.6l-1.5 -1.5M420.7 1240l-1.1 -0.4M465.2 1197.1l-2.3 1.7M359.3 1130.7l0.9 1.5M298.8 1064.3l-0.5 1.5M335.8 1157.7l-0.8 0.7M473.7 1223.8l-1.6 1.8M284.5 1153.4l-2 0.4M471.9 1179l0.1 1.5M357.1 1155.7l2.1 0.3M435.6 1126.9l1 1.9M383.8 1152.7l-0.1 -0.1M286.9 1100.4l-1.6 -0.7M395 1183.3l-0.2 -0.2M323.4 1223.7l-1.3 -1.6M266.1 1077.4l-0.9 -1.2M447.1 1162.5l-2.4 1.7M347.6 1228.6l1.3 -0.6M366 1211.7l-1.6 1.2M450.8 1137.8l-1.7 -2.3M427.6 1234.3l-2 0.3M433.7 1095.1l0.9 -1.5M422.9 1132.9l-0.1 -1.6M473.5 1076.3l0.4 -0M308 1139.1l2.1 -1.6M385 1078.2l0.8 -0.1M268.5 1170.1l-1.5 1.2M390.5 1140.2l2.3 2.4M421.4 1101.8l-0.4 -0.8M439.9 1216.8l2.4 0.5M322.3 1136.3l1.8 0.7M422.9 1131.3l2.3 -1.1M320.4 1099l1 0.9M378.4 1186l1 -1.7M380.2 1249.7l-1.3 2M270.7 1163.2l1.8 -1.4M356.2 1139.2l1.1 1.4M406.7 1188.3l1.7 0.9M409 1087.8l1.6 -0.8M285.2 1171.4l-1.6 0.1M290.5 1241.2l-0.5 1M444.6 1177.8l1.6 -0.1M373.4 1205.2l-0.3 -1.9M269.2 1203.6l-0.5 2.3M472.1 1061.3l1.1 -2.3M384.7 1055.1l-1.8 0.3M321.8 1055.5l1.1 -1.4M468.5 1051.8l0.4 -2M465.1 1099l-0.8 -1.6M309.3 1199.8l2.3 -2.1M455.8 1164.9l-1.3 1.8M313.1 1114l2.3 0.2M318.6 1117.6l-1.9 0.5M391.9 1129.4l-2.2 1.3M313.7 1242.1l-1.7 1.5M399.2 1204l-0.1 1.9M442.4 1085.6l-1.8 -1.3M459.1 1199.4l0.7 -2.4M360 1168l1.8 2M404.4 1205.6l-0.6 1.2M367 1140.7l-2.3 1M279.8 1146.7l0.5 1.6M437.1 1122.2l0.1 -0.6M468.8 1077.7l-0.8 -2.2M454.2 1194.8l-2.1 0.2M365.4 1095.4l0.8 0.5M453.8 1181.1l-0.2 0.4M275.9 1059.8l-2 1.5M465.1 1219.4l0.2 -0M427.8 1113.6l-2 1" stroke="#2ad048" stroke-width="1.2" opacity="0.66"/>
<path d="M383.4 1147.5l-0.7 -0.4M341.6 1149.7l0.7 0.1M373.9 1154.8l0.9 1.1M348.4 1157.6l-1.1 1.1M345.7 1153.8l1 0.1M382.6 1160.6l-0.1 1.3M356.7 1155.1l1.4 1M376.7 1146l-1.1 0.8M380.7 1146.9l1.3 0.3M377.6 1156.2l0.9 -1.3M385.9 1153.4l-1.2 -0.3M358 1155l0.4 -1.6M359.5 1139.2l0.5 -0.1M358.2 1150l-1.2 -1.4M356.6 1160.4l1.1 0.8M379.2 1159.5l0.8 -0.4M377.6 1159.3l1.1 -0.6M354.2 1159.7l-0.5 -0.5M348.6 1148.3l1.3 0.4M373.4 1156.1l-0.7 0.8M363.5 1155.3l-0.1 -1.1M358.9 1163l-0.3 1.3M360.9 1156.2l-1.2 1.2M374.7 1148.2l-1 1.1M366 1160.2l1.5 0.1M368.5 1145.4l1.6 1.1M369.5 1157.1l1.1 0.2M359 1154.4l0.2 1.2M350.9 1152.8l1.1 1.3M301.4 1156.6l-0.2 0.3M296 1158.1l-1.4 0.7M326.9 1167.9l-1.1 1.3M286.5 1153.9l0.2 1.5M337.1 1164.5l-1 -1.4M363.6 1157.8l-0.2 0.4M314.4 1159.7l0.2 1M294 1162.6l-0.1 0.4M313.6 1157.6l-0.7 -0.2M313.5 1159.8l1.5 -1.5M323.6 1162.9l1 0.8M327.1 1158.3l-0.5 -1.5M318.5 1161.2l1.3 -1.5M336.4 1164.6l0.4 -0.5M301.1 1162.9l0.4 1.4M296.9 1159.1l-1.3 1.3M324.5 1163l1.5 -0.7M308.9 1161.3l1.4 -0.2M328.7 1161.3l-1.5 -0.4M416.5 1178.5l1.3 -0.3M435.2 1173.1l-1.2 0.7M429 1171.2l-0.1 -0.9M402.3 1168.7l-0 0.7M410.7 1165.8l0 0.9M377.4 1168.8l-0.2 -1.1M415.7 1164.7l-0.2 1.2M407.3 1166l0.2 0.8M412.8 1168l-1.5 -0.7M433.3 1163.9l-0.5 -1.3M424.8 1152.4l0.5 1.1M436.3 1152.3l-1.3 0.3M390.1 1164.6l-0.2 -0.5M399.5 1170l-0.6 1.2M456.3 1161.4l0.2 -1.2M401.7 1172.3l-0.5 -0.6M441.3 1162.1l-0.1 -0.6M432.5 1170.4l1.4 1.5M401.9 1172.9l-1.5 -0.4M438.9 1155.8l1.4 -0.8M436.7 1163.3l1.4 -0M404.1 1170.5l-1 1.1M381 1177.5l-1.6 0.6M458.7 1173.6l-1.3 -1.5M438.9 1176.6l1.3 -0.2M441.7 1192.3l0.6 -0.1M492.3 1179.7l1.3 -1.1M437.5 1177.6l1.5 1M503.4 1181.3l-1.5 -0.7M475.3 1172.6l0.5 -1.4M469.4 1177.2l1.5 1.2M469.8 1193.3l-1.2 0M457.4 1181.9l0.2 -0.5M451.8 1179.6l0.3 1.1M450.9 1174l-0.2 0.2M461.8 1179.5l0.9 -1.2M460.5 1181.6l1.1 0.8M481.2 1189.5l-0.5 -0.9M415.6 1182.5l-1.4 0.4M465 1180.2l1.1 -0.5M463.1 1178.8l1.2 0.9M457.5 1190.2l-0.6 -0.5M453.2 1192.3l1 -0.7M335.8 1192.6l1.3 1.1M335.9 1189.9l0.6 0.7M377.3 1202.2l-1.1 0.9M360.7 1185.2l-0 0.2M374.7 1191.5l-0.9 0.2M357.9 1191.3l1.3 -1.4M397.4 1200.4l0.6 0.9M395 1196.7l-1.1 -1.5M444.9 1198.6l1.5 -1.2M392.1 1206.2l0.8 0.4M413.8 1201.9l-0.2 0.9M405.7 1193.7l-1.3 1.4M396.1 1210.9l-1.3 -0.3M358.7 1202.6l0.7 -1.5M354 1190.1l0.8 -1.3M320.6 1194.6l0.6 -1.4M419 1197.8l0.6 0.8M419 1201l-0.4 -0.2M420.4 1190.1l0.9 0.1M441.8 1198.9l-1.4 -1.5M455.1 1197.9l0.3 -1M444.5 1192.6l0.7 1.5M462.1 1192.9l-0.8 1M440.7 1198.8l0.5 1.5M420 1195.9l-1 -1.2M424.4 1196.5l-0.3 1.2M421.9 1203.6l-1.2 -1.4M454.4 1196l0.8 -0.1M432.3 1208l1 0.6" stroke="#30b8d8" stroke-width="1.3" opacity="0.85"/>
</g>
<path d="M385 1183.9l1.3 -0.1M425.2 1211.8l0.1 -1M424.6 1208.7l-1.2 0M423.3 1211.2l-0.6 -0.5M456.4 1230.8l0.7 0.6M458.1 1232.6l-1.2 1.3M458.5 1229.3l-1 -0.6M315.5 1158.2l0.6 0.7M439.5 1226.6l-1 -0.4M439.9 1226.6l0.1 -0M438.6 1226.2l-0.3 1.3M295.9 1158.6l-0.5 1.2M351.3 1072.9l-0.9 0.5M283.9 1115.7l0.1 1.2M282.9 1117.9l0.2 -0.1M282.4 1114.4l0.4 -0.5M375.5 1215.8l0.3 -0.4M374.5 1214.5l-0.6 1.2M372.6 1218.4l0.5 -0.5M308.2 1119.3l-0.9 1.1M308.5 1122.7l1.1 -0.3M326 1083.6l0.8 0.5M326.8 1081l-0.1 1.2M326.7 1083.3l-1.3 1M444.4 1119.7l-0.1 0.4M441.7 1116.1l-0.7 0.7M397 1123.6l-0.5 -0.6M396.3 1124.5l-0.3 0.9M292.6 1044.3l-0.5 0.5M294.1 1045.4l0.7 -0.2M291.7 1046l1.3 -0.7M365.4 1196.4l0.5 0.4M366.1 1193.3l0.2 0M431.2 1129.7l-0.2 -0.1M344 1136.2l-0.1 0.8M274.2 1166.5l-0.2 -1.2M270.7 1170.4l-0.1 0M270.4 1169.9l1.2 0.3M276.3 1100.9l-0.6 -0.1M278.3 1100.3l0.5 -1M324.5 1198.2l-0.6 0.8M326.8 1199.4l-0.9 -0.3M324.2 1197.9l1.1 -0.4M352.1 1208.6l1 -1.2M354.5 1205.3l1.3 -0.4M351.6 1207.1l0.8 -0.2M412.9 1147.6l-0.9 -0.6M416.2 1146.5l-1 0.8M295.8 1095.4l-0.7 0.4M320.8 1085.6l1.1 -0.2M319.7 1086.5l-0.6 1.1M319.2 1088.2l-0.8 -0.6M449.7 1165.8l-0.7 0.3M448.6 1165.1l-1.3 -0.1M447.8 1165.1l-1 1.3M375.5 1100.7l-0.2 0.3M374.7 1102.4l-1 1M375.2 1103.3l-1.2 0.2M347.4 1218.9l0.3 -0.5M348 1220.2l-1.1 -1.3M429.2 1175.4l0.3 0.4M427.3 1173.9l1.2 0.7M284.7 1242.1l1.2 -1M284.8 1240.7l1.2 -1.2M402.6 1194.1l0.1 0.5M405.1 1192.9l-0.1 0.1M440.8 1105l0.5 -1.3M437 1106.9l-1.1 0.4M346.6 1194.8l0.8 0M406.9 1251.6l0.8 -0.6M408.3 1250.4l-0.6 -0.6M409.8 1251l0.1 0.6M437.3 1115l1.3 -0.9M435.3 1117.1l-0.9 1M425.7 1046.4l-0.1 -0.8M302.9 1227.5l1 -0.8M303 1226.2l1.2 -0M301.9 1223.2l-0.9 1.1M387.7 1070.1l-0.6 -0.3M433.4 1197.5l-0.9 -0.6M344.5 1253l1.1 -1.2M345.3 1255.1l-0.6 0.1M307 1103l-1 -0.7M394.7 1219.5l0.1 -1.3M311.6 1205.3l0.6 -0M315.3 1202.2l-1 -0.7M310.6 1206.3l0.4 -0.4M392 1068.1l-1.1 0.7M388.6 1072.3l0.7 -0.3M391.4 1069.1l0.3 0.4M332.7 1108.4l-0.1 0.7M268.2 1243.2l0.6 -0.6M267.8 1241.7l-0.5 -0.2M267.5 1243.6l-0.2 -1.3M352.8 1181.4l-0.7 1.3M354.5 1181.7l0.4 1.1M308.3 1201.1l1.1 0.3M310 1198l0 0.9M311.3 1200l0.1 1.3M470 1207.6l-1.1 -0.9M292.3 1199.1l0.5 0.6M294.2 1198.6l-0.6 -0.3M407.2 1191.3l-1.2 1.1M434.5 1168.9l0.2 -0.8M435.5 1166.6l-0.4 -0.8M431.7 1169.2l1 -1.2M371.4 1129.9l-0.7 0.9M373.6 1130.2l1.1 -0.8M372.5 1132.6l1.2 -0.4M383.8 1242.6l-1.2 0.7M383.7 1239.6l-0.6 0.9M371.8 1157.2l0.7 0.7M409.2 1190.5l0.8 -0.2M408.5 1187.9l-1 0.3M419.6 1098.5l1.1 0.5M302.9 1194.7l0.4 -0.1M310.9 1251.8l-0.8 -0.4M273.8 1078.9l1 1.3M274.4 1081.4l-0.3 -0.4M382.4 1135.2l0.2 -0.4M383.7 1136.8l-0.8 1.2M298.1 1151.9l-0.1 -1.3M299.2 1150.5l-1 -0M302.7 1150.7l-1 1.3M339.7 1145.5l-0 -0M339.8 1145.7l-0.6 0.9M337.7 1145.2l0.3 -0.5M298.1 1154.6l-0.8 0.1M299.7 1151.4l0 0.1M299.4 1154.7l-1.2 -0M395.4 1048.5l-0.7 -0.9M399.6 1046l0.4 -1.2M353.8 1158.9l-0.3 -0.5M291 1249.4l0.3 -1.3M290.4 1247.8l-1.3 -0.1M288.5 1246.1l-0 -1.1M408.4 1194.9l1.1 -0.1M411.9 1195l1.2 1.1M410.8 1193.7l0.4 0.3M428.4 1255.1l0.1 0.3M429.8 1252.1l-0.7 0.5M428 1252.4l-0.8 -0.1M381.6 1233.6l1.3 0.7M380 1232.8l-1 0M375.1 1215.4l1.3 -0.7M374.8 1214.9l0.1 -0.3M372.1 1217l0.6 -1M351.6 1168.8l-0.5 -1.1M350.8 1173.2l-1 0.4M470.2 1213.8l0.9 -0.4M465.5 1215l-1.1 1.2M467.5 1211.3l0.8 1M337.4 1230.1l-0.4 -0.9M341.5 1230.3l-1 -0.3M337.7 1227.9l1.1 1.2M296 1173.5l-0.4 0M297.1 1169.3l-1.2 -0.5M276.5 1052.5l-0.9 -1.2M276.4 1050.4l-0.1 0.5M274.8 1050.7l-1.1 0.4M346.8 1219.6l0.9 -0.6M347.5 1218.3l1.2 0M347.1 1219.6l-0.5 -0.3M289.3 1161.3l0.8 -1.2M293.7 1159.9l0.3 0.1M275.9 1081.1l0.6 1.2M271.8 1078.4l0.7 -0.3M274.8 1079.8l1.3 -0.5M447.4 1161.5l1 0.1M369.2 1095.4l-1 -1.2M365 1094.6l-1.2 0M368.4 1097l-1.2 0.5M385.8 1182.6l-0.3 -1.3M282.5 1117.9l0.2 -1.1M283.8 1117.8l0.9 1.2M282.8 1114.1l-0.5 0.6M433 1129.6l0.8 -0.3M305.6 1045.9l1 -0.3M407.5 1250.5l0.4 -1.2M333.9 1092.3l-0.2 1M336.3 1092.3l1.1 0.4M331.9 1090.2l-0.3 -1.1M318 1132.5l1.2 -0.3M420.6 1167.2l0.5 0.5M417.8 1168.8l-0.6 -0.1M421.6 1166.1l0.2 0.6M280.1 1175.4l-0.9 -0.8M282.3 1174.2l0.7 -0.2M281.3 1175.7l-0.8 -0.9M337.6 1125l0.5 0.8M337.2 1124.7l-1.1 0.8M336.1 1126.5l-1.2 -1.2" stroke="#d82048" stroke-width="1.5" stroke-linecap="round" opacity="0.62" fill="none" filter="url(#blR)"/>
<g fill="none" stroke="#f02850" stroke-width="1.4" opacity="0.8" stroke-dasharray="3.5 1 2.5 0.8" filter="url(#fo5)"><circle cx="476.4" cy="1184.9" r="3.2"/><circle cx="464.7" cy="1186.6" r="3.1"/><circle cx="412.4" cy="1121.2" r="2.7"/><circle cx="372.5" cy="1193.5" r="3.3"/><circle cx="313" cy="1162.6" r="2.5"/><circle cx="384.7" cy="1208.8" r="3"/><circle cx="319.2" cy="1140.7" r="2.8"/><circle cx="347.1" cy="1175.3" r="3"/><circle cx="385.5" cy="1052.9" r="2.5"/><circle cx="313.5" cy="1215.6" r="2.2"/><circle cx="360.6" cy="1064.4" r="2.5"/><circle cx="305.7" cy="1142" r="2.3"/><circle cx="407.8" cy="1125.8" r="2.6"/><circle cx="371.9" cy="1146.4" r="2.7"/><circle cx="331.2" cy="1175.1" r="2.3"/><circle cx="309" cy="1199.5" r="2.2"/><circle cx="296.7" cy="1164" r="2.5"/><circle cx="318.3" cy="1049.3" r="2.8"/><circle cx="322.4" cy="1169.2" r="2.3"/><circle cx="328.4" cy="1166.3" r="3.3"/><circle cx="389.9" cy="1207.3" r="2.3"/><circle cx="402.6" cy="1130.7" r="2.7"/><circle cx="427.8" cy="1104.8" r="3"/><circle cx="374.2" cy="1235.8" r="2.9"/><circle cx="469" cy="1172.8" r="3.1"/><circle cx="393.3" cy="1213.5" r="2.4"/><circle cx="363.1" cy="1131.1" r="3.3"/><circle cx="283.5" cy="1061.1" r="2.8"/></g>
<g filter="url(#fo5)">
<ellipse cx="401.3" cy="1049.2" rx="5.4" ry="4" transform="rotate(97 401.3 1049.2)" fill="#ff2868"/>
<ellipse cx="390.8" cy="1076" rx="5.6" ry="4.3" transform="rotate(40 390.8 1076)" fill="#ff2868"/>
<circle cx="391.1" cy="1076.6" r="2" fill="#8030d0"/>
<ellipse cx="305.3" cy="1074.5" rx="5.1" ry="4.1" transform="rotate(176 305.3 1074.5)" fill="#ff2868"/>
<ellipse cx="285.3" cy="1082.9" rx="4.5" ry="3.6" transform="rotate(84 285.3 1082.9)" fill="#ff2868"/>
<circle cx="285.4" cy="1083.5" r="1.8" fill="#8030d0"/>
<ellipse cx="285.3" cy="1058.7" rx="4.6" ry="3.3" transform="rotate(110 285.3 1058.7)" fill="#ff2868"/>
<circle cx="284.9" cy="1059.2" r="1.7" fill="#8030d0"/>
<ellipse cx="271.6" cy="1055.5" rx="3.6" ry="2.7" transform="rotate(60 271.6 1055.5)" fill="#ff2868"/>
<ellipse cx="269.5" cy="1089.3" rx="4.4" ry="3" transform="rotate(71 269.5 1089.3)" fill="#ff2868"/>
<ellipse cx="323.3" cy="1147.2" rx="5.6" ry="4.4" transform="rotate(108 323.3 1147.2)" fill="#ff2868"/>
<circle cx="323.2" cy="1146.7" r="2.1" fill="#8030d0"/>
<ellipse cx="335.3" cy="1148.2" rx="5.1" ry="3.9" transform="rotate(93 335.3 1148.2)" fill="#ff2868"/>
<ellipse cx="325.4" cy="1135.6" rx="4.1" ry="3.6" transform="rotate(90 325.4 1135.6)" fill="#ff2868"/>
<ellipse cx="407.2" cy="1152.5" rx="4.6" ry="3.4" transform="rotate(64 407.2 1152.5)" fill="#ff2868"/>
<ellipse cx="464.6" cy="1150.4" rx="5.3" ry="4" transform="rotate(128 464.6 1150.4)" fill="#ff2868"/>
<circle cx="464.1" cy="1151" r="1.9" fill="#8030d0"/>
<ellipse cx="449.4" cy="1170.8" rx="6.2" ry="5.1" transform="rotate(147 449.4 1170.8)" fill="#ff2868"/>
<ellipse cx="456.2" cy="1174.6" rx="5.2" ry="3.6" transform="rotate(8 456.2 1174.6)" fill="#ff2868"/>
<circle cx="456.7" cy="1174.8" r="2" fill="#8030d0"/>
<ellipse cx="402.2" cy="1177.7" rx="4.2" ry="3.3" transform="rotate(131 402.2 1177.7)" fill="#ff2868"/>
<circle cx="402.2" cy="1177.7" r="1.8" fill="#8030d0"/>
<ellipse cx="362.9" cy="1208.9" rx="4.5" ry="3.4" transform="rotate(73 362.9 1208.9)" fill="#ff2868"/>
<circle cx="363.5" cy="1209.1" r="1.9" fill="#8030d0"/>
<ellipse cx="384.5" cy="1205.1" rx="4.1" ry="3.4" transform="rotate(23 384.5 1205.1)" fill="#ff2868"/>
<circle cx="384.7" cy="1204.9" r="1.8" fill="#8030d0"/>
<ellipse cx="287.4" cy="1225.4" rx="4.9" ry="3.4" transform="rotate(96 287.4 1225.4)" fill="#ff2868"/>
<ellipse cx="274.7" cy="1189.3" rx="4.2" ry="3.7" transform="rotate(1 274.7 1189.3)" fill="#ff2868"/>
<circle cx="274.8" cy="1188.6" r="1.7" fill="#8030d0"/>
<ellipse cx="441.4" cy="1231.5" rx="3.8" ry="2.7" transform="rotate(114 441.4 1231.5)" fill="#ff2868"/>
<ellipse cx="430.9" cy="1249.4" rx="3.6" ry="3.3" transform="rotate(169 430.9 1249.4)" fill="#ff2868"/>
<ellipse cx="439.3" cy="1250.4" rx="3.5" ry="3.1" transform="rotate(121 439.3 1250.4)" fill="#ff2868"/>
<ellipse cx="371.8" cy="1092.4" rx="3.6" ry="2.8" transform="rotate(41 371.8 1092.4)" fill="#ff2868"/>
<ellipse cx="391.8" cy="1131.4" rx="3.4" ry="2.7" transform="rotate(140 391.8 1131.4)" fill="#ff2868"/>
<ellipse cx="475.2" cy="1078.7" rx="3.5" ry="2.8" transform="rotate(116 475.2 1078.7)" fill="#ff2868"/>
<ellipse cx="471" cy="1156.7" rx="3" ry="2.6" transform="rotate(76 471 1156.7)" fill="#ff2868"/>
<ellipse cx="304.3" cy="1200.9" rx="3.5" ry="2.6" transform="rotate(7 304.3 1200.9)" fill="#ff2868"/>
<ellipse cx="420.3" cy="1194.6" rx="3.1" ry="2.8" transform="rotate(1 420.3 1194.6)" fill="#ff2868"/>
<ellipse cx="310.6" cy="1064" rx="3" ry="2.8" transform="rotate(165 310.6 1064)" fill="#ff2868"/>
<ellipse cx="365.5" cy="1160.9" rx="3.3" ry="2.5" transform="rotate(23 365.5 1160.9)" fill="#ff2868"/>
</g>
</g>
<clipPath id="ce6"><rect x="486.4" y="1042.9" width="211.2" height="210.7"/></clipPath>
<filter id="fc6" filterUnits="userSpaceOnUse" x="478.4" y="1034.9" width="227.2" height="226.7" color-interpolation-filters="sRGB"><feTurbulence type="fractalNoise" baseFrequency="0.13" numOctaves="2" seed="45" result="t"/><feDisplacementMap in="SourceGraphic" in2="t" scale="5" xChannelSelector="R" yChannelSelector="G" result="d"/><feTurbulence type="fractalNoise" baseFrequency="0.07" numOctaves="2" seed="31" result="t2"/><feColorMatrix in="t2" type="matrix" values="0 0 0 0 0  0 0 0 0 0  0 0 0 0 0  4.2 0 0 0 -1.2" result="a"/><feComposite in="d" in2="a" operator="in" result="c"/><feGaussianBlur in="c" stdDeviation="0.8"/></filter>
<filter id="fo6" filterUnits="userSpaceOnUse" x="478.4" y="1034.9" width="227.2" height="226.7" color-interpolation-filters="sRGB"><feTurbulence type="fractalNoise" baseFrequency="0.07" numOctaves="2" seed="20" result="t"/><feDisplacementMap in="SourceGraphic" in2="t" scale="6" xChannelSelector="G" yChannelSelector="B" result="d"/><feGaussianBlur in="d" stdDeviation="0.75"/></filter>
<g clip-path="url(#ce6)">
<rect x="486.4" y="1042.9" width="211.2" height="210.7" fill="#020212"/>
<g filter="url(#blE2)"><path d="M636.5 1232.8h0M691.5 1119.6h0M507.6 1081.2h0M554.3 1230.8h0M687.8 1158.7h0M611.7 1197h0M602.5 1216.4h0M551.3 1224.9h0M614.1 1043.9h0M647.7 1050.1h0M528.6 1183.3h0M674.8 1143.3h0M504.3 1175.7h0M530 1088.3h0M559.1 1077.6h0M524.1 1214.8h0M559.2 1124.7h0M674 1197.8h0M683.1 1150.8h0M604.8 1152.3h0M500.6 1090.6h0M603.2 1094.8h0M549.8 1091.8h0M659.8 1190.1h0M595.5 1076.4h0M508.2 1170.7h0M603.7 1130.9h0M493.6 1158.1h0M489.5 1145.4h0M514.9 1113.4h0M504.8 1248.5h0M696.9 1167.7h0M494.3 1057.3h0M609.8 1149.4h0M527.3 1116.1h0M681.7 1252h0M625.7 1178.1h0M680.6 1137.5h0M494.5 1209.6h0M519.2 1236.4h0M550.7 1205.2h0M617.4 1119.4h0M696.2 1186.1h0M612.5 1074h0M638.5 1064.1h0M509.8 1176.2h0M598.8 1135.3h0M648.6 1219h0M533.6 1052.5h0M665.9 1119.1h0M555.5 1050.4h0M674.3 1115.3h0M564.1 1047.3h0M636.7 1090.3h0M614.9 1250.1h0M652.6 1245h0M629.5 1191h0M624.3 1101.4h0M661.8 1071.9h0M648 1232.4h0M543.3 1246.4h0M652.8 1190.9h0M621 1106.2h0M685.2 1245.2h0M601 1238.9h0M686.6 1091.1h0M492.4 1062.7h0M637.4 1217.4h0M490 1121.3h0M660.2 1168.8h0M498.8 1173.6h0M630.9 1144h0M648 1196.7h0M492.7 1250.4h0M688.1 1075.3h0M526.2 1065.6h0M689.7 1052h0M643.2 1241.8h0M686.8 1056.7h0M541.3 1207.2h0M504.8 1242h0M696.6 1055.5h0M529.1 1249.1h0M596.3 1235.8h0M573.2 1221.4h0M641.5 1046.4h0M519.9 1053.1h0M675.8 1048.5h0M579.6 1068.4h0M625.8 1148.4h0M526.5 1145.9h0M602.7 1073.5h0M638.3 1134.1h0M649.2 1202.8h0M490.4 1228.7h0M685.1 1102.1h0M600.5 1194.8h0M598 1174.2h0M503.2 1150.7h0M501.9 1252.9h0M631.2 1205.4h0M612.3 1049.1h0M578 1103.1h0M673.6 1092h0M562.9 1053.7h0M654.8 1096.9h0M553.5 1056.9h0M523.6 1163.3h0M593.6 1198.6h0M504 1160.7h0M556 1043.4h0M694.2 1161.1h0M541.9 1083.2h0M674.6 1076.4h0M512.2 1161.5h0M601.3 1181.4h0M507.6 1121.4h0M606.7 1246.2h0M526.2 1073.6h0M515.2 1214.4h0M602.9 1123.5h0M693 1124.7h0M561.1 1220.8h0M607.7 1209.6h0M509.1 1224.2h0M553.9 1067.1h0M658.1 1118.9h0M538.9 1098.6h0M651.3 1147.5h0M618.1 1069.5h0M586.2 1199.5h0M592.2 1253.5h0M510.5 1248.4h0M511.3 1043h0M631.9 1122.5h0M621.9 1193.9h0M547.5 1085.8h0M505.7 1057h0M639.2 1180.8h0M544.2 1230.8h0M614.2 1138.7h0M570.9 1087.4h0M676.2 1184.3h0M656.5 1046.4h0M604 1078.7h0M625.5 1160.7h0M643.8 1236.1h0M676.4 1132.6h0M503.9 1227.3h0M624.4 1067.8h0M629.5 1243.2h0M526.4 1106.3h0M580.9 1226.9h0M507.6 1086.7h0M644.5 1062.9h0M513.5 1059.3h0M681.6 1225.2h0M673 1122h0M488.3 1068.1h0M533.2 1063.6h0M625.5 1047.1h0M493.4 1184.3h0M503 1117.3h0M539 1216.9h0M492.1 1202h0M600.6 1085.5h0M560.3 1241.7h0M693.7 1247.7h0M496 1215.2h0M657.1 1113.3h0M697 1202.2h0M642.5 1099.5h0M665.9 1151h0M512.1 1049.8h0M644.6 1120.2h0M489.6 1115.7h0M510.3 1138.9h0M545.5 1101.5h0M523.5 1225.1h0M516.5 1104.5h0M549 1115.7h0M679.4 1199.6h0M614.2 1081.3h0M654.3 1252.9h0M670.4 1098.2h0M577.4 1091.6h0M533.3 1229.6h0M663.9 1250.9h0M684.7 1210.5h0M655.2 1174.4h0M691.1 1187.5h0M614.6 1097.4h0M658.2 1144.4h0M557.6 1131.8h0M549.6 1053.2h0M577.6 1061.6h0M497.4 1098.1h0M627.7 1073.4h0M610.9 1204.9h0M553.6 1213.6h0M556.2 1250.7h0M571.7 1071.2h0M620.1 1174.9h0M486.8 1157.4h0M643.8 1192.9h0M646.1 1208.2h0M686.9 1096.8h0M575.7 1234.4h0M612.6 1163.4h0M610.3 1124.3h0M635.1 1058.7h0M490.9 1189.5h0M682.2 1051.5h0M525.8 1177.3h0M583.2 1141.8h0M654.6 1196h0M525.1 1197.1h0M498 1230.8h0M502.2 1073.3h0M504.1 1051h0M546.6 1058.4h0M695.1 1083.6h0M502.6 1166.7h0M518.6 1180.9h0M574.3 1253.2h0M487.2 1199.7h0M640.8 1198.3h0M538.8 1065.3h0M689.7 1163.9h0M687.4 1182.7h0M602.4 1233.6h0M686.6 1222.8h0M640.7 1211.4h0M492.1 1237h0M568.7 1217.6h0M596.3 1242.1h0M631.4 1063.8h0M535.6 1210.9h0M555.6 1072.4h0M623.1 1094.3h0M660.8 1105.4h0M627.6 1198.8h0M631 1051.5h0M547.2 1122.4h0M679.5 1214.2h0M594.3 1188.5h0M594.1 1168.7h0M649.5 1186.4h0M524 1202.8h0M603.1 1162.9h0M682.6 1161.6h0M693.4 1231.8h0M487.4 1253.2h0M519.7 1098.3h0M591.9 1155.8h0M592.3 1222.5h0" stroke="#0a0a80" stroke-width="12" stroke-linecap="round" opacity="0.2" fill="none"/></g>
<g filter="url(#fc6)" fill="none" stroke-linecap="round">
<path d="M636.5 1232.8h0M500.3 1062.7h0M602.5 1216.4h0M662 1200.6h0M551.3 1224.9h0M665.5 1111.2h0M492.3 1169.2h0M625.9 1061.5h0M592.8 1083.8h0M559.2 1124.7h0M529.8 1043.3h0M610.6 1068.7h0M500.6 1090.6h0M537.6 1237.6h0M633.3 1181.6h0M508.2 1170.7h0M603.7 1130.9h0M493.6 1158.1h0M489.5 1145.4h0M571.3 1133.2h0M696.9 1167.7h0M486.9 1238.1h0M697.2 1136.2h0M527.8 1209.7h0M550.7 1205.2h0M591.6 1120.6h0M509.8 1176.2h0M559 1097.3h0M520.2 1043.8h0M555.5 1050.4h0M494.8 1135h0M593.4 1147.8h0M543.3 1246.4h0M517.3 1228.6h0M553.1 1104.8h0M511.9 1232.6h0M619.1 1165.6h0M683.3 1043.6h0M663.3 1233h0M505 1135.6h0M578.9 1137.4h0M648 1196.7h0M492.7 1250.4h0M665.7 1094.9h0M689.7 1052h0M603.7 1101.6h0M696.6 1055.5h0M496.7 1044h0M594.5 1089.3h0M579.6 1068.4h0M626.3 1126.2h0M602.7 1073.5h0M649 1105.3h0M685.1 1102.1h0M577.8 1085h0M562.2 1112h0M503.2 1150.7h0M518.3 1061.9h0M673.2 1253.3h0M631.2 1205.4h0M652.7 1069.8h0M615.4 1155.6h0M554.8 1238.3h0M504 1160.7h0M537.7 1044h0M669.7 1247.7h0M541.9 1083.2h0M514.9 1093.7h0M688.5 1235.8h0M636.5 1191.8h0M586.7 1220.3h0M602.9 1123.5h0M593.7 1211.6h0M693 1124.7h0M561.1 1220.8h0M607.7 1209.6h0M563.3 1089.2h0M637.9 1109.5h0M644.3 1140.9h0M599.2 1142.1h0M666.4 1216.3h0M505.7 1057h0M641.7 1204h0M561.2 1067.5h0M487.2 1243.5h0M676.4 1132.6h0M503.9 1227.3h0M629.5 1243.2h0M603.4 1067.3h0M580.9 1097.7h0M672.8 1211.9h0M500 1155.7h0M654.5 1219.1h0M657.1 1113.3h0M506.3 1064.9h0M610.2 1091.1h0M604.1 1089.5h0M644.6 1120.2h0M665.8 1166.7h0M523.5 1225.1h0M549 1115.7h0M619.9 1181.9h0M679.4 1199.6h0M660.9 1238.3h0M697 1208.2h0M629.4 1211.7h0M670.4 1098.2h0M663.9 1250.9h0M697.5 1097.7h0M655.2 1174.4h0M557.6 1131.8h0M489.7 1138.9h0M660.5 1225.3h0M574.9 1045.8h0M585.1 1072.5h0M556.2 1250.7h0M525.3 1189h0M694.3 1063.8h0M594.3 1182.2h0M559.2 1234h0M652.2 1181.6h0M612.6 1163.4h0M522.3 1125.7h0M580.5 1044.9h0M530.2 1236.5h0M583.2 1141.8h0M557 1118.9h0M627 1118.4h0M574.3 1253.2h0M579 1130.7h0M537.9 1088.9h0M602.4 1233.6h0M601.7 1222.2h0M492.1 1237h0M596.3 1242.1h0M495.4 1120.6h0M583 1062.9h0M626.6 1055.8h0M515.8 1221.1h0M535.9 1118.5h0M635.7 1161.7h0M689.6 1045.7h0M604.9 1136.9h0M679.7 1111.5h0M682.6 1161.6h0M487.4 1253.2h0M519.7 1098.3h0M538.6 1232.1h0M690.6 1130.3h0M592.3 1222.5h0" stroke="#0808a8" stroke-width="4.6"/>
<path d="M691.5 1119.6h0M560.1 1214.6h0M591.3 1132.4h0M516.4 1085.8h0M687.8 1158.7h0M597 1125h0M670.5 1181.6h0M534.1 1104.8h0M647.7 1050.1h0M608.2 1159.8h0M574 1053.4h0M528.6 1183.3h0M674.8 1143.3h0M504.3 1175.7h0M559.1 1077.6h0M665.7 1178.8h0M693.1 1146.8h0M683.1 1150.8h0M604.8 1152.3h0M694.2 1078.3h0M603.2 1094.8h0M530.6 1218.1h0M606.5 1045.4h0M538.9 1111.7h0M581.6 1117.8h0M504.8 1248.5h0M646 1252.5h0M676.3 1154h0M609.8 1149.4h0M617.8 1187.6h0M681.7 1252h0M501.8 1122.9h0M672 1242.2h0M620.8 1075.9h0M518.4 1143.6h0M494.5 1209.6h0M519.2 1236.4h0M646.8 1170.8h0M617.6 1101.9h0M606.6 1167.2h0M638.5 1064.1h0M550 1110h0M511.8 1241.4h0M578.4 1209.1h0M672.2 1106.7h0M568.5 1107.9h0M665.9 1119.1h0M543.9 1219h0M624.5 1245.9h0M531.2 1199.1h0M522.7 1169.3h0M636.7 1090.3h0M662.8 1054.8h0M614.9 1250.1h0M579.5 1110.2h0M573.8 1125.6h0M544.1 1133.1h0M693.9 1092.9h0M621 1106.2h0M501.6 1079.3h0M492.4 1062.7h0M490 1121.3h0M624.4 1167.6h0M654 1136.2h0M641.2 1055.4h0M526.2 1065.6h0M641.3 1157.3h0M541.3 1207.2h0M589.4 1113.9h0M596.3 1235.8h0M659.8 1160.1h0M573.2 1221.4h0M625.8 1148.4h0M589 1066.3h0M609.4 1142.7h0M628.7 1096h0M490.4 1228.7h0M684.8 1143.5h0M599.9 1186.5h0M600.5 1194.8h0M573.4 1206.6h0M609.3 1099.8h0M637.8 1238.6h0M612.3 1049.1h0M692 1070.7h0M639.2 1115h0M672 1175.3h0M673.6 1092h0M532.3 1114.2h0M654.8 1096.9h0M635.1 1168.1h0M523.6 1163.3h0M672.1 1127.6h0M682.4 1072.9h0M512.2 1161.5h0M621.2 1157.5h0M601.3 1181.4h0M619.4 1113.7h0M526.2 1073.6h0M679.8 1067h0M492.1 1151.8h0M509.1 1224.2h0M658.1 1118.9h0M546.3 1065h0M618.1 1069.5h0M638.5 1226.6h0M605.3 1175.9h0M510.5 1248.4h0M584 1092.8h0M649.5 1160.9h0M667.1 1204.4h0M487.9 1183.6h0M616 1144.6h0M552 1099.4h0M676.2 1184.3h0M690.2 1213.4h0M643.8 1236.1h0M631.7 1102.2h0M568.6 1053.1h0M531.6 1205.7h0M507.6 1086.7h0M559.2 1103.3h0M685.3 1119.1h0M513.5 1059.3h0M684.1 1187.4h0M673 1122h0M488.3 1068.1h0M588.6 1126.2h0M511.1 1184h0M625.5 1047.1h0M493.4 1184.3h0M498.4 1162.7h0M503 1117.3h0M492.1 1202h0M620.7 1126.9h0M560.3 1241.7h0M539.3 1124.7h0M642.5 1099.5h0M657.7 1087.6h0M632.4 1135.4h0M588.7 1190.5h0M510.3 1138.9h0M545.5 1101.5h0M619.2 1150.2h0M677.4 1100.1h0M654.3 1252.9h0M534.1 1123.5h0M497.1 1190.6h0M516.7 1158.3h0M533.3 1229.6h0M684.3 1124.7h0M662.1 1043.2h0M684.7 1210.5h0M507.8 1075h0M539.7 1250.3h0M633.4 1116h0M487.3 1193.8h0M498 1140h0M652.9 1130.2h0M562 1250.9h0M635.5 1097.4h0M553.6 1213.6h0M620.1 1174.9h0M486.8 1157.4h0M595.3 1100.3h0M575.7 1234.4h0M604.6 1201.6h0M610.3 1124.3h0M596.6 1248h0M635.1 1058.7h0M639.3 1251.7h0M652.2 1142h0M665.2 1143.5h0M654.6 1196h0M525.1 1197.1h0M697.5 1227.6h0M498 1230.8h0M625.7 1207.3h0M520.6 1209.5h0M656.6 1206.1h0M528.8 1226.3h0M546.6 1058.4h0M663.9 1085.3h0M502.6 1166.7h0M486.6 1223.1h0M667.7 1089.9h0M644.9 1080h0M680 1117.5h0M688.7 1253.1h0M576.2 1120.8h0M640.7 1211.4h0M637 1207.3h0M568.7 1217.6h0M668.8 1232.5h0M561.7 1209h0M697 1240.7h0M535.6 1210.9h0M505.2 1043.6h0M555.6 1072.4h0M660.8 1105.4h0M586.6 1147.6h0M631 1051.5h0M514.4 1253.4h0M594.3 1188.5h0M650.4 1087.2h0M649.5 1186.4h0M524 1202.8h0M505.9 1185h0M497.8 1067.7h0M538.6 1131.2h0M591.9 1155.8h0" stroke="#0a0ccc" stroke-width="5.4"/>
<path d="M656.7 1212.4h0M624.5 1188.3h0M514.1 1099.5h0M661.5 1243.8h0M589.3 1103.3h0M627.5 1154.1h0M498.4 1224.2h0M664.3 1066.9h0M505.3 1127.9h0M678.2 1243.5h0M524.1 1214.8h0M643.2 1089.4h0M520.6 1110.5h0M596.5 1218.2h0M659.8 1190.1h0M612.4 1131.7h0M504.8 1235.2h0M595.5 1076.4h0M675.4 1190.6h0M526.3 1056.8h0M598.6 1157.5h0M514.9 1113.4h0M502.7 1100.9h0M665.3 1048.2h0M625.7 1178.1h0M655.2 1105.1h0M613.5 1172h0M680.6 1137.5h0M650 1078.4h0M666.1 1224h0M672.7 1227.8h0M513.9 1080.3h0M612.5 1074h0M533.6 1052.5h0M674.3 1115.3h0M652.6 1245h0M644.6 1182.5h0M661.8 1071.9h0M693 1192.6h0M648 1232.4h0M630.8 1250.8h0M652.8 1190.9h0M640.5 1187.1h0M685.2 1245.2h0M601 1238.9h0M693.9 1218.6h0M637.4 1217.4h0M508.5 1104h0M495.1 1144.6h0M568.4 1235.5h0M644.9 1130.7h0M547.5 1250.3h0M661.9 1134.3h0M695.6 1047.3h0M567.2 1210h0M643.2 1241.8h0M668.3 1156h0M631.6 1077.2h0M675.4 1160.2h0M549.3 1242.5h0M633.3 1082.4h0M529.1 1249.1h0M671.2 1057.8h0M681 1105.7h0M542.7 1051.5h0M519 1076.8h0M541.6 1106.1h0M675.8 1048.5h0M669.1 1082.6h0M609.6 1084.5h0M495.2 1114.8h0M638.3 1134.1h0M488.9 1042.9h0M649.2 1202.8h0M556.7 1109.1h0M535.3 1140.1h0M598 1174.2h0M526.7 1241.3h0M584.9 1135.4h0M667.3 1061.5h0M652.4 1154h0M517.9 1247.5h0M553.5 1056.9h0M685.5 1085.4h0M671.7 1135h0M681.4 1234.6h0M694.2 1161.1h0M589.6 1227.2h0M674.6 1076.4h0M583.8 1209.7h0M577.1 1078.3h0M610.2 1117.1h0M621.4 1145h0M515.2 1214.4h0M648.2 1096.8h0M670.4 1045.9h0M489.1 1053.8h0M553.9 1067.1h0M609.1 1184h0M681.4 1078.5h0M691.1 1140.9h0M592.2 1253.5h0M511.3 1043h0M685.2 1062.1h0M645.4 1112.8h0M621.9 1193.9h0M693.4 1224.2h0M672.6 1168.1h0M564.3 1229.8h0M544.2 1230.8h0M493.3 1196.2h0M614.2 1138.7h0M595.6 1162.9h0M672.7 1064.5h0M655 1162.8h0M570.5 1061h0M625.5 1160.7h0M613.6 1112.9h0M530.9 1096.3h0M610.9 1060.1h0M556.6 1061.3h0M696.8 1180.5h0M526.4 1106.3h0M580.9 1226.9h0M683 1240.3h0M679.4 1127.9h0M487.4 1060.6h0M489.9 1130.4h0M512.2 1149.1h0M579.5 1203.7h0M638.8 1080h0M539 1216.9h0M527.6 1081h0M693.4 1172.8h0M600.6 1085.5h0M507.5 1217.3h0M665.7 1077.7h0M693.7 1247.7h0M496 1215.2h0M592.6 1204.1h0M607.8 1109.1h0M488.1 1206.6h0M674.1 1234.9h0M489.6 1115.7h0M524.3 1049.8h0M694.8 1110.5h0M590.4 1072.3h0M516.5 1104.5h0M497 1244.9h0M540.4 1198.5h0M638.6 1123.4h0M614.2 1081.3h0M549.4 1218.6h0M551.9 1130h0M653.1 1237.4h0M512 1108.3h0M621.9 1252.6h0M691.1 1187.5h0M644 1148.2h0M532.9 1245h0M658.2 1144.4h0M681.2 1191.8h0M549.6 1053.2h0M569.4 1043h0M577.6 1061.6h0M497.4 1098.1h0M553.1 1124.7h0M627.7 1073.4h0M579.9 1214.3h0M642.9 1216.6h0M499.5 1128.1h0M571.7 1071.2h0M513.4 1133.9h0M643.8 1192.9h0M509.2 1069.6h0M613.2 1212h0M490.9 1189.5h0M682.2 1051.5h0M652.9 1117.6h0M502.2 1073.3h0M602 1147.3h0M508.9 1155.1h0M695.1 1083.6h0M676.4 1248.9h0M487.5 1165.1h0M631.6 1045.9h0M598 1151.2h0M687.4 1182.7h0M614.9 1177.5h0M686.6 1222.8h0M662.1 1090.6h0M503.1 1220.9h0M499.6 1236.9h0M631.4 1063.8h0M657.8 1247.7h0M604.6 1116.8h0M668.8 1162h0M623.1 1094.3h0M688.7 1151.4h0M572.7 1104.2h0M679.5 1214.2h0M524.6 1231.2h0M573.2 1228.5h0M603.1 1162.9h0M601 1251.1h0M502 1213.7h0M693.4 1231.8h0M568 1082.9h0M691.4 1087.4h0" stroke="#0e10ea" stroke-width="6.0"/>
<path d="M685.4 1215.9h0M611.7 1197h0M507.9 1112.7h0M614.1 1043.9h0M646.9 1155.9h0M597.9 1105.6h0M530 1088.3h0M590.1 1138.3h0M585.4 1080.1h0M560.3 1082.9h0M514.8 1173.9h0M687.3 1197h0M493.6 1107.1h0M645.3 1068.2h0M586.2 1086.3h0M494.3 1057.3h0M527.3 1116.1h0M533.9 1194.3h0M672.5 1220.5h0M588.4 1233.2h0M617.4 1119.4h0M519.1 1118.8h0M696.2 1186.1h0M598.8 1135.3h0M622.5 1202.7h0M675.8 1207.1h0M634.2 1156.2h0M564.1 1047.3h0M556.7 1089.8h0M566.5 1120.5h0M629.5 1191h0M624.3 1101.4h0M489.3 1099h0M520.5 1154h0M636.3 1049.6h0M569 1251h0M684.8 1130.7h0M635.2 1200.9h0M666 1101.3h0M594.7 1110.3h0M688.1 1075.3h0M686.8 1056.7h0M515.8 1125.1h0M548.5 1236.2h0M688.6 1227.8h0M691.2 1104.8h0M641.5 1046.4h0M519.9 1053.1h0M539.6 1225.6h0M680.7 1093.5h0M653.2 1227.8h0M618.7 1091h0M578 1103.1h0M490.5 1219.3h0M593.6 1198.6h0M661.9 1209.8h0M556 1043.4h0M564.7 1128.7h0M507.6 1121.4h0M606.7 1246.2h0M673.8 1085.4h0M546.5 1044.5h0M669.4 1071.2h0M501.8 1107.1h0M599.6 1113.9h0M600 1206.5h0M579.7 1221.2h0M500.3 1185.8h0M691.2 1203.3h0M652.5 1168.1h0M538.9 1098.6h0M573.8 1213.6h0M586.2 1199.5h0M665.5 1127.3h0M547.5 1085.8h0M639.2 1180.8h0M630.8 1129.3h0M604 1078.7h0M659.9 1150h0M519.7 1186.9h0M624.4 1067.8h0M546.3 1211.9h0M488.3 1175h0M652 1111.3h0M644.5 1062.9h0M681.6 1225.2h0M624 1081.6h0M573.8 1115.7h0M638.6 1173.3h0M533.2 1063.6h0M672.3 1150.3h0M565.1 1071.5h0M642 1167.8h0M697 1202.2h0M686.6 1137.3h0M690 1081.7h0M539.3 1057.2h0M577.4 1091.6h0M564.4 1061.4h0M614.6 1097.4h0M586.9 1097.7h0M600.6 1046.2h0M628.5 1089.4h0M684.7 1202.2h0M686.9 1096.8h0M534.8 1083.2h0M594.7 1067.9h0M502.6 1143.2h0M525.8 1177.3h0M565.5 1100h0M605.5 1059.9h0M697.4 1103.6h0M518.6 1180.9h0M525.9 1153.4h0M487.2 1199.7h0M640.8 1198.3h0M650.3 1124.6h0M538.8 1065.3h0M689.7 1163.9h0M528.5 1121.8h0M606.3 1052.3h0M611.4 1189.6h0M567.5 1076.8h0M627.6 1198.8h0M493.3 1177.2h0M547.2 1122.4h0M614.6 1107.1h0M594.1 1168.7h0M513.6 1119.1h0M488.1 1110.2h0M527.3 1140.4h0M516.7 1167.7h0M520.7 1175.7h0" stroke="#181aff" stroke-width="5.0"/>
<path d="M507.6 1081.2h0M554.3 1230.8h0M637.9 1147.2h0M616.5 1206.4h0M507.4 1146h0M674 1197.8h0M549.8 1091.8h0M632.3 1070.1h0M645 1073.8h0M658.3 1179.5h0M569.1 1244.3h0M597.4 1227.8h0M648.6 1219h0M552.9 1079.7h0M625.2 1138.8h0M667.2 1189.6h0M573.3 1065.8h0M686.6 1091.1h0M523.4 1247.8h0M658.3 1128.4h0M660.2 1168.8h0M498.8 1173.6h0M630.9 1144h0M504.8 1242h0M690.6 1242.2h0M526.5 1145.9h0M676.6 1058.4h0M687.6 1109h0M501.9 1252.9h0M523.9 1094.9h0M562.9 1053.7h0M519 1135.9h0M599.1 1062.4h0M667.6 1196.9h0M651.3 1147.5h0M567.4 1224.9h0M631.9 1122.5h0M542.6 1093.1h0M655.8 1080.1h0M570.9 1087.4h0M656.5 1046.4h0M532.4 1189h0M497.7 1050.5h0M630.1 1109.6h0M515.9 1068.3h0M665.9 1151h0M639.3 1071.2h0M512.1 1049.8h0M550.2 1073.2h0M522.9 1085.2h0M648.6 1212.9h0M610.9 1204.9h0M665.2 1172.9h0M646.1 1208.2h0M663.3 1185.2h0M507.7 1092.3h0M542.3 1117.8h0M633.3 1174.4h0M504.1 1051h0M585.4 1109.2h0M567.9 1113.6h0M619.7 1085.3h0M624.6 1110.6h0" stroke="#1014f0" stroke-width="7.0"/>
</g>
<g fill="none" stroke-linecap="round" filter="url(#fo6)">
<path d="M528.6 1160.9C532.9 1190.4 549.8 1211.5 570.9 1215.7" stroke="#18c048" stroke-width="1.2" opacity="0.8" stroke-dasharray="4 2 3 1.5"/>
<path d="M570.9 1131.4C587.8 1144 596.2 1169.3 592 1194.6" stroke="#18c048" stroke-width="1.3" opacity="0.6" stroke-dasharray="9 3 4 1.5"/>
<path d="M581.4 1042.9Q592 1055.5 604.7 1049.2" stroke="#18c048" stroke-width="1.1" opacity="0.7" stroke-dasharray="4 3 5 1.5"/>
<path d="M545.5 1047.1Q554 1064 566.7 1080.8" stroke="#18c048" stroke-width="1.2" opacity="0.8" stroke-dasharray="4 2 5 1.5"/>
<path d="M524.4 1217.8Q539.2 1228.3 560.3 1226.2" stroke="#18c048" stroke-width="1" opacity="0.8" stroke-dasharray="9 1 3 1.5"/>
<ellipse cx="560.3" cy="1169.3" rx="35.5" ry="40" transform="rotate(-18 560.3 1169.3)" stroke="#1cb84c" stroke-width="1.1" opacity="0.6" stroke-dasharray="9 2 5 1.5"/>
<path d="M578.4 1209.1Q574.9 1219.4 579.8 1229.2" stroke="#1cb450" stroke-width="1.2" opacity="0.4"/>
<path d="M604.9 1136.9Q601.7 1147 599.7 1157.4" stroke="#1cb450" stroke-width="1.3" opacity="0.3"/>
<path d="M505 1135.6Q508.9 1142 506.5 1149.2" stroke="#1cb450" stroke-width="1.4" opacity="0.3"/>
<path d="M562.9 1053.7Q562.3 1058 564.4 1061.7" stroke="#1cb450" stroke-width="1" opacity="0.3"/>
<path d="M522.3 1125.7Q518.5 1133.8 511.1 1138.8" stroke="#1cb450" stroke-width="1.1" opacity="0.3"/>
<path d="M551.3 1224.9Q555.5 1218 563.2 1220.2" stroke="#1cb450" stroke-width="1.4" opacity="0.4"/>
<path d="M525.8 1177.3Q534.7 1182.2 542.5 1188.8" stroke="#1cb450" stroke-width="0.9" opacity="0.2"/>
<path d="M669.1 1082.6Q667.3 1094.9 660.1 1104.9" stroke="#1cb450" stroke-width="1" opacity="0.4"/>
<path d="M673 1122Q678.5 1116.9 677.3 1109.6" stroke="#1cb450" stroke-width="1" opacity="0.4"/>
<path d="M612.3 1049.1Q617.3 1038.8 626.7 1032.3" stroke="#1cb450" stroke-width="0.9" opacity="0.5"/>
<path d="M611.7 1197Q619.2 1203 627.7 1198.7" stroke="#1cb450" stroke-width="1.3" opacity="0.3"/>
<path d="M560.3 1082.9Q548.9 1084.3 538.7 1089.4" stroke="#1cb450" stroke-width="1.3" opacity="0.4"/>
<path d="M505.3 1127.9Q506.2 1141.4 517.2 1149.3" stroke="#1cb450" stroke-width="1" opacity="0.3"/>
<path d="M526.5 1145.9Q522.6 1153.4 519 1161.1" stroke="#1cb450" stroke-width="1.3" opacity="0.2"/>
<path d="M610.6 1068.7Q606.1 1060.6 597.2 1057.8" stroke="#1cb450" stroke-width="1.1" opacity="0.5"/>
<path d="M674.6 1076.4Q678.2 1079.3 680.1 1083.6" stroke="#1cb450" stroke-width="1.1" opacity="0.3"/>
<path d="M515.2 1214.4Q517.1 1220.7 523.7 1221.5" stroke="#1cb450" stroke-width="1.2" opacity="0.2"/>
<path d="M529.1 1249.1Q526.1 1258.9 529 1268.7" stroke="#1cb450" stroke-width="1.5" opacity="0.3"/>
<path d="M673.2 1253.3Q675.3 1257.8 679.4 1260.8" stroke="#1cb450" stroke-width="1.2" opacity="0.5"/>
<path d="M688.7 1151.4Q684.7 1156.1 685.3 1162.2" stroke="#1cb450" stroke-width="1.1" opacity="0.4"/>
<path d="M652.7 1069.8Q663.9 1069 671.9 1076.9" stroke="#1cb450" stroke-width="1.4" opacity="0.4"/>
<path d="M641.7 1204Q631.3 1209 623.8 1217.7" stroke="#1cb450" stroke-width="1.1" opacity="0.4"/>
<path d="M537.6 1237.6Q530.7 1231 525.2 1223.2" stroke="#1cb450" stroke-width="1.1" opacity="0.4"/>
<path d="M650.3 1124.6Q645.3 1125.9 640.4 1127.4" stroke="#1cb450" stroke-width="1.5" opacity="0.4"/>
<path d="M532.4 1189Q529.8 1194.5 526.9 1199.9" stroke="#1cb450" stroke-width="1" opacity="0.5"/>
<path d="M684.1 1187.4Q681.4 1178.8 689.3 1174.6" stroke="#1cb450" stroke-width="1.4" opacity="0.5"/>
<path d="M492.1 1237Q489.8 1224.9 484.7 1213.8" stroke="#1cb450" stroke-width="1.3" opacity="0.5"/>
<path d="M522.3 1125.7Q514.1 1120.3 504.3 1120.5" stroke="#1cb450" stroke-width="1.3" opacity="0.4"/>
<path d="M556.7 1089.8Q553.3 1081.8 560.3 1076.4" stroke="#1cb450" stroke-width="1.1" opacity="0.3"/>
<path d="M610.2 1091.1Q611.9 1084.4 618.7 1084.6" stroke="#1cb450" stroke-width="1.1" opacity="0.4"/>
<path d="M670.4 1098.2Q677.9 1103.3 676 1112.1" stroke="#1cb450" stroke-width="1.5" opacity="0.4"/>
<path d="M690.2 1213.4Q700.9 1209.3 702.1 1197.9" stroke="#1cb450" stroke-width="1.3" opacity="0.4"/>
<path d="M497.7 1050.5Q494.1 1042.9 492.4 1034.7" stroke="#1cb450" stroke-width="1.5" opacity="0.5"/>
<path d="M676.6 1058.4Q672.9 1066.8 669.7 1075.5" stroke="#1cb450" stroke-width="1.5" opacity="0.5"/>
<path d="M625.7 1207.3Q622.7 1219.1 629 1229.5" stroke="#1cb450" stroke-width="1.2" opacity="0.4"/>
<path d="M623.1 1094.3Q617 1090 611.2 1085.3" stroke="#1cb450" stroke-width="1.5" opacity="0.4"/>
<path d="M525.8 1177.3Q531.6 1173.5 538.4 1174.7" stroke="#1cb450" stroke-width="0.9" opacity="0.3"/>
<path d="M609.6 1084.5Q600.5 1080.1 591 1076.6" stroke="#1cb450" stroke-width="1.1" opacity="0.3"/>
<path d="M695.1 1083.6Q692.2 1088.3 687.7 1091.7" stroke="#1cb450" stroke-width="1.2" opacity="0.3"/>
<path d="M565.5 1100Q565.8 1093.2 572.5 1092.2" stroke="#1cb450" stroke-width="1" opacity="0.5"/>
<path d="M622.5 1202.7Q616.6 1195.7 608.1 1192.2" stroke="#1cb450" stroke-width="1.3" opacity="0.5"/>
<path d="M642.5 1099.5Q639.5 1105.4 643.2 1110.9" stroke="#1cb450" stroke-width="1.4" opacity="0.4"/>
<path d="M692 1070.7Q691.4 1066 687.4 1063.5" stroke="#1cb450" stroke-width="1.3" opacity="0.4"/>
<ellipse cx="585.7" cy="1095.6" rx="14.3" ry="8.5" fill="#18b040" opacity="0.33" filter="url(#blE2)"/>
<ellipse cx="613.1" cy="1131.4" rx="28.5" ry="17.1" fill="#18b040" opacity="0.33" filter="url(#blE2)"/>
<ellipse cx="634.2" cy="1148.2" rx="22.8" ry="17.1" fill="#18b040" opacity="0.33" filter="url(#blE2)"/>
<ellipse cx="651.1" cy="1186.2" rx="17.1" ry="22.8" fill="#18b040" opacity="0.33" filter="url(#blE2)"/>
<ellipse cx="661.7" cy="1211.5" rx="17.1" ry="14.2" fill="#18b040" opacity="0.33" filter="url(#blE2)"/>
<ellipse cx="676.5" cy="1228.3" rx="17.1" ry="14.2" fill="#18b040" opacity="0.33" filter="url(#blE2)"/>
<ellipse cx="570.9" cy="1215.7" rx="22.8" ry="7.1" fill="#18b040" opacity="0.33" filter="url(#blE2)"/>
<ellipse cx="602.6" cy="1116.6" rx="17.1" ry="14.2" fill="#18b040" opacity="0.33" filter="url(#blE2)"/>
<ellipse cx="665.9" cy="1106.1" rx="17.1" ry="17.1" fill="#18b040" opacity="0.33" filter="url(#blE2)"/>
<path d="M575.7 1092.7l1.3 1.4M586.8 1090.7l0.3 1.4M581.6 1094.3l-0.9 0.3M582.5 1105l0.4 0.1M588.7 1095.3l1.1 -0.6M582.2 1094.5l-1 -0.3M582.5 1098l-0.7 1.5M588.5 1096.2l1.6 0.9M594.8 1094.3l0.6 -1.1M594.8 1089.3l-1.2 0.7M592 1107.9l1.4 -1.1M571.6 1099.8l0.5 0M583.8 1092l1.5 0.7M590.2 1089.2l-1 0M580.9 1102.2l-0.3 -0.8M575.8 1089.9l0.7 0.4M585.1 1101.4l0.8 -1.6M595.2 1100.4l1 -0.1M580.2 1094.5l-0.4 1M597.7 1090.6l1.2 -0.9M592.4 1091l1.3 1M577.5 1097.6l-0.7 1.6M589.2 1095.8l-1.3 -0.4M590.5 1103.3l-1.4 0.7M586.9 1088.4l-0.4 1.5M575.9 1098.3l-1.4 0.2M572.5 1099.3l0.4 -0.6M582 1093.9l1.2 1.4M574.3 1093.7l-1 -1.2M580 1090.2l-1.5 -0.4M602.3 1088.7l0.3 -0M590.2 1108.3l0.6 -0.8M592.3 1096.1l-0.1 0.9M586.4 1095.8l0.8 0.5M586.6 1098.2l1.2 1.6M582.5 1099l-1.4 0.4M575.1 1096.3l0.8 0.6M582.5 1093.1l1.4 0.4M607.8 1095.8l0.6 0M582 1094.7l0.6 -0.3M589.3 1092.5l0.4 1.3M582.1 1097.7l-1 -1M574.4 1098.2l-0.8 0.3M571.8 1096l-0.7 1.1M585.7 1098.6l-1.1 0M574.7 1087.7l-1.1 -1.4M585.5 1095l1 -1.5M578.3 1092.2l0.2 -1M588 1094.7l0.8 -0.8M584.2 1096.5l0.6 0.7M580.1 1093.2l0.5 -0.2M578.9 1094.7l-0.3 0.6M582.2 1096.7l-0.4 0.3M575.7 1099.1l0.5 -0.6M563.1 1097.4l-1.3 -0.9M586.6 1094.7l1 -1.1M591 1097.2l-1.5 0.4M583.5 1091.8l1.4 -0.2M583.4 1089l0.6 -1.5M583.6 1105.1l-1.2 -0.8M583.4 1097.7l0.7 -1.1M596.5 1096.9l1.4 -0.6M590.1 1103.7l0.1 -0M588.6 1095.2l-0.8 1.5M571.5 1097l-0.8 0.6M582.5 1089.4l-0.5 -0.3M569.5 1103.4l-1 -0.3M586.6 1098.1l-1.2 1M600.1 1094.1l1.2 -0.2M594.9 1096.8l-0.7 1.6M583.7 1106.8l0.5 1.1M583 1091.6l-1.5 0.4M580.8 1099.7l-1.4 -1.2M590.3 1093.5l-0 -0.8M587 1100.6l-1.5 -0.8M569.4 1086.7l-0.3 -0.5M584.2 1083.3l-0.7 0.8M599.9 1129l-1.4 -0.9M603.7 1129.7l1.5 1M602.6 1140.9l-1.5 0.5M579.4 1118l-1.5 1.1M643.7 1120l0.2 0.6M622.1 1141.7l-1.4 -0.9M607.8 1122.4l1.3 -0.1M604.5 1122.6l0.2 0.7M618.1 1142.6l0 -1.1M621.2 1125.6l-0.3 -0.4M626.8 1145.1l-0.8 0.5M604.5 1146.4l1 -1M603 1129.8l-0.1 0.6M583.1 1131.4l0.9 1.3M598.5 1128l0.9 -0.1M617.9 1133.1l-0.2 0.3M598.1 1126.8l-1.2 -0.5M627.1 1121.2l1.3 -0.4M620.2 1134.4l-0.8 0.1M625.9 1134.1l-1.1 -0.5M609 1135.2l0.5 1M623.3 1134.5l-0.2 0.6M607.2 1133.8l-1.2 1.1M613.2 1118l-0.8 1M606 1116.4l-1.4 -1.4M645.3 1126.4l-0.1 0.2M664.6 1138.7l-0.1 -1.1M609.9 1134.7l0.6 -0.5M635.3 1130.5l0.4 0.7M605.5 1135.8l0.1 0.1M607.1 1136.2l1.2 -0.3M599.2 1133.9l0.6 -1M599.3 1139.8l1.1 1.3M637.4 1143.7l0.5 -0.1M631.7 1113.3l-0.6 -1.3M611 1139.8l-1.2 0.8M625.7 1131.6l-0.8 0.5M613 1126.4l-1 0.9M609.6 1131l0.7 0.2M630.4 1121.6l1.1 -0.2M590.5 1133.9l0.1 1.5M611.7 1124l-0.4 0.1M607.9 1106.5l-1.4 -0.1M618 1132.2l0.2 -1.4M596.2 1141.9l0.5 -0.1M638.7 1138.2l-0.2 -0.1M622.2 1138.7l0.1 0.1M602.2 1133.3l1.1 0.3M610.1 1110.2l-0.7 1.5M623.1 1137.9l0.1 0.9M578.2 1152.8l0.9 0.7M614.9 1118.1l-1 0.4M622.1 1128.3l0.2 1.4M647.5 1135l-0 1.1M617.1 1143.8l1.1 0.7M631.6 1129.4l-0.6 0.9M605.1 1126l-1.1 -0.2M630 1134.1l1.3 -0.2M575 1144.7l-1 0.7M607.6 1142.5l-1.4 0.8M581.5 1118l-0.7 1.5M614.7 1131.5l-0.7 -0.7M624.2 1107.9l1.6 -0.9M607 1131l0.5 0.5M615.2 1139.6l-0.9 -1.2M595.5 1133.6l-0.8 -0.7M626.7 1108.8l1.1 0.9M633.5 1138.8l0.6 -0.3M595.2 1128.7l0.5 -0.5M608.6 1136.2l1.3 -1.1M629.6 1133.9l0.7 -0.2M630.8 1133.9l-0.4 1.1M604.7 1107.3l-0.8 -0.5M606.7 1120l1.3 -1M615.5 1134.9l-0.3 -1.5M592.1 1129.6l0.7 -1.6M607.3 1129l-1.3 0.9M597.5 1121.4l-1.2 -1.4M624.2 1131.3l-0.3 1.6M636.7 1133.1l1 -1.6M604.4 1143.9l1 1.6M618 1131.2l1.6 0.2M618.6 1120.2l1.1 0.2M594.7 1141.9l-0.2 0.1M609.7 1135.3l-0.2 0.5M594.8 1118.8l0.2 0.4M597.1 1099.7l0.9 0.1M594.7 1134l-0.3 -0.2M618.5 1126.7l0.5 0.6M621.1 1129.9l1 0.1M600.3 1125.8l-0.9 -0.9M623.9 1131.5l0.3 0.2M628.1 1138.8l-0.3 -0.2M590.8 1137.8l0.5 -0.7M601.6 1144l-1.1 0.3M632.4 1117.4l1.2 -0.5M594.6 1144.5l-1.5 -0.4M604.6 1122.6l-0.6 0.8M618.6 1139.9l0.2 1.1M605.5 1132.2l-0.3 -1M598.6 1139.3l-1.2 0.6M611 1141.3l0.1 0.6M614.7 1146.7l0.6 1.5M623.5 1141.3l0.3 1.2M591.1 1128.3l-0.3 0.6M627.3 1130.9l-0.9 0.7M604.5 1143.8l1.2 0.2M622 1127.7l-0.9 -0.5M632.2 1127.6l0.4 1M586.6 1119.6l-1.6 0.5M614.1 1113.6l1.3 0.7M616.9 1135.8l1.1 0.9M660.4 1123.5l-1.5 -0.2M651.9 1136l-1 -0.2M614.6 1123.3l-0.7 0.8M601.8 1118.8l1.2 0.7M624.3 1133.4l-0.8 -0.9M621.2 1111.3l1 -0.2M650.9 1131l-0.6 -0M620.8 1137.8l0.1 0.8M601.8 1141.3l-0.4 -1.2M633.7 1125.9l0.6 1M587 1125.7l-0 1M617.6 1127.1l1.4 -1M610.1 1149.1l0.6 -0.8M609.9 1125.7l-0.1 -0.9M644.2 1127.4l-0.8 0.8M625.6 1135.8l0.1 0.2M605.2 1126.5l0.1 0.5M623.2 1130.4l-1.2 0.4M641.5 1138.3l-0.5 -0.7M589.1 1130.3l-0.2 -0.5M618.7 1145.8l-0 1.2M618.9 1139.9l1.4 0.7M634.7 1136.4l1.5 -0.5M621.8 1143.7l-1.4 -0.9M591.7 1112.1l1.4 0.1M627.1 1145.9l-0.9 -0.3M608 1134.3l1.4 1.2M608.1 1148.6l1.1 1M610.2 1139.5l-0.7 -1M629.7 1138.6l0.2 0.9M611.5 1138.6l1.1 0.3M618.4 1136l1.3 1.2M634 1126.5l-1.3 1.6M601.7 1138.6l-1.2 -1.1M618.1 1128.3l-0.7 0.9M605.1 1145.1l-0.8 -1.1M606.2 1122.4l1.1 0.1M598.7 1139.6l-1.1 -1.6M613.7 1131.9l-0.8 -0.7M628.5 1122.3l-0.8 -1.6M599.9 1122.3l0.5 -0.4M638.7 1141.2l0.3 -1.4M620.5 1140l1.2 0.5M594.5 1126.2l-0.7 0.1M645.3 1112.8l-1.6 0.8M623.3 1121.1l-0.6 -0.3M593.3 1125.8l0.5 0.9M594.1 1119.5l1 -1M634.4 1136.9l-1.4 1M592.9 1131.5l-0.4 -1.4M571.3 1136.7l1.1 0.1M602.5 1128.8l-1.2 0.1M614.8 1120.4l0.2 -0.6M612.1 1132.6l0.6 -0.5M613.7 1129.7l0.1 -0.2M587.9 1139.7l-0.2 0.4M578 1147.2l0.9 -0.2M622.3 1143.8l1.5 0.5M621.7 1132.3l-0.8 -1.4M623 1131.4l0.6 -0.2M621.7 1129.2l-0.9 -1M616.1 1119.2l1.4 -1.5M590.3 1139.4l-1.3 0.9M608.1 1126.3l-1.5 1.5M623.6 1133.2l-0.7 1.5M618.2 1140.5l0.2 1.3M616.5 1138.5l0.4 -1M588.7 1137.4l0.4 0.4M614.8 1160.2l-1 -1.5M596.6 1145.5l-0.5 1.5M600.8 1125.9l1.4 -0.9M584.5 1145.6l-0.6 -0.4M656.4 1136.9l-1.1 -1.3M594.9 1137.7l-1.5 -0.3M621.2 1132.7l-1.6 -0.4M606.8 1149.2l-1.6 -0.4M613.7 1130.5l-0.5 1.3M631.5 1130.2l-0.7 -1.5M637 1107l0.7 -1.3M611.4 1106.1l0.6 0.3M630 1115.6l-0.3 -0.6M592.1 1132.9l-1.5 0.3M600.9 1136.4l-0.3 -0.1M616.4 1123.4l-0.8 1.4M609.7 1127.3l1.5 0.3M621 1116.9l-0.8 -1.4M597.5 1134.9l1.5 -0.9M620.4 1136.8l1.4 -0.1M606.5 1142.2l-0.3 -1.5M620 1115.5l0.4 -0M588 1116.4l1.1 0.4M617.8 1162.4l-1 -1.2M622.8 1129.9l-0.5 -0.6M660 1150.2l0.5 1.3M628.8 1156.6l-0.5 0.3M620.9 1151.2l-1.3 0.6M646.4 1147l-0 -1M625 1143.4l-1.5 -0.8M628.3 1138.2l1 -0.1M637.4 1147.1l-1 -0.7M637.1 1145.7l0.7 0.4M634.4 1138.5l-1.4 1.5M635.2 1149.8l1.3 -1M641.4 1148.1l-0.2 0.8M638.4 1162.6l0.4 0.3M641.1 1149.4l-0.8 0.4M624.4 1145.8l-0.7 -0.2M624.8 1137.8l-1 0.7M638 1153.9l0.9 1.6M637.4 1148.1l1.2 -1.6M623.8 1143.8l0 -0.6M643.7 1140.8l0.5 -0.2M632.6 1143.9l-0.7 1.6M633.1 1157.7l-0.2 -0.5M634.8 1145l0.8 -0.9M630.7 1153l-1.2 -1.3M629.3 1145.6l-0.2 1.2M619.5 1147.8l0.1 0.1M623.7 1153.5l-1.5 -1.2M627.5 1144.3l-1 -1.4M607.6 1151.1l-0.4 -0.8M622.8 1156.3l0.3 -1.4M648.1 1153l0 0.2M616.4 1162.7l0 -1.1M624.3 1144.8l1.6 -0.8M625.9 1127.6l0.3 -0.7M643.1 1139.2l-0.5 0.5M642.6 1158.9l-1.4 -0.8M628.9 1156.6l0.6 -0.4M634.5 1140.6l0.2 0.4M608.1 1146.6l1 0.8M618.4 1141.3l0.6 -1.3M640.3 1132.8l-0.4 -1.5M643.6 1152.5l0.6 -1.6M646.5 1159l-0.5 0.9M628.1 1140.1l1.3 1.1M664 1161l0.4 -1M622.8 1139.4l0.7 0.7M630.2 1147l-1.1 -0.7M627.3 1137.3l-0.5 -0.4M625.2 1155.7l-0.8 0.5M641.8 1165.4l-0.7 0.5M651.9 1134.2l1.2 0.4M656 1159.3l-1.5 -0.4M646.6 1158.4l1.3 0.4M641.8 1139.2l-1.6 0.6M647.8 1142.2l0.9 0.1M637 1135.6l-0.4 -0M635.7 1135.6l1 0.5M641.1 1149.6l1.1 -0.9M618.7 1140.6l-0.6 0.2M624.4 1146.7l0.5 1M638.4 1154.1l0.6 -0.3M632.5 1157.4l0.5 0.9M625.2 1158.7l-0.7 0.7M637.2 1141.7l0.2 0.8M601.5 1146.2l-0.2 0.6M604.3 1139.7l1.4 -0.9M625.7 1122.6l-0.6 0.4M612.7 1150.5l0.1 1.3M657.3 1154.2l1.3 0.5M629.2 1143.6l0.5 -0.2M638.8 1135.2l1 1.6M636.7 1146.2l1.1 -1M641.8 1147.6l0.4 0.7M648.5 1153.4l-0.3 0.1M637.5 1133.3l-1.5 -1.3M640.7 1160.6l-0.8 -1.2M630.7 1134l-1.6 1.4M624.3 1143.3l-1.3 1.3M639.4 1142.2l1.2 1.2M645 1146.5l1.3 -0.1M620.2 1146.5l-0.4 -0.7M629.8 1147.1l1.2 -0.1M651.2 1143.8l-0 1.4M647.4 1144.4l1 -1.5M658.1 1143.7l-0.7 1M643.9 1150l-0.9 -0.5M646.3 1138.3l0.4 -1.3M619.8 1152.1l1.4 0.7M621.5 1149.9l0.5 0.2M631 1138.9l1.1 0.4M636.7 1156.8l0.9 1M648.2 1161.3l-0.3 0.5M653.4 1149.2l-0.4 -0.5M616.2 1166.4l1.2 -1.3M633.6 1138.9l-0.9 0.9M634.2 1148.8l-0.7 0.5M621.3 1133.4l1.3 0.7M609.9 1137.6l0.4 -1.4M625.4 1150.4l0.1 -0M625.8 1144.3l1.4 -0.1M651.2 1154.1l0.4 1.1M638 1167.7l-0.2 0.5M639.1 1154.3l-0.2 1.3M621.8 1138.1l-0.2 1.6M638.2 1151.9l-0.5 -1M628.3 1131.7l-0.6 -0.5M615.5 1155.2l-0.8 0.8M625.9 1143.7l0.4 1.6M615 1169l1.3 -1.3M629.5 1146.8l1.3 0.5M633.8 1152.6l-1.1 -1.2M626.7 1143.4l-0.1 0.7M624 1134.6l1.5 1.6M621.5 1144.3l0.8 0.3M621.9 1143.8l0.1 -0.1M635.2 1136.5l-1.2 0.7M637 1160.5l-1.1 -0.3M623 1149.3l-1.1 -1.2M642 1148.1l-0.2 -1.5M648.3 1174l-0.8 0.2M624.7 1141.5l0.3 1.6M625.6 1148.2l1 1.5M632.6 1156.2l1.4 0.5M624.9 1152.2l0.8 -1.6M630.6 1144.5l-0.2 -0.6M626.4 1142.9l1.2 -1M631.6 1156.3l-1 0.3M624.2 1160.2l-0.7 -0.7M637 1152.7l-0.4 -1.1M626 1155.1l1.2 1.1M643.2 1137l-1 -0.8M622.3 1144.6l0.8 -0.4M654.9 1144.2l1.2 -0.9M625.8 1143.4l0.1 -0.8M625.6 1129.2l-0.5 -0.1M630.6 1146.7l-0.5 -0.5M633.3 1149.7l1.2 1.3M634 1131.8l0.3 -0.3M634.8 1141.8l-0.9 0.5M625.6 1133.5l-0.5 1.5M626.9 1145.9l-1.4 1.4M643.9 1157l0.4 1.2M615.2 1140.3l1.2 -0M644.6 1150.6l0.7 0.5M641.4 1157.1l-1.3 -1.5M646.2 1152.8l-0.8 0.1M662 1132l0.5 0.6M603.1 1151.2l0.3 1.2M624.2 1152.5l-1 -1.3M592.4 1138.2l0.2 1.1M643.9 1158.5l0.3 -1.5M640.8 1146.9l-0.7 1.5M622.7 1139.7l1.5 1.5M648 1142.6l-0.6 -0.7M630.3 1147.1l-1 -0.2M635.9 1159.7l0.1 -0.8M629 1148.2l-1.4 0.6M653.6 1130l0.8 -0.8M638.6 1134.7l1.2 1.4M629.1 1145.6l-0.7 -0.5M616.1 1128l-1.2 -0.2M641.9 1141.1l1 1.6M634.7 1141.6l-1.1 0.1M632.2 1150.6l1.3 -0.7M664.1 1158.3l1.6 -0.7M626.8 1152.6l0.5 0.2M642.6 1209.2l-1.2 1.2M647.3 1188.7l-1.5 -0.2M653.1 1202.5l0.4 0.7M667.7 1199.1l0.5 -1.6M657.1 1183l-1.6 -0M667.1 1179.1l1.5 1.3M655.6 1195.9l1.1 1.6M626.3 1194.9l1.5 1M663.3 1185.3l0.5 -0.5M662.6 1166.8l0.2 -1.3M658.7 1177l-1.6 0.4M654.8 1199.9l-0.9 1.1M647.9 1165.7l1 -1.2M674.1 1158l-0.6 -1.5M660 1189.4l-1.1 1.3M648.2 1196.3l-1.3 -1.4M656.8 1178.9l-1 -1.2M665.6 1190.2l-0.7 1.5M652 1196.6l-0.2 -0.4M653.6 1187.3l1.3 0.5M653.3 1168.1l-0 -0.4M651.5 1174.2l-0.5 0.2M663.7 1197.2l0.8 -0.6M656 1179.4l-1.3 0.5M643.4 1185.8l0.3 0.5M659 1172.8l-0.8 0.9M652.7 1163l-0.4 -1.2M666.4 1168.3l-0.4 -0.2M646.2 1199.3l-1.1 -1.3M656 1196l-0.2 1.5M635.2 1203.8l0.5 1.6M640.8 1186.1l-0.7 0.4M650 1178.6l0.3 1.2M637.1 1177l0.4 -1.5M659.9 1187.1l-1.2 -1.1M658.4 1191.7l-0.7 0.7M650.8 1190.5l-0.8 1.5M629.8 1199.3l-0.1 -0.1M624.7 1168.5l0.5 0.7M643.5 1180.8l-1 1.6M639.3 1169.8l-0 0.5M654.8 1174.8l-1.1 0.6M632.6 1172l1.2 1.5M652.8 1191.6l-0.6 1.5M663.9 1183.6l1.3 -0.1M646.4 1195l1.4 -0.4M642.8 1196.3l1 1M646 1174.4l0.3 -1M654.4 1187.6l1.6 1M669.5 1199.4l1 -0.2M669.6 1186.4l-1.2 -1.1M650.7 1179.9l-0.7 -0.2M650.5 1181.9l0.3 0.7M664.1 1209.9l-0.9 -1.2M649.8 1184.2l-1.2 -0.8M639.9 1180.5l-0.1 1.6M645.8 1198.3l-1.1 -1.3M650 1188.4l1.3 -0.4M646.3 1172l-0.7 1.3M657.7 1198l-1.1 1.5M642.7 1184.2l0.7 -0.5M633.3 1194.3l-1.1 -1.3M644.4 1194.6l0.8 -1.2M658.6 1188.4l-0.2 1.4M643.9 1179.7l0.9 -1.4M643.9 1171.6l-0.6 0.7M634.8 1187.1l1.4 -0.4M651.8 1202.1l-0.7 0.1M644.7 1204.8l1.2 1.5M648.8 1193.7l-0.9 0.8M648.1 1189.6l1.1 1M654.6 1182.8l0.3 1.1M641.3 1191.7l-0.4 0.1M652.6 1193.9l0.8 0.1M652.6 1186.2l-0.9 0.1M661.7 1184.6l-0.7 1.6M648.9 1180.4l1.4 1.6M639.5 1177.5l1 1.4M653.2 1195.3l-0.1 -0.3M636 1191.1l1.3 1.1M646.7 1189.8l0.2 -0.7M654.4 1170.1l0.8 -1.3M641.5 1191.3l0.2 -0.3M678.5 1181.6l1.1 -1.5M645 1191.6l1.4 -0.5M645.6 1182.6l0.9 0.2M661.9 1199.3l-0.8 -1.3M653.9 1187.6l-1.2 -0.3M655.4 1174.3l0.4 -0.1M659.3 1200.7l-1.5 1.6M660.5 1175.3l-0.3 -0.2M658.1 1189l-0.7 0M670.8 1177.2l-0.7 0.3M643.4 1176.5l-1.1 0.3M647.8 1182.5l-0.5 -0.3M646.1 1169.8l1.4 0.8M668.5 1163.2l-0.8 -1.1M655.1 1180.2l-0.1 -0.1M639.9 1184.8l-1.1 -1.4M666.6 1186l-0.6 1.5M660.1 1182.5l-0 0.2M653.3 1183.8l-0.9 -0.3M633.7 1176.4l0.5 -1.2M655.6 1186.1l-1.6 0.2M659.5 1166.8l0.2 -0.3M642.1 1194.6l-1.1 1.1M652.6 1179.5l0.9 0.9M668.8 1210.1l1.2 -1.1M646.4 1189.6l-1.2 1.5M649.7 1186.2l1.4 -1.4M647.9 1191.6l-1.1 -0.5M650.5 1186.7l-1.1 0.9M642 1207.8l0.8 0.7M652.1 1183.8l0.8 -0.5M650.3 1178.2l0.5 0.7M654.1 1173.4l-1 -0.5M641.5 1178.8l-0.5 -0.3M667.7 1187.7l0.8 0.8M652.6 1202.2l0 1M655.4 1178.3l-1.3 1M658.1 1173.5l-0.2 -0.1M656.5 1185.6l-0.7 0.5M671.9 1190.3l0.2 1.3M633.5 1175.9l-0.7 -0.6M658.6 1197.5l1.1 -0.3M649.3 1191.9l-0.5 0.1M650.3 1188.6l0.8 -0.1M650.4 1192.9l0.8 0M652.9 1167.6l-1.2 -1.1M647 1174.1l-0 0.7M649.4 1174.4l0.9 -1.2M661.4 1174.9l1 -1.2M657 1181.1l1.3 0.5M646.6 1194.6l-0.8 -0.4M642.2 1161l0.3 1.1M658.7 1201.3l-1.2 1.2M663 1194.2l-0 -0.1M667.4 1175.6l1.5 -1.1M656.8 1162.6l1.1 -0.6M660.8 1176.9l0 1.1M652.4 1192.1l-0.5 -1.1M650.7 1192.5l-1 -1.5M645.4 1186.3l-0.8 -0.3M652.6 1175.6l-1.5 -0.8M670.9 1178.7l-1.5 -1.5M669.3 1189.4l1.5 -1M645 1204.3l1.2 -0.1M646 1187l-0.9 0.7M642 1204.7l1.1 -0.6M641.7 1172.1l-0.9 -0.8M642.2 1176.3l-1.3 0.8M650.2 1184.6l0.4 -0.7M662.4 1145.1l0.2 1.3M655.9 1199.7l1.2 -0.7M647.2 1188.4l-0.8 1.4M639.1 1193l0.5 1.3M642.8 1178l-1.4 -0.3M653.3 1187.4l-0.4 0.9M652.8 1190.1l1.3 -1.2M656.3 1191.5l0.5 -0.9M649.7 1189.1l-0.6 1.2M652.5 1177.6l-0.4 -0.8M648.2 1175.6l-1 -0.8M641.7 1172.6l1.1 0.8M639.1 1177.9l-0.3 0.1M637.7 1173.8l-0.2 1.4M658.3 1181.8l-0.1 0.2M661.4 1181.2l-0.9 -1.5M645.3 1175.5l-0.9 1.3M646.1 1174.7l1.1 -1M661.5 1187.4l-0.9 -1.5M643.8 1187.4l0.3 1.1M649.4 1194.4l1.2 1.4M656.9 1188.1l1.3 0.4M664.8 1154.3l-0.1 -0.3M641.5 1187.4l1.3 -1.4M633.9 1176.4l-1.2 -0.2M646.8 1171.5l1.5 -0M651.8 1196l0.5 -0.8M663.2 1203.9l1.4 -1M668.6 1204.8l0.7 -1.6M655.6 1213.6l1 -0.8M671.8 1211.3l-0.3 0.5M662 1229.4l0.6 0.9M668.3 1218.3l-0.1 -0.2M656.6 1206.9l0.8 1.2M669 1222.3l-0.9 -0M655.7 1228.1l-1.4 0.5M668.2 1225.6l-0.2 -0.1M657.7 1202.7l-0.7 -0.5M653.9 1208.7l0.6 0.7M655.5 1204.7l1.1 -1.6M654.7 1212.7l1.3 -0.7M649.3 1223.9l-1 0.4M679.4 1213.2l-0.5 -0.6M656.9 1209.1l-0.6 -0.8M682.5 1215.3l1.2 0.4M686.1 1214.9l-1 1.1M651.5 1202.5l0.8 -0.4M655.8 1209.4l-0.6 -0.4M664.2 1219.4l0.5 0.3M661.2 1216.4l-0.1 1.1M674.3 1211.3l1.3 0.1M667.7 1219.6l0.4 -0.5M679.2 1208.4l-0.1 -0.3M652.1 1198.7l-1.1 -0M668.2 1198.2l0.3 0.1M672.9 1207.3l1.1 -0.3M668.8 1212l-0.7 0.3M662.5 1210l1 -1.3M654 1205.7l-1.3 -1.3M654.9 1216.7l0.8 0.5M668.3 1212.5l-0.8 0.2M652.6 1216.4l1.5 -1M667.4 1208.8l-0.5 -0.4M654.2 1229.7l-1.5 1.2M663.6 1224l-0.8 0.6M648.5 1213.5l-0.9 -1.3M662.7 1204.9l-0.7 -0.8M654.5 1210.1l-0.9 1M659.7 1204.6l1 -1.1M673.9 1188.1l-1.4 -1M679.9 1220.2l1.5 1.1M653.4 1216.3l-0.1 -1M658.1 1211.3l-1.5 -0.1M682.9 1201.3l1.5 -0.9M651.2 1210.7l1 0.4M654 1219.6l-0.1 1.6M676 1208.8l-0.9 -0.2M665.6 1212.4l-0.4 -1.4M644.8 1217.5l-1.3 0.8M661.3 1227.4l-1.1 0.2M668.3 1200.1l-0.4 -1.3M667.6 1199.9l-1.2 -1.5M645.5 1206.5l-1.1 -0.1M670.5 1208.5l-0 1.2M666.2 1213.6l-1.2 -1.5M668.8 1227.7l-0.2 -0.5M660.3 1205.2l1.3 0.9M685.8 1226.3l-1.6 1.5M660.5 1214.7l-0.3 -1.5M663.6 1210.4l1.1 -1.2M663.5 1203.6l-1.6 1M653.3 1208.6l-0.4 0.2M652.5 1214.5l0.9 -0.3M683 1209.9l0.9 0.4M659.6 1209.1l-0.9 -1.2M665.8 1217.7l0.2 -1.3M657.9 1216.5l0.1 -1.5M652.6 1211.8l-0.6 0.9M660.9 1210.1l-1.1 1.2M661.4 1205.7l0.6 0.3M658.2 1199l0 -1.1M670.8 1203.8l1.5 0.7M653.2 1203.4l1.4 1.2M652.2 1197.7l0.3 -1.3M668.6 1212.3l0.9 0.9M669.7 1212.6l-0.4 -1M671.3 1195.8l0.8 1.2M671.4 1216.7l-0.7 -1.5M667.7 1204.1l-0 0.9M655.7 1217.3l1.6 -1.1M673.3 1217.9l1.3 0.2M657.9 1217.5l-1.2 0.7M664.3 1209.7l-0.5 -0.9M662.4 1211.4l-0.9 1M651 1206.4l-0.7 1.2M656.2 1214.5l-0.8 1.2M655.4 1205.5l0.2 1.3M667.5 1202.4l0.2 1.2M670.6 1208.1l0.5 0M659.9 1225.3l-1.2 0.8M666.3 1208.8l1.4 -0.9M652.1 1217.8l-1.2 -1.3M668.8 1193.1l0.6 0.9M640.8 1202.2l1.2 -0.5M656.7 1207.1l0.4 -0.3M659.5 1219.4l-0.8 1.2M673.7 1210.7l-1.4 -0.8M657.5 1201.1l-1.1 0.1M673.5 1208.9l-1.1 -1.3M672.9 1214l-0.1 -0.9M671.3 1220.2l1.4 -1M676 1193.7l1.2 -1.1M658.8 1218.5l0.7 -0.8M668.7 1210.5l-0.1 0.1M638.1 1212.7l0.6 -0.3M646.9 1201.8l1 0.1M669.4 1219l0.9 -0.6M660.5 1226.6l1.2 -0.6M670.8 1213.7l1.5 -1.3M660.7 1195.5l1.1 0.5M668.1 1204.4l-1 -1.4M667.3 1199.5l-1.2 -0.8M666.5 1207.5l-0 -1.1M675.8 1210.4l-1.2 0.5M652.9 1207.9l-1.1 -1.3M646.5 1210.9l1.6 0.9M638.2 1215.6l1.3 -0.5M678.6 1218.5l-0.7 -0.8M653.1 1210.1l-0.1 -0.7M664.2 1210.5l1 -1M642.5 1216.9l-0.5 -1.4M677.7 1209.7l-0.2 1.2M677.7 1201.9l-0.3 -1.2M645.8 1215.3l-1.3 1.2M670.2 1215.3l-0.9 -0.6M654.2 1223.6l0.8 1M666.9 1214.3l-1.1 -0.1M650.8 1211.7l0.3 -0.5M656.5 1203.6l0.2 -1M659.2 1212.4l-1.2 0.2M663.9 1214.1l0.8 0.2M661 1214.3l-0.4 -1.5M646.1 1204.5l-0 -0.8M662.2 1208.2l1 -0.5M646.2 1204l-0.9 0M646.1 1201.9l-1.2 0.3M671.9 1217.7l0.9 1.4M647 1206.3l0.7 -0.7M656.1 1212.3l0.1 0.7M669 1213.1l-0.8 0.6M663.1 1213.9l-0.7 -1.4M656.5 1213.9l0.8 -0.8M666.4 1208.9l-0.6 -1.3M657.4 1207.6l-0.2 -0.7M654.7 1211.6l-1.6 -0.4M663.5 1206.1l1.2 -0.1M662.6 1207.8l-1 -0.3M679.8 1204.2l-0.8 0M649.8 1207.4l1.5 1.2M656.8 1218.1l1 -1M647.6 1214.6l1.3 -0.8M645.6 1221.9l0.4 -0M672.9 1201l-0.7 -0.6M656.5 1210l-1.5 0.2M661.4 1222.3l0.9 -1.5M665.9 1217.6l0.2 -0.7M674.5 1215l1.2 0.1M649.3 1216.9l-0.5 -0.8M662.4 1192.3l-1.4 0.6M660.8 1205.3l-0.7 0.6M642.4 1202.7l-1.3 -0.5M659.6 1214.8l0.8 -1M671.6 1207.4l-1 0.7M682.2 1237l-0.3 1.3M676.9 1239.7l-1.5 -0.2M677.9 1219.3l-0.5 -0.7M670.5 1237.3l0.5 0.7M688.2 1229.5l-0.5 1.4M662.7 1213.7l0.2 -0.4M672.8 1212.6l1.3 -0.4M677.6 1229.3l-1.2 1M669.9 1219.6l1.3 -1M679 1211.6l1.2 0.5M689.8 1218.7l1.1 0M687.5 1229l-0.1 -0.4M672.8 1232.6l-0.9 -0.2M675.5 1229l0 0.7M691.6 1230.2l-0.6 1.3M678.6 1245.4l0.9 -0.3M680.1 1233.6l-1.2 -1.1M687.9 1219.6l-0.3 0.3M667.6 1215.3l0.4 -0.9M691 1229.1l0.2 1.4M678.7 1221.8l-1.4 0.4M685.1 1236.4l0.3 0.6M682 1235.9l-0.5 -0.2M699.3 1220l0.1 -1.6M667.8 1240.4l0.4 -0.5M679.7 1225.3l0.6 0.2M688.1 1220.1l0.1 0.4M668.4 1236.6l-0.5 0.8M674.3 1226.4l1.4 0.6M661.8 1232.3l-1.1 -0M675.1 1239l0 -1.2M680.9 1219.3l1.2 -1.4M669.2 1216.9l-1 1M678.3 1233.8l0.2 1M688.4 1239.7l-0.5 -1.2M686 1221.4l0.2 -1.4M686.7 1223.3l0.8 -1.3M677.5 1231.7l1 0.9M691.5 1229.3l-0.9 0.4M673.4 1241.8l-0.8 0.6M695.8 1232.4l-0.9 0.9M697.1 1238.4l-0.4 -1.3M671.4 1227.7l-0.1 -0.4M691.6 1238.5l-0.3 -0.9M678.3 1233.2l-1.2 1.3M695.5 1221.8l0.5 0.8M665.4 1232.8l-0.1 0.3M678.5 1216.3l1.4 -1.6M680.7 1224.6l-1.4 -1.4M672.1 1221.4l-0.9 -0.8M678.6 1223.5l-0.5 -1M685.1 1212.9l-0.5 -0.5M675.3 1237.7l-0.3 -1.4M681.3 1212.4l-1.6 -0.3M676.5 1236.9l-0.5 0.5M666.5 1219.5l-0.4 1M670 1231.6l-0.9 0.4M690.3 1247.7l-0.4 -0.6M679.5 1222.6l0.9 -0.6M671.1 1212.8l-0.3 -1.5M679.1 1232.8l-1 -0M664.4 1221.4l-0.3 0.7M672.9 1237.9l0.8 0.5M653.4 1243.4l-1.2 -1.1M673.6 1229.7l-1.1 1.3M669.1 1229.8l1 -0.5M558.1 1212.2l-0.1 -1.2M583.9 1215.6l1.4 0.8M580.1 1219.9l-0.3 1.5M571.4 1217.4l-0.2 1M569.2 1217.5l-0.9 -1.6M571.8 1221.3l1.1 0.8M565.1 1214.8l-1.3 -0.7M577.4 1214.1l1.3 0.3M578.5 1219.6l-0.2 1.5M574.9 1216.9l0.8 1.4M567.1 1208l-1.1 0.3M577.9 1219.8l-0.9 -0.9M593 1217.7l0.5 -1.1M575.2 1221.6l0.9 0.9M578.4 1211.6l-1.3 0.2M569.1 1219.4l0 -0.4M582 1220.4l0.7 1.3M563.8 1214.8l-1.4 -0.7M559.7 1222.4l1.5 -1.3M561.9 1219.9l-0.1 -1.2M565.2 1211.6l1.4 0.1M571.8 1216.1l1.1 -0.9M561.5 1218.4l-1.1 0M579.7 1220.3l1.1 -0.7M573.5 1210.2l-0.3 1M554.5 1222l0.9 -0.2M559.7 1219.3l-0 0.9M566.8 1221l-0.2 0.9M580.8 1223.5l1 -0.3M556.9 1218.6l-0.3 -1.4M595.2 1216.8l0.2 -0.7M563 1214.2l1.4 0.9M561 1221.7l-0.1 -0.5M564.4 1220.4l-1.5 -1.1M565.2 1219l0.3 -0.9M592.3 1209.3l0 1M576.6 1213.3l0.2 0.3M573.4 1216.7l1.1 -0.5M547.3 1223.3l0.8 0.7M559.7 1221.2l1 1M569.5 1213.9l-1.5 0.8M569.4 1216.2l0.1 -0.7M587.8 1212.3l0.9 0.8M587.5 1208.9l1 -0.9M575.9 1219.3l-0.4 1.6M558 1214.6l-1 -0.7M553.2 1213.5l-1.4 -0.5M563 1218.8l-0.2 0.5M600.5 1217.9l1.1 0.5M582.2 1212.7l1.2 -1M579.7 1218.3l-1.2 -0.4M570.2 1215.2l0.4 -1M549.8 1218.6l0.4 1.6M586.2 1214.2l0.9 -1.4M572.9 1221.7l0.4 1.4M565.9 1219.7l-0.4 0M562.7 1216.4l-1.5 1.4M545.4 1211l-0.5 -0.3M576.9 1209l0 0.9M571 1215.1l1.4 -0.3M569.6 1217.2l1.2 -0.1M601 1218.5l-0.1 1M576.6 1210.4l0.2 -1.2M587.2 1113.5l-0.2 0.7M605.8 1122.2l0.9 -0.4M601.7 1109.7l0 1.3M604.6 1121.1l-0.5 0.7M589.4 1105.8l-0.8 0.5M601 1109.4l0.2 0.8M606.6 1121l-0.1 -0.1M603.3 1116.1l1.3 -0.7M605.7 1116.1l0.4 -0M611.5 1123.6l0.1 0.4M585.9 1123.8l0.3 -0.8M611 1123l1.5 1M598 1117.2l1.2 -0.8M614.5 1123.1l0.8 -0.6M602.9 1107.5l-1.1 -1.5M590 1116.7l-0.2 1.6M603.2 1109.3l0.7 -1M614.8 1113.9l-1.2 1.1M613.7 1123.1l0.9 -0.1M611 1118.2l1.3 1.3M617.6 1109.6l-0.2 0.4M592.8 1123l1.6 0.9M607.6 1121.9l-1.1 -0.3M589.7 1122.3l-0.3 0.4M588.3 1124.4l0.1 -0.3M598.3 1118.3l-0.4 -0.1M587.8 1098.1l-1.6 -0.8M611 1117.3l-0.6 0M596.6 1117.2l-0.2 0.4M593.5 1113.9l-1.1 -1.1M585.8 1107.9l1.5 -1.5M582.1 1107.9l-0.4 -1.5M617 1112.6l0.8 0M603 1122.4l-0.7 1.1M597 1123.2l0.1 -0.3M595.5 1111.7l1.2 -0.2M604.1 1132.3l-1 0.2M609.8 1108.3l0.8 -1.3M591 1110.4l-1.6 0.9M616.7 1117.4l-0.8 -0M596.3 1111.1l-1.4 -1.5M601.1 1125.4l-0.9 0.7M621.2 1127.5l-0.2 -0.5M600.6 1124l1.5 -0.8M605.3 1118.8l-0.6 -0.1M601.9 1103.8l-1.6 -1.1M596 1116.2l-1.3 1.4M619.7 1130l0.7 1.1M571.9 1116.6l-1.5 1.1M595.2 1131.4l-1.1 -1.5M601.8 1122l0.8 -0.1M599.9 1113.3l1.5 0.1M596.6 1117.6l1 0.5M604 1100.8l-0.2 1.1M596.4 1108.9l-0.5 -0.2M598.2 1119.1l-0.3 -0.9M610.6 1102.2l-1.2 -0M608 1127.9l0.3 1.5M592.5 1108.7l1.6 -1.2M608.5 1124.8l-0.7 1.4M616.6 1108.7l-0.2 -1.6M606.9 1113.2l-1.5 1M600.9 1112.2l-0.7 1.4M589.1 1115.8l-0.8 -1.6M610 1123.7l-1.5 1.2M605 1119l-1.3 -1.6M669 1105.6l1.2 -0.9M665.9 1115.3l-1.2 -0.3M660.3 1106.4l0.1 1M665.6 1124.4l0.5 -0.9M678.9 1100.3l-1.5 -1.4M658.8 1103.8l-0.4 -0.2M662.6 1111.8l-0.6 0M654.6 1107l-0.2 -1.5M681.9 1098l0.5 -0.9M670.4 1104l-0.7 -0.7M664.1 1101.5l-1.4 1.1M654.2 1097.4l1.1 -0.1M679 1086.8l0.9 1.6M682.9 1111.6l0.6 -0.1M676.7 1113.7l-0.8 -0.8M675.8 1099.5l-0.2 0.6M673.7 1109.4l-0.6 -0.7M666.4 1103.2l-0.1 -0.5M674.5 1110.2l-1.5 1.1M647.7 1108.7l0.9 0.4M664.8 1099.6l-0 1.5M683.1 1090.3l-1.1 1.1M671.1 1117.1l0.6 0.1M671.7 1088l-0.3 0.3M655.2 1102.5l0.3 0.9M681.9 1107.9l0.9 -1.3M668 1100.5l-0.9 -0.6M670.1 1099.2l0.6 -0.1M675.9 1110.7l-0.9 -0.7M659.3 1114.7l1 -0.5M670.8 1094.8l0.1 0.2M685.6 1110.4l0 -1.4M663.3 1099.8l0.6 1.5M660.6 1114.8l1 1.4M656.2 1133l-0.3 -0.6M656.2 1104.8l0.3 0.4M669.8 1097.2l1.1 -0.4M680.8 1102.5l0.9 1.6M679.6 1096l0.5 0.5M687.4 1105.7l1.2 1.4M662.8 1104.8l-1 -1.3M676.9 1113.6l0.4 -0.5M676 1105.1l0.9 0.6M652.4 1106.1l0.9 1.3M680.9 1109.3l0.4 0.5M665.6 1102.4l0.2 -0.3M682.6 1110.9l0.3 1.4M646.9 1111.7l1.4 -0.4M663.2 1106.2l-1.1 -1M510.5 1172.9l1.5 2.2M684 1214.3l1.9 1.1M505 1079.9l1.7 1.7M696.3 1245.4l-0.3 0.6M513 1137.2l0.2 -1M679.2 1100.9l-0.3 -1.1M570.5 1083.9l1.5 -1.1M682.6 1142.7l-1.2 -0.2M608.9 1118.1l2.2 0.8M638.7 1224.8l-1.2 0.4M514.9 1097.7l-1.4 1M519.9 1046.4l-0.3 -1.3M660.9 1187.5l-1.1 -0M612.2 1048.4l-1.5 -1.5M643.1 1077.2l1 1.8M564 1230.4l0.1 1.1M619.4 1107.2l-0.5 1.9M486.2 1204.4l1.5 1.3M591.9 1064.9l-1.7 0M696.2 1229.1l1.2 2.1M547.5 1070.4l0.6 2.1M596.2 1208.9l0.2 0.5M613.2 1080.8l-0.8 1.8M688.3 1163.6l-0.2 0.7M614.1 1105.2l-0.6 0.1M554.9 1110.3l1.8 2.3M644.8 1086.5l0.1 -1M599.1 1242.4l0.1 -1.1M694.9 1165.9l-0.2 -2.2M609.2 1088.6l0.4 0.3M634.7 1070.5l-2 -1.4M549.1 1243.3l-0.8 1.4M613.1 1140.6l1.6 -0.1M652.3 1218l2 2M675.4 1191.2l-1.6 -0.6M688.2 1223.8l0.7 0.8M640.1 1179.6l1.1 -2.2M554.9 1044.5l-1.4 1.3M654.2 1079.1l-2.2 0.7M620.5 1091.3l-2 1.7M526.5 1121.2l1.3 0.6M547 1104.2l2 -1.2M629.2 1201.8l2 2.3M488 1203.9l0.4 -1.3M645.6 1112.8l0.9 -0.2M492.8 1179l-0.5 1.9M695 1133.6l1.3 0.9M524.5 1107.6l0.6 -2.1M643.6 1239.1l-1.8 0.1M673.1 1116.7l-0.1 0.4M604.8 1213.6l1.8 1.1M626.7 1196.8l0.7 -1.9M622.9 1079l0.2 -1M651.9 1150.4l1.9 -1.3M625.8 1167.4l-1.7 0.9M571.6 1218.7l-0.4 0.6M514.5 1050l-0.6 -2M524.4 1249.9l-0.7 -1.5M571.4 1251.8l-1.7 1.5M613.9 1177.7l1.8 -0.4M675.1 1182.1l-2 0.3M616.6 1143.2l2.1 0.1M620.4 1191.3l2.2 1.1M504.7 1041.4l1.6 1.4M626.6 1057l1.9 2.1M509.8 1170l1.3 0M541.6 1208.1l-1.1 -0.4M684 1150.9l0.7 -2.2M629.8 1099.7l0.9 -1.3M649.1 1089l-0.4 0.8M690.5 1253.2l1.7 -2.3M485.5 1062.2l-2.3 -2.4M503.3 1051.3l1.7 2M500 1168.1l1.6 -1.6M516.1 1250l-2.1 0.5M511.2 1043.6l0 1.3M518.7 1128l0.1 -0.4M598.7 1159.1l1.5 -1.6M662.3 1069.3l-0.5 1.6M496.5 1101.1l1.5 1.9M611.8 1205l-1.1 -1.3M668.4 1163.8l-2 -1.9M645.4 1122.1l0.4 -0.4M646 1221l0.7 -1M616.4 1071.6l1.7 -1.1M694.2 1053l1 -1.4M635.8 1166.5l-1.9 -0.3M687.7 1228.8l0.2 -0.8M642 1205.7l2.3 -2.1M662.3 1222.6l1.2 -0.1M529 1140.5l-1.8 -1M685.9 1240.4l1.4 0.6M598.1 1061.1l1.5 -0.8M485.7 1207.5l-2.4 1.2M489.9 1175.9l-0.1 -1M570 1236.8l-1.7 1.6M644.6 1111l-0.5 -0.6M518.5 1121.1l1.9 -1.9M610.7 1146.8l1.6 -0.6M691.2 1146.9l-0.8 2.3M573.7 1086.6l0.9 0.9M496.4 1226.2l1.7 0.2M544.7 1067.2l-0.3 -0.5M561.3 1231.5l-0.2 0.1M594.9 1087.2l-2.2 2.3M534.2 1116.6l2.2 1M682.3 1081.4l0.7 0.7M674.8 1101.1l0 -1.4M637.6 1115.8l-1.7 0.3M595.4 1097.6l1.5 -1.9M646.7 1159.7l0 -1.5M578.1 1044.9l1.4 -1.1M492.1 1178.3l0.7 -0.1M637.7 1194.4l-0.1 0M533.3 1083.5l0.6 -1.3M686.4 1073.4l-2 -1.1M687.5 1166.8l0.3 -0.9M509.8 1250.2l-1.9 1.3M621.8 1193.5l-2.3 0.2M645 1156.2l-1.4 1.3M672.8 1143.4l-0.5 -2.1M679 1064.6l-1.1 1.1M544.1 1131.4l-1.5 0.3M496.6 1244.2l-2.2 -2.3M507.4 1234.5l-0.7 1.3M546.5 1116.6l-0.5 -1.9M693.1 1200.4l1.4 -1.9M640 1046.8l-0.7 -0.5M658.7 1247.4l0.3 -1.5M642.8 1117.6l-0.9 1.5M673 1116.9l-1.7 1.7M625.8 1161.5l1.2 0.9M665.6 1091l1.1 0M666.4 1163.2l1 0.9M583.5 1115.1l0.6 0.5M564.9 1114.6l2.3 2M506.1 1143.7l1.2 1.8M604.3 1094.2l-2 0.5M510.4 1113.4l0.2 1.7M526.8 1047.7l-0.4 -1.4M521.6 1043.8l0.1 -2.1M543.9 1106.3l0.3 -0.1M699.4 1102.6l-1.1 0.2M579.3 1219.1l-2.3 -1.9M670.6 1230.8l1.4 1.7M670.4 1229.5l0.6 -0.8M533.6 1066.1l0.3 1.6M499 1242.6l-1.6 -0.3M691.6 1171.8l-0.1 0.9M603 1128.1l-1.9 -0.5M613.8 1158.5l-1.7 0.1M637.5 1166.5l-1.1 -1M680.7 1069.2l0.2 -2M614.5 1082l1.7 0.9M665.9 1061.5l1.2 0.1M551.9 1064.1l-0.1 -1.6M675.3 1133.5l-1.3 -1.6M515.2 1067.6l-1.6 1.2M626.4 1209.1l-0.5 -2.3M605.1 1169.6l-0.4 2.1M632.7 1206.5l2.3 0.6" stroke="#2ad048" stroke-width="1.2" opacity="0.66"/>
<path d="M588 1101.6l0 -1.4M582.3 1100.1l-1.6 -1.6M594 1095.9l0.9 0.9M580.5 1101.9l-1.1 0.4M577.5 1087.8l-0.9 -1.2M580.1 1099.3l-1.1 1M578.1 1103.2l-0.3 -0.5M588.4 1099.6l-0.4 -1.1M571.1 1106l0.2 0.3M601.6 1144.5l-0.7 0.3M602.5 1123l-0.5 -1.5M616.9 1139.3l0 0.1M614.9 1121.4l1.1 -0.7M618.9 1132.2l0.9 0.7M583.6 1129l-1 -0.3M620.6 1128.4l1.2 0.5M623.2 1140.8l-0.3 0M635 1134.4l-1 -1.3M657 1136.5l-1 0.2M606.3 1135.5l-0.1 0.2M612.5 1132.6l0.3 0.8M617.5 1127.8l0 1M635.3 1117.6l-0.4 -1.5M578.8 1130l-0 -0.7M628.4 1124.6l-0.5 1.1M614.1 1147.4l-0.6 -1.3M630.8 1117.3l-0.6 -0.6M623.8 1142.5l0.7 -0.6M591.3 1143l-1.1 1.3M628.8 1134.5l-1.2 -1.1M588.8 1129.2l-0.1 0.4M628.1 1127.4l1.1 1.3M597.4 1133.6l-1.6 0.4M606.8 1137.8l-0.3 0.4M634.4 1126.6l0.8 0.3M641.9 1126.7l1.3 1.4M600.1 1131.1l-1.1 -1M623.6 1135.3l-0.2 1.4M600.8 1139.1l-0.8 -1.6M627.5 1118.7l0.8 0.3M643 1138.9l-0.4 1.5M618.9 1142.2l-0.4 -0.4M651.3 1123.6l-0.7 -0.9M626.6 1147.2l-1.5 0.1M607.1 1147.6l-0.7 -0.1M650.8 1163.3l-0.6 1.3M642.6 1160.5l-1 -0.4M634.4 1151.6l0.6 0.5M637.6 1152.5l0.2 0.4M628.7 1130l-0.5 0.6M618.1 1164.7l0.4 -0.3M646.9 1140.1l-0.3 1.3M623.2 1154.1l-0.3 -1.2M633.8 1139.7l0.9 -0.3M638.1 1132.8l-1.2 -1.2M636 1142.2l0.6 1M611.2 1157.1l-0.8 1.6M611.7 1147.2l1.1 -1.4M652.6 1139.6l1 -1.3M644.4 1137l-0.5 0.3M607.2 1161.5l0.1 -0.9M637.1 1139.7l-0.3 0.6M623.7 1156.6l1.1 -0.8M642.6 1154.4l1.1 -0.9M640 1154.6l-0.8 -0.1M643.1 1151.3l-1.5 0.4M626.2 1159.5l1.5 -0.5M607.5 1134l-0.6 -0.9M637 1151.7l1.5 -1.1M617.8 1146.7l-0.2 1.2M633.7 1152l0.5 -0.4M636.2 1144.1l0.3 -0.5M643 1171.8l-0.9 -1.1M643.9 1163.8l0.2 0.8M655 1211.9l-1.2 -1.5M641.3 1208l-0.1 -0.1M639.8 1193.4l-1.2 -0.4M652.4 1181.9l0.5 0.4M649.2 1178.7l1.4 -0.7M637.3 1202.2l1.1 -1.5M632.9 1171.2l-1 -0.6M667.5 1167.9l1.4 -0.4M646.1 1192.3l0.5 1.5M658.3 1210l1.3 -1.6M654.6 1183.7l0.4 1.1M637.3 1183.5l0.8 1.4M649.9 1174.4l1.4 -1.2M654.7 1186.9l-0.3 -1.4M638.1 1179.5l0.8 1.2M652.9 1182.5l-0.8 -1.6M663.9 1188l-0.2 -0.3M649.8 1153.2l-0.5 1.3M653.5 1145.1l-0.9 -0.3M656.7 1181.1l-1.6 1M647.9 1151l-0.1 1.4M653.6 1195.4l-1 0.3M657.6 1191.1l1.5 0.7M635.7 1185.1l-0.2 0.1M637.9 1195.9l1.6 0.6M650.1 1190.3l0.8 1.6M657.8 1169.4l-0.6 -1.4M661.3 1174.7l-1 1.2M661.8 1191.6l1 -1.5M659.4 1203.6l0.3 0.2M658.3 1205.8l-0.6 1.5M656.5 1219.4l1.5 -1.3M657 1214.6l-0.5 -0.9M697.2 1223.5l-0.4 -1.6M651.2 1214.3l-0.5 -0.8M662.3 1208.2l-0.8 0.7M672.9 1213.9l1.6 1.3M652.7 1220.7l-0.3 0.8M679.2 1213.9l0.3 -0.5M655.9 1214.8l-1.3 1.3M656.3 1221.9l0.2 -0.7M670.3 1225.8l1.1 0.9M664.2 1221.6l-0.4 0.6M662.9 1207.3l-1 0.5M645 1204.6l1.1 -1M681.5 1209.5l-1.5 -0.6M665.2 1213l-0.9 -0M663.4 1209.5l0.8 -1.4M672.2 1216.5l1.3 0M671.1 1198.2l1.6 -0.8M653.6 1203.6l0.7 0.3M676.6 1213.2l1 -1M649 1202.1l-1.2 -0.7M672.3 1197.6l0.8 0.7M663.1 1199.5l1.4 1M670.6 1203.8l0.8 0.7M662.2 1218.2l-0.7 -1.6M662.3 1219.4l-0.9 -1.6M660 1234.3l-0.7 -1.5M667.2 1206.3l0.6 -0.2M674 1212.9l0.7 1M673.5 1238.6l-0.9 -0.5M676.1 1218.1l0.1 1.4M689.2 1234.5l0.8 0.5M672.8 1219.9l1.4 0.8M673.5 1232.4l1.5 0.3M674.8 1230.7l-0 0.4M661.4 1218.6l-1.2 0.5M684.5 1224.9l1.2 1.4M569.8 1213.7l0.9 1.2M565.7 1220.1l-1.3 -0.2M555.6 1217.5l-1.6 -0M555.9 1214.6l-0.4 0.1M570.4 1215.7l1.5 1.2M560.5 1217.9l0.2 -0.1M574.9 1216.2l-1.2 -1.2M569.7 1211l-0.5 1.5M572.2 1216.6l0.4 -1.1M568 1218.5l1.3 -0.2M579.2 1215.5l1.2 -0.8M593.8 1117.9l0.5 0.6M607.8 1124.1l0.1 -1.4M594.9 1127.1l-1.4 -0.1M598.1 1117l1.6 0.2M591.7 1111.6l-0.2 -0.3M612.2 1108.6l1.5 1.5M601.7 1121.7l-1 0.6M605.9 1115.1l-0.9 0.5M668.9 1086.1l0.5 1.5M664.8 1092.6l-1.1 1.4M667.3 1088.3l-1.3 -0.4M653 1095.5l-1.2 1.3M658.1 1102.2l1.4 -0.4M665.9 1110.7l0.2 0" stroke="#30b8d8" stroke-width="1.3" opacity="0.85"/>
</g>
<path d="M655.7 1078.4l0.7 0.8M656.1 1082l-0.6 1M653.7 1082l1.1 -0.3M564.5 1109.8l-0.8 -0.8M621.7 1127.2l-0.6 -0.9M623.1 1126.2l-0.6 -0.3M688.6 1131.7l1.2 0.6M691.7 1131.6l1.1 0.3M610.2 1205.4l-0.7 0.9M610 1206l0.4 0.5M613.3 1207.1l-1.1 0.7M663.5 1181l0.6 0M666.3 1180.8l-0.5 -1.2M666.2 1178l-0.1 -1M509.6 1090.6l0.3 0.4M506.4 1092.1l0.2 -0.2M509.7 1092.1l0.6 0.7M654.4 1079.3l0.3 -1M653.8 1081.6l0.3 0.5M655.4 1081.8l-0.8 0.2M594.2 1069.7l0 -0.5M595.9 1069.3l-0.1 -0.8M595.6 1069.5l0.6 0.4M538.9 1205.3l0.7 0.3M541.8 1207.9l1.2 0M541.2 1207.5l-0.6 0M646.7 1195.1l-0.4 0M647.5 1196.9l0.5 -0.2M484.8 1240.4l0.5 -0.6M485.2 1239.7l0.2 -0.8M485.1 1236l0.9 -0M488 1157.7l-1 0.1M486.1 1159.5l1 0.1M538.4 1230.1l1.2 -0.1M537.3 1231.1l0.2 0.5M576.5 1083.4l-0.4 -0.3M579 1082.9l0.6 1M578.1 1079.7l1 1.2M575.2 1076.8l0.6 -0.3M610.1 1126.2l1.2 -1.1M608.9 1122.9l0.7 -1.1M609.7 1122l-0.4 0.4M610 1129.7l-0.6 -0.4M611.2 1130l-0.4 -0.3M633.3 1124l0.1 0.9M676.8 1190.1l0.9 -0.2M675.3 1189.2l0.5 0.6M647.9 1201l0.4 0.8M667.4 1156.1l-0.6 -1.2M547.4 1121.4l0.5 0.8M595.9 1170.3l0.4 0.6M594.7 1168.6l-1.2 -1M593.2 1166.8l1 -1.1M595 1237.2l-1 -1.1M595.7 1235.8l-0.1 -0.2M596 1234.3l-0.8 0.1M502.8 1080.2l-0.6 -0M503.6 1077l0.7 0.1M683.4 1041.7l-1.1 1.2M667.1 1223.9l-1.3 0.7M664.6 1223.1l0.8 0.5M501.7 1106.5l-1.2 -1.2M662.6 1235.2l-1.2 0.2M661.4 1234.2l0.8 -0.5M613.5 1177.8l-0.1 -0.8M532.5 1192.8l0 1M533.8 1195.7l1.3 0.1M664.6 1166.1l-1.1 0.9M663.8 1168.4l-0.7 0.5M665.2 1165.5l-0.6 0.7M549.8 1052.2l1.1 -0.8M551.1 1053.2l0.5 -0.5M550.4 1051.8l-1.3 0.3M556.6 1042l-0.9 -0.7M555.8 1044.3l0.3 -0.1M485 1199.1l1 0.1M651.2 1181l0.1 0.3M650.6 1182.6l-0.6 1M632.2 1145.4l-0 0.7M632.7 1142.2l-1.2 0.5M597.3 1157.8l0.9 -0.5M488.6 1054.9l-1 -0.9M487 1054.4l-0.6 -0.4M489.7 1051.7l-0.6 0.4M557.7 1050.9l-0.9 0.3M555.6 1048.5l0.4 -0.7M684.6 1116.7l-0 0M637.2 1161.5l-0.4 1M637 1160.6l0.8 0.7M573.7 1054.7l0.3 -1.1M573.7 1052.7l0.4 -0.2M576.3 1053.1l-0 -1.1M607.8 1043.6l-0.6 0.4M633.7 1156.7l0.1 -0.5M603.4 1080.8l-0.7 0.2M603.2 1076.7l1.1 0.2M604.1 1078.7l-0.1 1.1M505.9 1045.8l-0.4 -1M503.4 1045.4l1.1 1.2M506.7 1043.9l0.9 0.7M683.2 1243.1l1.3 -0.6M685 1247.6l0.4 1.1M684.7 1246.8l0.4 -0.5M644.8 1120.2l-0 -1.2M636.3 1098.3l0.5 0M633 1096.4l0.5 0.6M635.8 1096.8l-0.1 0.7M603.6 1077.6l0.7 1M603.1 1076.8l0.3 0.6M510 1071.3l1.1 -0M511.6 1067.8l-0.9 1.3M510.3 1068.7l-0.6 0.3M527 1123.5l-0.8 -0.9M554 1097.9l1 0.1M552.1 1099.8l0.8 0.5M626.2 1065.9l1.1 1M624.8 1066.3l0.8 0.1M664.8 1125.2l-0.7 0.2M663.6 1125.5l0.1 -1.2M665.9 1128l1.1 1M578 1085.3l-1.2 -1.2M577 1086.3l-0.4 -0M579.3 1083.9l-0.3 0.8M625.7 1197.1l-1.2 -0.2M628.5 1196.7l1.1 0.1M608 1211.4l0.4 -0.1M688.5 1182.9l0.3 -1M689.2 1181.6l1.2 -1.2M579.7 1116.3l0.7 0.2M583.6 1115.7l0.5 0M579.5 1212.8l-0.8 -0.1M581.1 1214.3l0.5 0.9M581.1 1211.9l0.1 -1M512.1 1174.9l-1.2 -0.5M511.8 1176.5l1.1 -0.2M679.6 1235.6l-0.2 -1.1M681.4 1233.1l-0.9 -0.8M679.8 1234.7l-0.8 0.5M602.1 1185.8l0.3 0.4M598.5 1185.9l0.8 -0.8M599.8 1188.7l-0.2 0.4M674.6 1220.8l0.6 0.5M670.1 1222.4l-0.2 -0.4M527.6 1086.2l-1.1 -0M533.9 1186.7l-1.3 -0.7M531.6 1188.2l1.2 -0.7M533.4 1190.2l-0.7 0.8M650.7 1239.1l0.4 -0.3M570.6 1131.9l-0.2 -1.3M595.2 1067.8l-1 1.2M593.1 1066.7l-0.7 1.2M594.7 1068.1l-0 0.1M575.2 1052.1l-0.9 0.5M574.4 1051l1.1 0.3M571.7 1054.5l-0.3 -0.6M583.3 1142.8l-0.8 0.4M580.9 1142.1l0 1M583.8 1143.6l0.8 -0.9M579.4 1220.1l-0.7 1.2M504 1246.1l0.8 0.5M555.9 1065.7l0.3 -0.4M521.1 1077.3l0.8 -0.5M667.4 1097.3l0.5 -0.2M505.7 1088.4l0.6 -0.2M505.2 1087.1l-0.8 -1.1M524 1247.7l0.8 -0.5M538 1231.1l-0.7 -1M536.2 1232.5l-0.3 0.2M690.8 1118l1 -0.3M660.9 1224.7l-0.8 0.4M494.6 1133l-1.3 0.7M492.7 1133l0.7 0.3M497.1 1137.3l0.5 -0.8M489.1 1200.7l0.1 -0.3M695.8 1056.6l-1.1 -1.1M699.1 1057.4l0.7 0.4M546.3 1248.6l0.7 -0.2M548.9 1248.3l-1.3 0.3M548.4 1248.9l-0 0.3M666.7 1099.1l0.7 -0.9M665.3 1099.3l-0.5 -0.5M556.2 1232.2l-0.9 -0.4M554.6 1230.4l0.6 0.2M553.5 1231.4l0.4 0.1M513.3 1092.2l0.8 0.1M505.7 1050.6l-0.3 0.7M504.6 1050.5l1 0.7M503.9 1050.2l0.5 -1.2M641.4 1069.9l0.7 -1.1M640.8 1071.5l-0.3 -1.2M639.2 1240.6l0.6 -0.1M639.9 1240.2l0.2 0.1M697.6 1179l-0.1 -1M697 1182.6l1 1.1M699 1182.5l-0.9 -0.4M493.5 1056.9l-0.3 0.5M496.6 1058.2l-1.2 0.8M696 1162.5l-0.9 0.1M692.6 1163.5l-1.1 1.2M692.2 1159.5l0.3 -0.9M586.6 1063.9l1.1 -0.6M587.7 1067.7l-1 -1M590.5 1068.7l-0.4 -0.1M565 1211.9l-1.2 -0.1" stroke="#d82048" stroke-width="1.5" stroke-linecap="round" opacity="0.62" fill="none" filter="url(#blR)"/>
<g fill="none" stroke="#f02850" stroke-width="1.4" opacity="0.8" stroke-dasharray="3.5 1 2.5 0.8" filter="url(#fo6)"><circle cx="661.9" cy="1209.8" r="2.9"/><circle cx="652.2" cy="1142" r="3.3"/><circle cx="646.8" cy="1170.8" r="3.3"/><circle cx="559.2" cy="1234" r="3.3"/><circle cx="487.5" cy="1165.1" r="2.7"/><circle cx="599.2" cy="1142.1" r="2.4"/><circle cx="589.3" cy="1103.3" r="2.8"/><circle cx="691.4" cy="1087.4" r="3.4"/><circle cx="514.4" cy="1253.4" r="3.2"/><circle cx="683.3" cy="1043.6" r="3.3"/><circle cx="611.4" cy="1189.6" r="3.2"/><circle cx="672.7" cy="1227.8" r="3.4"/><circle cx="511.3" cy="1043" r="2.4"/><circle cx="550" cy="1110" r="2.8"/><circle cx="515.2" cy="1214.4" r="2.4"/><circle cx="560.1" cy="1214.6" r="2.8"/><circle cx="645.4" cy="1112.8" r="3.1"/><circle cx="627.7" cy="1073.4" r="2.9"/><circle cx="543.9" cy="1219" r="2.2"/><circle cx="667.3" cy="1061.5" r="2.7"/><circle cx="567.5" cy="1076.8" r="3.1"/><circle cx="588.6" cy="1126.2" r="3"/><circle cx="529.1" cy="1249.1" r="2.3"/><circle cx="527.3" cy="1140.4" r="3.2"/><circle cx="621.9" cy="1252.6" r="2.9"/><circle cx="498.4" cy="1162.7" r="3"/><circle cx="592.6" cy="1204.1" r="2.4"/><circle cx="665.7" cy="1077.7" r="3"/><circle cx="687.8" cy="1158.7" r="2.4"/><circle cx="539.3" cy="1124.7" r="2.6"/><circle cx="542.7" cy="1051.5" r="2.5"/><circle cx="501.6" cy="1079.3" r="2.8"/></g>
<g filter="url(#fo6)">
<ellipse cx="497" cy="1228.3" rx="5.6" ry="5.1" transform="rotate(91 497 1228.3)" fill="#ff2868"/>
<circle cx="496.9" cy="1228.6" r="2.5" fill="#8030d0"/>
<ellipse cx="507.5" cy="1236.7" rx="6.2" ry="6" transform="rotate(55 507.5 1236.7)" fill="#ff2868"/>
<ellipse cx="503.3" cy="1245.2" rx="4.7" ry="4" transform="rotate(100 503.3 1245.2)" fill="#ff2868"/>
<circle cx="503.6" cy="1244.4" r="2" fill="#8030d0"/>
<ellipse cx="513.9" cy="1226.2" rx="4.5" ry="3.6" transform="rotate(128 513.9 1226.2)" fill="#ff2868"/>
<ellipse cx="537.1" cy="1247.3" rx="5.6" ry="3.6" transform="rotate(143 537.1 1247.3)" fill="#ff2868"/>
<ellipse cx="549.8" cy="1245.2" rx="4.3" ry="3.7" transform="rotate(26 549.8 1245.2)" fill="#ff2868"/>
<circle cx="550.2" cy="1244.4" r="1.8" fill="#8030d0"/>
<ellipse cx="562.4" cy="1247.3" rx="4.6" ry="3.3" transform="rotate(52 562.4 1247.3)" fill="#ff2868"/>
<circle cx="562.6" cy="1248" r="1.7" fill="#8030d0"/>
<ellipse cx="601.5" cy="1244.1" rx="5.5" ry="3.9" transform="rotate(57 601.5 1244.1)" fill="#ff2868"/>
<circle cx="602.2" cy="1243.9" r="2.1" fill="#8030d0"/>
<ellipse cx="606.8" cy="1247.3" rx="4.1" ry="2.9" transform="rotate(129 606.8 1247.3)" fill="#ff2868"/>
<ellipse cx="598.3" cy="1209.4" rx="5" ry="3.5" transform="rotate(175 598.3 1209.4)" fill="#ff2868"/>
<circle cx="597.8" cy="1210.1" r="1.8" fill="#8030d0"/>
<ellipse cx="603.6" cy="1179.9" rx="4.1" ry="4" transform="rotate(109 603.6 1179.9)" fill="#ff2868"/>
<circle cx="603" cy="1179.7" r="1.8" fill="#8030d0"/>
<ellipse cx="627.9" cy="1112.4" rx="4.6" ry="3.7" transform="rotate(77 627.9 1112.4)" fill="#ff2868"/>
<ellipse cx="673.5" cy="1114.5" rx="4.8" ry="4" transform="rotate(104 673.5 1114.5)" fill="#ff2868"/>
<circle cx="673.4" cy="1114.2" r="1.8" fill="#8030d0"/>
<ellipse cx="636.4" cy="1095.6" rx="3.3" ry="2.9" transform="rotate(44 636.4 1095.6)" fill="#ff2868"/>
<ellipse cx="686" cy="1076.6" rx="4.9" ry="3.4" transform="rotate(66 686 1076.6)" fill="#ff2868"/>
<circle cx="686.3" cy="1076.7" r="1.8" fill="#8030d0"/>
<ellipse cx="513.2" cy="1065.7" rx="4.3" ry="3.4" transform="rotate(23 513.2 1065.7)" fill="#ff2868"/>
<circle cx="512.8" cy="1066.4" r="1.6" fill="#8030d0"/>
<ellipse cx="525.5" cy="1050.3" rx="4.8" ry="3.2" transform="rotate(168 525.5 1050.3)" fill="#ff2868"/>
<circle cx="524.8" cy="1050.7" r="1.7" fill="#8030d0"/>
<ellipse cx="490.6" cy="1058.7" rx="3.5" ry="2.9" transform="rotate(24 490.6 1058.7)" fill="#ff2868"/>
<ellipse cx="499.1" cy="1098.7" rx="3.8" ry="2.6" transform="rotate(29 499.1 1098.7)" fill="#ff2868"/>
<ellipse cx="554" cy="1080.8" rx="3.3" ry="2.4" transform="rotate(134 554 1080.8)" fill="#ff2868"/>
<ellipse cx="575.9" cy="1127.2" rx="3.9" ry="3.2" transform="rotate(157 575.9 1127.2)" fill="#ff2868"/>
<ellipse cx="527.6" cy="1186.2" rx="3.7" ry="2.8" transform="rotate(142 527.6 1186.2)" fill="#ff2868"/>
<ellipse cx="649" cy="1203" rx="4.1" ry="3.1" transform="rotate(46 649 1203)" fill="#ff2868"/>
<circle cx="648.4" cy="1203.7" r="1.7" fill="#8030d0"/>
<ellipse cx="687.9" cy="1215.7" rx="4.1" ry="2.8" transform="rotate(51 687.9 1215.7)" fill="#ff2868"/>
<ellipse cx="585.7" cy="1224.1" rx="3.8" ry="2.8" transform="rotate(143 585.7 1224.1)" fill="#ff2868"/>
<ellipse cx="617.3" cy="1163" rx="3.1" ry="2.3" transform="rotate(167 617.3 1163)" fill="#ff2868"/>
<ellipse cx="695.5" cy="1158.8" rx="3.4" ry="2.4" transform="rotate(31 695.5 1158.8)" fill="#ff2868"/>
<ellipse cx="670.1" cy="1169.3" rx="3.6" ry="3.1" transform="rotate(62 670.1 1169.3)" fill="#ff2868"/>
<ellipse cx="676.5" cy="1243.1" rx="3.1" ry="2.3" transform="rotate(110 676.5 1243.1)" fill="#ff2868"/>
<ellipse cx="692.3" cy="1245.2" rx="3.1" ry="2.4" transform="rotate(130 692.3 1245.2)" fill="#ff2868"/>
<ellipse cx="587.8" cy="1112.4" rx="2.7" ry="2.3" transform="rotate(96 587.8 1112.4)" fill="#ff2868"/>
<ellipse cx="562.4" cy="1099.8" rx="3.3" ry="2.3" transform="rotate(178 562.4 1099.8)" fill="#ff2868"/>
</g>
</g>
<path d="M187 1027.8H250" stroke="#fff" stroke-width="1.4"/>
<text x="218.5" y="1022" text-anchor="middle" font-size="11.2" fill="#fff" textLength="38" lengthAdjust="spacingAndGlyphs">50 µm</text>
<text x="110.5" y="817.1" font-size="22" textLength="77.2" lengthAdjust="spacingAndGlyphs">WT PBS</text>
<text x="301.7" y="802.5" font-size="22" textLength="157.3" lengthAdjust="spacingAndGlyphs"><tspan>ACKR2</tspan><tspan dy="-8" font-size="13.5">ΔCdh5</tspan><tspan dy="8"> PBS</tspan></text>
<text x="526" y="802.5" font-size="22" textLength="148.7" lengthAdjust="spacingAndGlyphs"><tspan>ACKR2</tspan><tspan dy="-8" font-size="13.5">ΔUbc</tspan><tspan dy="8"> PBS</tspan></text>
<text x="113" y="1276.8" font-size="22" textLength="71.7" lengthAdjust="spacingAndGlyphs">WT LPS</text>
<text x="295" y="1278" font-size="22" textLength="152.8" lengthAdjust="spacingAndGlyphs"><tspan>ACKR2</tspan><tspan dy="-8" font-size="13.5">ΔCdh5</tspan><tspan dy="8"> LPS</tspan></text>
<text x="510.7" y="1280" font-size="22" textLength="146" lengthAdjust="spacingAndGlyphs"><tspan>ACKR2</tspan><tspan dy="-8" font-size="13.5">ΔUbc</tspan><tspan dy="8"> LPS</tspan></text>
</g>
<g id="panelF">
<text transform="translate(734.6 846.9) scale(0.78 1)" class="pl" font-size="23.9">F</text>
<g stroke="#111" stroke-width="1" fill="none">
<path d="M761.3 878.4V1117.7M755.3 1117.7H1055"/>
<path d="M755.3 1117.7H761.3"/>
<path d="M755.3 1058H761.3"/>
<path d="M755.3 998.3H761.3"/>
<path d="M755.3 938.6H761.3"/>
<path d="M755.3 878.9H761.3"/>
<path d="M792.2 1117.7v6.5"/>
<path d="M838.6 1117.7v6.5"/>
<path d="M884.7 1117.7v6.5"/>
<path d="M931 1117.7v6.5"/>
<path d="M977.4 1117.7v6.5"/>
<path d="M1023.9 1117.7v6.5"/>
</g>
<text x="753.8" y="1122.7" text-anchor="end" font-size="13.8">0</text>
<text x="753.8" y="1063" text-anchor="end" font-size="13.8">50</text>
<text x="753.8" y="1003.3" text-anchor="end" font-size="13.8">100</text>
<text x="753.8" y="943.6" text-anchor="end" font-size="13.8">150</text>
<text x="753.8" y="883.9" text-anchor="end" font-size="13.8">200</text>
<path d="M792.1 1074.3V1065.3M784.6 1065.3h15" stroke="#0433ff" stroke-width="1.8" fill="none"/>
<path d="M778.4 1117.7V1075.2H805.9V1117.7" fill="#fff" stroke="#0433ff" stroke-width="1.8"/>
<path d="M838.6 1038.5V1033M831.1 1033h15" stroke="#333" stroke-width="1" fill="none"/>
<rect x="824" y="1038.5" width="29.3" height="79.2" fill="#0433ff" stroke="#222" stroke-width="0.9"/>
<path d="M884.7 1048.8V1042.2M877.2 1042.2h15" stroke="#ff2600" stroke-width="1.8" fill="none"/>
<path d="M870.8 1117.7V1049.7H898.6V1117.7" fill="#fff" stroke="#ff2600" stroke-width="1.8"/>
<path d="M931 979.5V968.2M923.5 968.2h15" stroke="#333" stroke-width="1" fill="none"/>
<rect x="916.4" y="979.5" width="29.3" height="138.2" fill="#ff2600" stroke="#222" stroke-width="0.9"/>
<path d="M977.4 1056V1049.5M969.9 1049.5h15" stroke="#808080" stroke-width="1.8" fill="none"/>
<path d="M963.5 1117.7V1056.9H991.3V1117.7" fill="#fff" stroke="#808080" stroke-width="1.8"/>
<path d="M1023.9 971.6V923.4M1016.4 923.4h15" stroke="#333" stroke-width="1" fill="none"/>
<rect x="1009.1" y="971.6" width="29.6" height="146.1" fill="#797979" stroke="#222" stroke-width="0.9"/>
<path d="M755.3 1117.7H1055" stroke="#111" stroke-width="1" fill="none"/>
<path d="M885 1033V903.4H930.9V957.8" stroke="#000" stroke-width="1.4" fill="none"/>
<text x="901.6" y="903.2" class="st" font-size="21.1" stroke="#000" stroke-width="0.5">*</text>
<text transform="translate(795.2 1136.7) rotate(-45)" text-anchor="end" font-size="13.3">WT PBS</text>
<text transform="translate(841.6 1136.7) rotate(-45)" text-anchor="end" font-size="13.3">WT LPS</text>
<text transform="translate(887.7 1136.7) rotate(-45)" text-anchor="end" font-size="13.3">ACKR2<tspan dy="-4.6" font-size="9.6">ΔCDH5</tspan><tspan dy="4.6"> </tspan>PBS</text>
<text transform="translate(934 1136.7) rotate(-45)" text-anchor="end" font-size="13.3">ACKR2<tspan dy="-4.6" font-size="9.6">ΔCDH5</tspan><tspan dy="4.6"> </tspan>LPS</text>
<text transform="translate(980.4 1136.7) rotate(-45)" text-anchor="end" font-size="13.3">ACKR2<tspan dy="-4.6" font-size="9.6">ΔUbc</tspan><tspan dy="4.6"> </tspan>PBS</text>
<text transform="translate(1026.9 1136.7) rotate(-45)" text-anchor="end" font-size="13.3">ACKR2<tspan dy="-4.6" font-size="9.6">ΔUbc</tspan><tspan dy="4.6"> </tspan>LPS</text>
<text transform="translate(722.8 998) rotate(-90)" text-anchor="middle" font-size="13.1">CD3+ / field of view</text>
</g>
</svg></body></html>
